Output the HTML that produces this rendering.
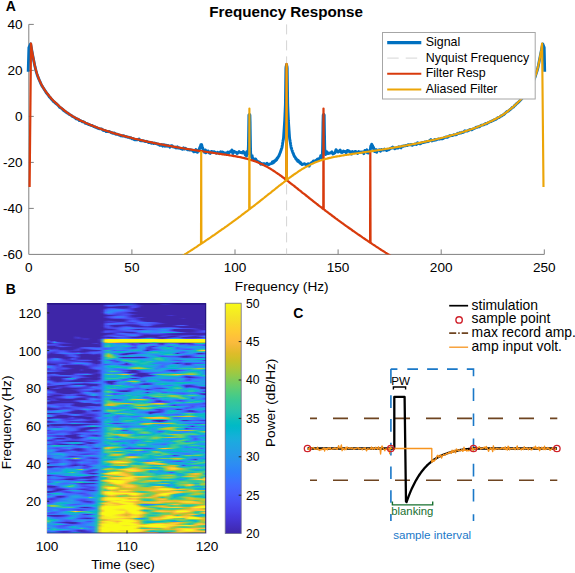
<!DOCTYPE html>
<html><head><meta charset="utf-8"><style>
html,body{margin:0;padding:0;background:#fff;}
body{width:575px;height:573px;position:relative;overflow:hidden;font-family:"Liberation Sans", sans-serif;}
</style></head><body>
<div style="position:absolute;left:47.1px;top:303.2px;width:159.2px;height:230px;overflow:hidden"><div style="height:1px;background:linear-gradient(90deg,#3e26a8 0.9%,#3e26a8 2.8%,#3e26a8 4.7%,#3e26a8 6.6%,#3e26a8 8.5%,#3e26a8 10.4%,#3e26a8 12.3%,#3e26a8 14.2%,#3e26a8 16.0%,#3e26a8 17.9%,#3e26a8 19.8%,#3e26a8 21.7%,#3e26a8 23.6%,#3e26a8 25.5%,#3e26a8 27.4%,#3e26a8 29.2%,#3e26a8 31.1%,#3e26a8 33.0%,#3e26a8 34.9%,#3e26a8 36.8%,#3e26a8 38.7%,#3e26a8 40.6%,#3e26a8 42.5%,#3f28ad 44.3%,#463ddd 46.2%,#465bf9 48.1%,#406dfe 50.0%,#3e6fff 51.9%,#4560fb 53.8%,#463edd 55.7%,#3e27aa 57.5%,#3e26a8 59.4%,#3e26a8 61.3%,#3e26a8 63.2%,#3e26a8 65.1%,#3e26a8 67.0%,#3e26a8 68.9%,#3e26a8 70.8%,#3e26a8 72.6%,#3e26a8 74.5%,#3e26a8 76.4%,#3e26a8 78.3%,#3e26a8 80.2%,#3e26a8 82.1%,#3e26a8 84.0%,#3e26a8 85.8%,#3e26a8 87.7%,#3e26a8 89.6%,#3e26a8 91.5%,#3e26a8 93.4%,#3e26a8 95.3%,#3e26a8 97.2%,#3e26a8 99.1%)"></div><div style="height:1px;background:linear-gradient(90deg,#3e26a8 0.9%,#3e26a8 2.8%,#3e26a8 4.7%,#3e26a8 6.6%,#3e26a8 8.5%,#3e26a8 10.4%,#3e26a8 12.3%,#3e26a8 14.2%,#3e26a8 16.0%,#3e26a8 17.9%,#3e26a8 19.8%,#3e26a8 21.7%,#3e26a8 23.6%,#3e26a8 25.5%,#3e26a8 27.4%,#3e26a8 29.2%,#3e26a8 31.1%,#3e26a8 33.0%,#3e26a8 34.9%,#4332c9 36.8%,#4639da 38.7%,#4538d7 40.6%,#4740e3 42.5%,#4659f8 44.3%,#3579fc 46.2%,#2c8ef1 48.1%,#2993ed 50.0%,#2c8ef1 51.9%,#347bfc 53.8%,#4755f5 55.7%,#4333cb 57.5%,#3e26a8 59.4%,#3e26a8 61.3%,#3e26a8 63.2%,#3e26a8 65.1%,#3e26a8 67.0%,#3e26a8 68.9%,#412cba 70.8%,#463bdd 72.6%,#4741e5 74.5%,#4538d8 76.4%,#422fc1 78.3%,#402ab4 80.2%,#3e27ac 82.1%,#3e26a8 84.0%,#3e26a8 85.8%,#3e26a8 87.7%,#3e26a8 89.6%,#3e26a8 91.5%,#3e26a8 93.4%,#3e26a8 95.3%,#3e26a8 97.2%,#3e26a8 99.1%)"></div><div style="height:1px;background:linear-gradient(90deg,#3e26a8 0.9%,#3e26a8 2.8%,#3e26a8 4.7%,#3e26a8 6.6%,#3e26a8 8.5%,#3e26a8 10.4%,#3e26a8 12.3%,#3e26a8 14.2%,#3e26a8 16.0%,#3e26a8 17.9%,#3e26a8 19.8%,#3e26a8 21.7%,#3e26a8 23.6%,#3e26a8 25.5%,#3e26a8 27.4%,#3e26a8 29.2%,#3e26a8 31.1%,#3e26a8 33.0%,#3e26a8 34.9%,#4748e8 36.8%,#4367fd 38.7%,#426afe 40.6%,#4563fc 42.5%,#465efb 44.3%,#475af9 46.2%,#4854f5 48.1%,#484ef1 50.0%,#484ef1 51.9%,#484df1 53.8%,#4744e8 55.7%,#4539d9 57.5%,#412ebd 59.4%,#3e26a8 61.3%,#3e26a8 63.2%,#3e26a8 65.1%,#3e26a8 67.0%,#3e26a8 68.9%,#3e26a8 70.8%,#3e26a8 72.6%,#3e26a8 74.5%,#3e26a8 76.4%,#3e26a8 78.3%,#3e26a8 80.2%,#3e26a8 82.1%,#3e26a8 84.0%,#3e26a8 85.8%,#3e26a8 87.7%,#3e26a8 89.6%,#3e26a8 91.5%,#3e26a8 93.4%,#3e26a8 95.3%,#3e26a8 97.2%,#3e26a8 99.1%)"></div><div style="height:1px;background:linear-gradient(90deg,#3e26a8 0.9%,#3e26a8 2.8%,#3e26a8 4.7%,#3e26a8 6.6%,#3e26a8 8.5%,#3e26a8 10.4%,#3e26a8 12.3%,#3e26a8 14.2%,#3e26a8 16.0%,#3e26a8 17.9%,#3e26a8 19.8%,#3e26a8 21.7%,#3e26a8 23.6%,#3e26a8 25.5%,#3e26a8 27.4%,#3e26a8 29.2%,#3e26a8 31.1%,#3e26a8 33.0%,#3e26a8 34.9%,#4332c6 36.8%,#4744e9 38.7%,#4742e6 40.6%,#4537d6 42.5%,#422ebf 44.3%,#3e27ab 46.2%,#3e26a8 48.1%,#3f29af 50.0%,#4538d5 51.9%,#484aee 53.8%,#484bef 55.7%,#463dde 57.5%,#3f2ab2 59.4%,#3e26a8 61.3%,#3e26a8 63.2%,#3e26a8 65.1%,#3e26a8 67.0%,#3e26a8 68.9%,#3e26a8 70.8%,#3e26a8 72.6%,#3e26a8 74.5%,#3e26a8 76.4%,#3e26a8 78.3%,#3e26a8 80.2%,#3e26a8 82.1%,#3e26a8 84.0%,#3e26a8 85.8%,#3e26a8 87.7%,#3e26a8 89.6%,#3e26a8 91.5%,#3e26a8 93.4%,#3e26a8 95.3%,#3e26a8 97.2%,#3e26a8 99.1%)"></div><div style="height:1px;background:linear-gradient(90deg,#3e26a8 0.9%,#3e26a8 2.8%,#3e26a8 4.7%,#3e26a8 6.6%,#3e26a8 8.5%,#3e26a8 10.4%,#3e26a8 12.3%,#3e26a8 14.2%,#3e26a8 16.0%,#3e26a8 17.9%,#3e26a8 19.8%,#3e26a8 21.7%,#3e26a8 23.6%,#3e26a8 25.5%,#3e26a8 27.4%,#3e26a8 29.2%,#3e26a8 31.1%,#3e26a8 33.0%,#3e26a8 34.9%,#3e26a8 36.8%,#3e27aa 38.7%,#3e26a8 40.6%,#3e26a8 42.5%,#3e26a8 44.3%,#3e26a8 46.2%,#3e26a8 48.1%,#3e26a8 50.0%,#4436d0 51.9%,#484ef1 53.8%,#484bef 55.7%,#4333ca 57.5%,#3e26a8 59.4%,#3e26a8 61.3%,#3e26a8 63.2%,#3e26a8 65.1%,#3e26a8 67.0%,#3e26a8 68.9%,#3e26a8 70.8%,#3e26a8 72.6%,#3e26a8 74.5%,#3e26a8 76.4%,#3e26a8 78.3%,#3e26a8 80.2%,#3e26a8 82.1%,#3e26a8 84.0%,#3e26a8 85.8%,#3e26a8 87.7%,#3e26a8 89.6%,#3e26a8 91.5%,#3e26a8 93.4%,#3e26a8 95.3%,#3e26a8 97.2%,#3e26a8 99.1%)"></div><div style="height:1px;background:linear-gradient(90deg,#3e26a8 0.9%,#3e26a8 2.8%,#3e26a8 4.7%,#3e26a8 6.6%,#3e26a8 8.5%,#3e26a8 10.4%,#3e26a8 12.3%,#3e26a8 14.2%,#3e26a8 16.0%,#3e26a8 17.9%,#3e26a8 19.8%,#3e26a8 21.7%,#3e26a8 23.6%,#3e26a8 25.5%,#3e26a8 27.4%,#3e26a8 29.2%,#3e26a8 31.1%,#3e26a8 33.0%,#3e26a8 34.9%,#422fc1 36.8%,#4749ec 38.7%,#4852f4 40.6%,#484bef 42.5%,#463ddf 44.3%,#4332ca 46.2%,#422fc1 48.1%,#4433cc 50.0%,#4639da 51.9%,#4537d6 53.8%,#3f29b1 55.7%,#3e26a8 57.5%,#3e26a8 59.4%,#3e26a8 61.3%,#3e26a8 63.2%,#3e26a8 65.1%,#3e26a8 67.0%,#3e26a8 68.9%,#3e26a8 70.8%,#3e26a8 72.6%,#3e26a8 74.5%,#3e26a8 76.4%,#3e26a8 78.3%,#3e26a8 80.2%,#3e26a8 82.1%,#3e26a8 84.0%,#3e26a8 85.8%,#3e26a8 87.7%,#3e26a8 89.6%,#3e26a8 91.5%,#3e26a8 93.4%,#3e26a8 95.3%,#3e26a8 97.2%,#3e26a8 99.1%)"></div><div style="height:1px;background:linear-gradient(90deg,#3e26a8 0.9%,#3e26a8 2.8%,#3e26a8 4.7%,#3e26a8 6.6%,#3e26a8 8.5%,#3e26a8 10.4%,#3e26a8 12.3%,#3e26a8 14.2%,#3e26a8 16.0%,#3e26a8 17.9%,#3e26a8 19.8%,#3e26a8 21.7%,#3e26a8 23.6%,#3e26a8 25.5%,#3e26a8 27.4%,#3e26a8 29.2%,#3e26a8 31.1%,#3e26a8 33.0%,#3f28ad 34.9%,#474bed 36.8%,#4466fd 38.7%,#3e6fff 40.6%,#3a74fe 42.5%,#3876fe 44.3%,#3c71fe 46.2%,#4465fd 48.1%,#4756f6 50.0%,#4746ea 51.9%,#4333cc 53.8%,#3e26a8 55.7%,#3e26a8 57.5%,#3e26a8 59.4%,#3e26a8 61.3%,#3e26a8 63.2%,#3e26a8 65.1%,#3e26a8 67.0%,#3e26a8 68.9%,#3e26a8 70.8%,#3e26a8 72.6%,#3e26a8 74.5%,#3e26a8 76.4%,#3e26a8 78.3%,#3e26a8 80.2%,#3e26a8 82.1%,#3e26a8 84.0%,#3e26a8 85.8%,#3e26a8 87.7%,#3e26a8 89.6%,#3e26a8 91.5%,#3e26a8 93.4%,#3e26a8 95.3%,#3e26a8 97.2%,#3e26a8 99.1%)"></div><div style="height:1px;background:linear-gradient(90deg,#3e26a8 0.9%,#3e26a8 2.8%,#3e26a8 4.7%,#3e26a8 6.6%,#3e26a8 8.5%,#3e26a8 10.4%,#3e26a8 12.3%,#3e26a8 14.2%,#3e26a8 16.0%,#3e26a8 17.9%,#3e26a8 19.8%,#3e26a8 21.7%,#3e26a8 23.6%,#3e26a8 25.5%,#3e26a8 27.4%,#3e26a8 29.2%,#3e26a8 31.1%,#3e26a8 33.0%,#402bb5 34.9%,#445ef9 36.8%,#347afd 38.7%,#2f81fa 40.6%,#2e86f8 42.5%,#2d89f6 44.3%,#2e86f7 46.2%,#3678fd 48.1%,#4463fc 50.0%,#484ff1 51.9%,#453ad8 53.8%,#3e28ad 55.7%,#3e26a8 57.5%,#3e26a8 59.4%,#3e26a8 61.3%,#3e26a8 63.2%,#3e26a8 65.1%,#3e26a8 67.0%,#3e26a8 68.9%,#3e26a8 70.8%,#3e26a8 72.6%,#3e26a8 74.5%,#3e26a8 76.4%,#3e26a8 78.3%,#3e26a8 80.2%,#3e26a8 82.1%,#3e26a8 84.0%,#3e26a8 85.8%,#3e26a8 87.7%,#3e26a8 89.6%,#3e26a8 91.5%,#3e26a8 93.4%,#3e26a8 95.3%,#3e26a8 97.2%,#3e26a8 99.1%)"></div><div style="height:1px;background:linear-gradient(90deg,#3e26a8 0.9%,#3e26a8 2.8%,#3e26a8 4.7%,#3e26a8 6.6%,#3e26a8 8.5%,#3e26a8 10.4%,#3e26a8 12.3%,#3e26a8 14.2%,#3e26a8 16.0%,#3e26a8 17.9%,#3e26a8 19.8%,#3e26a8 21.7%,#3e26a8 23.6%,#3e26a8 25.5%,#3e26a8 27.4%,#3e26a8 29.2%,#3e26a8 31.1%,#3e26a8 33.0%,#402bb5 34.9%,#4263fa 36.8%,#2e85f8 38.7%,#2d89f6 40.6%,#3080fa 42.5%,#3a74fe 44.3%,#4269fe 46.2%,#465ffb 48.1%,#4755f6 50.0%,#484ef1 51.9%,#4744e8 53.8%,#4333cb 55.7%,#3e27aa 57.5%,#3e26a8 59.4%,#3e26a8 61.3%,#3e26a8 63.2%,#3e26a8 65.1%,#3e26a8 67.0%,#3e26a8 68.9%,#3e26a8 70.8%,#3e26a8 72.6%,#3e26a8 74.5%,#3e26a8 76.4%,#3e26a8 78.3%,#3e26a8 80.2%,#3e26a8 82.1%,#3e26a8 84.0%,#3e26a8 85.8%,#3e26a8 87.7%,#3e26a8 89.6%,#3e26a8 91.5%,#3e26a8 93.4%,#3e26a8 95.3%,#3e26a8 97.2%,#3e26a8 99.1%)"></div><div style="height:1px;background:linear-gradient(90deg,#3e26a8 0.9%,#3e26a8 2.8%,#3e26a8 4.7%,#3e26a8 6.6%,#3e26a8 8.5%,#3e26a8 10.4%,#3e26a8 12.3%,#3e26a8 14.2%,#3e26a8 16.0%,#3e26a8 17.9%,#3e26a8 19.8%,#3e26a8 21.7%,#3e26a8 23.6%,#3e26a8 25.5%,#3e26a8 27.4%,#3e26a8 29.2%,#3e26a8 31.1%,#3e26a8 33.0%,#412fbd 34.9%,#3777fa 36.8%,#2c90f0 38.7%,#2f83f8 40.6%,#406bfe 42.5%,#475af9 44.3%,#4851f3 46.2%,#4849ed 48.1%,#463bdb 50.0%,#402cb8 51.9%,#3e26a8 53.8%,#3e26a8 55.7%,#3e26a8 57.5%,#3e26a8 59.4%,#3e26a8 61.3%,#3e26a8 63.2%,#3e26a8 65.1%,#3e26a8 67.0%,#3e26a8 68.9%,#3e26a8 70.8%,#3e26a8 72.6%,#3e26a8 74.5%,#3e26a8 76.4%,#3e26a8 78.3%,#3e26a8 80.2%,#3e26a8 82.1%,#3e26a8 84.0%,#3e26a8 85.8%,#3e26a8 87.7%,#3e26a8 89.6%,#3e26a8 91.5%,#3e26a8 93.4%,#3e26a8 95.3%,#3e26a8 97.2%,#3e26a8 99.1%)"></div><div style="height:1px;background:linear-gradient(90deg,#3e26a8 0.9%,#3e26a8 2.8%,#3e26a8 4.7%,#3e26a8 6.6%,#3e26a8 8.5%,#3e26a8 10.4%,#3e26a8 12.3%,#3e26a8 14.2%,#3e26a8 16.0%,#3e26a8 17.9%,#3e26a8 19.8%,#3e26a8 21.7%,#3e26a8 23.6%,#3e26a8 25.5%,#3e26a8 27.4%,#3e26a8 29.2%,#3e26a8 31.1%,#3e26a8 33.0%,#3f29b1 34.9%,#445bf7 36.8%,#337bfd 38.7%,#3d70fe 40.6%,#4758f7 42.5%,#4848ec 44.3%,#4746ea 46.2%,#4747eb 48.1%,#4742e6 50.0%,#4536d3 51.9%,#3f29b1 53.8%,#3e26a8 55.7%,#3e26a8 57.5%,#3e26a8 59.4%,#3e26a8 61.3%,#3e26a8 63.2%,#3e26a8 65.1%,#3e26a8 67.0%,#3e26a8 68.9%,#3e26a8 70.8%,#3e26a8 72.6%,#3e26a8 74.5%,#3e26a8 76.4%,#3e26a8 78.3%,#3e26a8 80.2%,#3e26a8 82.1%,#3e26a8 84.0%,#3e26a8 85.8%,#3e26a8 87.7%,#3e26a8 89.6%,#3e26a8 91.5%,#3e26a8 93.4%,#3e26a8 95.3%,#3e26a8 97.2%,#3e26a8 99.1%)"></div><div style="height:1px;background:linear-gradient(90deg,#3e26a8 0.9%,#3e26a8 2.8%,#3e26a8 4.7%,#3e26a8 6.6%,#3e26a8 8.5%,#3e26a8 10.4%,#3e26a8 12.3%,#3e26a8 14.2%,#3e26a8 16.0%,#3e26a8 17.9%,#3e26a8 19.8%,#3e26a8 21.7%,#3e26a8 23.6%,#3e26a8 25.5%,#3e26a8 27.4%,#3e26a8 29.2%,#3e26a8 31.1%,#3e26a8 33.0%,#3e26a8 34.9%,#4435cd 36.8%,#4851f3 38.7%,#4851f3 40.6%,#4745e9 42.5%,#473fe2 44.3%,#4744e8 46.2%,#484df0 48.1%,#4850f2 50.0%,#4849ed 51.9%,#463cde 53.8%,#422ebf 55.7%,#3e27ac 57.5%,#3e26a8 59.4%,#3e26a8 61.3%,#3e26a8 63.2%,#3e26a8 65.1%,#3e26a8 67.0%,#3e26a8 68.9%,#3e26a8 70.8%,#3e26a8 72.6%,#3e26a8 74.5%,#3e26a8 76.4%,#3e26a8 78.3%,#3e26a8 80.2%,#3e26a8 82.1%,#3e26a8 84.0%,#3e26a8 85.8%,#3e26a8 87.7%,#3e26a8 89.6%,#3e26a8 91.5%,#3e26a8 93.4%,#3e26a8 95.3%,#3e26a8 97.2%,#3e26a8 99.1%)"></div><div style="height:1px;background:linear-gradient(90deg,#3e26a8 0.9%,#3e26a8 2.8%,#3e26a8 4.7%,#3e26a8 6.6%,#3e26a8 8.5%,#3e26a8 10.4%,#3e26a8 12.3%,#3e26a8 14.2%,#3e26a8 16.0%,#3e26a8 17.9%,#3e26a8 19.8%,#3e26a8 21.7%,#3e26a8 23.6%,#3e26a8 25.5%,#3e26a8 27.4%,#3e26a8 29.2%,#3e26a8 31.1%,#3e26a8 33.0%,#3e26a8 34.9%,#3e26a8 36.8%,#3e27a9 38.7%,#402bb6 40.6%,#4434cf 42.5%,#4741e5 44.3%,#484cf0 46.2%,#484ff2 48.1%,#4747eb 50.0%,#4539d8 51.9%,#3f2ab2 53.8%,#3e26a8 55.7%,#3e26a8 57.5%,#3e26a8 59.4%,#3e26a8 61.3%,#3e26a8 63.2%,#3e26a8 65.1%,#3e26a8 67.0%,#3e26a8 68.9%,#3e26a8 70.8%,#3e26a8 72.6%,#3e27aa 74.5%,#422fc2 76.4%,#4433cd 78.3%,#402ab4 80.2%,#3e26a8 82.1%,#3e26a8 84.0%,#3e26a8 85.8%,#3e26a8 87.7%,#3e26a8 89.6%,#3e26a8 91.5%,#3e26a8 93.4%,#3e26a8 95.3%,#3e26a8 97.2%,#3e26a8 99.1%)"></div><div style="height:1px;background:linear-gradient(90deg,#3e26a8 0.9%,#3e26a8 2.8%,#3e26a8 4.7%,#3e26a8 6.6%,#3e26a8 8.5%,#3e26a8 10.4%,#3e26a8 12.3%,#3e26a8 14.2%,#3e26a8 16.0%,#3e26a8 17.9%,#3e26a8 19.8%,#3e26a8 21.7%,#3e26a8 23.6%,#3e26a8 25.5%,#3e26a8 27.4%,#3e26a8 29.2%,#3e26a8 31.1%,#3e26a8 33.0%,#3e26a8 34.9%,#4230c4 36.8%,#4740e3 38.7%,#484df0 40.6%,#465ffb 42.5%,#3e6ffe 44.3%,#3974fe 46.2%,#4269fe 48.1%,#4752f3 50.0%,#453ada 51.9%,#402bb8 53.8%,#3e26a8 55.7%,#3e26a8 57.5%,#3e26a8 59.4%,#3e26a8 61.3%,#3e26a8 63.2%,#3e26a8 65.1%,#3e26a8 67.0%,#3e26a8 68.9%,#3e26a8 70.8%,#3e26a8 72.6%,#3e26a8 74.5%,#3e26a8 76.4%,#3e26a8 78.3%,#3e26a8 80.2%,#3e26a8 82.1%,#3e26a8 84.0%,#3e26a8 85.8%,#3e26a8 87.7%,#3e26a8 89.6%,#3e26a8 91.5%,#3e26a8 93.4%,#3e26a8 95.3%,#3e26a8 97.2%,#3e26a8 99.1%)"></div><div style="height:1px;background:linear-gradient(90deg,#3e26a8 0.9%,#3e26a8 2.8%,#3e26a8 4.7%,#3e26a8 6.6%,#3e26a8 8.5%,#3e26a8 10.4%,#3e26a8 12.3%,#3e26a8 14.2%,#3e26a8 16.0%,#3e26a8 17.9%,#3e26a8 19.8%,#3e26a8 21.7%,#3e26a8 23.6%,#3e26a8 25.5%,#3e26a8 27.4%,#3e26a8 29.2%,#3e26a8 31.1%,#3e26a8 33.0%,#3e26a8 34.9%,#4333ca 36.8%,#4747ea 38.7%,#4758f7 40.6%,#4268fe 42.5%,#3a74fe 44.3%,#3875fe 46.2%,#416bfe 48.1%,#4757f7 50.0%,#4743e7 51.9%,#4537d6 53.8%,#4433cc 55.7%,#4537d6 57.5%,#4538d7 59.4%,#402bb5 61.3%,#3e26a8 63.2%,#3e26a8 65.1%,#3e26a8 67.0%,#3e26a8 68.9%,#3e26a8 70.8%,#3e26a8 72.6%,#3e26a8 74.5%,#3e26a8 76.4%,#3e26a8 78.3%,#3e26a8 80.2%,#3e26a8 82.1%,#3e26a8 84.0%,#3e26a8 85.8%,#3e26a8 87.7%,#3e26a8 89.6%,#3e26a8 91.5%,#3e26a8 93.4%,#3e26a8 95.3%,#3e26a8 97.2%,#3e26a8 99.1%)"></div><div style="height:1px;background:linear-gradient(90deg,#3e26a8 0.9%,#3e26a8 2.8%,#3e26a8 4.7%,#3e26a8 6.6%,#3e26a8 8.5%,#3e26a8 10.4%,#3e26a8 12.3%,#3e26a8 14.2%,#3e26a8 16.0%,#3e26a8 17.9%,#3e26a8 19.8%,#3e26a8 21.7%,#3e26a8 23.6%,#3e26a8 25.5%,#3e26a8 27.4%,#3e26a8 29.2%,#3e26a8 31.1%,#3e26a8 33.0%,#3e26a8 34.9%,#3e27ab 36.8%,#422fc1 38.7%,#463bdc 40.6%,#4747eb 42.5%,#484aee 44.3%,#484bef 46.2%,#484ef1 48.1%,#4851f4 50.0%,#4851f4 51.9%,#484bef 53.8%,#463ddf 55.7%,#4230c3 57.5%,#3e26a8 59.4%,#3e26a8 61.3%,#3e26a8 63.2%,#3e26a8 65.1%,#3e26a8 67.0%,#3e26a8 68.9%,#3e26a8 70.8%,#3e26a8 72.6%,#3e26a8 74.5%,#3e26a8 76.4%,#3e26a8 78.3%,#3e26a8 80.2%,#3e26a8 82.1%,#3f28ae 84.0%,#422ebf 85.8%,#3e27a9 87.7%,#3e26a8 89.6%,#3e26a8 91.5%,#3e26a8 93.4%,#3e26a8 95.3%,#3e26a8 97.2%,#3e26a8 99.1%)"></div><div style="height:1px;background:linear-gradient(90deg,#3e26a8 0.9%,#3e26a8 2.8%,#3e26a8 4.7%,#3e26a8 6.6%,#3e26a8 8.5%,#3e26a8 10.4%,#3e26a8 12.3%,#3e26a8 14.2%,#3e26a8 16.0%,#3e26a8 17.9%,#3e26a8 19.8%,#3e26a8 21.7%,#3e26a8 23.6%,#3e26a8 25.5%,#3e26a8 27.4%,#3e26a8 29.2%,#3e26a8 31.1%,#3e26a8 33.0%,#3e26a8 34.9%,#3e26a8 36.8%,#3e26a8 38.7%,#3e26a8 40.6%,#3e26a8 42.5%,#3e26a8 44.3%,#3e26a8 46.2%,#402bb7 48.1%,#4435d0 50.0%,#4741e5 51.9%,#4849ed 53.8%,#4741e5 55.7%,#4433cc 57.5%,#3e27ab 59.4%,#3e26a8 61.3%,#3e26a8 63.2%,#3e26a8 65.1%,#3e26a8 67.0%,#3e26a8 68.9%,#3e26a8 70.8%,#3e26a8 72.6%,#3e26a8 74.5%,#3e26a8 76.4%,#3e26a8 78.3%,#3e26a8 80.2%,#3e26a8 82.1%,#3e26a8 84.0%,#3e26a8 85.8%,#3e26a8 87.7%,#3e26a8 89.6%,#3e26a8 91.5%,#3e26a8 93.4%,#3e26a8 95.3%,#3e26a8 97.2%,#3e26a8 99.1%)"></div><div style="height:1px;background:linear-gradient(90deg,#3e26a8 0.9%,#3e26a8 2.8%,#3e26a8 4.7%,#3e26a8 6.6%,#3e26a8 8.5%,#3e26a8 10.4%,#3e26a8 12.3%,#3e26a8 14.2%,#3e26a8 16.0%,#3e26a8 17.9%,#3e26a8 19.8%,#3e26a8 21.7%,#3e26a8 23.6%,#3e26a8 25.5%,#3e26a8 27.4%,#3e26a8 29.2%,#3e26a8 31.1%,#3e26a8 33.0%,#3e26a8 34.9%,#3e28ac 36.8%,#412cb9 38.7%,#3f29b1 40.6%,#3e26a8 42.5%,#3e26a8 44.3%,#3e26a8 46.2%,#3e27aa 48.1%,#4434cd 50.0%,#474cef 51.9%,#475af9 53.8%,#4852f4 55.7%,#4741e4 57.5%,#412ebf 59.4%,#3e26a8 61.3%,#3e26a8 63.2%,#3e26a8 65.1%,#3e26a8 67.0%,#3e26a8 68.9%,#3e26a8 70.8%,#3e26a8 72.6%,#3e26a8 74.5%,#3e26a8 76.4%,#3e26a8 78.3%,#3e26a8 80.2%,#3e26a8 82.1%,#3e26a8 84.0%,#3e26a8 85.8%,#3e26a8 87.7%,#3e26a8 89.6%,#3e26a8 91.5%,#3e26a8 93.4%,#3e26a8 95.3%,#3e26a8 97.2%,#3e26a8 99.1%)"></div><div style="height:1px;background:linear-gradient(90deg,#3e26a8 0.9%,#3e26a8 2.8%,#3e26a8 4.7%,#3e26a8 6.6%,#3e26a8 8.5%,#3e26a8 10.4%,#3e26a8 12.3%,#3e26a8 14.2%,#3e26a8 16.0%,#3e26a8 17.9%,#3e26a8 19.8%,#3e26a8 21.7%,#3e26a8 23.6%,#3e26a8 25.5%,#3e26a8 27.4%,#3e26a8 29.2%,#3e26a8 31.1%,#3e26a8 33.0%,#3e26a8 34.9%,#4230c4 36.8%,#463ada 38.7%,#463adb 40.6%,#4434cf 42.5%,#412dbb 44.3%,#3f29b0 46.2%,#412ebe 48.1%,#463dde 50.0%,#4753f4 51.9%,#4661fc 53.8%,#465dfa 55.7%,#4754f5 57.5%,#4746ea 59.4%,#4332c9 61.3%,#3e27aa 63.2%,#3e26a8 65.1%,#3e26a8 67.0%,#3e26a8 68.9%,#3e26a8 70.8%,#3e26a8 72.6%,#3e26a8 74.5%,#3e26a8 76.4%,#3e26a8 78.3%,#3e26a8 80.2%,#3e26a8 82.1%,#3e26a8 84.0%,#3e26a8 85.8%,#3e26a8 87.7%,#3e26a8 89.6%,#3e26a8 91.5%,#3e26a8 93.4%,#3e26a8 95.3%,#3e26a8 97.2%,#3e26a8 99.1%)"></div><div style="height:1px;background:linear-gradient(90deg,#3e26a8 0.9%,#3e26a8 2.8%,#3e26a8 4.7%,#3e26a8 6.6%,#3e26a8 8.5%,#3e26a8 10.4%,#3e26a8 12.3%,#3e26a8 14.2%,#3e26a8 16.0%,#3e26a8 17.9%,#3e26a8 19.8%,#3e26a8 21.7%,#3e26a8 23.6%,#3e26a8 25.5%,#3e26a8 27.4%,#3e26a8 29.2%,#3e26a8 31.1%,#3e26a8 33.0%,#3e26a8 34.9%,#422fc3 36.8%,#4332ca 38.7%,#4435d0 40.6%,#463fe1 42.5%,#484df0 44.3%,#4756f6 46.2%,#4852f4 48.1%,#4744e8 50.0%,#4639da 51.9%,#463cde 53.8%,#474cef 55.7%,#4366fd 57.5%,#3876fe 59.4%,#3b72fe 61.3%,#4269fe 63.2%,#4561fc 65.1%,#4753f5 67.0%,#4740e2 68.9%,#412dbc 70.8%,#3e26a8 72.6%,#3e26a8 74.5%,#3e26a8 76.4%,#3e26a8 78.3%,#3e26a8 80.2%,#3e26a8 82.1%,#3e26a8 84.0%,#3e26a8 85.8%,#3e26a8 87.7%,#3e26a8 89.6%,#3e26a8 91.5%,#3e26a8 93.4%,#3e26a8 95.3%,#3e26a8 97.2%,#3e26a8 99.1%)"></div><div style="height:1px;background:linear-gradient(90deg,#3e26a8 0.9%,#3e26a8 2.8%,#3e26a8 4.7%,#3e26a8 6.6%,#3e26a8 8.5%,#3e26a8 10.4%,#3e26a8 12.3%,#3e26a8 14.2%,#3e26a8 16.0%,#3e26a8 17.9%,#3e26a8 19.8%,#3e26a8 21.7%,#3e26a8 23.6%,#3e26a8 25.5%,#3e26a8 27.4%,#3e26a8 29.2%,#3e26a8 31.1%,#3e26a8 33.0%,#3e27ab 34.9%,#4746e8 36.8%,#4562fc 38.7%,#406cfe 40.6%,#3d71ff 42.5%,#3c71ff 44.3%,#406cfe 46.2%,#4660fb 48.1%,#4851f3 50.0%,#4848ec 51.9%,#484aed 53.8%,#4851f3 55.7%,#465dfa 57.5%,#4368fd 59.4%,#4367fd 61.3%,#4561fc 63.2%,#4759f8 65.1%,#4851f3 67.0%,#4849ed 68.9%,#4741e4 70.8%,#4436d2 72.6%,#3f29b1 74.5%,#3e26a8 76.4%,#3e26a8 78.3%,#3e26a8 80.2%,#3e26a8 82.1%,#3e26a8 84.0%,#3e26a8 85.8%,#3e26a8 87.7%,#3e26a8 89.6%,#3e26a8 91.5%,#3e26a8 93.4%,#3e27aa 95.3%,#3e26a8 97.2%,#3e26a8 99.1%)"></div><div style="height:1px;background:linear-gradient(90deg,#3e26a8 0.9%,#3e26a8 2.8%,#3e26a8 4.7%,#3e26a8 6.6%,#3e26a8 8.5%,#3e26a8 10.4%,#3e26a8 12.3%,#3e26a8 14.2%,#3e26a8 16.0%,#3e26a8 17.9%,#3e26a8 19.8%,#3e26a8 21.7%,#3e26a8 23.6%,#3e26a8 25.5%,#3e26a8 27.4%,#3e26a8 29.2%,#3e26a8 31.1%,#3e26a8 33.0%,#3f28ae 34.9%,#474ff0 36.8%,#4368fe 38.7%,#4465fd 40.6%,#475af9 42.5%,#4851f3 44.3%,#4849ed 46.2%,#4740e3 48.1%,#4435d0 50.0%,#422fc2 51.9%,#4330c4 53.8%,#4536d4 55.7%,#4746ea 57.5%,#4757f7 59.4%,#4660fb 61.3%,#465efb 63.2%,#4853f4 65.1%,#4741e5 67.0%,#4434ce 68.9%,#412cba 70.8%,#3e27aa 72.6%,#3e26a8 74.5%,#3e26a8 76.4%,#3e26a8 78.3%,#3e26a8 80.2%,#3e26a8 82.1%,#3e26a8 84.0%,#3e26a8 85.8%,#3e26a8 87.7%,#3e26a8 89.6%,#3e26a8 91.5%,#3e26a8 93.4%,#3f29af 95.3%,#402ab5 97.2%,#3e26a9 99.1%)"></div><div style="height:1px;background:linear-gradient(90deg,#3e26a8 0.9%,#3e26a8 2.8%,#3e26a8 4.7%,#3e26a8 6.6%,#3e26a8 8.5%,#3e26a8 10.4%,#3e26a8 12.3%,#3e26a8 14.2%,#3e26a8 16.0%,#3e26a8 17.9%,#3e26a8 19.8%,#3e26a8 21.7%,#3e26a8 23.6%,#3e26a8 25.5%,#3e26a8 27.4%,#3e26a8 29.2%,#3e26a8 31.1%,#3e26a8 33.0%,#3f29af 34.9%,#4746e9 36.8%,#4743e6 38.7%,#402ab3 40.6%,#3e26a8 42.5%,#3e26a8 44.3%,#3e26a8 46.2%,#3e26a8 48.1%,#3e26a8 50.0%,#3e26a8 51.9%,#3e26a8 53.8%,#3e26a8 55.7%,#402bb7 57.5%,#4747ea 59.4%,#465efb 61.3%,#4563fc 63.2%,#4752f3 65.1%,#4230c3 67.0%,#3e26a8 68.9%,#3e26a8 70.8%,#3e26a8 72.6%,#3e26a8 74.5%,#3e26a8 76.4%,#3e26a8 78.3%,#422fc0 80.2%,#474def 82.1%,#4660fb 84.0%,#475af9 85.8%,#463ddb 87.7%,#3e27a9 89.6%,#3e26a8 91.5%,#3e26a8 93.4%,#3e26a8 95.3%,#3e26a8 97.2%,#3e26a8 99.1%)"></div><div style="height:1px;background:linear-gradient(90deg,#3e26a8 0.9%,#3e26a8 2.8%,#3e26a8 4.7%,#3e26a8 6.6%,#3e26a8 8.5%,#3e26a8 10.4%,#3e26a8 12.3%,#3e26a8 14.2%,#3e26a8 16.0%,#3e26a8 17.9%,#3e26a8 19.8%,#3e26a8 21.7%,#3e26a8 23.6%,#3e26a8 25.5%,#3e26a8 27.4%,#3e26a8 29.2%,#3e26a8 31.1%,#3e26a8 33.0%,#3f29b1 34.9%,#474df0 36.8%,#4850f2 38.7%,#4437d3 40.6%,#3e28ac 42.5%,#3e27ab 44.3%,#4332c8 46.2%,#4741e5 48.1%,#4848ec 50.0%,#463ddf 51.9%,#402bb6 53.8%,#3e26a8 55.7%,#3e26a8 57.5%,#3e27ab 59.4%,#4230c4 61.3%,#4433cb 63.2%,#402ab5 65.1%,#3e26a8 67.0%,#3e26a8 68.9%,#3e26a8 70.8%,#3e26a8 72.6%,#3e26a8 74.5%,#3e26a8 76.4%,#3e26a8 78.3%,#3e26a8 80.2%,#3e26a8 82.1%,#3e26a8 84.0%,#3e26a8 85.8%,#3e26a8 87.7%,#3e26a8 89.6%,#3e26a8 91.5%,#3e26a8 93.4%,#3e26a8 95.3%,#3e26a8 97.2%,#3e26a8 99.1%)"></div><div style="height:1px;background:linear-gradient(90deg,#3e26a8 0.9%,#3e26a8 2.8%,#3e26a8 4.7%,#3e26a8 6.6%,#3e26a8 8.5%,#3e26a8 10.4%,#3e26a8 12.3%,#3e26a8 14.2%,#3e26a8 16.0%,#3e26a8 17.9%,#3e26a8 19.8%,#3e26a8 21.7%,#3e26a8 23.6%,#3e26a8 25.5%,#3e26a8 27.4%,#3e26a8 29.2%,#3e26a8 31.1%,#3e26a8 33.0%,#3e26a8 34.9%,#4640e1 36.8%,#484ff2 38.7%,#4747eb 40.6%,#473fe3 42.5%,#4742e5 44.3%,#484ff2 46.2%,#4561fc 48.1%,#3f6efe 50.0%,#406dfe 51.9%,#465efa 53.8%,#484bef 55.7%,#4742e6 57.5%,#4742e6 59.4%,#4742e6 61.3%,#4741e4 63.2%,#463de0 65.1%,#4538d8 67.0%,#4537d5 68.9%,#463adb 70.8%,#4742e5 72.6%,#4849ed 74.5%,#484ff2 76.4%,#484ff2 78.3%,#4747eb 80.2%,#4538d6 82.1%,#402ab3 84.0%,#3e26a8 85.8%,#3e26a8 87.7%,#3e26a8 89.6%,#3e26a8 91.5%,#3e26a8 93.4%,#3e26a8 95.3%,#3e26a8 97.2%,#3e27a9 99.1%)"></div><div style="height:1px;background:linear-gradient(90deg,#3e26a8 0.9%,#3e26a8 2.8%,#3e26a8 4.7%,#3e26a8 6.6%,#3e26a8 8.5%,#3e26a8 10.4%,#3e26a8 12.3%,#3e26a8 14.2%,#3e26a8 16.0%,#3e26a8 17.9%,#3e26a8 19.8%,#3e26a8 21.7%,#3e26a8 23.6%,#3e26a8 25.5%,#3e26a8 27.4%,#3e26a8 29.2%,#3e26a8 31.1%,#3e26a8 33.0%,#3e26a8 34.9%,#422fc0 36.8%,#473fe2 38.7%,#4746eb 40.6%,#484df0 42.5%,#4755f6 44.3%,#4561fc 46.2%,#3f6efe 48.1%,#3678fd 50.0%,#337bfc 51.9%,#3678fe 53.8%,#3d70ff 55.7%,#4269fe 57.5%,#4562fc 59.4%,#475dfa 61.3%,#465dfa 63.2%,#4661fc 65.1%,#4464fd 67.0%,#4368fe 68.9%,#406dfe 70.8%,#3c72ff 72.6%,#3876fe 74.5%,#347afd 76.4%,#327dfc 78.3%,#3678fd 80.2%,#426afe 82.1%,#4759f8 84.0%,#484df0 85.8%,#4848ec 87.7%,#4745e9 89.6%,#463de0 91.5%,#4332c8 93.4%,#3f28af 95.3%,#3e26a8 97.2%,#3f29b0 99.1%)"></div><div style="height:1px;background:linear-gradient(90deg,#3e26a8 0.9%,#3e26a8 2.8%,#3e26a8 4.7%,#3e26a8 6.6%,#3e26a8 8.5%,#3e26a8 10.4%,#3e26a8 12.3%,#3e26a8 14.2%,#3e26a8 16.0%,#3e26a8 17.9%,#3e26a8 19.8%,#3e26a8 21.7%,#3e26a8 23.6%,#3e26a8 25.5%,#3e26a8 27.4%,#3e26a8 29.2%,#3e26a8 31.1%,#3e26a8 33.0%,#3e26a8 34.9%,#3e26a8 36.8%,#3e26a8 38.7%,#3e26a8 40.6%,#4230c5 42.5%,#4749ec 44.3%,#4561fb 46.2%,#426afe 48.1%,#4465fd 50.0%,#4757f7 51.9%,#4743e6 53.8%,#422fc2 55.7%,#3e27a9 57.5%,#402bb6 59.4%,#463dde 61.3%,#4852f4 63.2%,#475bfa 65.1%,#475cfa 67.0%,#4464fd 68.9%,#337cfb 70.8%,#2a92ee 72.6%,#2895ec 74.5%,#357bfb 76.4%,#4749ea 78.3%,#3f28ae 80.2%,#3e26a8 82.1%,#3e26a8 84.0%,#3e26a8 85.8%,#3e26a8 87.7%,#3e26a8 89.6%,#412cb9 91.5%,#4433cc 93.4%,#4331c5 95.3%,#3f29af 97.2%,#3e26a8 99.1%)"></div><div style="height:1px;background:linear-gradient(90deg,#3e26a8 0.9%,#3e26a8 2.8%,#3e26a8 4.7%,#3e26a8 6.6%,#3e26a8 8.5%,#3e26a8 10.4%,#3e26a8 12.3%,#3e26a8 14.2%,#3e26a8 16.0%,#3e26a8 17.9%,#3e26a8 19.8%,#3e26a8 21.7%,#3e26a8 23.6%,#3e26a8 25.5%,#3e26a8 27.4%,#3e26a8 29.2%,#3e26a8 31.1%,#3e26a8 33.0%,#3f28ae 34.9%,#463bdc 36.8%,#4741e4 38.7%,#473fe2 40.6%,#473fe3 42.5%,#4744e8 44.3%,#484df0 46.2%,#4757f7 48.1%,#4660fc 50.0%,#4466fd 51.9%,#4465fd 53.8%,#4561fc 55.7%,#4464fd 57.5%,#3b72fe 59.4%,#2f83f9 61.3%,#2d89f5 63.2%,#2e83f9 65.1%,#3578fd 67.0%,#3974fe 68.9%,#337bfc 70.8%,#2e83f9 72.6%,#307ffb 74.5%,#4365fc 76.4%,#453ddb 78.3%,#3e26a8 80.2%,#3e26a8 82.1%,#3e26a8 84.0%,#3e26a8 85.8%,#3e26a8 87.7%,#3e26a8 89.6%,#3e27ab 91.5%,#412ebe 93.4%,#4434cf 95.3%,#463ddf 97.2%,#4849ed 99.1%)"></div><div style="height:1px;background:linear-gradient(90deg,#3e26a8 0.9%,#3e26a8 2.8%,#3e26a8 4.7%,#3e26a8 6.6%,#3e26a8 8.5%,#3e26a8 10.4%,#3e26a8 12.3%,#3e26a8 14.2%,#3e26a8 16.0%,#3e26a8 17.9%,#3e26a8 19.8%,#3e26a8 21.7%,#3e26a8 23.6%,#3e26a8 25.5%,#3e26a8 27.4%,#3e26a8 29.2%,#3e26a8 31.1%,#3e26a8 33.0%,#412fbf 34.9%,#4850f2 36.8%,#4854f5 38.7%,#484ff2 40.6%,#4747eb 42.5%,#4740e3 44.3%,#463cdf 46.2%,#473fe2 48.1%,#4746ea 50.0%,#484ef1 51.9%,#4757f7 53.8%,#4366fd 55.7%,#327efb 57.5%,#2895ec 59.4%,#23a1e4 61.3%,#249ee6 63.2%,#2a92ee 65.1%,#2e85f8 67.0%,#2f81fa 68.9%,#2e86f7 70.8%,#2c8ef1 72.6%,#2c8ef2 74.5%,#3081fa 76.4%,#4169fd 78.3%,#474ef0 80.2%,#4434ce 82.1%,#3e27ab 84.0%,#3e26a8 85.8%,#3e26a8 87.7%,#3e26a8 89.6%,#3f29b0 91.5%,#422fc2 93.4%,#4539d9 95.3%,#474aed 97.2%,#465cfa 99.1%)"></div><div style="height:1px;background:linear-gradient(90deg,#3e26a8 0.9%,#3e26a8 2.8%,#3e26a8 4.7%,#3e26a8 6.6%,#3e26a8 8.5%,#3e26a8 10.4%,#3e26a8 12.3%,#3e26a8 14.2%,#3e26a8 16.0%,#3e26a8 17.9%,#3e26a8 19.8%,#3e26a8 21.7%,#3e26a8 23.6%,#3e26a8 25.5%,#3e26a8 27.4%,#3e26a8 29.2%,#3e26a8 31.1%,#3e26a8 33.0%,#4233c6 34.9%,#484ef1 36.8%,#4849ed 38.7%,#4741e5 40.6%,#473fe2 42.5%,#463ee1 44.3%,#4539d8 46.2%,#4230c3 48.1%,#3e27ab 50.0%,#3e26a8 51.9%,#3e27aa 53.8%,#4436d1 55.7%,#465bf8 57.5%,#3280fa 59.4%,#2b91ef 61.3%,#2b90f0 63.2%,#2e85f8 65.1%,#327cfc 67.0%,#2f82f9 68.9%,#2895ec 70.8%,#1ea7e0 72.6%,#14b0d8 74.5%,#11b1d6 76.4%,#16afd9 78.3%,#1ea7e1 80.2%,#2993ee 82.1%,#3d6efd 84.0%,#4748eb 85.8%,#4332c9 87.7%,#412cba 89.6%,#422fc2 91.5%,#4434cf 93.4%,#463bdc 95.3%,#4741e5 97.2%,#4745e9 99.1%)"></div><div style="height:1px;background:linear-gradient(90deg,#3e26a8 0.9%,#3e26a8 2.8%,#3e26a8 4.7%,#3e26a8 6.6%,#3e26a8 8.5%,#3e26a8 10.4%,#3e26a8 12.3%,#3e26a8 14.2%,#3e26a8 16.0%,#3e26a8 17.9%,#3e26a8 19.8%,#3e26a8 21.7%,#3e26a8 23.6%,#3e26a8 25.5%,#3e26a8 27.4%,#3e26a8 29.2%,#3e26a8 31.1%,#3e26a8 33.0%,#3e26a8 34.9%,#3e26a8 36.8%,#3e26a8 38.7%,#3e27ac 40.6%,#4537d3 42.5%,#4755f5 44.3%,#406cfe 46.2%,#406dfe 48.1%,#465dfa 50.0%,#484cf0 51.9%,#4744e8 53.8%,#4744e8 55.7%,#4748ec 57.5%,#484cf0 59.4%,#4851f3 61.3%,#4757f7 63.2%,#465efb 65.1%,#4562fc 67.0%,#4561fc 68.9%,#475bf9 70.8%,#4851f3 72.6%,#4743e7 74.5%,#4538d8 76.4%,#4332c9 78.3%,#412dbd 80.2%,#3f28af 82.1%,#3e26a8 84.0%,#3e26a8 85.8%,#3e26a8 87.7%,#3e26a8 89.6%,#3e26a8 91.5%,#3e26a8 93.4%,#3e26a8 95.3%,#3e26a8 97.2%,#3e26a8 99.1%)"></div><div style="height:1px;background:linear-gradient(90deg,#3e26a8 0.9%,#3e26a8 2.8%,#3e26a8 4.7%,#3e26a8 6.6%,#3e26a8 8.5%,#3e26a8 10.4%,#3e26a8 12.3%,#3e26a8 14.2%,#3e26a8 16.0%,#3e26a8 17.9%,#3e26a8 19.8%,#3e26a8 21.7%,#3e26a8 23.6%,#3e26a8 25.5%,#3e26a8 27.4%,#3e26a8 29.2%,#3e26a8 31.1%,#3e26a8 33.0%,#3e26a8 34.9%,#3e27ab 36.8%,#422fc1 38.7%,#4535d2 40.6%,#463ee0 42.5%,#484aee 44.3%,#4757f7 46.2%,#4561fc 48.1%,#4269fe 50.0%,#3c71ff 51.9%,#3974fe 53.8%,#406cfe 55.7%,#4758f8 57.5%,#4743e7 59.4%,#4536d4 61.3%,#4434d0 63.2%,#4538d7 65.1%,#463adc 67.0%,#4639d9 68.9%,#4536d3 70.8%,#4433cd 72.6%,#4330c5 74.5%,#412dbc 76.4%,#3f29b0 78.3%,#3e26a8 80.2%,#3e26a8 82.1%,#3e26a8 84.0%,#3e26a8 85.8%,#3e27a9 87.7%,#3e27a9 89.6%,#3e26a8 91.5%,#3e26a8 93.4%,#3e26a8 95.3%,#3e26a8 97.2%,#3e27ab 99.1%)"></div><div style="height:1px;background:linear-gradient(90deg,#3e26a8 0.9%,#3e26a8 2.8%,#3e26a8 4.7%,#3e26a8 6.6%,#3e26a8 8.5%,#3e26a8 10.4%,#3e26a8 12.3%,#3e26a8 14.2%,#3e26a8 16.0%,#3e26a8 17.9%,#3e26a8 19.8%,#3e26a8 21.7%,#3e26a8 23.6%,#3e26a8 25.5%,#3e26a8 27.4%,#3e26a8 29.2%,#3e26a8 31.1%,#3e26a8 33.0%,#3f29af 34.9%,#463cdc 36.8%,#484ef1 38.7%,#4853f5 40.6%,#484ff2 42.5%,#4744e9 44.3%,#4740e4 46.2%,#4748ec 48.1%,#465efa 50.0%,#3678fd 51.9%,#2e88f6 53.8%,#3180fa 55.7%,#4461fb 57.5%,#463cdb 59.4%,#3f28ad 61.3%,#3e26a8 63.2%,#3e26a8 65.1%,#3e26a8 67.0%,#3e26a8 68.9%,#402ab3 70.8%,#4434ce 72.6%,#463bdd 74.5%,#463bde 76.4%,#4537d5 78.3%,#4433cc 80.2%,#4433cd 82.1%,#4537d6 84.0%,#463ee0 85.8%,#4744e8 87.7%,#4848ec 89.6%,#4745e9 91.5%,#463cdd 93.4%,#4435d1 95.3%,#4537d6 97.2%,#4744e7 99.1%)"></div><div style="height:1px;background:linear-gradient(90deg,#3e26a8 0.9%,#3e26a8 2.8%,#3e26a8 4.7%,#3e26a8 6.6%,#3e26a8 8.5%,#3e26a8 10.4%,#3e26a8 12.3%,#3e26a8 14.2%,#3e26a8 16.0%,#402bb8 17.9%,#3f28ae 19.8%,#3e26a8 21.7%,#3e26a8 23.6%,#3e26a8 25.5%,#3e26a8 27.4%,#3e26a8 29.2%,#3e26a8 31.1%,#3e26a8 33.0%,#4230c2 34.9%,#473fe3 36.8%,#4742e6 38.7%,#484ef1 40.6%,#4465fd 42.5%,#3f6fff 44.3%,#4269fe 46.2%,#475af9 48.1%,#484ff1 50.0%,#484bef 51.9%,#484df0 53.8%,#4849ed 55.7%,#4434cd 57.5%,#3e26a8 59.4%,#3e26a8 61.3%,#3e26a8 63.2%,#3e26a8 65.1%,#3e26a8 67.0%,#3e27ab 68.9%,#4436d2 70.8%,#4744e8 72.6%,#473fe2 74.5%,#412ebe 76.4%,#3e26a8 78.3%,#3e27ab 80.2%,#4436d2 82.1%,#484df0 84.0%,#4756f6 85.8%,#484cf0 87.7%,#463bdc 89.6%,#4230c4 91.5%,#412dbc 93.4%,#4537d4 95.3%,#4659f7 97.2%,#2e88f5 99.1%)"></div><div style="height:1px;background:linear-gradient(90deg,#3e26a8 0.9%,#3e26a8 2.8%,#3e26a8 4.7%,#3e26a8 6.6%,#3e26a8 8.5%,#3e26a8 10.4%,#3e26a8 12.3%,#3e26a8 14.2%,#3e26a8 16.0%,#4233c6 17.9%,#4437d2 19.8%,#402ab4 21.7%,#3e27aa 23.6%,#3e26a8 25.5%,#3e26a8 27.4%,#3e26a8 29.2%,#3e26a8 31.1%,#3e26a8 33.0%,#3f2ab2 34.9%,#412ebe 36.8%,#3e27ab 38.7%,#3e27aa 40.6%,#4230c3 42.5%,#463ddf 44.3%,#4849ed 46.2%,#484cf0 48.1%,#4744e8 50.0%,#4436d2 51.9%,#3f29b1 53.8%,#3e26a8 55.7%,#3e26a8 57.5%,#3e26a8 59.4%,#3f28af 61.3%,#4433cd 63.2%,#4537d7 65.1%,#4230c3 67.0%,#3e26a9 68.9%,#3e26a8 70.8%,#3e26a8 72.6%,#3e26a8 74.5%,#402ab4 76.4%,#4435d0 78.3%,#4740e3 80.2%,#4745ea 82.1%,#463cdd 84.0%,#3f29b0 85.8%,#3e26a8 87.7%,#3e26a8 89.6%,#3e26a8 91.5%,#3e26a8 93.4%,#3e26a8 95.3%,#412dbc 97.2%,#4748eb 99.1%)"></div><div style="height:1px;background:linear-gradient(90deg,#3e26a8 0.9%,#3e26a8 2.8%,#3e26a8 4.7%,#3e26a8 6.6%,#3e26a8 8.5%,#3e26a8 10.4%,#3e26a8 12.3%,#3e26a8 14.2%,#3e26a8 16.0%,#412ebd 17.9%,#4333ca 19.8%,#412ebe 21.7%,#4332ca 23.6%,#4331c6 25.5%,#3e28ac 27.4%,#3e26a8 29.2%,#3e26a8 31.1%,#3e27aa 33.0%,#453ad6 34.9%,#4758f8 36.8%,#4759f8 38.7%,#4853f5 40.6%,#4852f4 42.5%,#475af9 44.3%,#3f6cfe 46.2%,#3579fd 48.1%,#3a74fe 50.0%,#4563fc 51.9%,#4758f8 53.8%,#4850f2 55.7%,#484ff2 57.5%,#3e6dfd 59.4%,#2a91ef 61.3%,#1fa6e2 63.2%,#20a5e2 65.1%,#2d89f4 67.0%,#4659f6 68.9%,#4435ce 70.8%,#4230c4 72.6%,#4742e5 74.5%,#4364fc 76.4%,#2e87f6 78.3%,#2798ea 80.2%,#2995ec 82.1%,#327ffa 84.0%,#4658f6 85.8%,#4745e9 87.7%,#4746ea 89.6%,#4746ea 91.5%,#484cef 93.4%,#4758f7 95.3%,#4269fe 97.2%,#3578fd 99.1%)"></div><div style="height:1px;background:linear-gradient(90deg,#3e26a8 0.9%,#3e26a8 2.8%,#3e26a8 4.7%,#3e26a8 6.6%,#3e26a8 8.5%,#3e26a8 10.4%,#3e26a8 12.3%,#3e26a8 14.2%,#3e26a8 16.0%,#3e26a8 17.9%,#3e26a8 19.8%,#3e27ab 21.7%,#4331c6 23.6%,#422fc2 25.5%,#3e26a8 27.4%,#3e26a8 29.2%,#3e26a8 31.1%,#4230c1 33.0%,#3698d2 34.9%,#eed429 36.8%,#f8f818 38.7%,#f8f818 40.6%,#f6f21e 42.5%,#f6ef20 44.3%,#f7f31d 46.2%,#f8f719 48.1%,#f7f61a 50.0%,#f7f31d 51.9%,#f8f719 53.8%,#f9fb15 55.7%,#f9fb15 57.5%,#f9fb15 59.4%,#f9fb15 61.3%,#f9fb15 63.2%,#f9fb15 65.1%,#f9fb15 67.0%,#f6f01f 68.9%,#f5e427 70.8%,#f5e426 72.6%,#f5ed22 74.5%,#f8f719 76.4%,#f9fb15 78.3%,#f9fb15 80.2%,#f9fb15 82.1%,#f9fb15 84.0%,#f9fb15 85.8%,#f9fa15 87.7%,#f8f817 89.6%,#f9f916 91.5%,#f9fb15 93.4%,#f9fb15 95.3%,#f9fb15 97.2%,#f9fb15 99.1%)"></div><div style="height:1px;background:linear-gradient(90deg,#4539d8 0.9%,#3e26a8 2.8%,#3e26a8 4.7%,#3e26a8 6.6%,#3e26a8 8.5%,#3e26a8 10.4%,#3e26a8 12.3%,#3e26a8 14.2%,#3e26a8 16.0%,#3e26a8 17.9%,#3e26a8 19.8%,#3e26a8 21.7%,#3e26a8 23.6%,#3e27aa 25.5%,#3e27aa 27.4%,#3e26a8 29.2%,#3e26a8 31.1%,#412ebb 33.0%,#52a3ad 34.9%,#f8f619 36.8%,#f9fb15 38.7%,#f9fb15 40.6%,#f9fb15 42.5%,#f9fb15 44.3%,#f9fb15 46.2%,#f9fb15 48.1%,#f9fb15 50.0%,#f9fb15 51.9%,#f9fb15 53.8%,#f9fb15 55.7%,#f9fb15 57.5%,#f9fb15 59.4%,#f9fb15 61.3%,#f9fb15 63.2%,#f9fb15 65.1%,#f9fb15 67.0%,#f9fb15 68.9%,#f9fb15 70.8%,#f9fb15 72.6%,#f9fb15 74.5%,#f9fb15 76.4%,#f9fb15 78.3%,#f9fb15 80.2%,#f9fb15 82.1%,#f9fb15 84.0%,#f9fb15 85.8%,#f9fb15 87.7%,#f9fb15 89.6%,#f9fb15 91.5%,#f9fb15 93.4%,#f9fb15 95.3%,#f9fb15 97.2%,#f9fb15 99.1%)"></div><div style="height:1px;background:linear-gradient(90deg,#4741e5 0.9%,#463adc 2.8%,#4659f6 4.7%,#402bb6 6.6%,#3e26a8 8.5%,#3e26a8 10.4%,#3e26a8 12.3%,#3e26a8 14.2%,#3e26a8 16.0%,#3e26a8 17.9%,#3e26a8 19.8%,#3e26a8 21.7%,#3e26a8 23.6%,#3e26a8 25.5%,#3e26a8 27.4%,#3e26a8 29.2%,#3e26a8 31.1%,#402cb7 33.0%,#54a1ac 34.9%,#f8f619 36.8%,#f9fb15 38.7%,#f9fb15 40.6%,#f9fb15 42.5%,#f9fb15 44.3%,#f9fb15 46.2%,#f9fb15 48.1%,#f9fb15 50.0%,#f9fb15 51.9%,#f9fb15 53.8%,#f9fb15 55.7%,#f9fb15 57.5%,#f9fb15 59.4%,#f9fb15 61.3%,#f9fb15 63.2%,#f9fb15 65.1%,#f9fb15 67.0%,#f9fb15 68.9%,#f9fb15 70.8%,#f9fb15 72.6%,#f9fb15 74.5%,#f9fb15 76.4%,#f9fb15 78.3%,#f9fb15 80.2%,#f9fb15 82.1%,#f9fb15 84.0%,#f9fb15 85.8%,#f9fb15 87.7%,#f9fb15 89.6%,#f9fb15 91.5%,#f9fb15 93.4%,#f9fb15 95.3%,#f9fb15 97.2%,#f9fb15 99.1%)"></div><div style="height:1px;background:linear-gradient(90deg,#402bb6 0.9%,#4745e7 2.8%,#229ce7 4.7%,#3f65f8 6.6%,#4743e6 8.5%,#4435d1 10.4%,#402ab3 12.3%,#3e26a8 14.2%,#3e26a8 16.0%,#3e26a8 17.9%,#3e26a8 19.8%,#3e27aa 21.7%,#3e27aa 23.6%,#3e26a8 25.5%,#3e26a8 27.4%,#3e26a8 29.2%,#3e26a8 31.1%,#3f29b0 33.0%,#2b8ae0 34.9%,#c3c140 36.8%,#fec835 38.7%,#fdcc32 40.6%,#fec636 42.5%,#f7bb3a 44.3%,#ddbd2a 46.2%,#c6c22a 48.1%,#b5c533 50.0%,#a4c83e 51.9%,#97ca48 53.8%,#8fcb4e 55.7%,#85cb56 57.5%,#7acc5d 59.4%,#7fcc5a 61.3%,#86cb54 63.2%,#74cc62 65.1%,#41ca8d 67.0%,#5ccc76 68.9%,#7fcc5a 70.8%,#85cb56 72.6%,#91ca4c 74.5%,#96ca48 76.4%,#a0c841 78.3%,#adc638 80.2%,#b5c533 82.1%,#abc739 84.0%,#a0c841 85.8%,#b2c635 87.7%,#b7c532 89.6%,#c5c22b 91.5%,#d8be28 93.4%,#dabd28 95.3%,#cdc028 97.2%,#b9c430 99.1%)"></div><div style="height:1px;background:linear-gradient(90deg,#3e26a8 0.9%,#412ebe 2.8%,#463fe2 4.7%,#4741e5 6.6%,#473fe2 8.5%,#463adc 10.4%,#4536d3 12.3%,#4331c6 14.2%,#3f28ad 16.0%,#3e26a8 17.9%,#3e26a8 19.8%,#3e26a8 21.7%,#3e26a8 23.6%,#3e26a8 25.5%,#3e26a8 27.4%,#4230c2 29.2%,#4537d3 31.1%,#3f29b0 33.0%,#3d68f2 34.9%,#12b7c8 36.8%,#14beb8 38.7%,#18aadc 40.6%,#2b8ef2 42.5%,#2f81fa 44.3%,#2f81fa 46.2%,#327cfc 48.1%,#4267fd 50.0%,#4746e9 51.9%,#463fe1 53.8%,#484cf0 55.7%,#4745e9 57.5%,#402bb6 59.4%,#402ab3 61.3%,#463cdc 63.2%,#484df0 65.1%,#4755f6 67.0%,#484ff1 68.9%,#412ebd 70.8%,#3f29b0 72.6%,#474bee 74.5%,#4563fc 76.4%,#4466fd 78.3%,#465dfa 80.2%,#474aed 82.1%,#402cb8 84.0%,#3e26a8 85.8%,#4230c4 87.7%,#412dbb 89.6%,#4446df 91.5%,#2893ee 93.4%,#09b5cd 95.3%,#12beb9 97.2%,#08bcbf 99.1%)"></div><div style="height:1px;background:linear-gradient(90deg,#484ef1 0.9%,#4850f3 2.8%,#484ef1 4.7%,#473fe2 6.6%,#412dbb 8.5%,#3e26a8 10.4%,#3e26a8 12.3%,#3e26a8 14.2%,#3e26a8 16.0%,#3e26a8 17.9%,#3e26a8 19.8%,#3e26a8 21.7%,#3e26a8 23.6%,#3e26a8 25.5%,#3e26a8 27.4%,#3e26a8 29.2%,#3e26a8 31.1%,#402bb5 33.0%,#3d68f5 34.9%,#10b1d1 36.8%,#15bfb8 38.7%,#09b5ce 40.6%,#20a4e3 42.5%,#2896eb 44.3%,#2b92ee 46.2%,#2b91ef 48.1%,#2f85f7 50.0%,#4460fa 51.9%,#463cdd 53.8%,#4744e7 55.7%,#475bf9 57.5%,#4563fd 59.4%,#3974fd 61.3%,#2e87f6 63.2%,#2c90f0 65.1%,#2c8ef1 67.0%,#357afb 68.9%,#4545e0 70.8%,#4439d2 72.6%,#3a73fc 74.5%,#2798ea 76.4%,#1ea8e1 78.3%,#1fa5e2 80.2%,#3282f5 82.1%,#474df0 84.0%,#4752f4 85.8%,#475af9 87.7%,#4742e4 89.6%,#4741e3 91.5%,#465dfa 93.4%,#3d70fe 95.3%,#3b72fe 97.2%,#465bf8 99.1%)"></div><div style="height:1px;background:linear-gradient(90deg,#4740e4 0.9%,#473fe3 2.8%,#4741e6 4.7%,#473fe3 6.6%,#4435cf 8.5%,#3e28ac 10.4%,#3e26a8 12.3%,#3e26a8 14.2%,#3e26a8 16.0%,#3e26a8 17.9%,#3e26a8 19.8%,#3e26a8 21.7%,#3e26a8 23.6%,#3e26a8 25.5%,#3e26a8 27.4%,#3e26a8 29.2%,#3e26a8 31.1%,#3f28ad 33.0%,#3d69f2 34.9%,#16b8c5 36.8%,#2dc4a5 38.7%,#0dbcbe 40.6%,#16aeda 42.5%,#22a2e4 44.3%,#21a3e4 46.2%,#1aacdd 48.1%,#1aabdd 50.0%,#2993ee 51.9%,#4459f5 53.8%,#474eef 55.7%,#3280fa 57.5%,#2897eb 59.4%,#23a1e5 61.3%,#249fe6 63.2%,#2b8ef1 65.1%,#3080fb 67.0%,#347afd 68.9%,#4267fd 70.8%,#4069fd 72.6%,#2c8cf3 74.5%,#2a93ee 76.4%,#20a3e3 78.3%,#06b5cf 80.2%,#1ca5e0 82.1%,#2f83f9 84.0%,#2c8ef2 85.8%,#317ffa 87.7%,#416afe 89.6%,#4564fd 91.5%,#4269fe 93.4%,#3f6efe 95.3%,#4464fc 97.2%,#4749eb 99.1%)"></div><div style="height:1px;background:linear-gradient(90deg,#3e26a8 0.9%,#3e26a8 2.8%,#3e26a8 4.7%,#453cdb 6.6%,#4756f7 8.5%,#4851f3 10.4%,#4742e6 12.3%,#4434cd 14.2%,#3f29b1 16.0%,#3e26a8 17.9%,#3e26a8 19.8%,#3e26a8 21.7%,#3e26a8 23.6%,#3e26a8 25.5%,#3e26a8 27.4%,#3e26a8 29.2%,#3e26a8 31.1%,#3e26a8 33.0%,#3a6aec 34.9%,#24c2ab 36.8%,#3bc894 38.7%,#0fb8c7 40.6%,#22a1e5 42.5%,#269ae9 44.3%,#1ca8df 46.2%,#07bac5 48.1%,#18bfb6 50.0%,#0ab6cb 51.9%,#3281f4 53.8%,#4061f6 55.7%,#249ee6 57.5%,#1ea7e1 59.4%,#259be8 61.3%,#3779fa 63.2%,#4643e4 65.1%,#4332c8 67.0%,#474ff0 68.9%,#3380f9 70.8%,#2699e9 72.6%,#2a92ef 74.5%,#4358f3 76.4%,#425bf4 78.3%,#2895ec 80.2%,#21a3e3 82.1%,#22a1e4 84.0%,#2a92ee 85.8%,#2d88f6 87.7%,#2c8ef1 89.6%,#259ce7 91.5%,#1caadf 93.4%,#16afd9 95.3%,#1da8e0 97.2%,#269ae8 99.1%)"></div><div style="height:1px;background:linear-gradient(90deg,#3e26a8 0.9%,#3e26a8 2.8%,#3e26a8 4.7%,#3e27a9 6.6%,#402bb6 8.5%,#402bb7 10.4%,#3e27ac 12.3%,#3e26a8 14.2%,#3e26a8 16.0%,#3e26a8 17.9%,#3f28ae 19.8%,#4640e1 21.7%,#4854f5 23.6%,#4759f8 25.5%,#465dfb 27.4%,#4755f6 29.2%,#484aed 31.1%,#484bee 33.0%,#4069fc 34.9%,#2b8ff0 36.8%,#2896eb 38.7%,#2e87f6 40.6%,#2e86f7 42.5%,#2994ed 44.3%,#2896ec 46.2%,#2c8ef1 48.1%,#317ffa 50.0%,#4267fd 51.9%,#4641e2 53.8%,#4542df 55.7%,#3085f6 57.5%,#22a1e4 59.4%,#2797eb 61.3%,#3f4ddd 63.2%,#443bd2 65.1%,#4168fd 67.0%,#2e86f6 68.9%,#21a2e4 70.8%,#09b5cf 72.6%,#10beba 74.5%,#09bcbf 76.4%,#0bb3d2 78.3%,#2e8af2 80.2%,#465cf9 82.1%,#3082f9 84.0%,#2b91ef 85.8%,#249de7 87.7%,#1da8e0 89.6%,#1babde 91.5%,#21a3e3 93.4%,#2a93ee 95.3%,#2d88f6 97.2%,#2c8ef2 99.1%)"></div><div style="height:1px;background:linear-gradient(90deg,#412ebe 0.9%,#3e27ab 2.8%,#402cb8 4.7%,#402cb8 6.6%,#3e26a8 8.5%,#3e26a8 10.4%,#3e26a8 12.3%,#3e26a8 14.2%,#3e26a8 16.0%,#3f28ad 17.9%,#4434cd 19.8%,#4740e3 21.7%,#484cef 23.6%,#4757f7 25.5%,#4367fd 27.4%,#3e70ff 29.2%,#3c72ff 31.1%,#3d71ff 33.0%,#4366fd 34.9%,#465dfa 36.8%,#3f6dfe 38.7%,#317ffb 40.6%,#2a92ee 42.5%,#22a1e4 44.3%,#249ee6 46.2%,#2b8ff1 48.1%,#347bfc 50.0%,#4366fd 51.9%,#4755f6 53.8%,#445ffa 55.7%,#2d8af4 57.5%,#2699e9 59.4%,#2e87f5 61.3%,#4346db 63.2%,#4336cd 65.1%,#4755f6 67.0%,#3e6dfe 68.9%,#2b8df2 70.8%,#17acdb 72.6%,#0ebdbc 74.5%,#22c1b0 76.4%,#0cb8c8 78.3%,#2d8cf2 80.2%,#465efa 82.1%,#416bfe 84.0%,#3f6efe 85.8%,#3d71ff 87.7%,#347afd 89.6%,#2d89f5 91.5%,#2797ea 93.4%,#23a0e5 95.3%,#20a4e3 97.2%,#1da8e0 99.1%)"></div><div style="height:1px;background:linear-gradient(90deg,#4749ec 0.9%,#463ada 2.8%,#4741e4 4.7%,#453dda 6.6%,#3e26a8 8.5%,#3e26a8 10.4%,#3e26a8 12.3%,#3e26a8 14.2%,#3e26a8 16.0%,#4333ca 17.9%,#473fe2 19.8%,#4230c4 21.7%,#3f29b2 23.6%,#4230c4 25.5%,#463fe2 27.4%,#4851f3 29.2%,#4660fb 31.1%,#426afe 33.0%,#4366fd 34.9%,#4562fc 36.8%,#347cfb 38.7%,#2d8cf3 40.6%,#2896ec 42.5%,#21a3e3 44.3%,#249ee6 46.2%,#2a92ee 48.1%,#2d8af4 50.0%,#2d89f5 51.9%,#2c8ef1 53.8%,#2799ea 55.7%,#23a0e5 57.5%,#2895ec 59.4%,#3d6dfb 61.3%,#463cdd 63.2%,#463adc 65.1%,#4740e4 67.0%,#4751f3 68.9%,#3c70fd 70.8%,#2896ec 72.6%,#16aeda 74.5%,#0cb3d3 76.4%,#1ca9df 78.3%,#2994ed 80.2%,#317ffa 82.1%,#3f6efe 84.0%,#465ffb 85.8%,#4855f6 87.7%,#4756f6 89.6%,#3d6efd 91.5%,#259ae9 93.4%,#14bcbc 95.3%,#3cc992 97.2%,#3cc992 99.1%)"></div><div style="height:1px;background:linear-gradient(90deg,#3d70fe 0.9%,#4562fc 2.8%,#4756f7 4.7%,#484ef1 6.6%,#4747eb 8.5%,#4742e6 10.4%,#4537d5 12.3%,#4230c4 14.2%,#4332ca 16.0%,#4639da 17.9%,#463adb 19.8%,#412dbb 21.7%,#3e26a8 23.6%,#3e26a8 25.5%,#3e26a8 27.4%,#3e26a8 29.2%,#3e26a8 31.1%,#412dbb 33.0%,#3b70f5 34.9%,#19bac1 36.8%,#29c3a7 38.7%,#2592e6 40.6%,#4759f8 42.5%,#3c71ff 44.3%,#4269fe 46.2%,#465ffb 48.1%,#3876fc 50.0%,#249ee7 51.9%,#08b7cb 53.8%,#18bfb5 55.7%,#0bbbc1 57.5%,#239de7 59.4%,#424fe3 61.3%,#3e26a8 63.2%,#474cec 65.1%,#3a73fe 67.0%,#3080fb 68.9%,#2e84f8 70.8%,#2a92ee 72.6%,#259de7 74.5%,#22a1e4 76.4%,#23a0e5 78.3%,#259ce7 80.2%,#269be8 82.1%,#259de7 84.0%,#20a4e3 85.8%,#1da8e0 87.7%,#1fa6e2 89.6%,#1ca9df 91.5%,#17bdb9 93.4%,#89c954 95.3%,#f5c035 97.2%,#fdcc32 99.1%)"></div><div style="height:1px;background:linear-gradient(90deg,#4562fc 0.9%,#484ff2 2.8%,#4745e9 4.7%,#484aee 6.6%,#4757f7 8.5%,#4756f7 10.4%,#4743e7 12.3%,#4332c8 14.2%,#402bb7 16.0%,#402ab5 17.9%,#3f29b0 19.8%,#3e26a8 21.7%,#3e26a8 23.6%,#412cb9 25.5%,#463ada 27.4%,#4740e4 29.2%,#4745e9 31.1%,#4755f6 33.0%,#3c70fd 34.9%,#2699e9 36.8%,#1da8e0 38.7%,#249de7 40.6%,#22a0e5 42.5%,#05b7cc 44.3%,#01b9c7 46.2%,#0cb3d3 48.1%,#19addc 50.0%,#20a5e2 51.9%,#2699e9 53.8%,#2c8ff0 55.7%,#2d8bf4 57.5%,#2d88f6 59.4%,#2f82f9 61.3%,#357df9 63.2%,#16acda 65.1%,#05bbc2 67.0%,#05bbc2 68.9%,#0bb4d2 70.8%,#19acdd 72.6%,#1da9e0 74.5%,#1babde 76.4%,#15afd9 78.3%,#16aeda 80.2%,#239fe5 82.1%,#357cfa 84.0%,#4367fd 85.8%,#3084f7 87.7%,#259ce8 89.6%,#17addb 91.5%,#0cbcc0 93.4%,#32c69f 95.3%,#40ca8d 97.2%,#33c69d 99.1%)"></div><div style="height:1px;background:linear-gradient(90deg,#474def 0.9%,#4539d9 2.8%,#4539d9 4.7%,#474bee 6.6%,#4562fc 8.5%,#4367fd 10.4%,#475af8 12.3%,#4747eb 14.2%,#463cde 16.0%,#463bdd 17.9%,#4744e8 19.8%,#4333cb 21.7%,#4433cc 23.6%,#4744e7 25.5%,#475af9 27.4%,#4563fc 29.2%,#4464fd 31.1%,#4466fd 33.0%,#3b72fd 34.9%,#269ae9 36.8%,#19addc 38.7%,#1fa5e2 40.6%,#1ca7df 42.5%,#04b9c5 44.3%,#03bac4 46.2%,#13afd8 48.1%,#2895ec 50.0%,#3b71fd 51.9%,#4753f5 53.8%,#484ff2 55.7%,#465bf9 57.5%,#3a73fd 59.4%,#2992ee 61.3%,#13afd8 63.2%,#15beb8 65.1%,#2dc4a6 67.0%,#26c2ac 68.9%,#09bcc0 70.8%,#08b5d0 72.6%,#0fb2d4 74.5%,#0cb3d3 76.4%,#10b1d5 78.3%,#239ee6 80.2%,#406cfe 82.1%,#455ffb 84.0%,#4755f6 85.8%,#357afb 87.7%,#2799e9 89.6%,#20a5e2 91.5%,#239fe6 93.4%,#2c8cf3 95.3%,#2e83f9 97.2%,#3080fb 99.1%)"></div><div style="height:1px;background:linear-gradient(90deg,#4538d5 0.9%,#402ab5 2.8%,#4435cf 4.7%,#474df0 6.6%,#4463fc 8.5%,#3b73fe 10.4%,#3579fd 12.3%,#3975fe 14.2%,#406dfe 16.0%,#3a73fd 17.9%,#2c8df2 19.8%,#4657f5 21.7%,#4743e7 23.6%,#4748ec 25.5%,#4754f5 27.4%,#4562fc 29.2%,#465cf9 31.1%,#484bef 33.0%,#3877f7 34.9%,#28c0ad 36.8%,#5ccc76 38.7%,#21acce 40.6%,#3974fe 42.5%,#327cfc 44.3%,#4366fc 46.2%,#4744e6 48.1%,#402bb5 50.0%,#3e26a8 51.9%,#3e26a8 53.8%,#4334ca 55.7%,#4756f6 57.5%,#3f6dfe 59.4%,#3081f9 61.3%,#2896ec 63.2%,#1ea6e1 65.1%,#19addc 67.0%,#1aacdd 68.9%,#1aabdd 70.8%,#12b1d7 72.6%,#02b8c9 74.5%,#02b9c7 76.4%,#18aadc 78.3%,#3971f4 80.2%,#402ab4 82.1%,#455cf8 84.0%,#3280fa 85.8%,#2897eb 87.7%,#22a1e4 89.6%,#2993ee 91.5%,#425df6 93.4%,#402ab3 95.3%,#3f28ad 97.2%,#4643e4 99.1%)"></div><div style="height:1px;background:linear-gradient(90deg,#402bb6 0.9%,#3e26a8 2.8%,#3e26a8 4.7%,#3e26a8 6.6%,#3e28ad 8.5%,#4332c9 10.4%,#4742e6 12.3%,#4755f6 14.2%,#4755f6 16.0%,#4741e4 17.9%,#4331c7 19.8%,#3e26a8 21.7%,#3e26a8 23.6%,#3e26a8 25.5%,#402bb7 27.4%,#4434ce 29.2%,#412cba 31.1%,#422fc0 33.0%,#3776f3 34.9%,#3cc592 36.8%,#a7c73c 38.7%,#59c97c 40.6%,#13aed5 42.5%,#367af9 44.3%,#453edb 46.2%,#3e26a8 48.1%,#402cb8 50.0%,#474ff1 51.9%,#3d6ffe 53.8%,#2d8af4 55.7%,#23a0e5 57.5%,#19addc 59.4%,#18addb 61.3%,#1fa6e2 63.2%,#2699e9 65.1%,#2d8af4 67.0%,#2d88f6 68.9%,#21a2e3 70.8%,#07b8c9 72.6%,#23c1ae 74.5%,#2fc5a2 76.4%,#2dc4a5 78.3%,#15beb8 80.2%,#15afd9 82.1%,#1ca9df 84.0%,#2993ed 85.8%,#317ffb 87.7%,#3678fe 89.6%,#3975fe 91.5%,#416bfe 93.4%,#465dfa 95.3%,#4660fb 97.2%,#3f6dfe 99.1%)"></div><div style="height:1px;background:linear-gradient(90deg,#3e26a8 0.9%,#3e26a8 2.8%,#3e26a8 4.7%,#3e26a8 6.6%,#3e26a8 8.5%,#3e27a9 10.4%,#4436d1 12.3%,#484ff1 14.2%,#4758f8 16.0%,#484ff2 17.9%,#4231c4 19.8%,#3e26a8 21.7%,#3e26a8 23.6%,#3e26a8 25.5%,#3e26a8 27.4%,#3e26a8 29.2%,#3e26a8 31.1%,#3f28ad 33.0%,#3576ef 34.9%,#59c77c 36.8%,#c7c12a 38.7%,#8aca52 40.6%,#1ec0af 42.5%,#239ee6 44.3%,#337cfb 46.2%,#3e6fff 48.1%,#2c8bf3 50.0%,#1da8e0 51.9%,#19acdc 53.8%,#21a3e3 55.7%,#249ee6 57.5%,#20a4e3 59.4%,#1babde 61.3%,#19addc 63.2%,#1ea7e1 65.1%,#2797eb 67.0%,#2f83f8 68.9%,#3578fd 70.8%,#347afd 72.6%,#2c8df2 74.5%,#269ae9 76.4%,#259de7 78.3%,#259be8 80.2%,#2b90f0 82.1%,#3778fc 84.0%,#4759f8 85.8%,#4746ea 87.7%,#4748ec 89.6%,#465efa 91.5%,#337efa 93.4%,#2897eb 95.3%,#23a1e5 97.2%,#259ce7 99.1%)"></div><div style="height:1px;background:linear-gradient(90deg,#3e26a8 0.9%,#3e26a8 2.8%,#3e26a8 4.7%,#3e26a8 6.6%,#3e26a8 8.5%,#3e26a8 10.4%,#422fc2 12.3%,#4745e8 14.2%,#4756f6 16.0%,#4562fc 17.9%,#4643e2 19.8%,#3e27a9 21.7%,#3e26a8 23.6%,#3e26a8 25.5%,#3e26a8 27.4%,#3e26a8 29.2%,#3e26a8 31.1%,#3e27ab 33.0%,#3675ef 34.9%,#49c788 36.8%,#b6c532 38.7%,#90ca4d 40.6%,#3bc795 42.5%,#0bb6cb 44.3%,#22a1e4 46.2%,#2699e9 48.1%,#18abdc 50.0%,#0ab4d2 51.9%,#1ea6e0 53.8%,#2e88f5 55.7%,#3f6efe 57.5%,#406cfe 59.4%,#3083f8 61.3%,#239fe6 63.2%,#15afd9 65.1%,#16afd9 67.0%,#269ae9 68.9%,#3d6dfc 70.8%,#484df0 72.6%,#4850f3 74.5%,#4757f7 76.4%,#4756f7 78.3%,#4851f4 80.2%,#4744e8 82.1%,#4332c8 84.0%,#3e27aa 85.8%,#3e26a8 87.7%,#422fc0 89.6%,#474cee 91.5%,#367afa 93.4%,#239ee6 95.3%,#1aabde 97.2%,#20a4e2 99.1%)"></div><div style="height:1px;background:linear-gradient(90deg,#3e26a8 0.9%,#402bb6 2.8%,#412cba 4.7%,#3e27a9 6.6%,#3e26a8 8.5%,#3e26a8 10.4%,#3e26a8 12.3%,#3e26a8 14.2%,#422fc1 16.0%,#473fe2 17.9%,#4434cd 19.8%,#3e26a8 21.7%,#3e26a8 23.6%,#3e26a8 25.5%,#3e26a8 27.4%,#3e26a8 29.2%,#3e26a8 31.1%,#412fbf 33.0%,#3a72f7 34.9%,#16b5c8 36.8%,#56cb7b 38.7%,#82cc58 40.6%,#54cb7e 42.5%,#1cabd4 44.3%,#4240d1 46.2%,#3e26a8 48.1%,#3e26a8 50.0%,#3e26a8 51.9%,#3e26a8 53.8%,#3e26a8 55.7%,#3e26a8 57.5%,#3e26a8 59.4%,#412dbc 61.3%,#445cf7 63.2%,#2992ef 65.1%,#0eb2d3 67.0%,#14beb8 68.9%,#1bc0b4 70.8%,#08b7ca 72.6%,#22a0e5 74.5%,#2d88f6 76.4%,#317efb 78.3%,#3875fe 80.2%,#4463fc 82.1%,#4747ea 84.0%,#4332c9 85.8%,#4330c5 87.7%,#4538d7 89.6%,#463ee1 91.5%,#463ee0 93.4%,#463ada 95.3%,#4740e3 97.2%,#4853f4 99.1%)"></div><div style="height:1px;background:linear-gradient(90deg,#4436d0 0.9%,#4751f3 2.8%,#3d6ffe 4.7%,#3874fd 6.6%,#4747e9 8.5%,#402bb5 10.4%,#3e26a8 12.3%,#422fc0 14.2%,#4752f3 16.0%,#4745e8 17.9%,#412dba 19.8%,#3e26a8 21.7%,#3e26a8 23.6%,#3e26a8 25.5%,#3e26a8 27.4%,#3e26a8 29.2%,#3e26a8 31.1%,#3f29b0 33.0%,#3774f2 34.9%,#1ebeb6 36.8%,#40ca8d 38.7%,#21c2ad 40.6%,#0fb2d4 42.5%,#1da8e0 44.3%,#2c8bf2 46.2%,#4462fc 48.1%,#4563fc 50.0%,#4269fe 51.9%,#4368fe 53.8%,#4269fe 55.7%,#426afe 57.5%,#406cfe 59.4%,#357afd 61.3%,#2d8af5 63.2%,#22a0e5 65.1%,#1cc0b2 67.0%,#40ca8d 68.9%,#3bc993 70.8%,#1cc0b2 72.6%,#10b1d5 74.5%,#249de7 76.4%,#2c90f0 78.3%,#2d8cf3 80.2%,#2b91ef 82.1%,#2995ec 84.0%,#2b91ef 85.8%,#2d8df2 87.7%,#2d8df2 89.6%,#2a93ee 91.5%,#259ce8 93.4%,#20a5e2 95.3%,#17aeda 97.2%,#08b4d0 99.1%)"></div><div style="height:1px;background:linear-gradient(90deg,#474bee 0.9%,#4365fc 2.8%,#2f85f7 4.7%,#2b8ef1 6.6%,#4362fb 8.5%,#463edf 10.4%,#4230c4 12.3%,#4434cf 14.2%,#4753f4 16.0%,#4743e6 17.9%,#4434cf 19.8%,#4330c5 21.7%,#4230c3 23.6%,#4230c3 25.5%,#3f29b0 27.4%,#3e26a8 29.2%,#3e26a8 31.1%,#412ebb 33.0%,#3678f6 34.9%,#0bb6cb 36.8%,#0bb5cd 38.7%,#2993ee 40.6%,#317dfc 42.5%,#259be8 44.3%,#09b7c9 46.2%,#1ac0b4 48.1%,#0dbdbc 50.0%,#09b4d0 51.9%,#1aabdd 53.8%,#1ca9df 55.7%,#1babde 57.5%,#1baade 59.4%,#1da8e0 61.3%,#21a2e4 63.2%,#1da8df 65.1%,#0dbcbe 67.0%,#2fc5a2 68.9%,#39c895 70.8%,#26c2ab 72.6%,#08b7cb 74.5%,#20a4e2 76.4%,#2c8df2 78.3%,#3080fa 80.2%,#2e87f6 82.1%,#2798ea 84.0%,#20a4e2 85.8%,#1caadf 87.7%,#1aabdd 89.6%,#18addb 91.5%,#0eb2d4 93.4%,#02b9c8 95.3%,#02bac4 97.2%,#11b0d7 99.1%)"></div><div style="height:1px;background:linear-gradient(90deg,#4755f6 0.9%,#465ffb 2.8%,#4466fd 4.7%,#4465fd 6.6%,#4759f8 8.5%,#4748ec 10.4%,#4538d7 12.3%,#422ec0 14.2%,#412dbd 16.0%,#4538d6 17.9%,#484bee 19.8%,#4756f7 21.7%,#4756f7 23.6%,#4854f5 25.5%,#4745e8 27.4%,#402bb6 29.2%,#3e26a8 31.1%,#444be5 33.0%,#307ffb 34.9%,#2a92ee 36.8%,#3a73fb 38.7%,#4748ec 40.6%,#474df0 42.5%,#3381f6 44.3%,#11b4cd 46.2%,#34c79c 48.1%,#3cc991 50.0%,#2bc4a7 51.9%,#12beb9 53.8%,#15bfb7 55.7%,#14beb8 57.5%,#05b8c9 59.4%,#19acdd 61.3%,#1fa6e2 63.2%,#1ca9df 65.1%,#21a2e4 67.0%,#15acd9 68.9%,#1bc0b3 70.8%,#21c1b0 72.6%,#08b7ca 74.5%,#22a0e5 76.4%,#337efa 78.3%,#465efa 80.2%,#4851f3 82.1%,#4756f7 84.0%,#3975fd 85.8%,#2a91ef 87.7%,#259ce7 89.6%,#2798ea 91.5%,#2c90f0 93.4%,#2d89f5 95.3%,#3a73fd 97.2%,#4541de 99.1%)"></div><div style="height:1px;background:linear-gradient(90deg,#4742e6 0.9%,#4849ed 2.8%,#484df0 4.7%,#484ff2 6.6%,#484ef1 8.5%,#484aee 10.4%,#4744e8 12.3%,#4740e4 14.2%,#463ddf 16.0%,#4538d8 17.9%,#4434d0 19.8%,#4332ca 21.7%,#422fc2 23.6%,#402ab5 25.5%,#3e26a8 27.4%,#3e26a8 29.2%,#3e26a8 31.1%,#402db9 33.0%,#3776f6 34.9%,#0db2d4 36.8%,#18abdc 38.7%,#3380f8 40.6%,#4751f2 42.5%,#463fe2 44.3%,#3d6cfa 46.2%,#1ca5e0 48.1%,#19bfb4 50.0%,#3ac994 51.9%,#42ca8c 53.8%,#37c898 55.7%,#19c0b4 57.5%,#01b8c9 59.4%,#03bac4 61.3%,#1ec0b1 63.2%,#2ec5a4 65.1%,#16bfb7 67.0%,#17acdb 68.9%,#269ae8 70.8%,#259de7 72.6%,#249fe5 74.5%,#249ee6 76.4%,#249fe5 78.3%,#20a5e2 80.2%,#1fa5e2 82.1%,#3978fa 84.0%,#2699ea 85.8%,#1caadf 87.7%,#1ea7e1 89.6%,#1ea6e1 91.5%,#1aabdd 93.4%,#1babdd 95.3%,#2895ec 97.2%,#2b8ff1 99.1%)"></div><div style="height:1px;background:linear-gradient(90deg,#4537d5 0.9%,#473fe2 2.8%,#4740e4 4.7%,#473fe2 6.6%,#463cde 8.5%,#4539d9 10.4%,#463adc 12.3%,#4746ea 14.2%,#4759f8 16.0%,#4367fd 17.9%,#4368fe 19.8%,#4561fc 21.7%,#4755f6 23.6%,#4746ea 25.5%,#4435d1 27.4%,#3e27ab 29.2%,#3e26a8 31.1%,#402ab3 33.0%,#3873f4 34.9%,#12afd7 36.8%,#1aaadd 38.7%,#2c8cf2 40.6%,#3f6cfe 42.5%,#475bf9 44.3%,#3b71fd 46.2%,#2c8ef1 48.1%,#3976fc 50.0%,#12add6 51.9%,#1ac0b4 53.8%,#23c1af 55.7%,#16bfb7 57.5%,#0ebebb 59.4%,#1ec0b2 61.3%,#27c2ac 63.2%,#11bdbb 65.1%,#1aa9de 67.0%,#2c8bf4 68.9%,#3579fd 70.8%,#307ffb 72.6%,#2d88f6 74.5%,#2d8af5 76.4%,#2f83f9 78.3%,#3c70fe 80.2%,#4759f8 82.1%,#4756f6 84.0%,#3677fd 85.8%,#3b71fe 87.7%,#3d70fe 89.6%,#337bfc 91.5%,#337bfc 93.4%,#3777fe 95.3%,#406cfe 97.2%,#347cfb 99.1%)"></div><div style="height:1px;background:linear-gradient(90deg,#3f2ab2 0.9%,#4332ca 2.8%,#4435d1 4.7%,#4537d6 6.6%,#463adc 8.5%,#4435d0 10.4%,#4434cf 12.3%,#4746e9 14.2%,#4267fc 16.0%,#2f85f7 17.9%,#2c8ff1 19.8%,#2d8bf4 21.7%,#2f83f9 23.6%,#3974fd 25.5%,#4759f7 27.4%,#4435ce 29.2%,#3e26a8 31.1%,#412fc0 33.0%,#3a70f9 34.9%,#2994ed 36.8%,#2c8ef2 38.7%,#2e85f8 40.6%,#2e85f8 42.5%,#2e87f7 44.3%,#2e84f9 46.2%,#3975fd 48.1%,#4131bf 50.0%,#396ff6 51.9%,#21a1e4 53.8%,#0ab4d1 55.7%,#0bbdbd 57.5%,#21c1b0 59.4%,#26c2ac 61.3%,#14beb8 63.2%,#12afd7 65.1%,#2c8bf3 67.0%,#3876fe 68.9%,#3b72ff 70.8%,#3a73fe 72.6%,#3678fd 74.5%,#3777fe 76.4%,#4366fd 78.3%,#4642e0 80.2%,#3e27ab 82.1%,#463fe0 84.0%,#4849ed 85.8%,#422fc0 87.7%,#4334cc 89.6%,#484cef 91.5%,#4850f2 93.4%,#484ff2 95.3%,#4757f7 97.2%,#406cfe 99.1%)"></div><div style="height:1px;background:linear-gradient(90deg,#3e26a8 0.9%,#3e26a8 2.8%,#3e27ab 4.7%,#4539d6 6.6%,#4167fc 8.5%,#4560fa 10.4%,#4848ec 12.3%,#4745e9 14.2%,#4747eb 16.0%,#4745e9 17.9%,#4741e5 19.8%,#4746ea 21.7%,#4461fb 23.6%,#3c71fe 25.5%,#4753f4 27.4%,#4740e3 29.2%,#463cde 31.1%,#4751f2 33.0%,#416bfe 34.9%,#4754f5 36.8%,#465df9 38.7%,#3776fd 40.6%,#2f81fa 42.5%,#3876fd 44.3%,#4759f7 46.2%,#463dde 48.1%,#422fc3 50.0%,#474aec 51.9%,#357df9 53.8%,#1da6e0 55.7%,#04b8c8 57.5%,#0ebdbb 59.4%,#13beb9 61.3%,#13beb9 63.2%,#0dbdbc 65.1%,#03b9c7 67.0%,#17addb 68.9%,#2897eb 70.8%,#327efb 72.6%,#3a73fe 74.5%,#3081fa 76.4%,#2799ea 78.3%,#1ea7e1 80.2%,#239fe6 82.1%,#337ff9 84.0%,#474ff1 85.8%,#4331c7 87.7%,#4436d0 89.6%,#3f67f9 91.5%,#269ae9 93.4%,#15afd9 95.3%,#07b5d0 97.2%,#02b9c7 99.1%)"></div><div style="height:1px;background:linear-gradient(90deg,#4759f8 0.9%,#4850f2 2.8%,#4742e6 4.7%,#463de0 6.6%,#4759f7 8.5%,#412ebd 10.4%,#3e26a8 12.3%,#3e26a8 14.2%,#3e26a8 16.0%,#3e26a8 17.9%,#3e26a8 19.8%,#402bb5 21.7%,#463bdb 23.6%,#484aee 25.5%,#4746ea 27.4%,#4740e4 29.2%,#4743e7 31.1%,#4756f6 33.0%,#3a73fd 34.9%,#2c8bf3 36.8%,#1fa5e2 38.7%,#17aeda 40.6%,#1aacdd 42.5%,#23a0e5 44.3%,#2d8af4 46.2%,#3c71fe 48.1%,#4562fc 50.0%,#3f6cfe 51.9%,#2c8cf3 53.8%,#1da8df 55.7%,#09b4d1 57.5%,#09b4d1 59.4%,#17aeda 61.3%,#1ea7e1 63.2%,#20a5e3 65.1%,#21a4e3 67.0%,#259ce7 68.9%,#2e87f6 70.8%,#4268fd 72.6%,#3281f8 74.5%,#21a2e3 76.4%,#0bb4d2 78.3%,#06b6ce 80.2%,#1da6e0 82.1%,#2e86f6 84.0%,#3d70fe 85.8%,#4269fe 87.7%,#3f6efe 89.6%,#3081f9 91.5%,#2993ed 93.4%,#2699e9 95.3%,#2797ea 97.2%,#2895ec 99.1%)"></div><div style="height:1px;background:linear-gradient(90deg,#2c8ef1 0.9%,#3679fc 2.8%,#465af8 4.7%,#4745e9 6.6%,#484bee 8.5%,#3f29b0 10.4%,#3e26a8 12.3%,#3e26a8 14.2%,#3e26a8 16.0%,#3e26a8 17.9%,#3e26a8 19.8%,#3e26a8 21.7%,#3e27aa 23.6%,#4331c8 25.5%,#4740e3 27.4%,#4848ec 29.2%,#4850f2 31.1%,#465dfa 33.0%,#3877fc 34.9%,#20a2e3 36.8%,#07bac3 38.7%,#16bfb7 40.6%,#0ebdbb 42.5%,#03bac5 44.3%,#0db2d3 46.2%,#1ea6e1 48.1%,#259ce7 50.0%,#22a1e5 51.9%,#0fb1d4 53.8%,#0fbdbb 55.7%,#22c1b0 57.5%,#0ebdbb 59.4%,#12b0d7 61.3%,#21a3e3 63.2%,#23a0e5 65.1%,#259be8 67.0%,#2b91ef 68.9%,#337cfb 70.8%,#4562fc 72.6%,#3086f5 74.5%,#17acdb 76.4%,#02b8ca 78.3%,#0ab4d1 80.2%,#21a1e4 82.1%,#2d8cf3 84.0%,#2d8cf3 85.8%,#2797eb 87.7%,#259be8 89.6%,#2a92ef 91.5%,#2e85f8 93.4%,#2d8af5 95.3%,#2e86f7 97.2%,#2e83f9 99.1%)"></div><div style="height:1px;background:linear-gradient(90deg,#2d88f6 0.9%,#3974fe 2.8%,#465ffb 4.7%,#484ef1 6.6%,#4744e8 8.5%,#463cde 10.4%,#4433cc 12.3%,#3f29b0 14.2%,#3e26a8 16.0%,#3e26a8 17.9%,#3e26a8 19.8%,#3e26a8 21.7%,#3e26a8 23.6%,#402bb6 25.5%,#4740e3 27.4%,#4757f7 29.2%,#4466fd 31.1%,#416bfe 33.0%,#3777fd 34.9%,#2895ed 36.8%,#13afd8 38.7%,#02b9c7 40.6%,#0ebdbb 42.5%,#1ec0b2 44.3%,#1fc1b1 46.2%,#11beb9 48.1%,#0bbdbd 50.0%,#2ac4a6 51.9%,#58cc79 53.8%,#87cb54 55.7%,#92ca4b 57.5%,#6dcc68 59.4%,#27c3a7 61.3%,#04bbc2 63.2%,#03b9c7 65.1%,#1aaadd 67.0%,#2a93ee 68.9%,#3080fa 70.8%,#3875fe 72.6%,#2e87f6 74.5%,#20a4e3 76.4%,#16afd9 78.3%,#1baade 80.2%,#239fe5 82.1%,#269ae8 84.0%,#22a2e4 85.8%,#17aeda 87.7%,#0eb2d4 89.6%,#239fe5 91.5%,#2e86f7 93.4%,#259ce8 95.3%,#239fe5 97.2%,#23a1e4 99.1%)"></div><div style="height:1px;background:linear-gradient(90deg,#4744e8 0.9%,#425ff7 2.8%,#4064fa 4.7%,#4743e6 6.6%,#4748ec 8.5%,#4853f5 10.4%,#484cef 12.3%,#463bdb 14.2%,#402cb8 16.0%,#3e26a8 17.9%,#3e26a8 19.8%,#3e26a8 21.7%,#3e26a8 23.6%,#402bb5 25.5%,#463ada 27.4%,#4756f6 29.2%,#3d70fe 31.1%,#3678fd 33.0%,#3777fe 34.9%,#2c8af4 36.8%,#259ce7 38.7%,#2995ec 40.6%,#2e84f8 42.5%,#3080fa 44.3%,#2d8cf3 46.2%,#2699e9 48.1%,#12afd6 50.0%,#38c798 51.9%,#8cca50 53.8%,#bbc430 55.7%,#c7c12a 57.5%,#bbc430 59.4%,#8dca4f 61.3%,#52cc7e 63.2%,#24c2ab 65.1%,#16aadb 67.0%,#3180fa 68.9%,#2a90f0 70.8%,#20a5e2 72.6%,#11b1d6 74.5%,#02b8ca 76.4%,#01b8ca 78.3%,#02b8c9 80.2%,#0dbdbc 82.1%,#27c2ab 84.0%,#30c5a1 85.8%,#32c69f 87.7%,#34c79b 89.6%,#41ca8c 91.5%,#6ecc68 93.4%,#b3c535 95.3%,#b3c534 97.2%,#6ccc69 99.1%)"></div><div style="height:1px;background:linear-gradient(90deg,#4537d5 0.9%,#474ff0 2.8%,#4756f5 4.7%,#4743e7 6.6%,#4740e4 8.5%,#463cde 10.4%,#4434cf 12.3%,#402bb5 14.2%,#3e26a8 16.0%,#3e26a8 17.9%,#3e26a8 19.8%,#422fc0 21.7%,#3e27ac 23.6%,#3e26a8 25.5%,#3e26a8 27.4%,#4331c7 29.2%,#4746ea 31.1%,#4759f8 33.0%,#3876fc 34.9%,#2c90f0 36.8%,#2897eb 38.7%,#2a91ef 40.6%,#347bfc 42.5%,#4269fe 44.3%,#4464fd 46.2%,#4465fd 48.1%,#3a74fd 50.0%,#2d8bf3 51.9%,#2897eb 53.8%,#1ba9de 55.7%,#04b6cc 57.5%,#03bbc3 59.4%,#05bbc1 61.3%,#01b9c7 63.2%,#0eb2d4 65.1%,#20a4e3 67.0%,#2a93ed 68.9%,#21a2e4 70.8%,#1da9e0 72.6%,#259ce8 74.5%,#2e86f7 76.4%,#3a73fe 78.3%,#3a74fe 80.2%,#2e85f7 82.1%,#2995ec 84.0%,#249ee6 85.8%,#18acdc 87.7%,#05b9c6 89.6%,#22c1af 91.5%,#35c79a 93.4%,#3bc993 95.3%,#2fc5a3 97.2%,#0bbbc2 99.1%)"></div><div style="height:1px;background:linear-gradient(90deg,#4747eb 0.9%,#484df0 2.8%,#484aee 4.7%,#4746ea 6.6%,#4538d5 8.5%,#3f29af 10.4%,#3e26a8 12.3%,#3e26a8 14.2%,#3e26a8 16.0%,#3e26a8 17.9%,#3e26a8 19.8%,#4230c3 21.7%,#3e27aa 23.6%,#3e26a8 25.5%,#3e26a8 27.4%,#3e26a8 29.2%,#3e27a9 31.1%,#4539d5 33.0%,#3975fa 34.9%,#2895ec 36.8%,#20a3e3 38.7%,#1aacdd 40.6%,#239fe5 42.5%,#2e88f5 44.3%,#4266fc 46.2%,#484aed 48.1%,#473fe2 50.0%,#422fc2 51.9%,#3e26a8 53.8%,#402ab3 55.7%,#4749ec 57.5%,#4562fc 59.4%,#3876fe 61.3%,#2e86f7 63.2%,#2a92ee 65.1%,#259ce7 67.0%,#1ea7e1 68.9%,#1baade 70.8%,#269be8 72.6%,#3974fc 74.5%,#4748ea 76.4%,#422ec0 78.3%,#402bb7 80.2%,#463dde 82.1%,#484ef1 84.0%,#465dfa 85.8%,#347efa 87.7%,#249ee7 89.6%,#1aacdd 91.5%,#1baade 93.4%,#249de7 95.3%,#2d8bf4 97.2%,#337cfc 99.1%)"></div><div style="height:1px;background:linear-gradient(90deg,#3e6fff 0.9%,#4268fe 2.8%,#4756f7 4.7%,#4744e8 6.6%,#4538d8 8.5%,#4230c4 10.4%,#3e27ab 12.3%,#3e26a8 14.2%,#3e26a8 16.0%,#3e26a8 17.9%,#3e26a8 19.8%,#3e26a8 21.7%,#3e26a8 23.6%,#3e26a8 25.5%,#3e26a8 27.4%,#3e26a8 29.2%,#3e26a8 31.1%,#453cd8 33.0%,#3b71fc 34.9%,#2c8af3 36.8%,#1cbeb7 38.7%,#48cb86 40.6%,#47cb88 42.5%,#20c2ad 44.3%,#219de6 46.2%,#4463fc 48.1%,#475af9 50.0%,#453ad5 51.9%,#3e26a8 53.8%,#3e26a8 55.7%,#4232c6 57.5%,#465af8 59.4%,#3974fe 61.3%,#2e86f7 63.2%,#2994ed 65.1%,#249ee6 67.0%,#23a0e5 68.9%,#2798ea 70.8%,#2e87f6 72.6%,#3777fe 74.5%,#406cfe 76.4%,#4759f7 78.3%,#484df0 80.2%,#357cfa 82.1%,#2799ea 84.0%,#21a3e3 85.8%,#1baade 87.7%,#0db3d3 89.6%,#02b9c6 91.5%,#05bbc1 93.4%,#03b7cb 95.3%,#19abdc 97.2%,#2995ed 99.1%)"></div><div style="height:1px;background:linear-gradient(90deg,#3e26a9 0.9%,#3f29b1 2.8%,#3e28ac 4.7%,#3e26a8 6.6%,#3e26a8 8.5%,#3e26a8 10.4%,#3e26a8 12.3%,#3e26a8 14.2%,#3e26a8 16.0%,#3e26a8 17.9%,#3e26a8 19.8%,#3e26a8 21.7%,#3e26a8 23.6%,#3e26a8 25.5%,#3e26a8 27.4%,#3f28af 29.2%,#422fc2 31.1%,#4743e5 33.0%,#3974fc 34.9%,#327efb 36.8%,#2d8af3 38.7%,#259ce7 40.6%,#2993ed 42.5%,#2e87f7 44.3%,#3c70fd 46.2%,#4754f5 48.1%,#4438d1 50.0%,#3e26a8 51.9%,#3e26a8 53.8%,#3f29b1 55.7%,#4331c7 57.5%,#4744e7 59.4%,#4755f6 61.3%,#4758f8 63.2%,#475bfa 65.1%,#4660fc 67.0%,#4464fd 68.9%,#3f6dfe 70.8%,#337bfc 72.6%,#2e86f7 74.5%,#2d8df2 76.4%,#2d8af4 78.3%,#317dfc 80.2%,#3080fa 82.1%,#2797eb 84.0%,#0db3d2 85.8%,#18bfb6 87.7%,#2fc5a3 89.6%,#34c79c 91.5%,#2cc4a6 93.4%,#0bbbc0 95.3%,#1aa9de 97.2%,#2b8ef2 99.1%)"></div><div style="height:1px;background:linear-gradient(90deg,#3e26a8 0.9%,#3f28ad 2.8%,#412cb8 4.7%,#3e26a8 6.6%,#3e26a8 8.5%,#3e26a8 10.4%,#3e26a8 12.3%,#3e26a8 14.2%,#3e28ac 16.0%,#4434cf 17.9%,#463ee1 19.8%,#463ee1 21.7%,#4740e3 23.6%,#4740e3 25.5%,#4435d1 27.4%,#4230c4 29.2%,#422ebe 31.1%,#453cda 33.0%,#3778f8 34.9%,#259ce8 36.8%,#2799e9 38.7%,#259ce7 40.6%,#2b90f0 42.5%,#2b91ef 44.3%,#249ee6 46.2%,#21a3e3 48.1%,#2e8af3 50.0%,#484ef1 51.9%,#475cfa 53.8%,#4749ec 55.7%,#3f28ae 57.5%,#3e26a8 59.4%,#3e26a8 61.3%,#4333cb 63.2%,#4752f3 65.1%,#3d6ffe 67.0%,#2f84f8 68.9%,#2897eb 70.8%,#1ea7e1 72.6%,#10b1d6 74.5%,#02b8c8 76.4%,#09bcbe 78.3%,#0abdbe 80.2%,#01b9c7 82.1%,#14beb8 84.0%,#33c69d 85.8%,#5bcc76 87.7%,#85cb56 89.6%,#7dcc5b 91.5%,#4ecb82 93.4%,#1dc0b1 95.3%,#15add9 97.2%,#2b8ef1 99.1%)"></div><div style="height:1px;background:linear-gradient(90deg,#4748eb 0.9%,#465ffb 2.8%,#4268fe 4.7%,#474aec 6.6%,#402ab4 8.5%,#3e26a8 10.4%,#3e26a8 12.3%,#3e26a8 14.2%,#4230c3 16.0%,#4753f3 17.9%,#3f6dfe 19.8%,#3677fd 21.7%,#2c8cf3 23.6%,#2b8ff1 25.5%,#435ef8 27.4%,#4230c2 29.2%,#3e26a8 31.1%,#402cb7 33.0%,#347bf2 34.9%,#26c3a7 36.8%,#5dcc75 38.7%,#47cb88 40.6%,#38c896 42.5%,#59cc78 44.3%,#b2c537 46.2%,#eeba34 48.1%,#e7bc31 50.0%,#79c960 51.9%,#1ea8d7 53.8%,#4348dd 55.7%,#3e26a8 57.5%,#3e26a8 59.4%,#3e26a8 61.3%,#402cb7 63.2%,#3b70f7 65.1%,#14b1d1 67.0%,#3dc893 68.9%,#6acd6a 70.8%,#73cd62 72.6%,#6dcd68 74.5%,#7acc5d 76.4%,#a5c73e 78.3%,#d7be2a 80.2%,#f5ba3a 82.1%,#e8bb31 84.0%,#9ec843 85.8%,#99c947 87.7%,#c2c22b 89.6%,#b1c636 91.5%,#6ecc67 93.4%,#30c5a0 95.3%,#0ab7ca 97.2%,#239ee6 99.1%)"></div><div style="height:1px;background:linear-gradient(90deg,#4852f4 0.9%,#484df0 2.8%,#4757f7 4.7%,#4563fc 6.6%,#3f6dfe 8.5%,#3b72ff 10.4%,#406cfe 12.3%,#4660fb 14.2%,#4756f7 16.0%,#4850f2 17.9%,#4746ea 19.8%,#4538d6 21.7%,#412ebe 23.6%,#3e26a8 25.5%,#3e26a8 27.4%,#3e26a8 29.2%,#3e26a8 31.1%,#402cb7 33.0%,#3677f4 34.9%,#0fb1d5 36.8%,#0fb2d5 38.7%,#1da8e0 40.6%,#1caadf 42.5%,#09b5d0 44.3%,#0ebdbc 46.2%,#1ac0b4 48.1%,#0ab7ca 50.0%,#2d8df1 51.9%,#4339cd 53.8%,#3e26a8 55.7%,#3e26a8 57.5%,#3e26a8 59.4%,#3e26a8 61.3%,#3e26a8 63.2%,#3e26a8 65.1%,#4543e0 67.0%,#2f89f3 68.9%,#0eb2d2 70.8%,#1cc0b3 72.6%,#2fc5a3 74.5%,#38c896 76.4%,#4acb85 78.3%,#5bcc77 80.2%,#52cc7e 82.1%,#22c2ab 84.0%,#2497ea 85.8%,#426afe 87.7%,#2d8af4 89.6%,#259ce7 91.5%,#1ea7e0 93.4%,#0db3d3 95.3%,#0dbdbc 97.2%,#2ec5a3 99.1%)"></div><div style="height:1px;background:linear-gradient(90deg,#4741e4 0.9%,#4433cb 2.8%,#422fc3 4.7%,#4433cd 6.6%,#4639da 8.5%,#463de0 10.4%,#463ee1 12.3%,#4743e6 14.2%,#4850f2 16.0%,#475af9 17.9%,#4754f5 19.8%,#4742e5 21.7%,#4230c5 23.6%,#3e26a8 25.5%,#3e26a8 27.4%,#3e26a8 29.2%,#3e26a8 31.1%,#4232c4 33.0%,#3679f6 34.9%,#0db1d4 36.8%,#0fb1d5 38.7%,#249de7 40.6%,#22a1e4 42.5%,#0cb3d3 44.3%,#09bcbf 46.2%,#11beb9 48.1%,#05b8c8 50.0%,#21a2e4 51.9%,#3d6cfa 53.8%,#4745e8 55.7%,#4436d1 57.5%,#3e27ab 59.4%,#4435cf 61.3%,#4747eb 63.2%,#4851f3 65.1%,#3d6efd 67.0%,#2895ed 68.9%,#1baade 70.8%,#0fb2d5 72.6%,#0fb2d5 74.5%,#0fb2d5 76.4%,#08b4d0 78.3%,#07b5cf 80.2%,#14afd9 82.1%,#2895ed 84.0%,#425ef6 85.8%,#4332c9 87.7%,#4536d3 89.6%,#474aed 91.5%,#4464fc 93.4%,#327ffa 95.3%,#2699e9 97.2%,#10b0d6 99.1%)"></div><div style="height:1px;background:linear-gradient(90deg,#4333cb 0.9%,#3e27aa 2.8%,#3e26a8 4.7%,#3e26a8 6.6%,#3e26a8 8.5%,#3e26a8 10.4%,#3e26a8 12.3%,#4333c8 14.2%,#465cf8 16.0%,#416cfe 17.9%,#4562fc 19.8%,#4850f2 21.7%,#4740e4 23.6%,#4435d0 25.5%,#402bb8 27.4%,#3e27aa 29.2%,#3f28ae 31.1%,#453ad6 33.0%,#357cf5 34.9%,#11b8c5 36.8%,#14beb8 38.7%,#13afd8 40.6%,#0fb1d5 42.5%,#11beba 44.3%,#2ac3a9 46.2%,#2ac3a9 48.1%,#17bfb6 50.0%,#08b6cd 51.9%,#20a4e3 53.8%,#2b8ef1 55.7%,#3e6dfd 57.5%,#484ff2 59.4%,#3b71fc 61.3%,#2895ec 63.2%,#20a5e2 65.1%,#18addc 67.0%,#15afd8 68.9%,#18aedb 70.8%,#1da8e0 72.6%,#239fe5 74.5%,#2698ea 76.4%,#2896ec 78.3%,#2a92ee 80.2%,#2d8bf3 82.1%,#3777fd 84.0%,#465af8 85.8%,#453bd9 87.7%,#3f29b0 89.6%,#4330c5 91.5%,#4741e5 93.4%,#4753f4 95.3%,#4366fd 97.2%,#3180fa 99.1%)"></div><div style="height:1px;background:linear-gradient(90deg,#463cdc 0.9%,#3e27ab 2.8%,#3e26a8 4.7%,#3e26a8 6.6%,#3f29b1 8.5%,#4748ea 10.4%,#3975fc 12.3%,#22a0e5 14.2%,#06b8c8 16.0%,#347df6 17.9%,#463fde 19.8%,#3e27ac 21.7%,#3e26a8 23.6%,#3e26a8 25.5%,#3e26a8 27.4%,#3e26a8 29.2%,#3e26a8 31.1%,#402cb7 33.0%,#357af3 34.9%,#15bac1 36.8%,#31c6a0 38.7%,#34c79c 40.6%,#36c899 42.5%,#31c6a0 44.3%,#11bdbb 46.2%,#1aa9dd 48.1%,#2e87f5 50.0%,#4657f5 51.9%,#412ebd 53.8%,#412dbd 55.7%,#4644e4 57.5%,#367afb 59.4%,#2a92ee 61.3%,#2a93ed 63.2%,#2c90f0 65.1%,#2b91ef 67.0%,#2797eb 68.9%,#23a0e5 70.8%,#1ca9df 72.6%,#15afd9 74.5%,#18addb 76.4%,#20a5e2 78.3%,#269be8 80.2%,#2798ea 82.1%,#2699e9 84.0%,#2a93ee 85.8%,#3b72fc 87.7%,#475cfa 89.6%,#4562fc 91.5%,#4562fc 93.4%,#4367fd 95.3%,#357afc 97.2%,#2a92ee 99.1%)"></div><div style="height:1px;background:linear-gradient(90deg,#4435d0 0.9%,#3f28ae 2.8%,#3e26a8 4.7%,#3e26a8 6.6%,#3e27ac 8.5%,#463cdc 10.4%,#465cf9 12.3%,#3e6ffe 14.2%,#3d70fe 16.0%,#4643e4 17.9%,#3f29b0 19.8%,#3e26a8 21.7%,#3e27a9 23.6%,#402ab5 25.5%,#402ab5 27.4%,#3e27aa 29.2%,#3e27a9 31.1%,#4438d2 33.0%,#357bf6 34.9%,#0db4ce 36.8%,#14bfb8 38.7%,#06bbc1 40.6%,#0bb3d2 42.5%,#1fa5e2 44.3%,#2b8df2 46.2%,#425ef6 48.1%,#4656f4 50.0%,#337bfc 51.9%,#327cfc 53.8%,#3677fe 55.7%,#3a73fe 57.5%,#2f81fa 59.4%,#2d89f5 61.3%,#2b91ef 63.2%,#1ea7e0 65.1%,#17aeda 67.0%,#239fe6 68.9%,#2f85f7 70.8%,#3d71fe 72.6%,#3e6fff 74.5%,#3975fe 76.4%,#3e6ffe 78.3%,#3679fc 80.2%,#2896ec 82.1%,#249fe5 84.0%,#2a92ef 85.8%,#425ff8 87.7%,#474def 89.6%,#347bfb 91.5%,#2b90f0 93.4%,#2a93ee 95.3%,#2e87f6 97.2%,#2c8cf3 99.1%)"></div><div style="height:1px;background:linear-gradient(90deg,#474df0 0.9%,#4537d5 2.8%,#3f2ab2 4.7%,#3e26a8 6.6%,#3e27aa 8.5%,#4332c9 10.4%,#463ddf 12.3%,#463bdc 14.2%,#4230c4 16.0%,#3e27aa 17.9%,#3e26a8 19.8%,#3e26a8 21.7%,#3f28af 23.6%,#4230c4 25.5%,#4434cf 27.4%,#4435d2 29.2%,#463bdc 31.1%,#4751f2 33.0%,#3679fb 34.9%,#2c8ff1 36.8%,#2f83f9 38.7%,#3f6dfe 40.6%,#406dfe 42.5%,#3b73fe 44.3%,#3b73fe 46.2%,#4463fb 48.1%,#337ef4 50.0%,#0eb7c9 51.9%,#27c2ab 53.8%,#15beb7 55.7%,#13aed8 57.5%,#337ff4 59.4%,#3876f8 61.3%,#249de7 63.2%,#09b7cb 65.1%,#0bbdbd 67.0%,#12afd7 68.9%,#2b8ff1 70.8%,#3e6efe 72.6%,#4660fc 74.5%,#465efb 76.4%,#475bf9 78.3%,#406afd 80.2%,#2d88f5 82.1%,#2c8ff0 84.0%,#2f83f8 85.8%,#445ffa 87.7%,#4659f7 89.6%,#2f84f7 91.5%,#2896ec 93.4%,#2699e9 95.3%,#2a92ef 97.2%,#2895ec 99.1%)"></div><div style="height:1px;background:linear-gradient(90deg,#3182f7 0.9%,#4657f6 2.8%,#4436d1 4.7%,#3f29b1 6.6%,#412dbb 8.5%,#4434ce 10.4%,#4230c4 12.3%,#3f29b2 14.2%,#3e27a9 16.0%,#3e26a8 17.9%,#3e26a8 19.8%,#3e27aa 21.7%,#3f28af 23.6%,#412dbb 25.5%,#4330c5 27.4%,#4536d4 29.2%,#4748ec 31.1%,#4168fd 33.0%,#3b72fe 34.9%,#4644e1 36.8%,#3e26a8 38.7%,#3e26a8 40.6%,#3f29b1 42.5%,#4557f4 44.3%,#2c8bf3 46.2%,#12afd6 48.1%,#2fc5a0 50.0%,#81cb59 51.9%,#c1c32c 53.8%,#aac73b 55.7%,#4bc987 57.5%,#267bd6 59.4%,#3765de 61.3%,#16adda 63.2%,#04bac4 65.1%,#11beb9 67.0%,#07bbc1 68.9%,#0db2d4 70.8%,#20a4e2 72.6%,#2993ee 74.5%,#3081fa 76.4%,#3579fd 78.3%,#337bfc 80.2%,#347afd 82.1%,#3876fe 84.0%,#3777fe 85.8%,#3080fa 87.7%,#2d89f5 89.6%,#2e87f7 91.5%,#317efb 93.4%,#2f83f9 95.3%,#2799e9 97.2%,#1babde 99.1%)"></div><div style="height:1px;background:linear-gradient(90deg,#4563fc 0.9%,#4269fe 2.8%,#4751f3 4.7%,#4848ec 6.6%,#4852f4 8.5%,#465efb 10.4%,#4368fe 12.3%,#3b72fe 14.2%,#3579fd 16.0%,#337bfd 17.9%,#3080fa 19.8%,#3579fc 21.7%,#465ffb 23.6%,#4465fd 25.5%,#3678fd 27.4%,#2e84f8 29.2%,#2d89f5 31.1%,#2d89f5 33.0%,#3876fc 34.9%,#4749eb 36.8%,#3f28ad 38.7%,#3e26a8 40.6%,#4553f1 42.5%,#2b8df1 44.3%,#1da9df 46.2%,#1aacdd 48.1%,#2893ee 50.0%,#2e87f4 51.9%,#18bfb6 53.8%,#31c5a1 55.7%,#12bdbb 57.5%,#2499e9 59.4%,#347afc 61.3%,#317dfc 63.2%,#2e85f8 65.1%,#2a92ef 67.0%,#2798ea 68.9%,#249ee6 70.8%,#1fa6e2 72.6%,#1baade 74.5%,#1aabdd 76.4%,#1da8e0 78.3%,#0eb2d4 80.2%,#0fbebb 82.1%,#15bfb8 84.0%,#0ebebb 85.8%,#0dbdbc 87.7%,#03bac4 89.6%,#0fb2d5 91.5%,#1ea6e1 93.4%,#249fe5 95.3%,#249ee6 97.2%,#2992ee 99.1%)"></div><div style="height:1px;background:linear-gradient(90deg,#4742e5 0.9%,#465dfa 2.8%,#4563fc 4.7%,#416afe 6.6%,#3d70ff 8.5%,#406cfe 10.4%,#4367fd 12.3%,#4561fc 14.2%,#4757f7 16.0%,#4748ec 17.9%,#4742e6 19.8%,#463ddf 21.7%,#4433cb 23.6%,#463ada 25.5%,#4748ec 27.4%,#4853f4 29.2%,#475af9 31.1%,#4268fd 33.0%,#3678fd 34.9%,#406afd 36.8%,#4337cc 38.7%,#3e27ab 40.6%,#464ded 42.5%,#347efa 44.3%,#2895ec 46.2%,#2993ee 48.1%,#3777fc 50.0%,#3e6bfb 51.9%,#259ce8 53.8%,#20a4e3 55.7%,#2992ef 57.5%,#4263fa 59.4%,#463ee0 61.3%,#4539d9 63.2%,#474def 65.1%,#367afa 67.0%,#22a0e5 68.9%,#0ab4d0 70.8%,#05bbc1 72.6%,#03bbc3 74.5%,#04b7cc 76.4%,#13b0d8 78.3%,#0cb3d3 80.2%,#04bbc3 82.1%,#05bbc1 84.0%,#03b7ca 85.8%,#12b1d7 87.7%,#1da8e0 89.6%,#21a3e3 91.5%,#22a2e4 93.4%,#239fe5 95.3%,#259be8 97.2%,#2b8ff1 99.1%)"></div><div style="height:1px;background:linear-gradient(90deg,#4537d3 0.9%,#484df0 2.8%,#4562fc 4.7%,#3f6efe 6.6%,#416bfe 8.5%,#475bf9 10.4%,#484bee 12.3%,#463de0 14.2%,#422fc2 16.0%,#3e27a9 17.9%,#3e26a8 19.8%,#3e26a8 21.7%,#3e26a8 23.6%,#3e26a8 25.5%,#3e26a8 27.4%,#3e26a8 29.2%,#3e27ac 31.1%,#4642e1 33.0%,#3679fa 34.9%,#2c8ff1 36.8%,#3e6afb 38.7%,#4741e5 40.6%,#465bf8 42.5%,#327ffa 44.3%,#2c8ff1 46.2%,#2d8af4 48.1%,#3080fa 50.0%,#327cfc 51.9%,#317dfc 53.8%,#3677fd 55.7%,#4462fb 57.5%,#463ddc 59.4%,#402ab4 61.3%,#4230c4 63.2%,#4745e7 65.1%,#3779f9 67.0%,#19a9dd 68.9%,#0ebdbc 70.8%,#1cc0b3 72.6%,#06bac5 74.5%,#19acdc 76.4%,#21a3e3 78.3%,#1ea7e1 80.2%,#1ea7e1 82.1%,#249ee6 84.0%,#2d8af4 85.8%,#3a73fe 87.7%,#4269fe 89.6%,#3a73fe 91.5%,#2d88f5 93.4%,#2798ea 95.3%,#259ce7 97.2%,#259de7 99.1%)"></div><div style="height:1px;background:linear-gradient(90deg,#4758f8 0.9%,#4853f4 2.8%,#4741e4 4.7%,#4230c4 6.6%,#3e27aa 8.5%,#3e27ab 10.4%,#4332ca 12.3%,#4747ea 14.2%,#4461fb 16.0%,#2f85f7 17.9%,#2699e9 19.8%,#2b8ef1 21.7%,#4262f9 23.6%,#422fc0 25.5%,#3e26a8 27.4%,#3e26a8 29.2%,#3f2ab2 31.1%,#474fef 33.0%,#357cfb 34.9%,#249de7 36.8%,#0ab4d0 38.7%,#0dbdbc 40.6%,#28c3a9 42.5%,#39c895 44.3%,#30c6a0 46.2%,#0bb9c5 48.1%,#20a3e3 50.0%,#2d8af4 51.9%,#3974fe 53.8%,#4368fd 55.7%,#3d70fe 57.5%,#2a90f0 59.4%,#1ca9df 61.3%,#1aabdd 63.2%,#269ae9 65.1%,#2e86f7 67.0%,#2f83f9 68.9%,#2d8bf3 70.8%,#2c8ef1 72.6%,#2f84f8 74.5%,#3e6ffe 76.4%,#357cf9 78.3%,#1aaadd 80.2%,#17addb 82.1%,#3086f5 84.0%,#474ced 85.8%,#4230c4 87.7%,#422ebf 89.6%,#4640e2 91.5%,#3f69fc 93.4%,#2797eb 95.3%,#10b1d5 97.2%,#02b7cb 99.1%)"></div><div style="height:1px;background:linear-gradient(90deg,#3f28ad 0.9%,#3e26a8 2.8%,#3e26a8 4.7%,#412cb8 6.6%,#4331c7 8.5%,#4333cb 10.4%,#4741e4 12.3%,#4755f6 14.2%,#4366fd 16.0%,#3c71ff 17.9%,#3c71ff 19.8%,#4464fc 21.7%,#474df0 23.6%,#4539d8 25.5%,#453ad9 27.4%,#4758f7 29.2%,#4851f3 31.1%,#4755f6 33.0%,#347ff8 34.9%,#11b0d5 36.8%,#08bcbe 38.7%,#0bb4d1 40.6%,#1baade 42.5%,#09b4d0 44.3%,#0bbdbd 46.2%,#17bfb6 48.1%,#0dbdbc 50.0%,#07b6cd 51.9%,#20a4e2 53.8%,#367bf9 55.7%,#347ef8 57.5%,#1da7e0 59.4%,#14b0d8 61.3%,#20a4e2 63.2%,#2b8ef1 65.1%,#327cfc 67.0%,#337bfc 68.9%,#2f81fa 70.8%,#2b90f0 72.6%,#20a4e3 74.5%,#1ca9df 76.4%,#15aed9 78.3%,#04bac4 80.2%,#06bbc1 82.1%,#17aadc 84.0%,#3c6df6 85.8%,#402bb6 87.7%,#422fc3 89.6%,#4332ca 91.5%,#463ada 93.4%,#484df0 95.3%,#4562fc 97.2%,#3c71fe 99.1%)"></div><div style="height:1px;background:linear-gradient(90deg,#3e26a8 0.9%,#3e26a8 2.8%,#3e27ac 4.7%,#4436d2 6.6%,#4539d8 8.5%,#4230c3 10.4%,#4330c5 12.3%,#4538d8 14.2%,#4742e6 16.0%,#4746ea 17.9%,#4742e6 19.8%,#463de0 21.7%,#463bdc 23.6%,#473fe2 25.5%,#4754f4 27.4%,#337bfc 29.2%,#3f6dfe 31.1%,#4564fd 33.0%,#3281f8 34.9%,#10b1d2 36.8%,#19bfb5 38.7%,#09b6cc 40.6%,#1ca9df 42.5%,#17aedb 44.3%,#09b4d1 46.2%,#04b6cd 48.1%,#0ab4d2 50.0%,#19acdc 51.9%,#259ce7 53.8%,#3876fa 55.7%,#3b71fc 57.5%,#2799ea 59.4%,#23a1e5 61.3%,#2994ed 63.2%,#317ffb 65.1%,#416bfe 67.0%,#4563fd 68.9%,#4562fc 70.8%,#3b72fd 72.6%,#2895ec 74.5%,#15aeda 76.4%,#06bbc3 78.3%,#26c2ac 80.2%,#32c69e 82.1%,#1ec1b0 84.0%,#2892ea 85.8%,#4748ec 87.7%,#465dfa 89.6%,#4757f7 91.5%,#4746ea 93.4%,#4538d6 95.3%,#3f28af 97.2%,#3f29af 99.1%)"></div><div style="height:1px;background:linear-gradient(90deg,#3e26a8 0.9%,#422fc1 2.8%,#4743e6 4.7%,#4747eb 6.6%,#4333c9 8.5%,#3e26a8 10.4%,#3e26a8 12.3%,#3e26a8 14.2%,#3e26a8 16.0%,#3e26a8 17.9%,#412cba 19.8%,#4433cd 21.7%,#463ada 23.6%,#4743e6 25.5%,#484ff2 27.4%,#465cfa 29.2%,#4268fe 31.1%,#3875fe 33.0%,#3080fa 34.9%,#1aa5df 36.8%,#1ac0b4 38.7%,#2bc3a8 40.6%,#26c2ad 42.5%,#10beba 44.3%,#0fb1d5 46.2%,#2897eb 48.1%,#3876fd 50.0%,#465efb 51.9%,#4759f8 53.8%,#4758f8 55.7%,#4851f3 57.5%,#4069fd 59.4%,#2f81fa 61.3%,#307ffb 63.2%,#3a73fe 65.1%,#465af8 67.0%,#4743e7 68.9%,#463ada 70.8%,#463bdd 72.6%,#4753f4 74.5%,#3282f7 76.4%,#12afd6 78.3%,#2cc4a3 80.2%,#4dcb82 82.1%,#3cc893 84.0%,#1baad5 85.8%,#2b8df2 87.7%,#1aabdd 89.6%,#1ea7e0 91.5%,#2b8ef1 93.4%,#435ff8 95.3%,#3f29b1 97.2%,#3e26a8 99.1%)"></div><div style="height:1px;background:linear-gradient(90deg,#3e27a9 0.9%,#3f28af 2.8%,#3f28ad 4.7%,#3e26a8 6.6%,#3e26a8 8.5%,#3e26a8 10.4%,#3e26a8 12.3%,#3e27ab 14.2%,#412dbc 16.0%,#4331c8 17.9%,#4539d8 19.8%,#474aed 21.7%,#4560fb 23.6%,#3c71fe 25.5%,#3b72fe 27.4%,#465efa 29.2%,#4748ec 31.1%,#474def 33.0%,#347ef8 34.9%,#1ea7e1 36.8%,#249ee7 38.7%,#3679fc 40.6%,#416bfe 42.5%,#3876fe 44.3%,#307ffb 46.2%,#2f80fa 48.1%,#3974fe 50.0%,#4752f3 51.9%,#4657f6 53.8%,#3b73fe 55.7%,#3777fe 57.5%,#3b72fe 59.4%,#4657f5 61.3%,#402bb7 63.2%,#4747e9 65.1%,#4561fc 67.0%,#3e6ffe 68.9%,#317ffa 70.8%,#2a92ef 72.6%,#1ca8de 74.5%,#05bac4 76.4%,#0abdbd 78.3%,#0ab4d1 80.2%,#20a4e3 82.1%,#269ae8 84.0%,#2699e9 85.8%,#21a2e4 87.7%,#0eb2d4 89.6%,#0eb2d4 91.5%,#1da8e0 93.4%,#2896eb 95.3%,#3679fa 97.2%,#3974fc 99.1%)"></div><div style="height:1px;background:linear-gradient(90deg,#4742e5 0.9%,#4537d5 2.8%,#402bb7 4.7%,#3e26a8 6.6%,#3e26a8 8.5%,#3e26a8 10.4%,#3e26a8 12.3%,#3e26a8 14.2%,#3e26a8 16.0%,#412ebd 17.9%,#463bdc 19.8%,#4849ed 21.7%,#4852f4 23.6%,#4853f5 25.5%,#484cef 27.4%,#463bdb 29.2%,#412dbc 31.1%,#4437d2 33.0%,#3380f3 34.9%,#13bcbe 36.8%,#10bbc1 38.7%,#2795ed 40.6%,#4267fc 42.5%,#474aed 44.3%,#463bdc 46.2%,#4536d4 48.1%,#4434ce 50.0%,#463ada 51.9%,#4360f9 53.8%,#2d8af4 55.7%,#2699e9 57.5%,#2699e9 59.4%,#2f86f6 61.3%,#4464fc 63.2%,#3678fd 65.1%,#2e84f9 67.0%,#3579fd 68.9%,#357bfc 70.8%,#2799ea 72.6%,#1aabdd 74.5%,#08b5d0 76.4%,#08b4d0 78.3%,#18addc 80.2%,#22a2e4 82.1%,#23a0e5 84.0%,#1aabdd 85.8%,#06b9c6 87.7%,#22c1af 89.6%,#26c2ac 91.5%,#0abbc1 93.4%,#1ca8df 95.3%,#3085f6 97.2%,#465cf9 99.1%)"></div><div style="height:1px;background:linear-gradient(90deg,#4465fd 0.9%,#4753f4 2.8%,#463bdb 4.7%,#3f28ae 6.6%,#3e26a8 8.5%,#3e26a8 10.4%,#3e26a8 12.3%,#3e26a8 14.2%,#3e26a8 16.0%,#3e26a8 17.9%,#4333cb 19.8%,#4743e7 21.7%,#4746ea 23.6%,#473fe2 25.5%,#4332ca 27.4%,#3f29b1 29.2%,#3e27aa 31.1%,#4436cf 33.0%,#3183f2 34.9%,#37c696 36.8%,#67cc6d 38.7%,#1ec0b1 40.6%,#2794ed 42.5%,#4656f4 44.3%,#4230c2 46.2%,#3e26a8 48.1%,#3e26a8 50.0%,#4642e0 51.9%,#367bfa 53.8%,#249ee6 55.7%,#18addb 57.5%,#12b1d6 59.4%,#1baade 61.3%,#259be8 63.2%,#21a4e3 65.1%,#23a0e5 67.0%,#3084f7 68.9%,#3b72fe 70.8%,#2f82fa 72.6%,#2d8bf4 74.5%,#2797eb 76.4%,#259ce7 78.3%,#22a2e4 80.2%,#1ea7e1 82.1%,#1babde 84.0%,#0db2d4 85.8%,#0bbcbe 87.7%,#28c3aa 89.6%,#27c2ab 91.5%,#0bb8c7 93.4%,#249ee6 95.3%,#3974fb 97.2%,#4641e1 99.1%)"></div><div style="height:1px;background:linear-gradient(90deg,#3f6efe 0.9%,#4269fe 2.8%,#474def 4.7%,#412cb9 6.6%,#3e26a8 8.5%,#3e26a8 10.4%,#3e26a8 12.3%,#3e26a8 14.2%,#3e26a8 16.0%,#3e26a8 17.9%,#3f28ad 19.8%,#4747e9 21.7%,#3876fc 23.6%,#2d8df3 25.5%,#3974fd 27.4%,#4753f5 29.2%,#4849ed 31.1%,#4755f6 33.0%,#3184f5 34.9%,#1cbdb8 36.8%,#46cb88 38.7%,#34c79b 40.6%,#0bbbc1 42.5%,#19acdc 44.3%,#249ee6 46.2%,#2797ea 48.1%,#2896eb 50.0%,#22a1e4 51.9%,#16aeda 53.8%,#0fb2d5 55.7%,#18addc 57.5%,#239fe6 59.4%,#3778f8 61.3%,#4335cc 63.2%,#3679f8 65.1%,#21a1e4 67.0%,#18addb 68.9%,#1fa5e2 70.8%,#3e68f7 72.6%,#455af7 74.5%,#307ffb 76.4%,#3080fb 78.3%,#347afd 80.2%,#3876fe 82.1%,#3677fe 84.0%,#2f81fa 85.8%,#2d8af4 87.7%,#2d8cf3 89.6%,#3081fa 91.5%,#4366fd 93.4%,#4069fc 95.3%,#239de7 97.2%,#10bcbe 99.1%)"></div><div style="height:1px;background:linear-gradient(90deg,#4850f2 0.9%,#484ff2 2.8%,#4849ed 4.7%,#4740e4 6.6%,#4435cf 8.5%,#3f29b1 10.4%,#3e26a8 12.3%,#3e26a8 14.2%,#412dbb 16.0%,#4433cd 17.9%,#4434cf 19.8%,#4745e9 21.7%,#4266fc 23.6%,#2f82f9 25.5%,#2e86f7 27.4%,#2e86f7 29.2%,#3877fc 31.1%,#4562fc 33.0%,#3381f8 34.9%,#1fa6e1 36.8%,#259be8 38.7%,#3c6ffc 40.6%,#4854f5 42.5%,#465dfa 44.3%,#3e6ffe 46.2%,#2f84f8 48.1%,#269ae9 50.0%,#1baade 51.9%,#15afd9 53.8%,#19acdc 55.7%,#20a4e3 57.5%,#249ee6 59.4%,#2897eb 61.3%,#2d88f6 63.2%,#1fa4e2 65.1%,#08b5cf 67.0%,#15bfb7 68.9%,#29c3a9 70.8%,#0cbac4 72.6%,#13b0d7 74.5%,#1baade 76.4%,#2799ea 78.3%,#2e86f7 80.2%,#3c71fe 82.1%,#465dfa 84.0%,#4759f9 85.8%,#416afe 87.7%,#2f82f9 89.6%,#2d8cf3 91.5%,#347cfb 93.4%,#4659f8 95.3%,#463cdb 97.2%,#4434cd 99.1%)"></div><div style="height:1px;background:linear-gradient(90deg,#4747eb 0.9%,#463cde 2.8%,#4435d1 4.7%,#4433cd 6.6%,#4537d6 8.5%,#4744e8 10.4%,#484cef 12.3%,#484ef1 14.2%,#4758f8 16.0%,#4750f2 17.9%,#4538d7 19.8%,#4435d0 21.7%,#4745e9 23.6%,#4463fc 25.5%,#2f85f7 27.4%,#20a5e2 29.2%,#2c8cf2 31.1%,#4368fd 33.0%,#3282f7 34.9%,#1baade 36.8%,#21a1e4 38.7%,#3b72fc 40.6%,#4852f4 42.5%,#465efa 44.3%,#3777fd 46.2%,#2a92ee 48.1%,#1aaadd 50.0%,#06b5cf 51.9%,#16addb 53.8%,#21a3e3 55.7%,#1da8e0 57.5%,#1ea7e1 59.4%,#12b0d7 61.3%,#04bac4 63.2%,#16bfb7 65.1%,#24c2ae 67.0%,#31c69f 68.9%,#41ca8d 70.8%,#46cb88 72.6%,#36c79a 74.5%,#2ac3a9 76.4%,#14bfb8 78.3%,#0ab4d0 80.2%,#22a1e4 82.1%,#2d8af4 84.0%,#317dfc 85.8%,#2b8df2 87.7%,#1ba9de 89.6%,#08b5d0 91.5%,#18acdb 93.4%,#3184f6 95.3%,#453fd9 97.2%,#3e26a8 99.1%)"></div><div style="height:1px;background:linear-gradient(90deg,#4851f3 0.9%,#4436d0 2.8%,#3e26a8 4.7%,#3e26a8 6.6%,#3e26a8 8.5%,#4336cd 10.4%,#484ff1 12.3%,#484ff2 14.2%,#4851f3 16.0%,#4741e3 17.9%,#402bb7 19.8%,#3e26a8 21.7%,#3f29b0 23.6%,#463ede 25.5%,#3c6ffa 27.4%,#1ca8df 29.2%,#3282f7 31.1%,#4465fd 33.0%,#3086f4 34.9%,#21c0b0 36.8%,#57cc7a 38.7%,#35c79a 40.6%,#08b9c6 42.5%,#11b1d6 44.3%,#09b4d1 46.2%,#04bac3 48.1%,#1cc0b3 50.0%,#23c1af 51.9%,#14add6 53.8%,#21a0e4 55.7%,#02b7cb 57.5%,#09b4d1 59.4%,#03b8ca 61.3%,#1ec1b0 63.2%,#39c895 65.1%,#40ca8d 67.0%,#3ac994 68.9%,#32c69e 70.8%,#2fc5a3 72.6%,#30c5a2 74.5%,#64cb6f 76.4%,#a6c83d 78.3%,#93ca4a 80.2%,#5ecc74 82.1%,#39c896 84.0%,#1dc0b2 85.8%,#24c2ab 87.7%,#53cc7e 89.6%,#5acc78 91.5%,#3cc993 93.4%,#14beb9 95.3%,#1da5e0 97.2%,#3877fb 99.1%)"></div><div style="height:1px;background:linear-gradient(90deg,#3f28ae 0.9%,#3f28af 2.8%,#422fc1 4.7%,#4435d1 6.6%,#463ee0 8.5%,#4753f4 10.4%,#4269fe 12.3%,#3974fe 14.2%,#347afd 16.0%,#3a73fe 17.9%,#4561fb 19.8%,#474aee 21.7%,#4538d7 23.6%,#422fc1 25.5%,#412cbb 27.4%,#4332c9 29.2%,#4330c5 31.1%,#4748ea 33.0%,#357cfa 34.9%,#2d8df2 36.8%,#2797ea 38.7%,#249ee6 40.6%,#22a1e4 42.5%,#22a1e4 44.3%,#249fe5 46.2%,#23a0e5 48.1%,#1ca9df 50.0%,#05b7ca 51.9%,#0ebebb 53.8%,#20c1b0 55.7%,#21c1af 57.5%,#12aed7 59.4%,#3978f9 61.3%,#357cf7 63.2%,#15b9c4 65.1%,#4bcb84 67.0%,#77cc60 68.9%,#6ecd67 70.8%,#4ecc81 72.6%,#40ca8d 74.5%,#5ccc76 76.4%,#8fca4e 78.3%,#a4c83e 80.2%,#89cb52 82.1%,#48ca88 84.0%,#10bac1 85.8%,#1da8e0 87.7%,#1ea8e1 89.6%,#1da9e0 91.5%,#21a3e3 93.4%,#249fe5 95.3%,#22a1e4 97.2%,#239fe5 99.1%)"></div><div style="height:1px;background:linear-gradient(90deg,#412dbb 0.9%,#412cba 2.8%,#4331c6 4.7%,#463adb 6.6%,#4746ea 8.5%,#4759f8 10.4%,#3d70fe 12.3%,#327cfc 14.2%,#3579fd 16.0%,#465efa 17.9%,#4748ec 19.8%,#463bdd 21.7%,#4536d4 23.6%,#4537d5 25.5%,#463cde 27.4%,#463adb 29.2%,#4331c7 31.1%,#4641e1 33.0%,#347ff7 34.9%,#20a5e2 36.8%,#1ea7e1 38.7%,#23a0e5 40.6%,#1ea7e1 42.5%,#1ca9df 44.3%,#22a1e4 46.2%,#2797eb 48.1%,#22a0e5 50.0%,#0ab4d0 51.9%,#12beb9 53.8%,#12beb9 55.7%,#0eb2d3 57.5%,#2a90f0 59.4%,#4558f6 61.3%,#4654f4 63.2%,#3180fa 65.1%,#2b90f0 67.0%,#0fb1d1 68.9%,#1abfb5 70.8%,#0fbebb 72.6%,#02bac3 74.5%,#11beba 76.4%,#2dc4a5 78.3%,#33c69e 80.2%,#56cc7b 82.1%,#77cc60 84.0%,#47ca89 85.8%,#10bcbe 87.7%,#1ca8df 89.6%,#3f67f8 91.5%,#2d8af3 93.4%,#2798ea 95.3%,#2a93ee 97.2%,#2f82f9 99.1%)"></div><div style="height:1px;background:linear-gradient(90deg,#4538d7 0.9%,#4435d1 2.8%,#4330c5 4.7%,#422fc0 6.6%,#4331c6 8.5%,#463ada 10.4%,#484ef1 12.3%,#4756f6 14.2%,#484df0 16.0%,#4332c7 17.9%,#3e27ab 19.8%,#3e26a8 21.7%,#402cb8 23.6%,#4745e7 25.5%,#4267fd 27.4%,#3b72fe 29.2%,#4756f6 31.1%,#484bee 33.0%,#3185f3 34.9%,#1bbfb4 36.8%,#18beb7 38.7%,#22a1e4 40.6%,#249de7 42.5%,#22a2e4 44.3%,#259de7 46.2%,#2798ea 48.1%,#1ca7df 50.0%,#0bbbc0 51.9%,#28c2ab 53.8%,#1cc0b3 55.7%,#0cb3d1 57.5%,#269ae9 59.4%,#3081fa 61.3%,#3f6dfe 63.2%,#475af8 65.1%,#463adb 67.0%,#3f64f7 68.9%,#2994ed 70.8%,#22a2e4 72.6%,#21a4e3 74.5%,#1ea7e1 76.4%,#1baade 78.3%,#20a4e3 80.2%,#16bac1 82.1%,#57cc7a 84.0%,#6bcd69 85.8%,#3fc991 87.7%,#12b5ca 89.6%,#3e53e5 91.5%,#3187f3 93.4%,#2798ea 95.3%,#3182f8 97.2%,#4658f6 99.1%)"></div><div style="height:1px;background:linear-gradient(90deg,#402bb6 0.9%,#4539d9 2.8%,#4639d9 4.7%,#3f28ae 6.6%,#3e26a8 8.5%,#3e26a8 10.4%,#3e26a8 12.3%,#3e26a8 14.2%,#3e26a8 16.0%,#3e26a8 17.9%,#3e27aa 19.8%,#3e26a8 21.7%,#3e26a9 23.6%,#4640df 25.5%,#3d6efd 27.4%,#2d8af4 29.2%,#2f83f8 31.1%,#416bfe 33.0%,#3087f4 34.9%,#10bac3 36.8%,#13b1cf 38.7%,#4058ed 40.6%,#453bd9 42.5%,#484ef1 44.3%,#4265fc 46.2%,#2795ed 48.1%,#10b9c5 50.0%,#48ca88 51.9%,#9fc842 53.8%,#debd2c 55.7%,#f3ba39 57.5%,#e3bc2e 59.4%,#9fc843 61.3%,#37c698 63.2%,#16aadb 65.1%,#367bfb 67.0%,#4464fd 68.9%,#337ff9 70.8%,#1ca7df 72.6%,#02b7cb 74.5%,#0bb3d2 76.4%,#22a0e5 78.3%,#2d88f5 80.2%,#2f81fa 82.1%,#2b90f0 84.0%,#1ea7e0 85.8%,#0cb3d3 87.7%,#10b1d6 89.6%,#22a0e5 91.5%,#2994ed 93.4%,#2e86f7 95.3%,#3579fd 97.2%,#4464fc 99.1%)"></div><div style="height:1px;background:linear-gradient(90deg,#3e60eb 0.9%,#4538d7 2.8%,#4639da 4.7%,#4332c8 6.6%,#3e27aa 8.5%,#3e26a8 10.4%,#3e26a8 12.3%,#3e26a8 14.2%,#3f28ae 16.0%,#4538d4 17.9%,#484df0 19.8%,#465cfa 21.7%,#4660fb 23.6%,#465efb 25.5%,#4465fd 27.4%,#4562fc 29.2%,#4851f3 31.1%,#484aee 33.0%,#3086f2 34.9%,#27c4a5 36.8%,#34c69b 38.7%,#17a8dc 40.6%,#2f85f7 42.5%,#416bfe 44.3%,#3975fd 46.2%,#249de7 48.1%,#0ab8c7 50.0%,#28c3aa 51.9%,#30c5a1 53.8%,#2bc4a7 55.7%,#28c3ab 57.5%,#2ec5a4 59.4%,#34c79c 61.3%,#23c2ad 63.2%,#14add8 65.1%,#3282f7 67.0%,#4645e4 68.9%,#453ad7 70.8%,#4364fc 72.6%,#3080fa 74.5%,#2d8bf3 76.4%,#2e88f6 78.3%,#3875fd 80.2%,#4754f4 82.1%,#4744e8 84.0%,#465cf9 85.8%,#337dfb 87.7%,#269ae9 89.6%,#15aed9 91.5%,#02b8c9 93.4%,#03bbc2 95.3%,#07b6cd 97.2%,#259be8 99.1%)"></div><div style="height:1px;background:linear-gradient(90deg,#3c50d9 0.9%,#3e26a8 2.8%,#3e26a8 4.7%,#3e26a8 6.6%,#3f28af 8.5%,#402bb6 10.4%,#402bb7 12.3%,#402ab4 14.2%,#412dbb 16.0%,#4537d5 17.9%,#4750f2 19.8%,#3679fc 21.7%,#2f84f8 23.6%,#3d70fe 25.5%,#4465fd 27.4%,#465dfa 29.2%,#484ef1 31.1%,#484cef 33.0%,#3086f2 34.9%,#2bc4a2 36.8%,#63cd70 38.7%,#3fc990 40.6%,#10bbc0 42.5%,#21a2e3 44.3%,#239fe6 46.2%,#19acdc 48.1%,#0fb2d5 50.0%,#1baade 51.9%,#1ea7e1 53.8%,#1caadf 55.7%,#19addc 57.5%,#0cb3d2 59.4%,#01b8ca 61.3%,#11b0d6 63.2%,#2993ee 65.1%,#3e6bfc 67.0%,#4437cf 68.9%,#402ab3 70.8%,#473fe2 72.6%,#484ff2 74.5%,#4463fc 76.4%,#327ffb 78.3%,#2d8af5 80.2%,#357afc 82.1%,#4563fc 84.0%,#4169fd 85.8%,#2b8df1 87.7%,#17acdb 89.6%,#0cbcbe 91.5%,#29c3aa 93.4%,#2bc3a8 95.3%,#0ebcbe 97.2%,#229fe5 99.1%)"></div><div style="height:1px;background:linear-gradient(90deg,#3e26a8 0.9%,#3e26a8 2.8%,#3e26a8 4.7%,#3e26a8 6.6%,#3e26a8 8.5%,#3e26a8 10.4%,#3e26a8 12.3%,#3e26a8 14.2%,#3e26a8 16.0%,#3e26a8 17.9%,#3f29af 19.8%,#4744e5 21.7%,#4269fd 23.6%,#4465fd 25.5%,#4367fd 27.4%,#3678fd 29.2%,#317dfc 31.1%,#3c71ff 33.0%,#2e88f5 34.9%,#1dbcba 36.8%,#6bcc6a 38.7%,#7acc5e 40.6%,#57cc7a 42.5%,#3bc993 44.3%,#2dc4a5 46.2%,#14beb8 48.1%,#12aed8 50.0%,#3084f6 51.9%,#2e89f3 53.8%,#0eb2d3 55.7%,#1cc0b3 57.5%,#27c2ab 59.4%,#0cb9c6 61.3%,#2699ea 63.2%,#3d6ffd 65.1%,#4757f7 67.0%,#4852f4 68.9%,#4759f8 70.8%,#475cfa 72.6%,#4854f5 74.5%,#465df9 76.4%,#2c8cf2 78.3%,#0db3d1 80.2%,#23c1ae 82.1%,#19bfb5 84.0%,#05b6cc 85.8%,#24c2ab 87.7%,#3ac994 89.6%,#33c69d 91.5%,#14beb8 93.4%,#12afd7 95.3%,#2895ec 97.2%,#3c6ffd 99.1%)"></div><div style="height:1px;background:linear-gradient(90deg,#3e27a9 0.9%,#3f29b0 2.8%,#4331c6 4.7%,#463bdd 6.6%,#4742e6 8.5%,#4743e7 10.4%,#4743e7 12.3%,#4747ec 14.2%,#463edf 16.0%,#3f29af 17.9%,#3e26a8 19.8%,#3e26a8 21.7%,#3e26a8 23.6%,#3e26a8 25.5%,#402ab3 27.4%,#4648e8 29.2%,#4367fd 31.1%,#4755f6 33.0%,#3087f3 34.9%,#2ec4a0 36.8%,#9ac945 38.7%,#b3c534 40.6%,#aac73a 42.5%,#a9c73b 44.3%,#bac430 46.2%,#d3bf28 48.1%,#d7be28 50.0%,#acc63a 51.9%,#6ccc69 53.8%,#3ec991 55.7%,#2ac3a9 57.5%,#25c2ad 59.4%,#2ec5a4 61.3%,#42ca8c 63.2%,#79cc5e 65.1%,#c8c12e 67.0%,#fabe39 68.9%,#fec636 70.8%,#e7bd32 72.6%,#79ca5f 74.5%,#21c2ad 76.4%,#05b7cc 78.3%,#12b1d6 80.2%,#1babde 82.1%,#23a0e5 84.0%,#2a92ee 85.8%,#2c8ef1 87.7%,#2d88f6 89.6%,#307ffb 91.5%,#3a74fe 93.4%,#4269fe 95.3%,#465dfa 97.2%,#4746e9 99.1%)"></div><div style="height:1px;background:linear-gradient(90deg,#4852f4 0.9%,#4850f3 2.8%,#4851f3 4.7%,#484ff2 6.6%,#484cef 8.5%,#484bef 10.4%,#4852f4 12.3%,#4755f6 14.2%,#453ad7 16.0%,#3e26a8 17.9%,#3e26a8 19.8%,#3e26a8 21.7%,#3e26a8 23.6%,#3e26a8 25.5%,#3e26a8 27.4%,#3e26a9 29.2%,#402bb6 31.1%,#4230c1 33.0%,#2e87ed 34.9%,#73c768 36.8%,#e7bb30 38.7%,#e5bb2e 40.6%,#c6c22b 42.5%,#92ca4c 44.3%,#57cc7a 46.2%,#35c79b 48.1%,#27c2ab 50.0%,#3ac895 51.9%,#5fcc73 53.8%,#77cc60 55.7%,#81cc58 57.5%,#82cc58 59.4%,#89cb53 61.3%,#8ccb50 63.2%,#87cb54 65.1%,#7bcc5d 67.0%,#76cc61 68.9%,#9fc942 70.8%,#91ca4c 72.6%,#46c98b 74.5%,#11b5cc 76.4%,#337ef5 78.3%,#465cf9 80.2%,#426afe 82.1%,#406dfe 84.0%,#406dfe 85.8%,#4368fe 87.7%,#4562fc 89.6%,#465dfa 91.5%,#475af9 93.4%,#465dfa 95.3%,#4561fc 97.2%,#4758f7 99.1%)"></div><div style="height:1px;background:linear-gradient(90deg,#3c72ff 0.9%,#416bfe 2.8%,#4561fc 4.7%,#4853f5 6.6%,#4747eb 8.5%,#4848ec 10.4%,#4757f7 12.3%,#4755f6 14.2%,#4231c3 16.0%,#3e26a8 17.9%,#3e26a8 19.8%,#3e26a8 21.7%,#3e26a8 23.6%,#3e26a8 25.5%,#3e26a8 27.4%,#3e26a8 29.2%,#3e26a8 31.1%,#402bb4 33.0%,#2b87ea 34.9%,#86c759 36.8%,#d2bf28 38.7%,#d2bf28 40.6%,#a0c842 42.5%,#45c98b 44.3%,#10b4cd 46.2%,#2992ee 48.1%,#3479fd 50.0%,#259ae9 51.9%,#1dc0b1 53.8%,#76cb62 55.7%,#b8c431 57.5%,#c0c32d 59.4%,#aac73a 61.3%,#68cc6c 63.2%,#20c2ad 65.1%,#17aadc 67.0%,#2a92ee 68.9%,#1fa5e2 70.8%,#0fb2d5 72.6%,#17aeda 74.5%,#2796ec 76.4%,#4156ec 78.3%,#4436d0 80.2%,#4753f5 82.1%,#465efb 84.0%,#4466fd 85.8%,#426afe 87.7%,#4562fc 89.6%,#4759f8 91.5%,#4561fc 93.4%,#406cfe 95.3%,#3d70ff 97.2%,#406cfe 99.1%)"></div><div style="height:1px;background:linear-gradient(90deg,#4758f7 0.9%,#3b72fe 2.8%,#327cfc 4.7%,#3c71fe 6.6%,#4758f7 8.5%,#484ef1 10.4%,#4560fb 12.3%,#4562fc 14.2%,#4851f3 16.0%,#463ddf 17.9%,#422fc0 19.8%,#3f29b2 21.7%,#4230c3 23.6%,#4743e5 25.5%,#4759f8 27.4%,#475bf9 29.2%,#484ef1 31.1%,#484df0 33.0%,#3087f2 34.9%,#16beb9 36.8%,#1ba1e0 38.7%,#1abeb9 40.6%,#27c2ac 42.5%,#09bcc0 44.3%,#07b5cf 46.2%,#07b5cf 48.1%,#02b8c9 50.0%,#0ebdbb 51.9%,#28c3aa 53.8%,#2ec5a4 55.7%,#24c2ae 57.5%,#11beba 59.4%,#06bcc0 61.3%,#06b6cd 63.2%,#14b0d8 65.1%,#0ab4d1 67.0%,#16bfb7 68.9%,#38c897 70.8%,#43ca8b 72.6%,#35c79a 74.5%,#2dc4a5 76.4%,#33c69d 78.3%,#2bc3a7 80.2%,#0bb8c7 82.1%,#1fa5e2 84.0%,#259de7 85.8%,#2798ea 87.7%,#3875fa 89.6%,#484df0 91.5%,#406afd 93.4%,#3678fd 95.3%,#455af6 97.2%,#474dee 99.1%)"></div><div style="height:1px;background:linear-gradient(90deg,#4437d2 0.9%,#484cef 2.8%,#4758f8 4.7%,#4759f8 6.6%,#4746ea 8.5%,#4539d8 10.4%,#463ddf 12.3%,#4745e9 14.2%,#484ef1 16.0%,#4852f4 17.9%,#484ef1 19.8%,#4748ec 21.7%,#4744e8 23.6%,#4746ea 25.5%,#484ff2 27.4%,#4759f8 29.2%,#4466fd 31.1%,#3f6efe 33.0%,#2f86f6 34.9%,#1ba9de 36.8%,#249de7 38.7%,#2995ec 40.6%,#2b90f0 42.5%,#2a92ef 44.3%,#2d88f6 46.2%,#2d88f6 48.1%,#2897eb 50.0%,#14aed9 51.9%,#1bc0b2 53.8%,#5bcc77 55.7%,#9bc944 57.5%,#a3c83f 59.4%,#87cb54 61.3%,#6fcd66 63.2%,#61cd72 65.1%,#4acb85 67.0%,#2dc5a4 68.9%,#0abcbf 70.8%,#0ab4d1 72.6%,#1fa5e2 74.5%,#2797ea 76.4%,#259ce7 78.3%,#1baade 80.2%,#16afd9 82.1%,#20a4e2 84.0%,#2e88f5 85.8%,#465af8 87.7%,#4757f7 89.6%,#475bf9 91.5%,#3875fd 93.4%,#2e88f6 95.3%,#2d8af4 97.2%,#2a91ef 99.1%)"></div><div style="height:1px;background:linear-gradient(90deg,#3e26a8 0.9%,#3f29b1 2.8%,#4331c8 4.7%,#463bdc 6.6%,#463bdd 8.5%,#463ada 10.4%,#463bdc 12.3%,#4741e4 14.2%,#484cef 16.0%,#4755f6 17.9%,#475bf9 19.8%,#4562fc 21.7%,#416cfe 23.6%,#4563fc 25.5%,#4759f8 27.4%,#465efb 29.2%,#3f6dfe 31.1%,#3975fe 33.0%,#2e86f6 34.9%,#1ea6e0 36.8%,#14b0d8 38.7%,#2796ec 40.6%,#2e85f8 42.5%,#2c8df2 44.3%,#2b91ef 46.2%,#2994ed 48.1%,#269be8 50.0%,#22a2e4 51.9%,#1ea7e1 53.8%,#15bbbf 55.7%,#69cb6b 57.5%,#afc637 59.4%,#afc637 61.3%,#91ca4c 63.2%,#5dcc75 65.1%,#1fc1ae 67.0%,#1ba6df 68.9%,#2d8af4 70.8%,#2f82fa 72.6%,#3579fd 74.5%,#3f6efe 76.4%,#3f6efe 78.3%,#3678fe 80.2%,#3e6dfe 82.1%,#3a73fd 84.0%,#3c71fd 85.8%,#4752f3 87.7%,#4365fc 89.6%,#3080fa 91.5%,#2a92ee 93.4%,#23a0e5 95.3%,#1baade 97.2%,#10b2d5 99.1%)"></div><div style="height:1px;background:linear-gradient(90deg,#3e26a8 0.9%,#3e26a8 2.8%,#3e26a8 4.7%,#412cba 6.6%,#4743e6 8.5%,#4758f7 10.4%,#465ffb 12.3%,#4759f8 14.2%,#484df0 16.0%,#4848ec 17.9%,#4850f2 19.8%,#3f6bfd 21.7%,#2895ec 23.6%,#2994ed 25.5%,#357afc 27.4%,#4269fe 29.2%,#4562fc 31.1%,#465ffb 33.0%,#2f87f4 34.9%,#10b7c8 36.8%,#29c3aa 38.7%,#15beb8 40.6%,#0ab4d1 42.5%,#08b6cd 44.3%,#22c1ae 46.2%,#31c6a0 48.1%,#19bfb4 50.0%,#1aa7de 51.9%,#3e6afa 53.8%,#445cf8 55.7%,#249ae9 57.5%,#16beb8 59.4%,#37c898 61.3%,#22c2ac 63.2%,#18a9dc 65.1%,#3a73fb 67.0%,#4640e1 68.9%,#4536d2 70.8%,#474ef0 72.6%,#406afe 74.5%,#337bfc 76.4%,#347afd 78.3%,#445ff9 80.2%,#402cb7 82.1%,#4234c6 84.0%,#4365fc 85.8%,#3081f9 87.7%,#2993ed 89.6%,#21a3e3 91.5%,#14afd8 93.4%,#06b5cf 95.3%,#0ab4d2 97.2%,#18addb 99.1%)"></div><div style="height:1px;background:linear-gradient(90deg,#4854f5 0.9%,#4852f4 2.8%,#4462fc 4.7%,#3083f8 6.6%,#2c90f0 8.5%,#2b91ef 10.4%,#2c8ff0 12.3%,#3975fc 14.2%,#4749eb 16.0%,#422fc0 17.9%,#3e27ab 19.8%,#412cba 21.7%,#463edf 23.6%,#3e66f8 25.5%,#3f57eb 27.4%,#3f28ad 29.2%,#3e26a8 31.1%,#453ad5 33.0%,#3086f2 34.9%,#28c3a5 36.8%,#7bcc5d 38.7%,#87cb54 40.6%,#6dcd68 42.5%,#51cc7f 44.3%,#37c897 46.2%,#18bfb5 48.1%,#01b8c9 50.0%,#03bac3 51.9%,#05b7cb 53.8%,#19acdd 55.7%,#20a4e3 57.5%,#22a1e4 59.4%,#1ea7e1 61.3%,#18addb 63.2%,#1ea7e1 65.1%,#2c8bf3 67.0%,#445ff9 68.9%,#473fe2 70.8%,#4743e6 72.6%,#3976f9 74.5%,#18aadc 76.4%,#09bcbf 78.3%,#06bac4 80.2%,#21a1e4 82.1%,#2e87f6 84.0%,#3b71fd 85.8%,#4751f2 87.7%,#4332c8 89.6%,#453ad6 91.5%,#4166fc 93.4%,#2d89f4 95.3%,#2a92ee 97.2%,#415ef6 99.1%)"></div><div style="height:1px;background:linear-gradient(90deg,#2d89f6 0.9%,#2e87f7 2.8%,#2d8cf3 4.7%,#2799ea 6.6%,#2895ec 8.5%,#317ffa 10.4%,#406bfe 12.3%,#474bed 14.2%,#402bb5 16.0%,#3e26a8 17.9%,#3e26a8 19.8%,#3e26a8 21.7%,#402bb7 23.6%,#464eed 25.5%,#4652f1 27.4%,#4538d7 29.2%,#4539d9 31.1%,#474def 33.0%,#3087f3 34.9%,#1dbeb5 36.8%,#5ccc75 38.7%,#67cd6c 40.6%,#4ecb81 42.5%,#2fc5a2 44.3%,#09b9c6 46.2%,#1baade 48.1%,#20a5e2 50.0%,#13b0d8 51.9%,#09b4d1 53.8%,#1aabdd 55.7%,#2798ea 57.5%,#2d88f6 59.4%,#2f82f9 61.3%,#3777fd 63.2%,#474bed 65.1%,#4849ed 67.0%,#463fe2 68.9%,#4435d0 70.8%,#4746e8 72.6%,#3282f6 74.5%,#0db3d1 76.4%,#19bfb5 78.3%,#0abcbf 80.2%,#18abdc 82.1%,#2b8ef1 84.0%,#406afd 85.8%,#474aed 87.7%,#4230c4 89.6%,#412dbb 91.5%,#4640e2 93.4%,#4560fb 95.3%,#3876fe 97.2%,#4462fb 99.1%)"></div><div style="height:1px;background:linear-gradient(90deg,#2e85f8 0.9%,#2e85f8 2.8%,#2f82fa 4.7%,#2f81fa 6.6%,#3876fd 8.5%,#4758f7 10.4%,#463ee0 12.3%,#402ab4 14.2%,#3e26a8 16.0%,#3e26a8 17.9%,#3e26a8 19.8%,#3e26a8 21.7%,#422fc2 23.6%,#4744e7 25.5%,#4755f6 27.4%,#4661fc 29.2%,#4466fd 31.1%,#406cfe 33.0%,#2e87f6 34.9%,#1fa6e2 36.8%,#0eb8c7 38.7%,#22c1b0 40.6%,#1fc0b2 42.5%,#08bbc1 44.3%,#13afd8 46.2%,#20a4e3 48.1%,#21a3e3 50.0%,#1fa6e2 51.9%,#20a5e2 53.8%,#259ce7 55.7%,#2c8ef1 57.5%,#2f81fa 59.4%,#3a73fe 61.3%,#464eee 63.2%,#3e26a8 65.1%,#3e27ac 67.0%,#4332c9 68.9%,#463cdd 70.8%,#455af7 72.6%,#2a91ef 74.5%,#0fb1d5 76.4%,#06b5ce 78.3%,#1ca8df 80.2%,#2a93ee 82.1%,#2e85f8 84.0%,#327cfc 85.8%,#3677fe 87.7%,#3b73fe 89.6%,#4464fc 91.5%,#4757f7 93.4%,#4563fc 95.3%,#3777fd 97.2%,#2a90f0 99.1%)"></div><div style="height:1px;background:linear-gradient(90deg,#3e26a8 0.9%,#3e26a8 2.8%,#412cba 4.7%,#4537d5 6.6%,#4742e6 8.5%,#4851f3 10.4%,#4850f3 12.3%,#463fe1 14.2%,#4230c4 16.0%,#3f29b1 17.9%,#402ab3 19.8%,#4330c5 21.7%,#4539d9 23.6%,#4743e7 25.5%,#484bef 27.4%,#4850f3 29.2%,#4756f7 31.1%,#4267fd 33.0%,#3081fa 34.9%,#3d5be9 36.8%,#3c5fe8 38.7%,#14acd9 40.6%,#29c4a6 42.5%,#5bcc77 44.3%,#6dcd67 46.2%,#57cc7a 48.1%,#39c896 50.0%,#23c1ae 51.9%,#05bac3 53.8%,#12b0d7 55.7%,#21a2e4 57.5%,#2798ea 59.4%,#2c8df2 61.3%,#3c6efb 63.2%,#402bb6 65.1%,#425af1 67.0%,#2e87f6 68.9%,#2d8bf4 70.8%,#2e87f6 72.6%,#21a2e4 74.5%,#13b0d7 76.4%,#19acdd 78.3%,#259be8 80.2%,#2a93ed 82.1%,#18aadc 84.0%,#18bfb5 85.8%,#41ca8e 87.7%,#59cc79 89.6%,#43ca8b 91.5%,#19bfb4 93.4%,#0fb2d4 95.3%,#19acdc 97.2%,#09b7c9 99.1%)"></div><div style="height:1px;background:linear-gradient(90deg,#4564fd 0.9%,#4851f3 2.8%,#4745e9 4.7%,#4741e5 6.6%,#4741e4 8.5%,#4748ec 10.4%,#4754f5 12.3%,#4465fd 14.2%,#337cfc 16.0%,#2f82fa 17.9%,#406bfd 19.8%,#474df0 21.7%,#463adb 23.6%,#4433cb 25.5%,#4332ca 27.4%,#4539d9 29.2%,#474bee 31.1%,#4366fc 33.0%,#2f85f7 34.9%,#2c8df2 36.8%,#1ea1e3 38.7%,#06bbc2 40.6%,#08b7ca 42.5%,#1fa6e1 44.3%,#07b6cd 46.2%,#08bcbf 48.1%,#24c2ae 50.0%,#33c69d 51.9%,#2fc5a3 53.8%,#0fbdbc 55.7%,#11b0d6 57.5%,#1fa6e2 59.4%,#1fa5e2 61.3%,#23a0e5 63.2%,#3083f8 65.1%,#259de7 67.0%,#21a3e3 68.9%,#2994ed 70.8%,#317efb 72.6%,#327cfc 74.5%,#337bfd 76.4%,#3c71fe 78.3%,#4465fd 80.2%,#465dfb 82.1%,#3c70fd 84.0%,#22a0e5 85.8%,#0fbcbd 87.7%,#2cc4a7 89.6%,#14beb8 91.5%,#06b5ce 93.4%,#02bac5 95.3%,#06bcc0 97.2%,#02b9c6 99.1%)"></div><div style="height:1px;background:linear-gradient(90deg,#269ae9 0.9%,#347ef9 2.8%,#4750f2 4.7%,#4231c5 6.6%,#3e26a8 8.5%,#3e26a8 10.4%,#3f28ad 12.3%,#463ddc 14.2%,#455ffa 16.0%,#3e6fff 17.9%,#465efa 19.8%,#4745e9 21.7%,#4537d4 23.6%,#4331c7 25.5%,#422fc1 27.4%,#4433cd 29.2%,#4743e7 31.1%,#465efa 33.0%,#2e87f5 34.9%,#10b0d5 36.8%,#11beba 38.7%,#07b9c5 40.6%,#239de7 42.5%,#3d70fe 44.3%,#2e85f7 46.2%,#2699e9 48.1%,#16adda 50.0%,#02b8c9 51.9%,#04b7cc 53.8%,#18acdc 55.7%,#239fe5 57.5%,#259ce7 59.4%,#1ca9df 61.3%,#10b2d5 63.2%,#0eb2d4 65.1%,#09b4d1 67.0%,#06b5cf 68.9%,#17addb 70.8%,#259be8 72.6%,#337ffa 74.5%,#3777fd 76.4%,#2e87f6 78.3%,#2c8ef1 80.2%,#2c90f0 82.1%,#269ae9 84.0%,#0fb8c7 85.8%,#39c897 87.7%,#4dcc82 89.6%,#31c69f 91.5%,#09bcbf 93.4%,#0ebdbb 95.3%,#10beba 97.2%,#05b9c7 99.1%)"></div><div style="height:1px;background:linear-gradient(90deg,#2895ec 0.9%,#347ef7 2.8%,#443bd3 4.7%,#3e26a8 6.6%,#3e26a8 8.5%,#3e26a8 10.4%,#3e26a8 12.3%,#3e26a8 14.2%,#3e26a8 16.0%,#3e26a8 17.9%,#3e26a8 19.8%,#3e26a8 21.7%,#412dbd 23.6%,#4538d8 25.5%,#463adc 27.4%,#463bdd 29.2%,#4743e7 31.1%,#4756f6 33.0%,#2f89f3 34.9%,#0cb8c8 36.8%,#09bbc2 38.7%,#20a2e3 40.6%,#357bfb 42.5%,#4465fd 44.3%,#416bfe 46.2%,#337cfc 48.1%,#2d89f5 50.0%,#2e84f8 51.9%,#3b72fe 53.8%,#4368fe 55.7%,#3f6efe 57.5%,#2f85f7 59.4%,#1fa4e2 61.3%,#0ab4d1 63.2%,#08b4d1 65.1%,#06b9c6 67.0%,#2bc4a6 68.9%,#44ca8a 70.8%,#3ac894 72.6%,#17b0d0 74.5%,#15add5 76.4%,#35c79a 78.3%,#58cc79 80.2%,#7fcc5a 82.1%,#abc73a 84.0%,#d3bf29 85.8%,#edba33 87.7%,#ecba33 89.6%,#c0c230 91.5%,#5dcb76 93.4%,#15beb7 95.3%,#03b7cc 97.2%,#02bac5 99.1%)"></div><div style="height:1px;background:linear-gradient(90deg,#3e26a8 0.9%,#3e26a8 2.8%,#3e26a8 4.7%,#3e26a8 6.6%,#3e26a8 8.5%,#3e26a8 10.4%,#3e26a8 12.3%,#4334cb 14.2%,#4743e7 16.0%,#412cb9 17.9%,#3e26a8 19.8%,#3e26a8 21.7%,#3e26a8 23.6%,#3e26a8 25.5%,#3e26a8 27.4%,#4437d1 29.2%,#4263fa 31.1%,#2d8af4 33.0%,#2f85f7 34.9%,#317efb 36.8%,#2b90f0 38.7%,#2895ec 40.6%,#3877fb 42.5%,#3d6ffa 44.3%,#22a1e5 46.2%,#1babde 48.1%,#1babde 50.0%,#22a1e5 51.9%,#2e87f6 53.8%,#2d88f5 55.7%,#11afd6 57.5%,#2bc4a4 59.4%,#79cb5f 61.3%,#cbc02c 63.2%,#f3bb38 65.1%,#fec03b 67.0%,#fec537 68.9%,#fec636 70.8%,#fdc13a 72.6%,#d5bf30 74.5%,#74cb63 76.4%,#1dbbbc 78.3%,#3b73f7 80.2%,#416afd 82.1%,#2f82f9 84.0%,#2995ec 85.8%,#23a1e5 87.7%,#22a2e4 89.6%,#269ae9 91.5%,#2a92ee 93.4%,#2994ed 95.3%,#1fa5e2 97.2%,#09b9c7 99.1%)"></div><div style="height:1px;background:linear-gradient(90deg,#402bb8 0.9%,#4434ce 2.8%,#4742e6 4.7%,#4849ec 6.6%,#463ee0 8.5%,#4434d0 10.4%,#4434ce 12.3%,#463ee0 14.2%,#4745e9 16.0%,#4537d4 17.9%,#4433cc 19.8%,#4435d0 21.7%,#3f2ab2 23.6%,#3e26a8 25.5%,#3e27ac 27.4%,#453ad7 29.2%,#455df9 31.1%,#3180fa 33.0%,#2f83f9 34.9%,#3182f9 36.8%,#249ee6 38.7%,#239fe6 40.6%,#347df9 42.5%,#387afa 44.3%,#1ea6e1 46.2%,#12b1d6 48.1%,#0fb2d5 50.0%,#16aeda 51.9%,#23a0e5 53.8%,#259ce7 55.7%,#16adda 57.5%,#0abbc2 59.4%,#38c798 61.3%,#87ca54 63.2%,#d3bf2b 65.1%,#f2ba37 67.0%,#f5ba3a 68.9%,#f2ba38 70.8%,#f3ba38 72.6%,#e8bb30 74.5%,#a9c63d 76.4%,#2ac2a7 78.3%,#2e88f4 80.2%,#327dfb 82.1%,#2a91ef 84.0%,#22a1e4 85.8%,#1da8e0 87.7%,#22a1e5 89.6%,#2c8df2 91.5%,#327cfc 93.4%,#3080fa 95.3%,#2993ed 97.2%,#1da8e0 99.1%)"></div><div style="height:1px;background:linear-gradient(90deg,#3579fd 0.9%,#2c8cf3 2.8%,#249ee6 4.7%,#269ae9 6.6%,#3b72fc 8.5%,#474cef 10.4%,#463bdd 12.3%,#4538d7 14.2%,#463adb 16.0%,#4743e7 17.9%,#4852f4 19.8%,#4562fc 21.7%,#4750f1 23.6%,#4537d5 25.5%,#4433cc 27.4%,#4639d9 29.2%,#4747eb 31.1%,#4462fb 33.0%,#2f83f8 34.9%,#239ee6 36.8%,#04b6cc 38.7%,#1ba8de 40.6%,#3083f8 42.5%,#3180fa 44.3%,#239fe6 46.2%,#0eb2d4 48.1%,#02b8c8 50.0%,#01bac5 51.9%,#04b7cc 53.8%,#17addb 55.7%,#23a0e5 57.5%,#249de6 59.4%,#1aaade 61.3%,#0abbc2 63.2%,#2ac3a9 65.1%,#23c1ae 67.0%,#1ec0b2 68.9%,#09bac3 70.8%,#11bcbd 72.6%,#36c799 74.5%,#43ca8a 76.4%,#2cc4a4 78.3%,#0ab6cd 80.2%,#15afd9 82.1%,#14b0d8 84.0%,#14b0d8 85.8%,#0fb2d4 87.7%,#19acdc 89.6%,#2895ec 91.5%,#327dfc 93.4%,#3b72fe 95.3%,#3777fe 97.2%,#317dfc 99.1%)"></div><div style="height:1px;background:linear-gradient(90deg,#465cf9 0.9%,#3b72fe 2.8%,#2e86f7 4.7%,#2e87f6 6.6%,#3f6bfd 8.5%,#4851f3 10.4%,#4848ec 12.3%,#4850f3 14.2%,#4561fb 16.0%,#406dfe 17.9%,#416afe 19.8%,#4660fb 21.7%,#4754f5 23.6%,#4745e9 25.5%,#4434ce 27.4%,#412cb9 29.2%,#4333cb 31.1%,#4658f5 33.0%,#2d88f5 34.9%,#15adda 36.8%,#09b4d1 38.7%,#249de7 40.6%,#337cfb 42.5%,#3679fc 44.3%,#1da4e1 46.2%,#1cc0b1 48.1%,#3bc993 50.0%,#3bc993 51.9%,#2dc4a5 53.8%,#0ebdbb 55.7%,#07b5cf 57.5%,#15afd9 59.4%,#16afd9 61.3%,#18addc 63.2%,#2a90ef 65.1%,#4338cc 67.0%,#3e26a8 68.9%,#3e26a8 70.8%,#3e26a8 72.6%,#4335ca 74.5%,#3b70fb 76.4%,#259ce8 78.3%,#1ea7e1 80.2%,#2895ec 82.1%,#4064f9 84.0%,#412ebe 85.8%,#422fc2 87.7%,#4748eb 89.6%,#4759f8 91.5%,#475cfa 93.4%,#484ff2 95.3%,#463ddf 97.2%,#4537d6 99.1%)"></div><div style="height:1px;background:linear-gradient(90deg,#3e27ab 0.9%,#4332c9 2.8%,#474cef 4.7%,#4466fd 6.6%,#406cfe 8.5%,#4660fb 10.4%,#474aed 12.3%,#4538d7 14.2%,#4332cb 16.0%,#4433cd 17.9%,#4433cd 19.8%,#4332ca 21.7%,#422ec0 23.6%,#3e28ac 25.5%,#3e26a8 27.4%,#3e26a8 29.2%,#3e26a8 31.1%,#4540dc 33.0%,#2f89f2 34.9%,#17bdba 36.8%,#28c3aa 38.7%,#0bb5cd 40.6%,#21a3e3 42.5%,#21a2e4 44.3%,#0ab5ce 46.2%,#20c1b0 48.1%,#2bc3a8 50.0%,#1dc0b3 51.9%,#05bbc3 53.8%,#12b0d7 55.7%,#2699ea 57.5%,#2f82f9 59.4%,#2c8df2 61.3%,#2699e9 63.2%,#2b8ef2 65.1%,#4360fa 67.0%,#463ddd 68.9%,#3e26a8 70.8%,#4337cd 72.6%,#4363fb 74.5%,#2b8ff1 76.4%,#1da8e0 78.3%,#17aedb 80.2%,#1da8e0 82.1%,#269ae9 84.0%,#2f84f8 85.8%,#307ffb 87.7%,#2e86f7 89.6%,#2b91ef 91.5%,#2798ea 93.4%,#2a93ee 95.3%,#2f83f9 97.2%,#3d70fe 99.1%)"></div><div style="height:1px;background:linear-gradient(90deg,#4331c8 0.9%,#463adb 2.8%,#474cef 4.7%,#4463fc 6.6%,#3e6fff 8.5%,#4367fd 10.4%,#4753f4 12.3%,#4744e8 14.2%,#484cef 16.0%,#484aed 17.9%,#4743e7 19.8%,#4742e6 21.7%,#4539d9 23.6%,#422fc2 25.5%,#3f29b1 27.4%,#3f28ae 29.2%,#402cb8 31.1%,#4641e1 33.0%,#3088f2 34.9%,#0ebbc1 36.8%,#0cbbc1 38.7%,#1fa4e2 40.6%,#2c8ef1 42.5%,#2d8cf3 44.3%,#269ae9 46.2%,#1da8e0 48.1%,#18addb 50.0%,#1babde 51.9%,#1ea6e1 53.8%,#22a2e4 55.7%,#2699e9 57.5%,#2896eb 59.4%,#14add9 61.3%,#0abcbe 63.2%,#15bfb8 65.1%,#04bac4 67.0%,#1aa9dd 68.9%,#2994ed 70.8%,#0db2d3 72.6%,#06bbc2 74.5%,#24c2ad 76.4%,#2cc4a7 78.3%,#18bfb5 80.2%,#09b5cf 82.1%,#1ca9df 84.0%,#22a1e4 85.8%,#2798ea 87.7%,#2a93ee 89.6%,#2995ec 91.5%,#2a92ee 93.4%,#2c8ef2 95.3%,#2e85f8 97.2%,#327dfc 99.1%)"></div><div style="height:1px;background:linear-gradient(90deg,#347df9 0.9%,#2f83f9 2.8%,#3578fd 4.7%,#3b72fe 6.6%,#4268fe 8.5%,#465efb 10.4%,#465cfa 12.3%,#3c70fd 14.2%,#20a2e4 16.0%,#1fa4e2 17.9%,#2b91ef 19.8%,#2d89f5 21.7%,#3a73fe 23.6%,#4562fc 25.5%,#465dfb 27.4%,#4660fb 29.2%,#475cfa 31.1%,#465cf9 33.0%,#2f88f4 34.9%,#1fa6e2 36.8%,#2a91ef 38.7%,#4460fa 40.6%,#463ee0 42.5%,#4639d9 44.3%,#4749ec 46.2%,#4462fc 48.1%,#347afc 50.0%,#2e87f7 51.9%,#2c8ef1 53.8%,#249ee7 55.7%,#0fb6ca 57.5%,#4bc986 59.4%,#b5c436 61.3%,#efba35 63.2%,#f7ba3c 65.1%,#e4bc2d 67.0%,#c8c12a 68.9%,#c0c32d 70.8%,#cac129 72.6%,#d3bf27 74.5%,#d1bf28 76.4%,#b6c533 78.3%,#65cb6e 80.2%,#16b9c3 82.1%,#2799e9 84.0%,#2f83f8 85.8%,#3b72fe 87.7%,#406dfe 89.6%,#4268fe 91.5%,#4752f4 93.4%,#484aed 95.3%,#484ef1 97.2%,#455ffa 99.1%)"></div><div style="height:1px;background:linear-gradient(90deg,#4742e6 0.9%,#402bb7 2.8%,#3e26a8 4.7%,#3e26a8 6.6%,#3e26a8 8.5%,#3e26a8 10.4%,#3e27a9 12.3%,#3e27aa 14.2%,#3e27aa 16.0%,#3e26a8 17.9%,#3e26a8 19.8%,#3e26a8 21.7%,#3e26a8 23.6%,#3f29b1 25.5%,#4331c7 27.4%,#4535d2 29.2%,#463adb 31.1%,#474ff1 33.0%,#2f89f3 34.9%,#10b7c8 36.8%,#24c1ae 38.7%,#0cb6cb 40.6%,#2897eb 42.5%,#2b8ff0 44.3%,#259de7 46.2%,#249ee6 48.1%,#249de6 50.0%,#23a0e5 51.9%,#1ea6e1 53.8%,#19addc 55.7%,#10bbc1 57.5%,#62cb72 59.4%,#b2c535 61.3%,#a3c83f 63.2%,#4fca82 65.1%,#10b9c4 67.0%,#239fe5 68.9%,#2b90f0 70.8%,#2995ec 72.6%,#20a4e2 74.5%,#09b5cf 76.4%,#1ec1b1 78.3%,#33c69d 80.2%,#33c79d 82.1%,#33c69d 84.0%,#34c79b 85.8%,#24c2ad 87.7%,#05b7ca 89.6%,#0cb3d3 91.5%,#04b6cd 93.4%,#0ebdbc 95.3%,#2ec4a4 97.2%,#3cc991 99.1%)"></div><div style="height:1px;background:linear-gradient(90deg,#4744e7 0.9%,#412cba 2.8%,#3e26a8 4.7%,#3e26a8 6.6%,#3e27a9 8.5%,#412dbb 10.4%,#4433cb 12.3%,#412dbd 14.2%,#3e26a9 16.0%,#3e26a8 17.9%,#3f28ae 19.8%,#4332ca 21.7%,#4747ea 23.6%,#4365fc 25.5%,#2e86f6 27.4%,#269ae9 29.2%,#2e88f6 31.1%,#2f81fa 33.0%,#2d8af5 34.9%,#22a0e5 36.8%,#09b4d1 38.7%,#06b5ce 40.6%,#1ea6e1 42.5%,#2897eb 44.3%,#2c90f0 46.2%,#2d88f6 48.1%,#2e84f8 50.0%,#2d8cf3 51.9%,#2798ea 53.8%,#249ee6 55.7%,#20a4e3 57.5%,#11b1d6 59.4%,#03b9c6 61.3%,#13beb9 63.2%,#0cbdbd 65.1%,#0cb3d3 67.0%,#239fe6 68.9%,#2d8bf3 70.8%,#2e83f9 72.6%,#2d8bf4 74.5%,#22a0e5 76.4%,#0ab4d0 78.3%,#10beba 80.2%,#1ec0b2 82.1%,#18bfb5 84.0%,#08bcc0 85.8%,#10b1d6 87.7%,#2993ee 89.6%,#3e6efe 91.5%,#2797eb 93.4%,#19acdc 95.3%,#10b2d5 97.2%,#0fb2d5 99.1%)"></div><div style="height:1px;background:linear-gradient(90deg,#4757f7 0.9%,#484aee 2.8%,#4743e7 4.7%,#484aee 6.6%,#4854f5 8.5%,#475bfa 10.4%,#465dfa 12.3%,#4850f3 14.2%,#4747eb 16.0%,#4748ec 17.9%,#4852f4 19.8%,#4465fd 21.7%,#327ffa 23.6%,#2799ea 25.5%,#0fb2d2 27.4%,#1cc0b2 29.2%,#15adda 31.1%,#269ae9 33.0%,#2d8af4 34.9%,#2c8cf3 36.8%,#239fe6 38.7%,#19acdd 40.6%,#19acdc 42.5%,#2799ea 44.3%,#327efb 46.2%,#4365fc 48.1%,#4561fb 50.0%,#3876fd 51.9%,#2e88f6 53.8%,#2b90f0 55.7%,#2d8bf4 57.5%,#337bfc 59.4%,#327dfb 61.3%,#249de7 63.2%,#08b5ce 65.1%,#04bbc2 67.0%,#05b6cc 68.9%,#18addc 70.8%,#20a5e2 72.6%,#1ca9df 74.5%,#06b6cc 76.4%,#12beb9 78.3%,#1bc0b4 80.2%,#09bcbf 82.1%,#0eb2d4 84.0%,#22a0e5 85.8%,#2d89f5 87.7%,#4261f9 89.6%,#4230c3 91.5%,#4164fa 93.4%,#317dfb 95.3%,#3479fd 97.2%,#3e6ffe 99.1%)"></div><div style="height:1px;background:linear-gradient(90deg,#4759f8 0.9%,#4756f7 2.8%,#484cef 4.7%,#4744e8 6.6%,#484bef 8.5%,#4463fc 10.4%,#3c72ff 12.3%,#4465fd 14.2%,#475bf9 16.0%,#4756f6 17.9%,#4851f3 19.8%,#484cef 21.7%,#473fe2 23.6%,#4330c5 25.5%,#3e28ac 27.4%,#3e27aa 29.2%,#412cb9 31.1%,#4746e7 33.0%,#2e8bf1 34.9%,#16bdba 36.8%,#35c79b 38.7%,#34c79b 40.6%,#31c6a0 42.5%,#27c3aa 44.3%,#0cb7ca 46.2%,#3283f4 48.1%,#3973fb 50.0%,#2896ec 51.9%,#23a0e5 53.8%,#1fa5e2 55.7%,#1fa6e2 57.5%,#20a4e3 59.4%,#1ca9df 61.3%,#0ab4d1 63.2%,#02b8ca 65.1%,#10b1d6 67.0%,#1ea7e1 68.9%,#19abdd 70.8%,#14bdba 72.6%,#57cb7a 74.5%,#a2c840 76.4%,#b5c533 78.3%,#98c947 80.2%,#64cc6f 82.1%,#3ac894 84.0%,#20c1b0 85.8%,#04b9c7 87.7%,#13b0d8 89.6%,#1da8e0 91.5%,#19acdc 93.4%,#12b1d6 95.3%,#0cb3d3 97.2%,#14b0d8 99.1%)"></div><div style="height:1px;background:linear-gradient(90deg,#317ffb 0.9%,#2c8ef1 2.8%,#259be8 4.7%,#259ce7 6.6%,#2b91ef 8.5%,#2e85f8 10.4%,#347afd 12.3%,#3f6efe 14.2%,#4368fe 16.0%,#465efa 17.9%,#4746e9 19.8%,#4331c7 21.7%,#3e27ab 23.6%,#3e26a8 25.5%,#3e26a8 27.4%,#412dbb 29.2%,#463bdc 31.1%,#4657f6 33.0%,#2d8cf2 34.9%,#10b8c7 36.8%,#33c69d 38.7%,#55cc7b 40.6%,#8bcb50 42.5%,#b3c534 44.3%,#9ec843 46.2%,#40c890 48.1%,#0ebdbb 50.0%,#19bfb5 51.9%,#2dc4a5 53.8%,#3ac994 55.7%,#39c895 57.5%,#28c3a9 59.4%,#0dbdbc 61.3%,#02bac4 63.2%,#0ab4d1 65.1%,#249ee6 67.0%,#18b6c6 68.9%,#53cb7e 70.8%,#a2c840 72.6%,#d1bf28 74.5%,#ddbd29 76.4%,#c8c12b 78.3%,#72cb64 80.2%,#13b8c6 82.1%,#1aacdd 84.0%,#2991ef 85.8%,#433bce 87.7%,#4755f5 89.6%,#4464fd 91.5%,#406dfe 93.4%,#327efb 95.3%,#2b90f0 97.2%,#2994ed 99.1%)"></div><div style="height:1px;background:linear-gradient(90deg,#3b71fe 0.9%,#2a90f0 2.8%,#1fa6e1 4.7%,#1ca9df 6.6%,#269be8 8.5%,#2f84f8 10.4%,#3975fe 12.3%,#3d71ff 14.2%,#3e6fff 16.0%,#4560fb 17.9%,#463fdf 19.8%,#3f29af 21.7%,#3e26a8 23.6%,#422fc0 25.5%,#474def 27.4%,#4563fc 29.2%,#4561fc 31.1%,#406cfe 33.0%,#2b8ef1 34.9%,#0eb3d0 36.8%,#2ec5a2 38.7%,#58cc79 40.6%,#89cb52 42.5%,#9ac945 44.3%,#6bcc6a 46.2%,#1cbdb8 48.1%,#0ab6cc 50.0%,#21c1ae 51.9%,#45ca89 53.8%,#6dcd68 55.7%,#6bcd69 57.5%,#43ca8c 59.4%,#1fc1b0 61.3%,#04b8c8 63.2%,#16adda 65.1%,#2798ea 67.0%,#18b5c8 68.9%,#48ca87 70.8%,#76cc60 72.6%,#92ca4c 74.5%,#a8c73b 76.4%,#adc638 78.3%,#78cb5f 80.2%,#16bfb6 82.1%,#04bac4 84.0%,#12aed7 85.8%,#3f63f6 87.7%,#3280f9 89.6%,#2d89f6 91.5%,#2e85f8 93.4%,#2e87f7 95.3%,#2c8ff1 97.2%,#2995ec 99.1%)"></div><div style="height:1px;background:linear-gradient(90deg,#453bd9 0.9%,#465cf9 2.8%,#3e6ffe 4.7%,#3e70ff 6.6%,#4366fd 8.5%,#465ffb 10.4%,#4563fc 12.3%,#416bfe 14.2%,#406cfe 16.0%,#475af8 17.9%,#453bd9 19.8%,#3f2ab2 21.7%,#4230c4 23.6%,#4655f3 25.5%,#2795ed 27.4%,#1ea5e1 29.2%,#3181f9 31.1%,#3777fe 33.0%,#2b8ff0 34.9%,#0eb4ce 36.8%,#2ec5a2 38.7%,#3dc990 40.6%,#33c69d 42.5%,#0fbac3 44.3%,#2795ec 46.2%,#4344d9 48.1%,#3d54e1 50.0%,#1fa2e3 51.9%,#15beb8 53.8%,#37c898 55.7%,#3cc992 57.5%,#2fc5a2 59.4%,#0ebdbc 61.3%,#0fb2d4 63.2%,#1ea7e1 65.1%,#22a1e4 67.0%,#239fe5 68.9%,#259be8 70.8%,#239ee6 72.6%,#11b0d6 74.5%,#22c2ab 76.4%,#68cc6c 78.3%,#a3c83f 80.2%,#b6c532 82.1%,#c3c22c 84.0%,#d7be28 85.8%,#d8be28 87.7%,#b5c533 89.6%,#8acb51 91.5%,#4aca86 93.4%,#1bc0b3 95.3%,#01b9c6 97.2%,#03bac4 99.1%)"></div><div style="height:1px;background:linear-gradient(90deg,#4757f7 0.9%,#465efb 2.8%,#4759f8 4.7%,#484ff2 6.6%,#484df0 8.5%,#484ff2 10.4%,#4850f2 12.3%,#484bef 14.2%,#4741e5 16.0%,#4435d0 17.9%,#412cbb 19.8%,#402bb6 21.7%,#4230c3 23.6%,#4539d9 25.5%,#4749ec 27.4%,#484df0 29.2%,#484aed 31.1%,#4560fa 33.0%,#2b8df1 34.9%,#0fb1d4 36.8%,#11beba 38.7%,#26c2ac 40.6%,#2dc4a6 42.5%,#27c2ab 44.3%,#0cbdbd 46.2%,#18aadc 48.1%,#2896eb 50.0%,#2994ed 51.9%,#18acdc 53.8%,#06bac4 55.7%,#25c2ac 57.5%,#39c896 59.4%,#3eca8f 61.3%,#2ec5a3 63.2%,#09bac4 65.1%,#1da7e0 67.0%,#2a91ef 68.9%,#3f5cf0 70.8%,#386dee 72.6%,#11afd7 74.5%,#03bbc3 76.4%,#02bac5 78.3%,#09b4d1 80.2%,#1baade 82.1%,#2699e9 84.0%,#2f83f9 85.8%,#337bfc 87.7%,#2a92ef 89.6%,#18acdc 91.5%,#0abbc0 93.4%,#32c69e 95.3%,#6bcc6a 97.2%,#b0c637 99.1%)"></div><div style="height:1px;background:linear-gradient(90deg,#484ef1 0.9%,#484bef 2.8%,#484cef 4.7%,#4850f3 6.6%,#4757f7 8.5%,#475bfa 10.4%,#4754f5 12.3%,#4744e8 14.2%,#4538d7 16.0%,#463adb 17.9%,#4747eb 19.8%,#4852f4 21.7%,#4853f5 23.6%,#484ff2 25.5%,#484ef1 27.4%,#4757f7 29.2%,#4367fd 31.1%,#3f6efe 33.0%,#2a90ef 34.9%,#12b9c4 36.8%,#36c799 38.7%,#39c895 40.6%,#1dc0b2 42.5%,#0fbebb 44.3%,#14beb8 46.2%,#07b7cb 48.1%,#249ee7 50.0%,#2e84f8 51.9%,#2798ea 53.8%,#0db3d1 55.7%,#29c4a6 57.5%,#5ecc74 59.4%,#7ecc5a 61.3%,#5fcc73 63.2%,#27c3a8 65.1%,#11b0d6 67.0%,#2699e9 68.9%,#2f87f5 70.8%,#1ba0e2 72.6%,#1ac0b4 74.5%,#0cbbc1 76.4%,#20a3e3 78.3%,#2c8ff1 80.2%,#2d8af4 82.1%,#2d8df2 84.0%,#2c8ff0 85.8%,#2994ed 87.7%,#1fa5e1 89.6%,#06b6cd 91.5%,#02bac3 93.4%,#13beb8 95.3%,#33c69d 97.2%,#51cc7f 99.1%)"></div><div style="height:1px;background:linear-gradient(90deg,#484aed 0.9%,#4747eb 2.8%,#4851f3 4.7%,#4562fc 6.6%,#3f6efe 8.5%,#3e6fff 10.4%,#4560fb 12.3%,#4748eb 14.2%,#4539d9 16.0%,#4743e6 17.9%,#465efa 19.8%,#3a73fe 21.7%,#3875fe 23.6%,#416bfe 25.5%,#4466fd 27.4%,#3a73fe 29.2%,#2e88f6 31.1%,#307ffb 33.0%,#2894ee 34.9%,#1ebfb3 36.8%,#67cc6c 38.7%,#6bcc6a 40.6%,#2dc4a3 42.5%,#1ec0b2 44.3%,#2cc4a7 46.2%,#12beba 48.1%,#13aed8 50.0%,#2798ea 51.9%,#239fe6 53.8%,#0bb4d0 55.7%,#1fc1b0 57.5%,#40ca8e 59.4%,#5bcc77 61.3%,#4bcb84 63.2%,#2ac4a7 65.1%,#08b7c9 67.0%,#17aedb 68.9%,#0bbac3 70.8%,#33c69d 72.6%,#42ca8c 74.5%,#26c3a8 76.4%,#12afd7 78.3%,#23a1e4 80.2%,#1fa6e1 82.1%,#09b5ce 84.0%,#22c2ae 85.8%,#34c79b 87.7%,#3ac994 89.6%,#3eca90 91.5%,#22c2ad 93.4%,#04b7cb 95.3%,#11b1d6 97.2%,#15afd8 99.1%)"></div><div style="height:1px;background:linear-gradient(90deg,#3578fd 0.9%,#3578fd 2.8%,#3579fd 4.7%,#327bfc 6.6%,#337bfc 8.5%,#3974fe 10.4%,#4464fc 12.3%,#474cef 14.2%,#4435cf 16.0%,#402bb7 17.9%,#4332ca 19.8%,#474bee 21.7%,#4561fc 23.6%,#4563fc 25.5%,#4758f8 27.4%,#4850f2 29.2%,#4758f8 31.1%,#3b72fd 33.0%,#2992ee 34.9%,#14b8c5 36.8%,#49ca86 38.7%,#7dcc5b 40.6%,#a6c73d 42.5%,#ccc029 44.3%,#debc2a 46.2%,#d8be28 48.1%,#b8c432 50.0%,#79cc5f 51.9%,#3bc895 53.8%,#0ebac2 55.7%,#229fe5 57.5%,#2d8af4 59.4%,#2b91ef 61.3%,#249ee6 63.2%,#13afd8 65.1%,#0abcbf 67.0%,#22c1b0 68.9%,#25c2ae 70.8%,#24c2ae 72.6%,#36c799 74.5%,#72cc65 76.4%,#afc637 78.3%,#bec32e 80.2%,#a7c73c 82.1%,#7fcc5a 84.0%,#5acc78 85.8%,#44cb89 87.7%,#46cb88 89.6%,#54cc7c 91.5%,#4acb85 93.4%,#28c3a8 95.3%,#0ab5ce 97.2%,#1ca9df 99.1%)"></div><div style="height:1px;background:linear-gradient(90deg,#4851f4 0.9%,#484ef1 2.8%,#4745e9 4.7%,#463cdf 6.6%,#463ee1 8.5%,#4744e7 10.4%,#3f2ab3 12.3%,#3e26a8 14.2%,#3e26a8 16.0%,#3e28ad 17.9%,#4647e6 19.8%,#2f82f9 21.7%,#3d6ffd 23.6%,#4755f6 25.5%,#4740e2 27.4%,#4331c6 29.2%,#412dbc 31.1%,#4646e6 33.0%,#2893ec 34.9%,#2dc5a1 36.8%,#58cc79 38.7%,#4dcb82 40.6%,#3fca8f 42.5%,#53cb7e 44.3%,#b6c434 46.2%,#dcbd29 48.1%,#c1c32f 50.0%,#67cb6d 51.9%,#22c2ad 53.8%,#03bbc3 55.7%,#01bac5 57.5%,#03bbc3 59.4%,#07bcc0 61.3%,#05bbc1 63.2%,#0ebdbb 65.1%,#25c2ad 67.0%,#2dc4a6 68.9%,#1fc1b1 70.8%,#05b8c9 72.6%,#17addb 74.5%,#1caadf 76.4%,#12bcbe 78.3%,#49ca86 80.2%,#75cc62 82.1%,#7acc5d 84.0%,#5ccc75 85.8%,#2bc4a4 87.7%,#15abd9 89.6%,#2994ed 91.5%,#269ae8 93.4%,#2896ec 95.3%,#2d89f5 97.2%,#2f81fa 99.1%)"></div><div style="height:1px;background:linear-gradient(90deg,#4756f7 0.9%,#4755f6 2.8%,#4747eb 4.7%,#4537d6 6.6%,#4536d3 8.5%,#453ad8 10.4%,#3e27a9 12.3%,#3e26a8 14.2%,#3e26a8 16.0%,#3e26a8 17.9%,#443ad3 19.8%,#3974fe 21.7%,#4366fd 23.6%,#475bfa 25.5%,#465dfa 27.4%,#4754f5 29.2%,#4744e8 31.1%,#4751f2 33.0%,#2794ec 34.9%,#25c3a8 36.8%,#3dc991 38.7%,#28c3a9 40.6%,#0bb5cd 42.5%,#16abda 44.3%,#44c98d 46.2%,#89cb52 48.1%,#8bcb51 50.0%,#59cc78 51.9%,#31c6a0 53.8%,#25c2ad 55.7%,#33c69d 57.5%,#48cb86 59.4%,#3fca8f 61.3%,#32c69f 63.2%,#33c69d 65.1%,#41ca8d 67.0%,#48cb86 68.9%,#35c79a 70.8%,#1bc0b3 72.6%,#03b9c7 74.5%,#0ab4d2 76.4%,#16bfb6 78.3%,#41ca8d 80.2%,#61cc71 82.1%,#7dcc5c 84.0%,#5ccc76 85.8%,#1bbfb3 87.7%,#2992ee 89.6%,#4562fc 91.5%,#406cfe 93.4%,#3081fa 95.3%,#2d8cf3 97.2%,#2c8ef1 99.1%)"></div><div style="height:1px;background:linear-gradient(90deg,#2d8cf3 0.9%,#2c8ef2 2.8%,#337dfb 4.7%,#4465fd 6.6%,#475af9 8.5%,#4851f3 10.4%,#463fe1 12.3%,#402bb6 14.2%,#3e26a8 16.0%,#3e26a8 17.9%,#3e26a8 19.8%,#402bb7 21.7%,#474bed 23.6%,#3876fb 25.5%,#1da5e1 27.4%,#15afd9 29.2%,#23a0e5 31.1%,#2b90f0 33.0%,#2896ec 34.9%,#0eb2d2 36.8%,#13beb8 38.7%,#07bbc2 40.6%,#20a0e4 42.5%,#3c74fa 44.3%,#12aed7 46.2%,#1bc0b3 48.1%,#3bc894 50.0%,#63cc70 51.9%,#7ccc5c 53.8%,#52cb7e 55.7%,#41ca8d 57.5%,#4ccb83 59.4%,#36c79a 61.3%,#2ec5a4 63.2%,#44ca8b 65.1%,#7ecc5b 67.0%,#96ca48 68.9%,#77cc60 70.8%,#6fcd66 72.6%,#94ca4a 74.5%,#bec32e 76.4%,#cec028 78.3%,#a1c841 80.2%,#6ccd68 82.1%,#7fcc5a 84.0%,#54cb7d 85.8%,#17beb7 87.7%,#229fe5 89.6%,#3976fd 91.5%,#3b72fd 93.4%,#239ee6 95.3%,#07b9c7 97.2%,#0ebdbb 99.1%)"></div><div style="height:1px;background:linear-gradient(90deg,#259be8 0.9%,#3877fb 2.8%,#4644e5 4.7%,#3f29af 6.6%,#3e26a8 8.5%,#3f29b0 10.4%,#474aeb 12.3%,#4755f4 14.2%,#4332c9 16.0%,#402bb6 17.9%,#4331c8 19.8%,#4748eb 21.7%,#406afd 23.6%,#2e87f6 25.5%,#2797eb 27.4%,#249ee6 29.2%,#1ea6e1 31.1%,#2c8cf3 33.0%,#2699ea 34.9%,#1bbfb5 36.8%,#5fcc73 38.7%,#70cc66 40.6%,#38c799 42.5%,#2dc4a5 44.3%,#32c69f 46.2%,#1ec0b2 48.1%,#0ebebb 50.0%,#18bfb5 51.9%,#26c2ac 53.8%,#27c2ac 55.7%,#28c3aa 57.5%,#2dc4a6 59.4%,#2ac3a9 61.3%,#2fc5a3 63.2%,#4ccb83 65.1%,#7ecc5b 67.0%,#7ecc5b 68.9%,#45ca8b 70.8%,#11bdbb 72.6%,#16addb 74.5%,#249de7 76.4%,#2995ec 78.3%,#2c8ff0 80.2%,#2d8bf3 82.1%,#21a1e4 84.0%,#05b8c9 85.8%,#06bbc1 87.7%,#0eb1d4 89.6%,#2e8af2 91.5%,#4754f5 93.4%,#357cf9 95.3%,#21a1e4 97.2%,#08b5ce 99.1%)"></div><div style="height:1px;background:linear-gradient(90deg,#4563fc 0.9%,#474bee 2.8%,#463ee1 4.7%,#4742e6 6.6%,#4741e5 8.5%,#473fe3 10.4%,#4754f5 12.3%,#475af8 14.2%,#4746ea 16.0%,#4744e8 17.9%,#484bef 19.8%,#465dfa 21.7%,#3b72fe 23.6%,#3c72fe 25.5%,#426afe 27.4%,#3f6dfe 29.2%,#3082f9 31.1%,#2f81fa 33.0%,#2797eb 34.9%,#0cb3d2 36.8%,#1bc0b3 38.7%,#34c79b 40.6%,#2dc4a5 42.5%,#28c3ab 44.3%,#0cbcbe 46.2%,#0fb2d5 48.1%,#1da8e0 50.0%,#22a2e4 51.9%,#249ee6 53.8%,#2797eb 55.7%,#21a2e4 57.5%,#06b6cc 59.4%,#0fbdbb 61.3%,#20c1b1 63.2%,#2cc4a6 65.1%,#32c69f 67.0%,#2ec5a4 68.9%,#16bfb7 70.8%,#10b0d5 72.6%,#2995ec 74.5%,#2b90f0 76.4%,#2994ed 78.3%,#269ae9 80.2%,#20a4e2 82.1%,#0cb8c8 84.0%,#2ec5a3 85.8%,#2ec5a3 87.7%,#0fb6ca 89.6%,#347ff6 91.5%,#4756f6 93.4%,#3777fc 95.3%,#2a91ef 97.2%,#22a2e4 99.1%)"></div><div style="height:1px;background:linear-gradient(90deg,#4433cc 0.9%,#4433cb 2.8%,#474aed 4.7%,#3c70fd 6.6%,#3975fe 8.5%,#465ffb 10.4%,#484ff1 12.3%,#4745e9 14.2%,#4745e9 16.0%,#484aed 17.9%,#484ff2 19.8%,#475bf9 21.7%,#4563fd 23.6%,#4756f6 25.5%,#484aee 27.4%,#484ef1 29.2%,#4759f8 31.1%,#3b72fd 33.0%,#2896ec 34.9%,#1fa6e2 36.8%,#1ea7e1 38.7%,#19addc 40.6%,#19acdc 42.5%,#21a3e3 44.3%,#269ae9 46.2%,#2995ec 48.1%,#2c8ef1 50.0%,#2e84f8 51.9%,#3875fe 53.8%,#4466fd 55.7%,#367bf9 57.5%,#1ba8df 59.4%,#08bbc1 61.3%,#1dc0b3 63.2%,#14beb8 65.1%,#03b8c8 67.0%,#0cb3d3 68.9%,#09b4d1 70.8%,#15aed9 72.6%,#259be8 74.5%,#1ba9de 76.4%,#04b8c8 78.3%,#1ec0b1 80.2%,#3cc992 82.1%,#62cd70 84.0%,#62cc70 85.8%,#21c2ab 87.7%,#13aed8 89.6%,#367df9 91.5%,#3778fc 93.4%,#2b91ef 95.3%,#2699e9 97.2%,#249fe6 99.1%)"></div><div style="height:1px;background:linear-gradient(90deg,#475af9 0.9%,#484ff2 2.8%,#484ff2 4.7%,#484ef1 6.6%,#4743e6 8.5%,#4435d1 10.4%,#412dbb 12.3%,#3e27aa 14.2%,#3e26a8 16.0%,#3e27ab 17.9%,#402bb8 19.8%,#4331c6 21.7%,#463bdc 23.6%,#484ef0 25.5%,#4168fd 27.4%,#337bfc 29.2%,#4267fd 31.1%,#4267fd 33.0%,#219de6 34.9%,#15beb7 36.8%,#0cbac3 38.7%,#259be8 40.6%,#3a74fd 42.5%,#4367fd 44.3%,#3c71fe 46.2%,#3081fa 48.1%,#2d8af4 50.0%,#2e87f6 51.9%,#307ffb 53.8%,#2c8cf3 55.7%,#259ce7 57.5%,#11afd7 59.4%,#26c3a8 61.3%,#4dcb82 63.2%,#45ca89 65.1%,#18bfb6 67.0%,#0db3d3 68.9%,#04b6cc 70.8%,#06b6ce 72.6%,#13b0d7 74.5%,#0bb4d1 76.4%,#19c0b4 78.3%,#44ca8b 80.2%,#5fcd73 82.1%,#45ca8a 84.0%,#16bac1 85.8%,#3c70f5 87.7%,#3380f7 89.6%,#1aaadd 91.5%,#04b8c9 93.4%,#0fbebb 95.3%,#1cc0b3 97.2%,#2ec5a3 99.1%)"></div><div style="height:1px;background:linear-gradient(90deg,#2f85f7 0.9%,#4461fb 2.8%,#484df0 4.7%,#484cef 6.6%,#4756f6 8.5%,#4268fd 10.4%,#327efb 12.3%,#2a91ef 14.2%,#20a4e2 16.0%,#11b1d6 17.9%,#18acdc 19.8%,#3282f7 21.7%,#474bed 23.6%,#412ebe 25.5%,#402ab3 27.4%,#4436d2 29.2%,#474cef 31.1%,#3b71fd 33.0%,#249ce7 34.9%,#0ebbc0 36.8%,#1fc0b2 38.7%,#06b8c9 40.6%,#1aabdd 42.5%,#1baade 44.3%,#0eb2d4 46.2%,#04b6cd 48.1%,#13afd8 50.0%,#2b8ff0 51.9%,#4269fe 53.8%,#2c8bf3 55.7%,#23a0e5 57.5%,#249fe6 59.4%,#20a3e3 61.3%,#06bac4 63.2%,#07bcc0 65.1%,#0db3d3 67.0%,#1baade 68.9%,#1babde 70.8%,#1ea7e1 72.6%,#259ce7 74.5%,#2896eb 76.4%,#22a1e5 78.3%,#0db8c7 80.2%,#35c79a 82.1%,#4ccb83 84.0%,#3fc98f 85.8%,#11beba 87.7%,#22c2ae 89.6%,#38c896 91.5%,#2ec5a2 93.4%,#0ab7c9 95.3%,#12b1d6 97.2%,#12b1d6 99.1%)"></div><div style="height:1px;background:linear-gradient(90deg,#3678fd 0.9%,#4759f8 2.8%,#4744e8 4.7%,#473fe2 6.6%,#4747eb 8.5%,#465bf9 10.4%,#3777fd 12.3%,#2896ec 14.2%,#17addb 16.0%,#06b5cf 17.9%,#1aa9dd 19.8%,#367af9 21.7%,#474bed 23.6%,#4435d0 25.5%,#3f28ad 27.4%,#4333cb 29.2%,#4659f6 31.1%,#3084f8 33.0%,#269ae9 34.9%,#0cb3d1 36.8%,#1ec0b2 38.7%,#2ac3a9 40.6%,#29c3aa 42.5%,#25c2ad 44.3%,#0cbdbd 46.2%,#03b7cb 48.1%,#0db2d3 50.0%,#2698eb 51.9%,#327dfc 53.8%,#249ee7 55.7%,#0cb3d3 57.5%,#11b0d7 59.4%,#1da8e0 61.3%,#11b1d6 63.2%,#1baadf 65.1%,#259de7 67.0%,#2798ea 68.9%,#2798ea 70.8%,#2d8af4 72.6%,#2f83f8 74.5%,#2896ec 76.4%,#21a3e3 78.3%,#0ab6cb 80.2%,#2cc4a5 82.1%,#45cb89 84.0%,#55cc7c 85.8%,#59cc78 87.7%,#53cc7d 89.6%,#3cc992 91.5%,#15beb8 93.4%,#1ca7df 95.3%,#2798ea 97.2%,#2895ec 99.1%)"></div><div style="height:1px;background:linear-gradient(90deg,#4740e4 0.9%,#4746ea 2.8%,#4746ea 4.7%,#4537d5 6.6%,#3f29b0 8.5%,#3e26a8 10.4%,#3f28af 12.3%,#4537d3 14.2%,#4740e4 16.0%,#4536d3 17.9%,#3f28ae 19.8%,#3e26a8 21.7%,#453cd7 23.6%,#4368fd 25.5%,#4562fc 27.4%,#3875fd 29.2%,#2b8ff1 31.1%,#2797eb 33.0%,#2797eb 34.9%,#1fa5e2 36.8%,#08b9c6 38.7%,#28c3a9 40.6%,#35c79a 42.5%,#23c2ac 44.3%,#1ca2e1 46.2%,#3180fa 48.1%,#2895ec 50.0%,#23a0e5 51.9%,#19abdd 53.8%,#09bac4 55.7%,#32c69e 57.5%,#4bcb83 59.4%,#3ec990 61.3%,#12bcbd 63.2%,#21a2e3 65.1%,#2d88f6 67.0%,#2f82fa 68.9%,#2e86f7 70.8%,#3e6cfc 72.6%,#3c71f7 74.5%,#0eb4cf 76.4%,#28c3aa 78.3%,#37c898 80.2%,#37c897 82.1%,#31c6a0 84.0%,#2bc3a7 85.8%,#27c2ab 87.7%,#17bfb6 89.6%,#0ab4d0 91.5%,#21a3e3 93.4%,#2798ea 95.3%,#2d8bf4 97.2%,#2c8ef2 99.1%)"></div><div style="height:1px;background:linear-gradient(90deg,#337dfb 0.9%,#20a2e3 2.8%,#25c3a8 4.7%,#11bdbb 6.6%,#14afd8 8.5%,#1da9e0 10.4%,#1fa6e2 12.3%,#249fe6 14.2%,#2c8bf3 16.0%,#3d6ffe 17.9%,#475af9 19.8%,#475bf9 21.7%,#3c71fe 23.6%,#4268fd 25.5%,#4758f8 27.4%,#367bf8 29.2%,#259ce7 31.1%,#2895ec 33.0%,#2b91ef 34.9%,#2e83f9 36.8%,#2a90f0 38.7%,#1ba9de 40.6%,#04b7cc 42.5%,#03b7ca 44.3%,#229fe6 46.2%,#4366fd 48.1%,#2f87f4 50.0%,#1fa6e1 51.9%,#19addc 53.8%,#10b1d5 55.7%,#28c3a7 57.5%,#3fca8e 59.4%,#33c69d 61.3%,#11beba 63.2%,#0db2d3 65.1%,#1da8e0 67.0%,#20a5e2 68.9%,#1fa5e2 70.8%,#23a1e5 72.6%,#22a0e5 74.5%,#0bb6cd 76.4%,#2bc4a6 78.3%,#37c898 80.2%,#23c2ad 82.1%,#08b6cd 84.0%,#19acdc 85.8%,#0bb4d1 87.7%,#21c1ae 89.6%,#3bc993 91.5%,#38c896 93.4%,#28c3aa 95.3%,#0bbdbd 97.2%,#02b8ca 99.1%)"></div><div style="height:1px;background:linear-gradient(90deg,#2d8af4 0.9%,#269ae9 2.8%,#0cb2d3 4.7%,#19abdd 6.6%,#239fe5 8.5%,#259be8 10.4%,#2698ea 12.3%,#2b90f0 14.2%,#2e84f8 16.0%,#317dfc 17.9%,#3080fa 19.8%,#2c8cf3 21.7%,#269ae8 23.6%,#2e87f5 25.5%,#4269fe 27.4%,#3a74fc 29.2%,#2896ec 31.1%,#2d8af5 33.0%,#22a1e4 34.9%,#08b9c7 36.8%,#2ac4a7 38.7%,#3cc991 40.6%,#43ca8a 42.5%,#3bc993 44.3%,#1abfb4 46.2%,#21a3e3 48.1%,#259be8 50.0%,#2d8af4 51.9%,#249ee6 53.8%,#1da8e0 55.7%,#07b5cf 57.5%,#02b7ca 59.4%,#07b5cf 61.3%,#0ab4d2 63.2%,#10b2d5 65.1%,#17aedb 67.0%,#1ea7e1 68.9%,#22a2e4 70.8%,#21a3e3 72.6%,#19acdd 74.5%,#0bbac3 76.4%,#33c69d 78.3%,#42ca8b 80.2%,#33c69d 82.1%,#0db9c4 84.0%,#249ce8 85.8%,#2c8cf3 87.7%,#20a4e2 89.6%,#14b0d8 91.5%,#13b0d7 93.4%,#06b6cd 95.3%,#0dbdbc 97.2%,#1bc0b4 99.1%)"></div><div style="height:1px;background:linear-gradient(90deg,#3080fa 0.9%,#3d70fe 2.8%,#4563fc 4.7%,#475cfa 6.6%,#465dfa 8.5%,#4562fc 10.4%,#4367fd 12.3%,#3d70fe 14.2%,#4464fd 16.0%,#4269fe 17.9%,#337cfc 19.8%,#2b90f0 21.7%,#259ce7 23.6%,#2798ea 25.5%,#3679fc 27.4%,#4561fc 29.2%,#3776fd 31.1%,#3b73fe 33.0%,#21aece 34.9%,#a4c644 36.8%,#efba35 38.7%,#dfbd2b 40.6%,#b4c534 42.5%,#82cb57 44.3%,#4ccb84 46.2%,#17beb7 48.1%,#239be8 50.0%,#465efb 51.9%,#347efa 53.8%,#2c8ef1 55.7%,#2d8cf3 57.5%,#2e86f7 59.4%,#2e86f7 61.3%,#2c8ff0 63.2%,#2798ea 65.1%,#249ee6 67.0%,#20a4e3 68.9%,#19acdd 70.8%,#07b6ce 72.6%,#18bfb5 74.5%,#34c79b 76.4%,#45cb89 78.3%,#4acb85 80.2%,#3bc993 82.1%,#17bfb6 84.0%,#229de7 85.8%,#347afd 87.7%,#2e88f6 89.6%,#2d89f5 91.5%,#2e84f9 93.4%,#2a93ee 95.3%,#21a2e3 97.2%,#0abbc2 99.1%)"></div><div style="height:1px;background:linear-gradient(90deg,#416bfe 0.9%,#4563fc 2.8%,#4754f5 4.7%,#4848ec 6.6%,#4755f5 8.5%,#406dfe 10.4%,#3281f8 12.3%,#21a2e4 14.2%,#4163fa 16.0%,#463dde 17.9%,#4332ca 19.8%,#4539d8 21.7%,#474ff1 23.6%,#3f6bfe 25.5%,#3f6cfd 27.4%,#4743e5 29.2%,#4330c5 31.1%,#454eeb 33.0%,#23b2c1 34.9%,#cac136 36.8%,#eabb32 38.7%,#a0c842 40.6%,#46ca8a 42.5%,#13beb9 44.3%,#18abdc 46.2%,#337ff7 48.1%,#4747e9 50.0%,#4744e8 51.9%,#4744e9 53.8%,#4742e6 55.7%,#4743e8 57.5%,#4743e7 59.4%,#473ee1 61.3%,#463bdd 63.2%,#4746ea 65.1%,#3e6afb 67.0%,#1dadd3 68.9%,#87c857 70.8%,#f5bd37 72.6%,#fec13a 74.5%,#ddbd2e 76.4%,#84cb57 78.3%,#37c799 80.2%,#0cbcbe 82.1%,#0bb4d2 84.0%,#13b0d7 85.8%,#08b5cf 87.7%,#0bbdbd 89.6%,#18bfb6 91.5%,#06bac4 93.4%,#239be8 95.3%,#4557f5 97.2%,#249be8 99.1%)"></div><div style="height:1px;background:linear-gradient(90deg,#2e83f9 0.9%,#2d88f6 2.8%,#3180fa 4.7%,#4560fb 6.6%,#484df0 8.5%,#484bee 10.4%,#484ef1 12.3%,#4758f7 14.2%,#4538d5 16.0%,#3f28ad 17.9%,#3e26a8 19.8%,#422ebf 21.7%,#4741e3 23.6%,#455ffa 25.5%,#3876fe 27.4%,#3c71fe 29.2%,#4464fd 31.1%,#3c70fc 33.0%,#1badd3 34.9%,#56cb7b 36.8%,#5ecc73 38.7%,#28c3a8 40.6%,#05b7ca 42.5%,#16aeda 44.3%,#1baade 46.2%,#20a5e2 48.1%,#239fe5 50.0%,#17addb 51.9%,#08bac3 53.8%,#30c5a1 55.7%,#46cb88 57.5%,#34c79b 59.4%,#0eb6cc 61.3%,#2798ea 63.2%,#2f83f9 65.1%,#2e85f7 67.0%,#22a0e5 68.9%,#0bbac4 70.8%,#29c3a9 72.6%,#25c2ad 74.5%,#07bac5 76.4%,#15afd9 78.3%,#0ab4d1 80.2%,#02bac5 82.1%,#0db3d3 84.0%,#21a2e4 85.8%,#249ee6 87.7%,#1da8e0 89.6%,#07b7c9 91.5%,#22c1af 93.4%,#17beb7 95.3%,#21a3e3 97.2%,#23a0e5 99.1%)"></div><div style="height:1px;background:linear-gradient(90deg,#2994ed 0.9%,#249de6 2.8%,#2e88f4 4.7%,#4659f7 6.6%,#463de0 8.5%,#4536d4 10.4%,#463adb 12.3%,#473fe3 14.2%,#4743e7 16.0%,#4436d2 17.9%,#412cba 19.8%,#4332c9 21.7%,#4741e4 23.6%,#475af8 25.5%,#3974fe 27.4%,#3080fb 29.2%,#3678fe 31.1%,#337efb 33.0%,#15abd8 34.9%,#34c79b 36.8%,#3ac994 38.7%,#25c2ac 40.6%,#16bfb7 42.5%,#18bfb6 44.3%,#1abfb5 46.2%,#18bfb6 48.1%,#1cc0b4 50.0%,#2bc3a7 51.9%,#4acb85 53.8%,#8bcb50 55.7%,#9fc942 57.5%,#5dcb75 59.4%,#17bfb5 61.3%,#0cb3d2 63.2%,#11b1d6 65.1%,#05b6ce 67.0%,#01b8c9 68.9%,#0fb1d5 70.8%,#21a3e3 72.6%,#23a0e5 74.5%,#259ce7 76.4%,#259be8 78.3%,#17acdb 80.2%,#02b9c7 82.1%,#07b6cd 84.0%,#1da8e0 85.8%,#249ee6 87.7%,#259de7 89.6%,#1ea6e1 91.5%,#0bb3d2 93.4%,#06bbc1 95.3%,#04b9c6 97.2%,#19abdd 99.1%)"></div><div style="height:1px;background:linear-gradient(90deg,#2699e9 0.9%,#23a0e5 2.8%,#3d6df8 4.7%,#453ad9 6.6%,#4331c6 8.5%,#4538d7 10.4%,#484cef 12.3%,#4365fc 14.2%,#3083f9 16.0%,#3b70fc 17.9%,#484bee 19.8%,#4743e7 21.7%,#484bef 23.6%,#4759f8 25.5%,#4466fd 27.4%,#4465fd 29.2%,#475bfa 31.1%,#3c70fb 33.0%,#1aafd0 34.9%,#51cb7f 36.8%,#73cd63 38.7%,#7acc5e 40.6%,#96ca49 42.5%,#a7c73c 44.3%,#84cb56 46.2%,#42c98e 48.1%,#18bfb5 50.0%,#03b7cb 51.9%,#08b4d0 53.8%,#0eb2d4 55.7%,#21a2e4 57.5%,#3281f9 59.4%,#3b72fe 61.3%,#2697eb 63.2%,#1ec0b1 65.1%,#7ecb5b 67.0%,#9fc842 68.9%,#46c88b 70.8%,#10b1d5 72.6%,#0eb2d4 74.5%,#02b7cb 76.4%,#01b8c9 78.3%,#03b7cc 80.2%,#06b6ce 82.1%,#02b7ca 84.0%,#02bac5 85.8%,#04b7cb 87.7%,#1baade 89.6%,#2994ed 91.5%,#3080fa 93.4%,#2c8bf3 95.3%,#1ea7e0 97.2%,#0cb3d3 99.1%)"></div><div style="height:1px;background:linear-gradient(90deg,#327dfc 0.9%,#327cfc 2.8%,#3678fe 4.7%,#3876fe 6.6%,#3a74fe 8.5%,#3f6dfe 10.4%,#4465fd 12.3%,#4562fc 14.2%,#4367fd 16.0%,#416bfe 17.9%,#3d70fe 19.8%,#3578fd 21.7%,#3777fe 23.6%,#3f6dfe 25.5%,#4465fd 27.4%,#4562fc 29.2%,#416bfe 31.1%,#3280fa 33.0%,#17afd2 34.9%,#43ca8c 36.8%,#52cc7e 38.7%,#35c79b 40.6%,#16bfb7 42.5%,#01b9c8 44.3%,#02b9c6 46.2%,#16bfb7 48.1%,#2cc4a6 50.0%,#2ec4a4 51.9%,#19bfb5 53.8%,#07b6cd 55.7%,#1baadf 57.5%,#23a0e5 59.4%,#249de6 61.3%,#22a2e4 63.2%,#15b9c3 65.1%,#58cb79 67.0%,#8ecb4e 68.9%,#78cc5f 70.8%,#40c98f 72.6%,#1ac0b3 74.5%,#13aed8 76.4%,#2994ed 78.3%,#2e84f8 80.2%,#2e83f9 82.1%,#2d8df2 84.0%,#2798ea 85.8%,#249ee6 87.7%,#23a0e5 89.6%,#249de6 91.5%,#2699e9 93.4%,#2699e9 95.3%,#269ae9 97.2%,#3085f6 99.1%)"></div><div style="height:1px;background:linear-gradient(90deg,#2f81fa 0.9%,#2e87f7 2.8%,#2995ec 4.7%,#21a3e3 6.6%,#1fa5e2 8.5%,#2896ec 10.4%,#3180fa 12.3%,#3f6efe 14.2%,#4465fd 16.0%,#4465fd 17.9%,#4465fd 19.8%,#465efb 21.7%,#4853f5 23.6%,#484cf0 25.5%,#484ef1 27.4%,#4854f5 29.2%,#4463fc 31.1%,#3281f9 33.0%,#1ca8df 34.9%,#0fb2d4 36.8%,#29c4a6 38.7%,#4fcc80 40.6%,#57cc7a 42.5%,#4dcc82 44.3%,#48cb86 46.2%,#3eca8f 48.1%,#21c2ad 50.0%,#16addb 51.9%,#20a4e3 53.8%,#23a0e5 55.7%,#22a2e4 57.5%,#17addb 59.4%,#03b8c8 61.3%,#09bcbe 63.2%,#25c2ab 65.1%,#3bc992 67.0%,#37c898 68.9%,#26c3aa 70.8%,#57cc7a 72.6%,#54cc7c 74.5%,#29c3a7 76.4%,#0ab4cf 78.3%,#1fa5e2 80.2%,#269ae9 82.1%,#2c8df2 84.0%,#3080fa 85.8%,#3777fe 87.7%,#3082f9 89.6%,#239fe5 91.5%,#13b0d7 93.4%,#07b5d0 95.3%,#0ab4d1 97.2%,#1da7e0 99.1%)"></div><div style="height:1px;background:linear-gradient(90deg,#2f83f8 0.9%,#2a93ee 2.8%,#22a2e4 4.7%,#16aeda 6.6%,#10b1d5 8.5%,#1ca9df 10.4%,#2b8ef1 12.3%,#3876fe 14.2%,#426afe 16.0%,#4563fc 17.9%,#4756f6 19.8%,#4745e9 21.7%,#463cdf 23.6%,#4741e5 25.5%,#4850f3 27.4%,#475af9 29.2%,#4563fc 31.1%,#3182f8 33.0%,#239fe6 34.9%,#2a92ef 36.8%,#21beb5 38.7%,#93c94c 40.6%,#debd2b 42.5%,#edba33 44.3%,#d3bf2b 46.2%,#74cb63 48.1%,#19b7c4 50.0%,#357dfa 51.9%,#3875fd 53.8%,#2e86f7 55.7%,#269ae9 57.5%,#0cb3d0 59.4%,#25c2ab 61.3%,#3ac993 63.2%,#36c799 65.1%,#2fc5a3 67.0%,#14beb9 68.9%,#14b3d0 70.8%,#49ca88 72.6%,#66cd6d 74.5%,#45ca89 76.4%,#1dc1b1 78.3%,#0fb1d5 80.2%,#1ea6e1 82.1%,#239fe5 84.0%,#2b90f0 85.8%,#2f81fa 87.7%,#2b8cf3 89.6%,#11afd6 91.5%,#21c1af 93.4%,#35c79b 95.3%,#33c69e 97.2%,#1cc0b2 99.1%)"></div><div style="height:1px;background:linear-gradient(90deg,#465dfa 0.9%,#3975fe 2.8%,#307efb 4.7%,#317efb 6.6%,#2e86f7 8.5%,#20a5e2 10.4%,#3084f6 12.3%,#4563fc 14.2%,#4563fc 16.0%,#4269fe 17.9%,#3e6ffe 19.8%,#337bfc 21.7%,#2c8cf3 23.6%,#249de7 25.5%,#20a4e3 27.4%,#259be8 29.2%,#2c8ff0 31.1%,#2a93ee 33.0%,#22a2e4 34.9%,#10b2d2 36.8%,#42c88e 38.7%,#9fc842 40.6%,#cdc028 42.5%,#c7c12a 44.3%,#86ca55 46.2%,#22c1ac 48.1%,#229fe5 50.0%,#2e87f6 51.9%,#2e83f9 53.8%,#2b8ff1 55.7%,#1fa5e2 57.5%,#07b8c9 59.4%,#20c1b0 61.3%,#22c1af 63.2%,#05b8c9 65.1%,#21c2ac 67.0%,#54cc7c 68.9%,#56cc7a 70.8%,#34c69b 72.6%,#0eb4ce 74.5%,#2797eb 76.4%,#3a72fc 78.3%,#4438cf 80.2%,#424fe7 82.1%,#19a5df 84.0%,#33c69d 85.8%,#77cc60 87.7%,#81cc59 89.6%,#5fcc73 91.5%,#73cc63 93.4%,#7bcc5d 95.3%,#3fc891 97.2%,#16aad8 99.1%)"></div><div style="height:1px;background:linear-gradient(90deg,#4169fe 0.9%,#3081f9 2.8%,#2c8ff0 4.7%,#2c90f0 6.6%,#2d8bf3 8.5%,#2e88f6 10.4%,#4360f9 12.3%,#463dde 14.2%,#4435d1 16.0%,#463ddf 17.9%,#484cef 19.8%,#4560fb 21.7%,#3084f7 23.6%,#3579fd 25.5%,#3d71ff 27.4%,#3678fd 29.2%,#2f83f9 31.1%,#2a91ef 33.0%,#1da7e0 34.9%,#09bac4 36.8%,#29c3a9 38.7%,#30c5a1 40.6%,#34c79c 42.5%,#39c994 44.3%,#38c896 46.2%,#31c6a0 48.1%,#6ecb68 50.0%,#bdc32f 51.9%,#cac129 53.8%,#a4c83e 55.7%,#61cc71 57.5%,#36c799 59.4%,#2dc4a5 61.3%,#20c1b0 63.2%,#07b6cc 65.1%,#0fb2d4 67.0%,#12b1d7 68.9%,#1aabdd 70.8%,#21a3e3 72.6%,#269ae9 74.5%,#2698ea 76.4%,#2896eb 78.3%,#3082f9 80.2%,#2e87f6 82.1%,#1fa5e2 84.0%,#07b7ca 85.8%,#1dc0b2 87.7%,#1dc0b3 89.6%,#04b8c8 91.5%,#08b5d0 93.4%,#02b7cb 95.3%,#04b6cd 97.2%,#12b1d7 99.1%)"></div><div style="height:1px;background:linear-gradient(90deg,#484ff1 0.9%,#3d6efd 2.8%,#2a91ef 4.7%,#2798ea 6.6%,#2c8df2 8.5%,#327dfb 10.4%,#416bfe 12.3%,#4660fc 14.2%,#416bfe 16.0%,#2d89f4 17.9%,#2e87f6 19.8%,#3f6efe 21.7%,#3975fe 23.6%,#4756f6 25.5%,#4745e9 27.4%,#484cef 29.2%,#4560fb 31.1%,#3085f6 33.0%,#12afd6 34.9%,#18bfb6 36.8%,#1dc0b3 38.7%,#0cbdbc 40.6%,#0dbdbb 42.5%,#25c2ad 44.3%,#36c799 46.2%,#53cb7e 48.1%,#cfc035 50.0%,#fdc934 51.9%,#fdcd32 53.8%,#edbc33 55.7%,#99c847 57.5%,#46ca89 59.4%,#2ec4a4 61.3%,#1dc0b2 63.2%,#04bac5 65.1%,#11b1d6 67.0%,#1babde 68.9%,#19acdc 70.8%,#11b1d6 72.6%,#09b4d1 74.5%,#03b9c7 76.4%,#1cc0b3 78.3%,#2ac3a9 80.2%,#29c3aa 82.1%,#1ec0b2 84.0%,#08bcbf 85.8%,#06b6cd 87.7%,#1aabdd 89.6%,#269ae8 91.5%,#2b91ef 93.4%,#2994ed 95.3%,#2699ea 97.2%,#23a1e5 99.1%)"></div><div style="height:1px;background:linear-gradient(90deg,#3e26a8 0.9%,#453edb 2.8%,#357cf8 4.7%,#2d8cf3 6.6%,#2f82f9 8.5%,#2d88f6 10.4%,#2799ea 12.3%,#0fb2d3 14.2%,#3bc795 16.0%,#bec23a 17.9%,#6ec371 19.8%,#239ae9 21.7%,#4168fd 23.6%,#484ef0 25.5%,#463cde 27.4%,#4433cb 29.2%,#463bdb 31.1%,#3a73f8 33.0%,#12b4cb 34.9%,#27c2ab 36.8%,#22c1b0 38.7%,#28c3ab 40.6%,#34c79b 42.5%,#4ccb83 44.3%,#6fcc66 46.2%,#8bcb51 48.1%,#93ca4b 50.0%,#84cb56 51.9%,#62cc71 53.8%,#3ec990 55.7%,#2fc5a3 57.5%,#27c2ac 59.4%,#1bc0b4 61.3%,#0ebdbb 63.2%,#06bcc0 65.1%,#0cbdbc 67.0%,#2bc4a7 68.9%,#54cc7d 70.8%,#86cb54 72.6%,#80cc59 74.5%,#6acd6a 76.4%,#97c948 78.3%,#c9c12a 80.2%,#dfbc2a 82.1%,#c6c12d 84.0%,#6ccb69 85.8%,#17beb7 87.7%,#1fa4e2 89.6%,#2c8ef2 91.5%,#2e86f7 93.4%,#2d8bf3 95.3%,#2e85f8 97.2%,#337bfd 99.1%)"></div><div style="height:1px;background:linear-gradient(90deg,#463adb 0.9%,#473fe3 2.8%,#484bee 4.7%,#4852f4 6.6%,#4561fb 8.5%,#3c71fe 10.4%,#4758f7 12.3%,#4746ea 14.2%,#484aee 16.0%,#4560fb 17.9%,#465ffa 19.8%,#4853f5 21.7%,#465dfa 23.6%,#3f6efe 25.5%,#3f6efe 27.4%,#4563fd 29.2%,#416afe 31.1%,#2c8cf3 33.0%,#1fa6e2 34.9%,#1caadf 36.8%,#15afd9 38.7%,#05b9c7 40.6%,#23c2ae 42.5%,#3fc98f 44.3%,#6dcc68 46.2%,#96ca48 48.1%,#9cc944 50.0%,#6ccc69 51.9%,#28c4a6 53.8%,#0bb4d1 55.7%,#1babde 57.5%,#1aabdd 59.4%,#18addb 61.3%,#1ca9df 63.2%,#269ae9 65.1%,#2c90f0 67.0%,#2797ea 68.9%,#2995ec 70.8%,#2b90ef 72.6%,#269ae8 74.5%,#11b0d6 76.4%,#26c3a8 78.3%,#5ccc75 80.2%,#75cc61 82.1%,#50cb80 84.0%,#17bfb6 85.8%,#1ea4e2 87.7%,#3281f9 89.6%,#4658f5 91.5%,#4134c3 93.4%,#2f8af2 95.3%,#10b1d5 97.2%,#01b8c8 99.1%)"></div><div style="height:1px;background:linear-gradient(90deg,#3f6cfe 0.9%,#4756f7 2.8%,#4849ec 4.7%,#484aed 6.6%,#465cf9 8.5%,#406dfe 10.4%,#475af8 12.3%,#463fe2 14.2%,#4332c9 16.0%,#4434cd 17.9%,#463ddf 19.8%,#484cef 21.7%,#465ffb 23.6%,#406dfe 25.5%,#416bfe 27.4%,#4562fc 29.2%,#4367fd 31.1%,#2d8af4 33.0%,#10b0d5 34.9%,#1bc0b3 36.8%,#38c897 38.7%,#5dcc75 40.6%,#8acb51 42.5%,#a6c83d 44.3%,#aec637 46.2%,#adc638 48.1%,#a5c83d 50.0%,#82cb57 51.9%,#42c98e 53.8%,#0fbdbd 55.7%,#13b0d7 57.5%,#1fa6e2 59.4%,#2799ea 61.3%,#327dfb 63.2%,#2c8df2 65.1%,#1ba9de 67.0%,#03b7cc 68.9%,#07b5cf 70.8%,#1ca9df 72.6%,#2699e9 74.5%,#2895ec 76.4%,#259ce7 78.3%,#249de6 80.2%,#2798ea 82.1%,#2b91ef 84.0%,#2699e9 85.8%,#22a1e4 87.7%,#1fa6e1 89.6%,#21a2e4 91.5%,#2b8df2 93.4%,#1babde 95.3%,#0fb3d0 97.2%,#2ac3a8 99.1%)"></div><div style="height:1px;background:linear-gradient(90deg,#2f85f7 0.9%,#4463fc 2.8%,#4850f3 4.7%,#4850f3 6.6%,#465ffb 8.5%,#3d70fe 10.4%,#3d70fe 12.3%,#465dfa 14.2%,#4747eb 16.0%,#4743e7 17.9%,#4754f5 19.8%,#4367fd 21.7%,#4369fe 23.6%,#4367fd 25.5%,#465efb 27.4%,#4854f6 29.2%,#4757f7 31.1%,#3381f6 33.0%,#1bbabe 34.9%,#6ccb69 36.8%,#bfc32f 38.7%,#edbb34 40.6%,#fec339 42.5%,#fec735 44.3%,#fbbd3c 46.2%,#e8bb30 48.1%,#d2bf28 50.0%,#b1c536 51.9%,#71cc65 53.8%,#38c797 55.7%,#12beb9 57.5%,#07b5cf 59.4%,#1ca9df 61.3%,#2c8df2 63.2%,#1ab0cd 65.1%,#4dcb83 67.0%,#75cc61 68.9%,#67cd6c 70.8%,#34c69c 72.6%,#13aed7 74.5%,#2b8ef1 76.4%,#3678fd 78.3%,#4561fb 80.2%,#4852f4 82.1%,#4753f5 84.0%,#347ef9 85.8%,#1ca7df 87.7%,#0ebcbe 89.6%,#35c79a 91.5%,#48cb87 93.4%,#20c2ad 95.3%,#0cb7cb 97.2%,#36c79a 99.1%)"></div><div style="height:1px;background:linear-gradient(90deg,#484ef1 0.9%,#4744e8 2.8%,#4741e5 4.7%,#4849ed 6.6%,#465dfa 8.5%,#3d70fe 10.4%,#3b72ff 12.3%,#4563fc 14.2%,#4851f3 16.0%,#484ef1 17.9%,#3a73fb 19.8%,#2992ef 21.7%,#337bfc 23.6%,#3677fe 25.5%,#3e6ffe 27.4%,#465dfa 29.2%,#4758f7 31.1%,#3282f6 33.0%,#12b7c8 34.9%,#3ac896 36.8%,#90c94e 38.7%,#e9bd32 40.6%,#fad52e 42.5%,#f6ef20 44.3%,#f9f916 46.2%,#f8f719 48.1%,#f7df29 50.0%,#ddc033 51.9%,#55ca7e 53.8%,#25c2ad 55.7%,#29c3a9 57.5%,#4ecb82 59.4%,#acc63b 61.3%,#f3bc36 63.2%,#fdca33 65.1%,#f7bf37 67.0%,#abc63d 68.9%,#44c98c 70.8%,#0ebbc2 72.6%,#21a1e4 74.5%,#2797eb 76.4%,#249ee6 78.3%,#1fa5e2 80.2%,#15afd8 82.1%,#12b1d6 84.0%,#19acdc 85.8%,#22a2e4 87.7%,#2994ed 89.6%,#2699ea 91.5%,#13bac2 93.4%,#3fc990 95.3%,#52cc7e 97.2%,#59cc78 99.1%)"></div><div style="height:1px;background:linear-gradient(90deg,#484ef1 0.9%,#4758f8 2.8%,#4660fc 4.7%,#3c71fe 6.6%,#2796ec 8.5%,#20a3e3 10.4%,#2e88f5 12.3%,#3f6bfd 14.2%,#4850f2 16.0%,#4745e9 17.9%,#4659f7 19.8%,#3c72ff 21.7%,#4368fe 23.6%,#4464fd 25.5%,#4561fc 27.4%,#475bf9 29.2%,#4561fb 31.1%,#2d8af3 33.0%,#0db5cd 34.9%,#26c2ab 36.8%,#1bc0b3 38.7%,#64ca71 40.6%,#c4c22c 42.5%,#d3bf27 44.3%,#cbc129 46.2%,#bac430 48.1%,#9bc945 50.0%,#5ccc76 51.9%,#20c1ae 53.8%,#05b6cd 55.7%,#08b5d0 57.5%,#19c0b4 59.4%,#5dcb76 61.3%,#bfc331 63.2%,#f6bc39 65.1%,#fec636 67.0%,#fec934 68.9%,#fec239 70.8%,#dbbe2f 72.6%,#66ca6f 74.5%,#11bbc0 76.4%,#1ea6e1 78.3%,#23a0e5 80.2%,#21a3e4 82.1%,#1ea8e0 84.0%,#0fb2d4 85.8%,#04bac3 87.7%,#1ac0b5 89.6%,#2ec5a3 91.5%,#47cb87 93.4%,#4bcb83 95.3%,#33c69d 97.2%,#18bfb6 99.1%)"></div><div style="height:1px;background:linear-gradient(90deg,#3b72fe 0.9%,#337afd 2.8%,#317efb 4.7%,#2e85f8 6.6%,#22a0e5 8.5%,#1ea6e1 10.4%,#3281f9 12.3%,#455efa 14.2%,#4741e3 16.0%,#4332ca 17.9%,#4640e1 19.8%,#4852f4 21.7%,#484bee 23.6%,#4853f5 25.5%,#4561fc 27.4%,#3f6dfe 29.2%,#337dfc 31.1%,#2896ec 33.0%,#16adda 34.9%,#09bcc0 36.8%,#05b9c7 38.7%,#3bc795 40.6%,#86cb54 42.5%,#91ca4c 44.3%,#8fcb4e 46.2%,#85cb55 48.1%,#62cc71 50.0%,#2ec5a3 51.9%,#2fc5a2 53.8%,#1cc0b3 55.7%,#07bcc0 57.5%,#19c0b5 59.4%,#3bc894 61.3%,#67cc6c 63.2%,#81cc59 65.1%,#8fca4e 67.0%,#d2bf2b 68.9%,#f0ba36 70.8%,#e3bc2d 72.6%,#a1c841 74.5%,#48ca87 76.4%,#24c2ad 78.3%,#12beb9 80.2%,#06b7cb 82.1%,#1fa4e2 84.0%,#2b8df2 85.8%,#0db3d2 87.7%,#12beb9 89.6%,#23c1af 91.5%,#1cc0b4 93.4%,#0bbdbd 95.3%,#08b5cf 97.2%,#1da8e0 99.1%)"></div><div style="height:1px;background:linear-gradient(90deg,#249ee6 0.9%,#2a92ee 2.8%,#2e85f7 4.7%,#3579fd 6.6%,#3579fd 8.5%,#3876fd 10.4%,#465bf9 12.3%,#4741e4 14.2%,#412dbd 16.0%,#3e26a8 17.9%,#4437d2 19.8%,#4643e3 21.7%,#422fc1 23.6%,#4746e9 25.5%,#3d6efd 27.4%,#2b8ff1 29.2%,#239fe5 31.1%,#21a3e3 33.0%,#249ee6 34.9%,#12afd7 36.8%,#23c2ac 38.7%,#55cc7c 40.6%,#8fca4e 42.5%,#b8c431 44.3%,#dfbc2b 46.2%,#efba35 48.1%,#c0c235 50.0%,#3bc895 51.9%,#88cb53 53.8%,#95ca49 55.7%,#71cc65 57.5%,#5bcc76 59.4%,#57cc7a 61.3%,#45ca89 63.2%,#17bcbc 65.1%,#22a1e4 67.0%,#0db3d3 68.9%,#06bbc0 70.8%,#1fc1b1 72.6%,#3bc894 74.5%,#82cb58 76.4%,#cdc02a 78.3%,#d9be29 80.2%,#84c957 82.1%,#20aad0 84.0%,#4541db 85.8%,#3083f8 87.7%,#2d8bf3 89.6%,#2f83f9 91.5%,#317dfc 93.4%,#2d8af4 95.3%,#2994ec 97.2%,#2896eb 99.1%)"></div><div style="height:1px;background:linear-gradient(90deg,#3e27aa 0.9%,#3e27a9 2.8%,#402bb7 4.7%,#4434ce 6.6%,#4742e5 8.5%,#484df0 10.4%,#484df0 12.3%,#4848ec 14.2%,#484df0 16.0%,#3e6bfc 17.9%,#2d88f6 19.8%,#3a72fc 21.7%,#474def 23.6%,#463cde 25.5%,#4745e8 27.4%,#3b72fa 29.2%,#2797eb 31.1%,#23a0e5 33.0%,#2a92ef 34.9%,#2e86f7 36.8%,#2896eb 38.7%,#1ca9df 40.6%,#06b6cd 42.5%,#06bcc0 44.3%,#0abdbe 46.2%,#09bdbe 48.1%,#18bfb6 50.0%,#29c3a8 51.9%,#5ecc74 53.8%,#84cc56 55.7%,#85cb56 57.5%,#87cb54 59.4%,#8bcb51 61.3%,#7acc5e 63.2%,#56cc7a 65.1%,#3eca8f 67.0%,#53cc7d 68.9%,#74cc63 70.8%,#96ca48 72.6%,#b5c533 74.5%,#cbc129 76.4%,#cec028 78.3%,#a7c73d 80.2%,#33c49b 82.1%,#22a1e4 84.0%,#269ae9 85.8%,#16aeda 87.7%,#06b9c6 89.6%,#2bc4a6 91.5%,#43ca8b 93.4%,#2dc5a3 95.3%,#08bbc1 97.2%,#25c2ad 99.1%)"></div><div style="height:1px;background:linear-gradient(90deg,#3f29b0 0.9%,#4331c8 2.8%,#474aed 4.7%,#4757f7 6.6%,#4850f3 8.5%,#4758f7 10.4%,#3875fd 12.3%,#4269fe 14.2%,#4367fd 16.0%,#357afc 17.9%,#327dfb 19.8%,#465efa 21.7%,#4746ea 23.6%,#4745e9 25.5%,#4165fb 27.4%,#2895ec 29.2%,#249de6 31.1%,#23a0e5 33.0%,#20a5e3 34.9%,#16addb 36.8%,#0cbcbf 38.7%,#22c1b0 40.6%,#14beb8 42.5%,#03b8c9 44.3%,#08b4d1 46.2%,#05bac5 48.1%,#30c59f 50.0%,#76cc61 51.9%,#b3c534 53.8%,#bbc430 55.7%,#98c947 57.5%,#6dcd68 59.4%,#4fcc81 61.3%,#37c897 63.2%,#24c2ae 65.1%,#07bcc0 67.0%,#02bac5 68.9%,#1cc0b2 70.8%,#58cb7a 72.6%,#b8c434 74.5%,#f0bb35 76.4%,#fec03a 78.3%,#f6bc39 80.2%,#a5c642 82.1%,#39c896 84.0%,#30c5a1 85.8%,#2cc4a7 87.7%,#35c79b 89.6%,#58cc79 91.5%,#7dcc5c 93.4%,#5acc77 95.3%,#32c69e 97.2%,#35c79a 99.1%)"></div><div style="height:1px;background:linear-gradient(90deg,#4758f8 0.9%,#4366fd 2.8%,#2f86f6 4.7%,#2c8cf3 6.6%,#3875fe 8.5%,#337cfb 10.4%,#20a3e3 12.3%,#2a93ee 14.2%,#2d89f5 16.0%,#2d88f6 17.9%,#2f81fa 19.8%,#3a72fd 21.7%,#4754f6 23.6%,#465cf9 25.5%,#3084f6 27.4%,#21a2e4 29.2%,#2a93ee 31.1%,#249de7 33.0%,#14bbbf 34.9%,#5ccb77 36.8%,#abc739 38.7%,#a4c83e 40.6%,#62cc71 42.5%,#37c898 44.3%,#36c799 46.2%,#65cc6f 48.1%,#bcc332 50.0%,#f6bc38 51.9%,#fec338 53.8%,#f4bb37 55.7%,#bbc432 57.5%,#6ccc69 59.4%,#3bc993 61.3%,#27c3ab 63.2%,#08bbc1 65.1%,#14aed9 67.0%,#22a1e4 68.9%,#1ea6e1 70.8%,#1bbfb4 72.6%,#90c94f 74.5%,#f3bf34 76.4%,#f7dc2a 78.3%,#f5e228 80.2%,#fcca34 82.1%,#dcbd2e 84.0%,#93ca4b 85.8%,#59cc78 87.7%,#40ca8e 89.6%,#37c897 91.5%,#34c79b 93.4%,#33c69e 95.3%,#2ec4a4 97.2%,#23c1af 99.1%)"></div><div style="height:1px;background:linear-gradient(90deg,#327cfc 0.9%,#3a73fe 2.8%,#3b73fe 4.7%,#3678fe 6.6%,#2f85f7 8.5%,#1ea4e1 10.4%,#06b6ce 12.3%,#12b1d6 14.2%,#07b5cf 16.0%,#17bfb6 17.9%,#63ca71 19.8%,#adc245 21.7%,#17b3cd 23.6%,#3282f7 25.5%,#4756f6 27.4%,#4740e4 29.2%,#4747ea 31.1%,#2e8af0 33.0%,#49c788 34.9%,#c7c12d 36.8%,#d2bf28 38.7%,#9bc945 40.6%,#7dcc5b 42.5%,#c8c12e 44.3%,#fac039 46.2%,#f9d82c 48.1%,#f5ea24 50.0%,#f5ed21 51.9%,#f6e128 53.8%,#fdca34 55.7%,#f4bb39 57.5%,#e0bc2a 59.4%,#d3bf27 61.3%,#d4bf28 63.2%,#d9be28 65.1%,#c7c12b 67.0%,#86cb54 68.9%,#3ec991 70.8%,#38c897 72.6%,#7fcb5a 74.5%,#ddbd2f 76.4%,#fec139 78.3%,#fdc03a 80.2%,#e7bb30 82.1%,#c1c32d 84.0%,#98c947 85.8%,#5dcc75 87.7%,#21c2ad 89.6%,#16acda 91.5%,#2798ea 93.4%,#259ce7 95.3%,#1aabdd 97.2%,#0ab4d1 99.1%)"></div><div style="height:1px;background:linear-gradient(90deg,#2b90f0 0.9%,#307ffb 2.8%,#3b73fe 4.7%,#3c71ff 6.6%,#3083f8 8.5%,#18a9dc 10.4%,#05b6cd 12.3%,#17aeda 14.2%,#18aedb 16.0%,#11b1d6 17.9%,#08b4d0 19.8%,#11add6 21.7%,#377afa 23.6%,#4751f3 25.5%,#463ada 27.4%,#4539d8 29.2%,#4559f6 31.1%,#2796ec 33.0%,#1aabdd 34.9%,#23c2aa 36.8%,#41ca8d 38.7%,#36c899 40.6%,#35c79a 42.5%,#61cc71 44.3%,#9dc943 46.2%,#d3bf2d 48.1%,#fcc835 50.0%,#f5e427 51.9%,#f5ec22 53.8%,#f5e327 55.7%,#fccd32 57.5%,#eebb34 59.4%,#b7c433 61.3%,#63cb70 63.2%,#1cb0d1 65.1%,#23c2ab 67.0%,#28c3a9 68.9%,#19a3de 70.8%,#20a7d6 72.6%,#4fcb82 74.5%,#8ecb4f 76.4%,#9ec942 78.3%,#8ecb4f 80.2%,#75cc61 82.1%,#66cd6d 84.0%,#5dcc74 85.8%,#50cc7f 87.7%,#3bc994 89.6%,#1fc1b0 91.5%,#02b9c6 93.4%,#02b8c9 95.3%,#0dbdbc 97.2%,#26c2ac 99.1%)"></div><div style="height:1px;background:linear-gradient(90deg,#2c8df2 0.9%,#2e86f7 2.8%,#2e83f9 4.7%,#2e85f8 6.6%,#2a91ef 8.5%,#15acda 10.4%,#02b8ca 12.3%,#02b8ca 14.2%,#07bcc0 16.0%,#10b1d5 17.9%,#2799ea 19.8%,#3a73fc 21.7%,#474ff1 23.6%,#463cde 25.5%,#463bdc 27.4%,#474ef0 29.2%,#367afa 31.1%,#23a0e5 33.0%,#2b8ef1 34.9%,#14afd4 36.8%,#34c69c 38.7%,#66cc6d 40.6%,#93ca4b 42.5%,#afc636 44.3%,#b1c636 46.2%,#b2c635 48.1%,#debd2c 50.0%,#fbbd3c 51.9%,#fec438 53.8%,#fdbe3c 55.7%,#e9bb31 57.5%,#bec32f 59.4%,#7bcc5d 61.3%,#2cc4a2 63.2%,#2890f0 65.1%,#1ea6e1 67.0%,#18addb 68.9%,#2a91ed 70.8%,#209ae6 72.6%,#10bebb 74.5%,#0dbdbc 76.4%,#0bb4d2 78.3%,#12bcbf 80.2%,#36c799 82.1%,#42ca8b 84.0%,#36c799 85.8%,#28c3aa 87.7%,#2ac3a9 89.6%,#2cc4a7 91.5%,#2cc4a7 93.4%,#30c5a1 95.3%,#3ac994 97.2%,#44cb89 99.1%)"></div><div style="height:1px;background:linear-gradient(90deg,#327dfb 0.9%,#2c8ef1 2.8%,#249de7 4.7%,#1ea8e1 6.6%,#1caadf 8.5%,#14afd8 10.4%,#05b9c7 12.3%,#2cc4a3 14.2%,#67cc6d 16.0%,#1cc0b2 17.9%,#20a2e3 19.8%,#367bfb 21.7%,#4756f6 23.6%,#4848ec 25.5%,#4851f3 27.4%,#3f6bfd 29.2%,#2a90f0 31.1%,#20a5e2 33.0%,#249ee6 34.9%,#1dbdb9 36.8%,#a8c544 38.7%,#fad42f 40.6%,#f9f916 42.5%,#f9fa15 44.3%,#f8df28 46.2%,#f0bd34 48.1%,#c1c32e 50.0%,#9dc943 51.9%,#76cc61 53.8%,#4ecb81 55.7%,#40ca8d 57.5%,#44cb8a 59.4%,#43ca8b 61.3%,#32c69e 63.2%,#0dbcbf 65.1%,#1ba9de 67.0%,#22a2e4 68.9%,#14afd8 70.8%,#12b1d6 72.6%,#23a0e5 74.5%,#337ff9 76.4%,#4752f4 78.3%,#2e8aed 80.2%,#23c2aa 82.1%,#46cb88 84.0%,#21c2ac 85.8%,#12b0d7 87.7%,#11b1d6 89.6%,#07bbc2 91.5%,#2cc4a5 93.4%,#4bcb84 95.3%,#61cd72 97.2%,#4acb85 99.1%)"></div><div style="height:1px;background:linear-gradient(90deg,#19abdd 0.9%,#05b6cd 2.8%,#02b7cb 4.7%,#11b1d6 6.6%,#1fa6e2 8.5%,#249de6 10.4%,#269be8 12.3%,#23a0e5 14.2%,#1aacdd 16.0%,#1fa6e1 17.9%,#269ae9 19.8%,#2e87f6 21.7%,#4169fd 23.6%,#4747ea 25.5%,#402bb6 27.4%,#3e26a8 29.2%,#4337cc 31.1%,#2890eb 33.0%,#6bc76e 34.9%,#f5c631 36.8%,#f7f11d 38.7%,#f9fb15 40.6%,#f9fb15 42.5%,#f7f41c 44.3%,#f9d92c 46.2%,#fcc03a 48.1%,#e5bb2e 50.0%,#c2c22d 51.9%,#88cb53 53.8%,#4acb85 55.7%,#35c79a 57.5%,#3bc993 59.4%,#49cb85 61.3%,#50cc7f 63.2%,#48cb86 65.1%,#2cc4a4 67.0%,#0db4d0 68.9%,#1da9df 70.8%,#19addc 72.6%,#1babde 74.5%,#1ea8e1 76.4%,#22a2e4 78.3%,#1baade 80.2%,#0bb3d2 82.1%,#04bac4 84.0%,#22c1af 85.8%,#42ca8d 87.7%,#8bca51 89.6%,#d3bf2b 91.5%,#f4ba3a 93.4%,#e9bb31 95.3%,#91c84e 97.2%,#1fb2ca 99.1%)"></div><div style="height:1px;background:linear-gradient(90deg,#4365fd 0.9%,#337cfc 2.8%,#2d88f6 4.7%,#2d8bf4 6.6%,#2c8ff1 8.5%,#249de7 10.4%,#13b0d8 12.3%,#15afd9 14.2%,#17aeda 16.0%,#15afd9 17.9%,#12b1d6 19.8%,#11b1d6 21.7%,#1da8e0 23.6%,#2b8ef1 25.5%,#4169fd 27.4%,#4757f7 29.2%,#3a72fc 31.1%,#1fa3e2 33.0%,#33c59b 34.9%,#b0c53a 36.8%,#f4bc37 38.7%,#fec934 40.6%,#fbd12f 42.5%,#fad52e 44.3%,#fbd32e 46.2%,#fdcc32 48.1%,#fbbe3b 50.0%,#d8be2c 51.9%,#8bca51 53.8%,#3ac896 55.7%,#1bc0b4 57.5%,#20c1b1 59.4%,#32c69f 61.3%,#42ca8c 63.2%,#4acb84 65.1%,#36c79a 67.0%,#0fbdbb 68.9%,#10beba 70.8%,#2ac3a8 72.6%,#35c79a 74.5%,#46cb88 76.4%,#4acb85 78.3%,#2dc5a3 80.2%,#10b2d2 82.1%,#22a2e4 84.0%,#10b9c4 85.8%,#49ca88 87.7%,#a1c841 89.6%,#debd2b 91.5%,#f0ba36 93.4%,#ddbd2b 95.3%,#92c94c 97.2%,#1fc1ae 99.1%)"></div><div style="height:1px;background:linear-gradient(90deg,#3e27ac 0.9%,#4538d6 2.8%,#484aee 4.7%,#4755f6 6.6%,#4267fd 8.5%,#2c8cf2 10.4%,#0cb2d3 12.3%,#0cb3d3 14.2%,#16afd9 16.0%,#11b1d6 17.9%,#03b8ca 19.8%,#06bcc0 21.7%,#04bac3 23.6%,#16adda 25.5%,#2798ea 27.4%,#2a92ee 29.2%,#1da7e0 31.1%,#13b0d7 33.0%,#0bb8c7 34.9%,#35c79b 36.8%,#63cc70 38.7%,#8dcb4f 40.6%,#b5c534 42.5%,#debd2b 44.3%,#fabd3b 46.2%,#fec636 48.1%,#fec537 50.0%,#f1bb36 51.9%,#b8c434 53.8%,#5ecc74 55.7%,#33c69d 57.5%,#33c69e 59.4%,#41ca8c 61.3%,#53cc7d 63.2%,#50cc7f 65.1%,#36c799 67.0%,#2ec4a4 68.9%,#4ecb82 70.8%,#76cc61 72.6%,#9bc945 74.5%,#bcc42f 76.4%,#bcc42f 78.3%,#7acb5f 80.2%,#1dbabd 82.1%,#249ee6 84.0%,#14bbc0 85.8%,#4ecb82 87.7%,#96c949 89.6%,#bbc42f 91.5%,#bbc430 93.4%,#9fc942 95.3%,#75cc62 97.2%,#52cc7e 99.1%)"></div><div style="height:1px;background:linear-gradient(90deg,#4752f4 0.9%,#3b72fe 2.8%,#3d6efe 4.7%,#4751f3 6.6%,#463ddf 8.5%,#4639d9 10.4%,#4745e9 12.3%,#4851f3 14.2%,#475bf9 16.0%,#3f6dfe 17.9%,#307ffb 19.8%,#3975fe 21.7%,#465ffb 23.6%,#4745e8 25.5%,#422ebf 27.4%,#3e27aa 29.2%,#453eda 31.1%,#2099e3 33.0%,#8ec654 34.9%,#f5ba3a 36.8%,#e5bc2f 38.7%,#a4c73f 40.6%,#62cc71 42.5%,#4ecc81 44.3%,#6ecc67 46.2%,#b7c434 48.1%,#f5bd37 50.0%,#fbd12f 51.9%,#f8da2b 53.8%,#fbd32e 55.7%,#fdcc32 57.5%,#fdcb32 59.4%,#fec636 61.3%,#f2bb36 63.2%,#bdc331 65.1%,#78cc60 67.0%,#50cc7f 68.9%,#4ccb83 70.8%,#50cc7f 72.6%,#58cc79 74.5%,#62cd71 76.4%,#6acd6a 78.3%,#62cd71 80.2%,#3bc894 82.1%,#2cc4a6 84.0%,#8aca52 85.8%,#dabd2a 87.7%,#f1ba37 89.6%,#f1ba36 91.5%,#d8be2a 93.4%,#97c948 95.3%,#47ca88 97.2%,#19bfb5 99.1%)"></div><div style="height:1px;background:linear-gradient(90deg,#455ffa 0.9%,#327efb 2.8%,#2e85f8 4.7%,#337bfc 6.6%,#416bfe 8.5%,#475bf9 10.4%,#484ff2 12.3%,#4748ec 14.2%,#4743e8 16.0%,#4741e5 17.9%,#463de0 19.8%,#4332c9 21.7%,#3f28af 23.6%,#3e26a8 25.5%,#3f29b2 27.4%,#4435d1 29.2%,#4655f3 31.1%,#1d9fe4 33.0%,#21c1b0 34.9%,#2cc4a3 36.8%,#b5c438 38.7%,#f7bc39 40.6%,#fec636 42.5%,#fdcb33 44.3%,#fccf31 46.2%,#f8d92b 48.1%,#f5e825 50.0%,#f5ed22 51.9%,#f8db2b 53.8%,#eabd32 55.7%,#ccc028 57.5%,#ccc028 59.4%,#bac430 61.3%,#8eca4f 63.2%,#56cc7b 65.1%,#39c994 67.0%,#3ac994 68.9%,#54cc7c 70.8%,#7bcc5d 72.6%,#9ac945 74.5%,#a6c83c 76.4%,#95ca49 78.3%,#62cc70 80.2%,#2fc5a1 82.1%,#0ebdbb 84.0%,#21c1b0 85.8%,#32c69e 87.7%,#4acb85 89.6%,#72cc64 91.5%,#8ecb4f 93.4%,#68cb6c 95.3%,#1dc1ad 97.2%,#8acb52 99.1%)"></div><div style="height:1px;background:linear-gradient(90deg,#465bf8 0.9%,#3b72fe 2.8%,#317dfc 4.7%,#337bfc 6.6%,#3e6efe 8.5%,#475bf9 10.4%,#4743e7 12.3%,#4435d2 14.2%,#4332ca 16.0%,#4433cd 17.9%,#4537d5 19.8%,#4539d9 21.7%,#4435d0 23.6%,#4230c3 25.5%,#4536d3 27.4%,#474bee 29.2%,#3c6ffb 31.1%,#1da5e1 33.0%,#04b6cc 34.9%,#1ab7c6 36.8%,#94c84d 38.7%,#f5be36 40.6%,#fad32e 42.5%,#f6e028 44.3%,#f5e625 46.2%,#f5ec22 48.1%,#f6f01f 50.0%,#f5ed22 51.9%,#fad52e 53.8%,#d5bf31 55.7%,#9ac946 57.5%,#7fcc5a 59.4%,#61cd71 61.3%,#40ca8f 63.2%,#28c3aa 65.1%,#12beb9 67.0%,#1abfb5 68.9%,#33c69d 70.8%,#51cc7f 72.6%,#69cd6b 74.5%,#69cd6b 76.4%,#4ccb83 78.3%,#2bc4a6 80.2%,#07bac5 82.1%,#1ba9de 84.0%,#1da8e0 85.8%,#06b7ca 87.7%,#23c2ad 89.6%,#4ecb82 91.5%,#93ca4b 93.4%,#a4c83f 95.3%,#69ca6d 97.2%,#f3bf35 99.1%)"></div><div style="height:1px;background:linear-gradient(90deg,#484ff2 0.9%,#475cfa 2.8%,#465efb 4.7%,#4754f5 6.6%,#4747eb 8.5%,#4539d8 10.4%,#3f2ab2 12.3%,#3e26a8 14.2%,#3f28af 16.0%,#463cdc 17.9%,#4460fa 19.8%,#3081fa 21.7%,#3081fa 23.6%,#4365fc 25.5%,#484df0 27.4%,#484ef1 29.2%,#3b72fb 31.1%,#18a7dd 33.0%,#26c3a8 34.9%,#70cc66 36.8%,#b2c535 38.7%,#c3c22b 40.6%,#c2c22c 42.5%,#d0bf28 44.3%,#eeba34 46.2%,#fec339 48.1%,#fccf30 50.0%,#fad52e 51.9%,#fcce31 53.8%,#f5bd37 55.7%,#bcc332 57.5%,#77cc60 59.4%,#55cc7b 61.3%,#3ec990 63.2%,#29c3a8 65.1%,#09bcbf 67.0%,#01b8c9 68.9%,#02bac4 70.8%,#08bcbe 72.6%,#06bbc1 74.5%,#05b6cd 76.4%,#17aeda 78.3%,#1da8e0 80.2%,#21a4e3 82.1%,#2b8ef1 84.0%,#229de6 85.8%,#1ec1af 87.7%,#51cb7f 89.6%,#8fca4e 91.5%,#d7be2d 93.4%,#fdc338 95.3%,#fdcd32 97.2%,#fad42e 99.1%)"></div><div style="height:1px;background:linear-gradient(90deg,#3d70fe 0.9%,#2f84f8 2.8%,#2f84f8 4.7%,#3974fe 6.6%,#337bfc 8.5%,#2c8ef2 10.4%,#2e87f6 12.3%,#416afe 14.2%,#475bf9 16.0%,#4756f7 17.9%,#4756f6 19.8%,#4852f4 21.7%,#4744e7 23.6%,#4331c5 25.5%,#3e27a9 27.4%,#3e26a8 29.2%,#4339cf 31.1%,#29a0d9 33.0%,#c2c241 34.9%,#fbd22f 36.8%,#f7f01e 38.7%,#f9fb15 40.6%,#f8f818 42.5%,#f6f01f 44.3%,#f5ec22 46.2%,#f5e725 48.1%,#f6df29 50.0%,#fad42e 51.9%,#fcc139 53.8%,#d0c02d 55.7%,#7ecb5a 57.5%,#59cc78 59.4%,#79cc5e 61.3%,#b9c432 63.2%,#e2bc2c 65.1%,#ecba32 67.0%,#dabd2a 68.9%,#aec638 70.8%,#9cc944 72.6%,#9ac945 74.5%,#79cc5e 76.4%,#4dcb82 78.3%,#34c79c 80.2%,#29c3aa 82.1%,#18bfb6 84.0%,#1fc1b1 85.8%,#31c69f 87.7%,#35c79a 89.6%,#33c79d 91.5%,#33c79d 93.4%,#39c895 95.3%,#61cc72 97.2%,#cbc133 99.1%)"></div><div style="height:1px;background:linear-gradient(90deg,#465efb 0.9%,#3778fc 2.8%,#2798eb 4.7%,#11b0d7 6.6%,#249ee6 8.5%,#269ae9 10.4%,#2a92ee 12.3%,#2d8af4 14.2%,#2994ed 16.0%,#20a4e2 17.9%,#14b0d8 19.8%,#1aabdd 21.7%,#2993ee 23.6%,#3876fd 25.5%,#4563fc 27.4%,#465ffb 29.2%,#3d6ffd 31.1%,#1ca9d8 33.0%,#78c961 34.9%,#e5bc31 36.8%,#f9d72d 38.7%,#f8f719 40.6%,#f9fb15 42.5%,#f9fb15 44.3%,#f9fb15 46.2%,#f7f21d 48.1%,#f9d62d 50.0%,#f4bd36 51.9%,#bec330 53.8%,#7fcc5a 55.7%,#69cd6b 57.5%,#82cc58 59.4%,#a6c73c 61.3%,#bac430 63.2%,#bdc32e 65.1%,#b8c431 67.0%,#a6c83d 68.9%,#70cc66 70.8%,#27c3a8 72.6%,#31c6a0 74.5%,#32c69f 76.4%,#2bc3a8 78.3%,#2dc4a5 80.2%,#38c896 82.1%,#4dcb82 84.0%,#5dcc74 85.8%,#55cc7b 87.7%,#3ac894 89.6%,#2fc5a2 91.5%,#2ec5a4 93.4%,#30c5a2 95.3%,#3fc98f 97.2%,#79cc5e 99.1%)"></div><div style="height:1px;background:linear-gradient(90deg,#4754f5 0.9%,#3975fc 2.8%,#1ca3e1 4.7%,#21c2ad 6.6%,#1fa3e2 8.5%,#2e86f7 10.4%,#327cfc 12.3%,#2d89f5 14.2%,#1fa4e2 16.0%,#10bcbe 17.9%,#35c79b 19.8%,#2ec5a2 21.7%,#0ab7c9 23.6%,#20a4e3 25.5%,#2798ea 27.4%,#2699e9 29.2%,#249fe6 31.1%,#12afd7 33.0%,#1bc0b2 34.9%,#5ecb75 36.8%,#cac131 38.7%,#fbcc33 40.6%,#f7f31c 42.5%,#f9fb15 44.3%,#f9fb15 46.2%,#f6ec21 48.1%,#fac535 50.0%,#bcc333 51.9%,#65cc6f 53.8%,#40ca8d 55.7%,#59cc78 57.5%,#91ca4c 59.4%,#a1c840 61.3%,#76cc61 63.2%,#42ca8c 65.1%,#31c6a0 67.0%,#32c69f 68.9%,#2bc4a7 70.8%,#17a9db 72.6%,#0db2d4 74.5%,#07b5cf 76.4%,#14afd8 78.3%,#0fbdbd 80.2%,#3bc895 82.1%,#68cc6c 84.0%,#86cb55 85.8%,#7acc5e 87.7%,#4ccb83 89.6%,#38c897 91.5%,#30c5a1 93.4%,#3dc992 95.3%,#5ecc74 97.2%,#60cd72 99.1%)"></div><div style="height:1px;background:linear-gradient(90deg,#2c8cf3 0.9%,#13aed8 2.8%,#14aed8 4.7%,#2a92ef 6.6%,#3a74fe 8.5%,#4466fd 10.4%,#4269fe 12.3%,#3f6dfe 14.2%,#4269fe 16.0%,#475af8 17.9%,#4743e6 19.8%,#4331c8 21.7%,#402bb7 23.6%,#402ab5 25.5%,#3f28af 27.4%,#402ab4 29.2%,#4550ed 31.1%,#1da9d6 33.0%,#48ca87 34.9%,#70cc65 36.8%,#b0c538 38.7%,#f3be35 40.6%,#f8dd2a 42.5%,#f7f51b 44.3%,#f7f31c 46.2%,#f9d92c 48.1%,#ebbd32 50.0%,#a0c842 51.9%,#61cc71 53.8%,#41ca8d 55.7%,#33c79c 57.5%,#31c6a0 59.4%,#31c6a0 61.3%,#2bc4a7 63.2%,#23c1af 65.1%,#29c3a9 67.0%,#41ca8d 68.9%,#7acc5e 70.8%,#a2c83f 72.6%,#a9c73a 74.5%,#62ca73 76.4%,#06b6cd 78.3%,#2bc5a2 80.2%,#51cc7f 82.1%,#55cc7b 84.0%,#59cc79 85.8%,#61cd72 87.7%,#59cc78 89.6%,#35c79a 91.5%,#16abd8 93.4%,#21b6be 95.3%,#85cb56 97.2%,#b3c534 99.1%)"></div><div style="height:1px;background:linear-gradient(90deg,#3678fd 0.9%,#2896ec 2.8%,#1ea7e1 4.7%,#2a91ef 6.6%,#327dfc 8.5%,#3579fd 10.4%,#2f84f8 12.3%,#2897eb 14.2%,#0cb2d3 16.0%,#2598ea 17.9%,#4461fa 19.8%,#4747eb 21.7%,#4746ea 23.6%,#4754f5 25.5%,#4661fc 27.4%,#4269fe 29.2%,#3280f9 31.1%,#15afd3 33.0%,#3ec892 34.9%,#68cd6c 36.8%,#6fcd66 38.7%,#79cc5f 40.6%,#cac12f 42.5%,#fbc039 44.3%,#fccf31 46.2%,#fdcd32 48.1%,#fdc13a 50.0%,#edba34 51.9%,#cec02a 53.8%,#9ac946 55.7%,#64cd6f 57.5%,#4fcc80 59.4%,#47cb87 61.3%,#34c79c 63.2%,#10bdbb 65.1%,#11b1d6 67.0%,#1caadf 68.9%,#19addc 70.8%,#15afd9 72.6%,#1fa5e2 74.5%,#259ce7 76.4%,#239ee6 78.3%,#10b9c5 80.2%,#3dc893 82.1%,#7ecc5a 84.0%,#9ec942 85.8%,#d5bf33 87.7%,#fec239 89.6%,#e2bd32 91.5%,#51c782 93.4%,#4ac887 95.3%,#a9c73b 97.2%,#9ec843 99.1%)"></div><div style="height:1px;background:linear-gradient(90deg,#4742e6 0.9%,#474ff1 2.8%,#3c70fe 4.7%,#337bfd 6.6%,#2e85f8 8.5%,#2895ec 10.4%,#1aaadd 12.3%,#14beb9 14.2%,#3ec990 16.0%,#19b0cf 17.9%,#357bfa 19.8%,#475bf9 21.7%,#4757f7 23.6%,#4465fd 25.5%,#3777fd 27.4%,#2f81fa 29.2%,#2b8ff1 31.1%,#15b2cf 33.0%,#4dca84 34.9%,#8acb52 36.8%,#80cc59 38.7%,#61cd71 40.6%,#8ccb50 42.5%,#c1c22d 44.3%,#eabb32 46.2%,#fec338 48.1%,#fccf30 50.0%,#fdce31 51.9%,#fcc03a 53.8%,#d8be2c 55.7%,#98c947 57.5%,#69cd6b 59.4%,#49cb85 61.3%,#31c5a0 63.2%,#27c2ac 65.1%,#20c1b1 67.0%,#17bfb7 68.9%,#0bbdbd 70.8%,#0bb3d1 72.6%,#2796ec 74.5%,#2f81fa 76.4%,#2798eb 78.3%,#0db4ce 80.2%,#35c69b 82.1%,#64cd6f 84.0%,#7ecc5b 85.8%,#ddbf34 87.7%,#fec438 89.6%,#d7bf33 91.5%,#3fc690 93.4%,#22c2ab 95.3%,#56cc7b 97.2%,#5dcc75 99.1%)"></div><div style="height:1px;background:linear-gradient(90deg,#3e26a8 0.9%,#3e26a8 2.8%,#3e27ac 4.7%,#464aea 6.6%,#3282f7 8.5%,#15acd9 10.4%,#23c2aa 12.3%,#6fcc67 14.2%,#45c78c 16.0%,#19a7de 17.9%,#357bfa 19.8%,#4759f8 21.7%,#4849ed 23.6%,#484aee 25.5%,#4851f3 27.4%,#4758f8 29.2%,#3b73fc 31.1%,#1db2ca 33.0%,#84ca57 34.9%,#d4bf29 36.8%,#e5bb2c 38.7%,#d9be29 40.6%,#bdc32f 42.5%,#a6c83c 44.3%,#bdc330 46.2%,#f7bf36 48.1%,#f9d62d 50.0%,#f8d92c 51.9%,#fdca34 53.8%,#ecbb33 55.7%,#b0c638 57.5%,#66cc6d 59.4%,#34c79c 61.3%,#22c1af 63.2%,#5eca76 65.1%,#dbbe32 67.0%,#fccd32 68.9%,#fccf31 70.8%,#dfbe32 72.6%,#57c97d 74.5%,#11b3d1 76.4%,#18addc 78.3%,#0abbc1 80.2%,#29c3a8 82.1%,#1ec1b0 84.0%,#18bfb3 85.8%,#70cc65 87.7%,#5fcc73 89.6%,#1ec1af 91.5%,#249be9 93.4%,#2a8ff0 95.3%,#13aed8 97.2%,#26c3a7 99.1%)"></div><div style="height:1px;background:linear-gradient(90deg,#4434cf 0.9%,#422ebf 2.8%,#4434ce 4.7%,#4749ec 6.6%,#4267fd 8.5%,#2e87f6 10.4%,#239fe6 12.3%,#18addb 14.2%,#1ca8df 16.0%,#2897eb 17.9%,#2d88f6 19.8%,#3579fd 21.7%,#4366fd 23.6%,#4852f4 25.5%,#4745e9 27.4%,#4747eb 29.2%,#3d6dfa 31.1%,#1cb3c9 33.0%,#8dc851 34.9%,#f6c732 36.8%,#f8f619 38.7%,#f9fb15 40.6%,#f9fb15 42.5%,#f6d22e 44.3%,#d1bf28 46.2%,#eeba34 48.1%,#fbbc3d 50.0%,#fdbd3d 51.9%,#f5ba3a 53.8%,#ddbd2a 55.7%,#bcc42f 57.5%,#acc739 59.4%,#a9c73a 61.3%,#a2c840 63.2%,#acc739 65.1%,#c8c12a 67.0%,#dfbc2a 68.9%,#e1bc2b 70.8%,#c8c12b 72.6%,#9ec842 74.5%,#6acc6a 76.4%,#38c798 78.3%,#14aed2 80.2%,#3e6bfa 82.1%,#1ea5e1 84.0%,#0ab7ca 85.8%,#24c2ad 87.7%,#2bc3a8 89.6%,#2ac3a9 91.5%,#28c2ab 93.4%,#2dc4a5 95.3%,#1bbeb7 97.2%,#58c57c 99.1%)"></div><div style="height:1px;background:linear-gradient(90deg,#484ff2 0.9%,#484bef 2.8%,#473fe3 4.7%,#4536d4 6.6%,#4538d7 8.5%,#4746ea 10.4%,#465efa 12.3%,#3b72fe 14.2%,#3678fd 16.0%,#3f6dfe 17.9%,#465efb 19.8%,#4851f3 21.7%,#4747ec 23.6%,#4748ec 25.5%,#484df0 27.4%,#4853f4 29.2%,#3976fa 31.1%,#1ab5c6 33.0%,#71cc65 34.9%,#c5c43c 36.8%,#f7ee1f 38.7%,#f9fb15 40.6%,#f7f51a 42.5%,#f6ca31 44.3%,#c1c32d 46.2%,#c1c32c 48.1%,#d0bf28 50.0%,#d8be28 51.9%,#d6be28 53.8%,#c7c12a 55.7%,#b6c532 57.5%,#b9c431 59.4%,#c6c22a 61.3%,#cec028 63.2%,#d0c028 65.1%,#d3bf28 67.0%,#f2bd35 68.9%,#f9d82c 70.8%,#f5eb23 72.6%,#f5eb23 74.5%,#f7dc2a 76.4%,#f6c036 78.3%,#9bc748 80.2%,#24c2ab 82.1%,#64cc6f 84.0%,#78cc5f 85.8%,#5dcc74 87.7%,#46cb88 89.6%,#38c896 91.5%,#13bdba 93.4%,#04b9c6 95.3%,#10b0d4 97.2%,#10afd4 99.1%)"></div><div style="height:1px;background:linear-gradient(90deg,#4563fd 0.9%,#465cf9 2.8%,#463fe0 4.7%,#3f29af 6.6%,#3e26a8 8.5%,#3f29b0 10.4%,#463edf 12.3%,#465cf9 14.2%,#416bfe 16.0%,#4560fb 17.9%,#474aed 19.8%,#4536d2 21.7%,#4330c5 23.6%,#463bdc 25.5%,#484ef1 27.4%,#4757f7 29.2%,#3878fa 31.1%,#1bb7c3 33.0%,#58cc79 34.9%,#5cc978 36.8%,#f0be35 38.7%,#fec835 40.6%,#f6bc39 42.5%,#dcbd29 44.3%,#d1bf28 46.2%,#c9c129 48.1%,#d3bf28 50.0%,#d3bf27 51.9%,#c6c12a 53.8%,#b4c534 55.7%,#acc739 57.5%,#b5c533 59.4%,#c5c22b 61.3%,#d4be28 63.2%,#e4bb2c 65.1%,#ebba32 67.0%,#faca34 68.9%,#f8f718 70.8%,#f9fb15 72.6%,#f9fb15 74.5%,#f9fb15 76.4%,#f7f51a 78.3%,#f8db2b 80.2%,#fec835 82.1%,#fdbe3c 84.0%,#e9bb31 85.8%,#bcc330 87.7%,#a1c840 89.6%,#7acc5e 91.5%,#20beb5 93.4%,#10b1d5 95.3%,#14afd8 97.2%,#2798ea 99.1%)"></div><div style="height:1px;background:linear-gradient(90deg,#347cfb 0.9%,#4656f5 2.8%,#4332c7 4.7%,#3e26a8 6.6%,#422fc2 8.5%,#474ff0 10.4%,#3975fd 12.3%,#2896ec 14.2%,#17addb 16.0%,#1aabde 17.9%,#2798ea 19.8%,#347bfb 21.7%,#4758f7 23.6%,#463dde 25.5%,#422ebf 27.4%,#422fc1 29.2%,#405ff4 31.1%,#1eb7bf 33.0%,#6ccd68 34.9%,#42c98d 36.8%,#6bca6a 38.7%,#c5c22b 40.6%,#b3c535 42.5%,#c2c33c 44.3%,#f8dd2a 46.2%,#f6f21d 48.1%,#f5ea23 50.0%,#fcce32 51.9%,#e6bc30 53.8%,#b5c533 55.7%,#a9c73a 57.5%,#bfc32e 59.4%,#d7be28 61.3%,#e8bb2f 63.2%,#fabc3c 65.1%,#fec03b 67.0%,#fcbc3d 68.9%,#fbbc3d 70.8%,#fec438 72.6%,#fdce31 74.5%,#fdc537 76.4%,#dcbd2d 78.3%,#96c949 80.2%,#4ecb81 82.1%,#31c69f 84.0%,#31c6a0 85.8%,#68cb6d 87.7%,#d4bf2f 89.6%,#fcbd3c 91.5%,#f6bb3a 93.4%,#d8be29 95.3%,#b7c532 97.2%,#b2c635 99.1%)"></div><div style="height:1px;background:linear-gradient(90deg,#3e27a9 0.9%,#3e26a8 2.8%,#402ab4 4.7%,#463edf 6.6%,#4851f3 8.5%,#4849ed 10.4%,#4745e9 12.3%,#4754f5 14.2%,#3c71fd 16.0%,#2f83f9 17.9%,#2f83f9 19.8%,#3876fe 21.7%,#4368fd 23.6%,#4564fd 25.5%,#4564fd 27.4%,#4367fd 29.2%,#3084f7 31.1%,#20bbba 33.0%,#b4c43d 34.9%,#fcbf3a 36.8%,#fbd22f 38.7%,#fad52e 40.6%,#fbc039 42.5%,#efba35 44.3%,#fec13a 46.2%,#fec13a 48.1%,#f7bb3b 50.0%,#dabd2a 51.9%,#a7c73c 53.8%,#6acc6b 55.7%,#3bc894 57.5%,#29c3aa 59.4%,#38c897 61.3%,#6bcc69 63.2%,#aac73b 65.1%,#d3bf28 67.0%,#ddbd29 68.9%,#d6be28 70.8%,#cdc028 72.6%,#c8c129 74.5%,#d4bf28 76.4%,#f0ba36 78.3%,#febf3b 80.2%,#fdbf3b 82.1%,#edbb34 84.0%,#c3c22d 85.8%,#a5c83e 87.7%,#b0c636 89.6%,#c1c32c 91.5%,#b9c431 93.4%,#8eca4e 95.3%,#57cc79 97.2%,#3cc991 99.1%)"></div><div style="height:1px;background:linear-gradient(90deg,#402bb7 0.9%,#463edf 2.8%,#4460fa 4.7%,#3180fa 6.6%,#317ffb 8.5%,#465bf8 10.4%,#4742e6 12.3%,#4741e5 14.2%,#4851f3 16.0%,#4660fb 17.9%,#4562fc 19.8%,#465dfb 21.7%,#4561fc 23.6%,#3974fe 25.5%,#2e87f6 27.4%,#2c8ef1 29.2%,#269ae9 31.1%,#21beb5 33.0%,#ccc33b 34.9%,#f7ee1f 36.8%,#f9fb15 38.7%,#f8f917 40.6%,#f5e625 42.5%,#fad52d 44.3%,#fdcb33 46.2%,#fec735 48.1%,#fec338 50.0%,#fdbe3c 51.9%,#f0ba36 53.8%,#c8c12d 55.7%,#77cb60 57.5%,#39c895 59.4%,#38c897 61.3%,#4ecb81 63.2%,#6fcc66 65.1%,#99c946 67.0%,#bec32e 68.9%,#d6be28 70.8%,#e2bc2b 72.6%,#ebba31 74.5%,#fbbe3b 76.4%,#fcd030 78.3%,#f9d62d 80.2%,#fdcc32 82.1%,#f3bc37 84.0%,#bdc331 85.8%,#7fcc5a 87.7%,#6acd6a 89.6%,#7ccc5c 91.5%,#8ecb4f 93.4%,#7fcc5a 95.3%,#51cb7f 97.2%,#29c3a8 99.1%)"></div><div style="height:1px;background:linear-gradient(90deg,#2a91ef 0.9%,#17acdb 2.8%,#0bbcbf 4.7%,#0fbdbd 6.6%,#1ca7df 8.5%,#2d89f5 10.4%,#3a73fe 12.3%,#4368fe 14.2%,#4563fd 16.0%,#475cfa 17.9%,#484ef1 19.8%,#4744e8 21.7%,#484df0 23.6%,#4267fd 25.5%,#2f85f7 27.4%,#2993ed 29.2%,#239ee6 31.1%,#21beb2 33.0%,#c6c23d 34.9%,#f8e028 36.8%,#f9fa15 38.7%,#f9fb15 40.6%,#f9fa16 42.5%,#f8f817 44.3%,#f9fa15 46.2%,#f9fb15 48.1%,#f9fb15 50.0%,#f9fb15 51.9%,#f9fb15 53.8%,#f9fb15 55.7%,#f7e227 57.5%,#fcc139 59.4%,#d8be2c 61.3%,#9cc944 63.2%,#71cd64 65.1%,#79cc5e 67.0%,#b3c536 68.9%,#f4bf35 70.8%,#f7e127 72.6%,#f9fa16 74.5%,#f9fb15 76.4%,#f7e823 78.3%,#e8c031 80.2%,#79cb5f 82.1%,#30c5a1 84.0%,#17bfb6 85.8%,#1cc0b3 87.7%,#35c79b 89.6%,#69cc6b 91.5%,#adc639 93.4%,#ccc028 95.3%,#b6c533 97.2%,#64cb70 99.1%)"></div><div style="height:1px;background:linear-gradient(90deg,#4751f3 0.9%,#3975fc 2.8%,#269ae9 4.7%,#18addc 6.6%,#1ea7e0 8.5%,#2a92ee 10.4%,#327cfc 12.3%,#3b72ff 14.2%,#3975fe 16.0%,#3579fd 17.9%,#3a73fe 19.8%,#4464fd 21.7%,#4758f8 23.6%,#475bf9 25.5%,#3b72fd 27.4%,#2992ee 29.2%,#18acdc 31.1%,#14bdba 33.0%,#83c959 34.9%,#f5c432 36.8%,#f6ec22 38.7%,#f7f51b 40.6%,#f5e625 42.5%,#fcd030 44.3%,#fcbe3b 46.2%,#ebbb32 48.1%,#dabd29 50.0%,#f9de29 51.9%,#f9fb15 53.8%,#f9fb15 55.7%,#f8de29 57.5%,#eabd32 59.4%,#a9c73c 61.3%,#6fcc67 63.2%,#61cd72 65.1%,#97c948 67.0%,#eec032 68.9%,#f7ee1f 70.8%,#f9fb15 72.6%,#f9fb15 74.5%,#f9d92c 76.4%,#8ac755 78.3%,#16bfb7 80.2%,#11b1d6 82.1%,#1babde 84.0%,#0cb3d2 85.8%,#22c2ac 87.7%,#64cc70 89.6%,#a7c73c 91.5%,#bcc42f 93.4%,#a6c73d 95.3%,#6dcc68 97.2%,#3bc894 99.1%)"></div><div style="height:1px;background:linear-gradient(90deg,#416afe 0.9%,#2d89f5 2.8%,#3280f9 4.7%,#4269fe 6.6%,#465ffb 8.5%,#465dfa 10.4%,#4366fd 12.3%,#337dfb 14.2%,#2c8ff0 16.0%,#2896ec 17.9%,#2993ed 19.8%,#337dfb 21.7%,#4561fc 23.6%,#4757f7 25.5%,#4561fc 27.4%,#3182f8 29.2%,#1ba8de 31.1%,#03b7cb 33.0%,#21c2ab 34.9%,#93c94c 36.8%,#eebc34 38.7%,#fec239 40.6%,#f4bb38 42.5%,#bec331 44.3%,#87cb54 46.2%,#82cc57 48.1%,#80cc59 50.0%,#d2bf2e 51.9%,#fdc238 53.8%,#fec934 55.7%,#f0bc35 57.5%,#b5c534 59.4%,#7bcc5d 61.3%,#53cc7d 63.2%,#7ccb5d 65.1%,#d1bf2c 67.0%,#fbc039 68.9%,#fccf30 70.8%,#f7dd2a 72.6%,#f8d92c 74.5%,#dfbf33 76.4%,#46c78b 78.3%,#16acdb 80.2%,#16aeda 82.1%,#04b7cc 84.0%,#14beb8 85.8%,#33c69d 87.7%,#48cb86 89.6%,#4ecc81 91.5%,#44cb89 93.4%,#38c896 95.3%,#2fc5a3 97.2%,#2fc5a3 99.1%)"></div><div style="height:1px;background:linear-gradient(90deg,#2b91ef 0.9%,#259de7 2.8%,#3d69f5 4.7%,#4230c1 6.6%,#3e26a8 8.5%,#422fc2 10.4%,#4655f4 12.3%,#2f86f6 14.2%,#23a0e5 16.0%,#20a5e2 17.9%,#21a2e4 19.8%,#2b8df2 21.7%,#3975fe 23.6%,#3f6efe 25.5%,#3083f8 27.4%,#2d89f5 29.2%,#1da5e0 31.1%,#09b4d0 33.0%,#14bac1 34.9%,#5fcb74 36.8%,#b9c432 38.7%,#dbbd28 40.6%,#cdc029 42.5%,#8eca4f 44.3%,#5fcd73 46.2%,#7ecc5a 48.1%,#9ac945 50.0%,#a9c73a 51.9%,#c7c12b 53.8%,#dabd28 55.7%,#c8c12b 57.5%,#9cc944 59.4%,#7fcc5a 61.3%,#72cd64 63.2%,#b4c438 65.1%,#f2ba37 67.0%,#f3ba38 68.9%,#b5c437 70.8%,#90ca4d 72.6%,#b5c533 74.5%,#97c948 76.4%,#3fc892 78.3%,#12b0d6 80.2%,#11bcbd 82.1%,#36c799 84.0%,#4fcc81 85.8%,#5bcc77 87.7%,#47cb88 89.6%,#28c3a9 91.5%,#09bcbe 93.4%,#05bbc1 95.3%,#0abdbe 97.2%,#23c2ae 99.1%)"></div><div style="height:1px;background:linear-gradient(90deg,#3180fa 0.9%,#4169fd 2.8%,#474ff1 4.7%,#4538d6 6.6%,#4332cb 8.5%,#4744e7 10.4%,#406afd 12.3%,#2d8bf3 14.2%,#269ae8 16.0%,#259de7 17.9%,#2699e9 19.8%,#2896ec 21.7%,#269be8 23.6%,#12b0d5 25.5%,#84c759 27.4%,#1bc0b0 29.2%,#0cb3d3 31.1%,#1dc1af 33.0%,#a0c646 34.9%,#fbc635 36.8%,#f6de29 38.7%,#f6df29 40.6%,#f8d92b 42.5%,#fbd22f 44.3%,#fdcc32 46.2%,#fdcb33 48.1%,#fcd030 50.0%,#f7dd2a 51.9%,#f5ea23 53.8%,#f5ec22 55.7%,#f9d72d 57.5%,#ecbc33 59.4%,#e2bc2d 61.3%,#fabc3d 63.2%,#f7bb3b 65.1%,#e1bc2c 67.0%,#bfc32e 68.9%,#60c976 70.8%,#22c1ae 72.6%,#68cc6c 74.5%,#75cc61 76.4%,#40c990 78.3%,#10beba 80.2%,#2cc4a5 82.1%,#52cc7e 84.0%,#91ca4c 85.8%,#cbc02a 87.7%,#d9be28 89.6%,#a0c842 91.5%,#56cc7a 93.4%,#3fca8f 95.3%,#26c2ab 97.2%,#05bbc2 99.1%)"></div><div style="height:1px;background:linear-gradient(90deg,#4749ed 0.9%,#463cdf 2.8%,#4742e5 4.7%,#4850f2 6.6%,#4562fc 8.5%,#3777fd 10.4%,#2d8af5 12.3%,#2b92ef 14.2%,#2c8ef1 16.0%,#2e85f8 17.9%,#337bfc 19.8%,#3b72ff 21.7%,#3b72ff 23.6%,#2f84f7 25.5%,#16abda 27.4%,#20a4e3 29.2%,#1ea7e0 31.1%,#30c49f 33.0%,#d8c135 34.9%,#f7e327 36.8%,#f9f916 38.7%,#f9fb15 40.6%,#f9fb15 42.5%,#f9fa16 44.3%,#f6f21d 46.2%,#f5e626 48.1%,#fbce32 50.0%,#e3bc2c 51.9%,#fbc039 53.8%,#fdc03a 55.7%,#dabe2d 57.5%,#92ca4c 59.4%,#72cd63 61.3%,#80cc59 63.2%,#8ccb50 65.1%,#a5c83e 67.0%,#cbc02a 68.9%,#d4bf29 70.8%,#c7c12a 72.6%,#cdc029 74.5%,#69ca6d 76.4%,#26c2ac 78.3%,#2ac3a9 80.2%,#29c3a9 82.1%,#33c69d 84.0%,#59cc78 85.8%,#a3c840 87.7%,#d7be29 89.6%,#ddbd2a 91.5%,#c7c12a 93.4%,#a8c73b 95.3%,#83cb56 97.2%,#7dcc5b 99.1%)"></div><div style="height:1px;background:linear-gradient(90deg,#463dde 0.9%,#4537d4 2.8%,#4745e8 4.7%,#455ffb 6.6%,#357afc 8.5%,#2d8af5 10.4%,#2a92ee 12.3%,#2798ea 14.2%,#2b90f0 16.0%,#3876fd 17.9%,#465ffb 19.8%,#4852f4 21.7%,#4852f4 23.6%,#4562fc 25.5%,#357afd 27.4%,#2d89f5 29.2%,#22a0e5 31.1%,#33c49b 33.0%,#ddc234 34.9%,#f7e426 36.8%,#f8f917 38.7%,#f9fb15 40.6%,#f9fb15 42.5%,#f8f818 44.3%,#f7f61a 46.2%,#f8f818 48.1%,#f6e824 50.0%,#fec239 51.9%,#fcce31 53.8%,#fdc537 55.7%,#cfc02f 57.5%,#6dcc68 59.4%,#34c69c 61.3%,#2dc4a6 63.2%,#37c798 65.1%,#6acc6a 67.0%,#c2c230 68.9%,#f5bb39 70.8%,#febe3c 72.6%,#edbb34 74.5%,#8ac953 76.4%,#46ca89 78.3%,#63cd6f 80.2%,#53cc7d 82.1%,#4ccb83 84.0%,#61cc71 85.8%,#91ca4c 87.7%,#bfc32e 89.6%,#d0bf27 91.5%,#bec32e 93.4%,#b4c533 95.3%,#c0c32d 97.2%,#cec028 99.1%)"></div><div style="height:1px;background:linear-gradient(90deg,#4758f8 0.9%,#4851f3 2.8%,#4756f7 4.7%,#4465fd 6.6%,#3a74fe 8.5%,#317efb 10.4%,#2d88f6 12.3%,#259ce8 14.2%,#249ee6 16.0%,#3778fb 17.9%,#4754f5 19.8%,#4741e5 21.7%,#4747eb 23.6%,#455ffa 25.5%,#3777fd 27.4%,#2e87f6 29.2%,#1fa3e2 31.1%,#28c3a4 33.0%,#b8c33c 34.9%,#fdc835 36.8%,#f6df29 38.7%,#f5e924 40.6%,#f5ea23 42.5%,#f9d82c 44.3%,#f7e327 46.2%,#f9fb15 48.1%,#f9fb15 50.0%,#f9fb15 51.9%,#f9fb15 53.8%,#f8f719 55.7%,#f9cc33 57.5%,#a3c643 59.4%,#36c79a 61.3%,#23c1af 63.2%,#2cc4a6 65.1%,#51cb7f 67.0%,#a5c73f 68.9%,#d9be29 70.8%,#dfbc2a 72.6%,#dabd28 74.5%,#d8be28 76.4%,#d9be28 78.3%,#debc2a 80.2%,#dcbd29 82.1%,#cec028 84.0%,#c0c32d 85.8%,#bac430 87.7%,#b1c635 89.6%,#91ca4c 91.5%,#55cc7b 93.4%,#6dcc68 95.3%,#b5c533 97.2%,#bbc430 99.1%)"></div><div style="height:1px;background:linear-gradient(90deg,#4754f6 0.9%,#4853f5 2.8%,#4561fc 4.7%,#3579fc 6.6%,#2d8cf3 8.5%,#2a93ee 10.4%,#2b92ee 12.3%,#2a93ee 14.2%,#2b91ef 16.0%,#2d89f5 17.9%,#3082f9 19.8%,#4656f5 21.7%,#4536d3 23.6%,#422fc3 25.5%,#4538d5 27.4%,#445cf7 29.2%,#219ee6 31.1%,#0ebdbb 33.0%,#28c3a9 34.9%,#77cb60 36.8%,#e7be32 38.7%,#f8dd29 40.6%,#f9f916 42.5%,#f9fb15 44.3%,#f9fb15 46.2%,#f6ea23 48.1%,#fad62d 50.0%,#fdcb33 51.9%,#fec239 53.8%,#f9bb3c 55.7%,#e6bb2e 57.5%,#d4bf28 59.4%,#c9c129 61.3%,#c0c32d 63.2%,#b4c534 65.1%,#bec32e 67.0%,#e2bc2e 68.9%,#fcbe3c 70.8%,#fcbe3c 72.6%,#fabc3d 74.5%,#fec03a 76.4%,#f7bb3b 78.3%,#ebba31 80.2%,#f2ba37 82.1%,#fec438 84.0%,#f9d72c 85.8%,#f5e228 87.7%,#f7dd2a 89.6%,#fdca34 91.5%,#e8bc31 93.4%,#bcc42f 95.3%,#9fc942 97.2%,#90ca4d 99.1%)"></div><div style="height:1px;background:linear-gradient(90deg,#4849ed 0.9%,#4758f7 2.8%,#337ff9 4.7%,#1da8e0 6.6%,#15afd9 8.5%,#18aedb 10.4%,#1babde 12.3%,#20a5e2 14.2%,#259ce7 16.0%,#2a92ee 17.9%,#2d8af5 19.8%,#3f6bfd 21.7%,#4850f2 23.6%,#473fe3 25.5%,#463cde 27.4%,#4657f5 29.2%,#1d9fe3 31.1%,#27c3a6 33.0%,#7bcb5d 34.9%,#d7be2e 36.8%,#fdc239 38.7%,#fcd030 40.6%,#f8d92c 42.5%,#f5e725 44.3%,#f8f719 46.2%,#f8f818 48.1%,#f6f01f 50.0%,#f5e526 51.9%,#fbd130 53.8%,#f0bc35 55.7%,#e2bc2b 57.5%,#edba33 59.4%,#f5ba3a 61.3%,#f9bb3d 63.2%,#fcbc3d 65.1%,#fec03b 67.0%,#fec338 68.9%,#fdbf3b 70.8%,#e9bb31 72.6%,#cdc028 74.5%,#c6c22a 76.4%,#b3c534 78.3%,#a7c73c 80.2%,#bfc32e 82.1%,#ecbb33 84.0%,#fdcb33 85.8%,#f7db2a 87.7%,#f7db2b 89.6%,#fcd130 91.5%,#fec438 93.4%,#f1bb36 95.3%,#c9c12b 97.2%,#95ca49 99.1%)"></div><div style="height:1px;background:linear-gradient(90deg,#4756f6 0.9%,#3d6efd 2.8%,#249be8 4.7%,#12beba 6.6%,#0ebdbb 8.5%,#02b8ca 10.4%,#0db3d4 12.3%,#1ca9df 14.2%,#269ae9 16.0%,#2d88f6 17.9%,#337bfc 19.8%,#3876fe 21.7%,#3975fe 23.6%,#416afe 25.5%,#465ffb 27.4%,#3d6dfd 29.2%,#18a7dc 31.1%,#45c78c 33.0%,#e5c133 34.9%,#f7de29 36.8%,#f5e327 38.7%,#fcce32 40.6%,#f6bb3a 42.5%,#f8bd3a 44.3%,#f8da2b 46.2%,#f8f817 48.1%,#f9fb15 50.0%,#f9fb15 51.9%,#f7f41b 53.8%,#f6c533 55.7%,#d4bf28 57.5%,#b1c636 59.4%,#98c947 61.3%,#a4c83e 63.2%,#c0c32d 65.1%,#d9be28 67.0%,#dcbd29 68.9%,#c3c22c 70.8%,#8fca4e 72.6%,#65cd6e 74.5%,#62cd71 76.4%,#6ecd67 78.3%,#7fcc5a 80.2%,#97ca48 82.1%,#afc637 84.0%,#cdc029 85.8%,#e5bb2d 87.7%,#e9bb30 89.6%,#e8bb2e 91.5%,#eeba34 93.4%,#f1ba37 95.3%,#ddbd2b 97.2%,#9fc843 99.1%)"></div><div style="height:1px;background:linear-gradient(90deg,#22a2e4 0.9%,#22a2e4 2.8%,#1ca9df 4.7%,#13b0d7 6.6%,#18addb 8.5%,#239fe6 10.4%,#2e87f6 12.3%,#3f6cfe 14.2%,#475bf9 16.0%,#4755f6 17.9%,#4757f7 19.8%,#4268fd 21.7%,#3082f9 23.6%,#2e87f7 25.5%,#2d88f6 27.4%,#2799e9 29.2%,#0cb3d1 31.1%,#26c3a9 33.0%,#84c958 34.9%,#f3c034 36.8%,#f7de29 38.7%,#f5e626 40.6%,#f9d72c 42.5%,#fdc239 44.3%,#f3ba39 46.2%,#fcc537 48.1%,#f6e923 50.0%,#f8f817 51.9%,#f6eb22 53.8%,#f3c432 55.7%,#6dc86b 57.5%,#1ba1e1 59.4%,#3a73fe 61.3%,#3e6fff 63.2%,#3a74fe 65.1%,#2e86f6 67.0%,#21a2e4 68.9%,#07b6cd 70.8%,#08bcbf 72.6%,#2cc4a4 74.5%,#83ca58 76.4%,#debd2e 78.3%,#fdbf3b 80.2%,#f5bc38 82.1%,#a1c743 84.0%,#59cc78 85.8%,#5dcc75 87.7%,#53cc7d 89.6%,#4acb85 91.5%,#53cc7d 93.4%,#6ecd67 95.3%,#86cb54 97.2%,#7fcc5a 99.1%)"></div><div style="height:1px;background:linear-gradient(90deg,#3ec892 0.9%,#aac73a 2.8%,#99c946 4.7%,#5acc77 6.6%,#1ac0b3 8.5%,#1ba8de 10.4%,#2d89f4 12.3%,#3974fe 14.2%,#3d70ff 16.0%,#317ffa 17.9%,#2a92ee 19.8%,#259be8 21.7%,#22a1e4 23.6%,#23a0e5 25.5%,#21a3e3 27.4%,#05b6cd 29.2%,#03b7ca 31.1%,#46c88b 33.0%,#d8bf34 34.9%,#f9d62d 36.8%,#f5e626 38.7%,#f5e327 40.6%,#f8da2b 42.5%,#f8da2b 44.3%,#f6ee20 46.2%,#f9fb15 48.1%,#f9fb15 50.0%,#f9fb15 51.9%,#f9fb15 53.8%,#f8e326 55.7%,#d2c137 57.5%,#30c0a8 59.4%,#1aabde 61.3%,#05b8ca 63.2%,#20c1b0 65.1%,#3dc992 67.0%,#74cc63 68.9%,#abc739 70.8%,#b2c535 72.6%,#8eca4e 74.5%,#5acc77 76.4%,#3bc992 78.3%,#59cc78 80.2%,#6bcd69 82.1%,#43ca8c 84.0%,#26c2ac 85.8%,#1ac0b5 87.7%,#1dc0b3 89.6%,#2fc5a3 91.5%,#56cc7b 93.4%,#a3c740 95.3%,#dfbd2c 97.2%,#f3ba38 99.1%)"></div><div style="height:1px;background:linear-gradient(90deg,#1bbfb4 0.9%,#83cb57 2.8%,#7ecc5b 4.7%,#54cc7c 6.6%,#35c79a 8.5%,#0dbbc0 10.4%,#19acdc 12.3%,#1da8e0 14.2%,#1fa6e2 16.0%,#249ee6 17.9%,#2897eb 19.8%,#2d88f5 21.7%,#317efb 23.6%,#327dfc 25.5%,#2c8cf3 27.4%,#1baade 29.2%,#0fb2d4 31.1%,#6fc66c 33.0%,#f8d72d 34.9%,#f9fb15 36.8%,#f9fb15 38.7%,#f9fb15 40.6%,#f9fb15 42.5%,#f9fb15 44.3%,#f9fb15 46.2%,#f9fb15 48.1%,#f9fb15 50.0%,#f9fb15 51.9%,#f9fb15 53.8%,#f8f817 55.7%,#fad42f 57.5%,#b2c441 59.4%,#54cc7c 61.3%,#68cd6c 63.2%,#7fcc5a 65.1%,#9cc944 67.0%,#c6c22c 68.9%,#ecbb33 70.8%,#f8ba3c 72.6%,#e0bc2d 74.5%,#9dc844 76.4%,#5ccc75 78.3%,#71cc65 80.2%,#88cb53 82.1%,#6fcc66 84.0%,#45ca8a 85.8%,#32c69e 87.7%,#39c895 89.6%,#75cb62 91.5%,#dabe31 93.4%,#fad52e 95.3%,#f7f51a 97.2%,#f9fb15 99.1%)"></div><div style="height:1px;background:linear-gradient(90deg,#406cfe 0.9%,#3080fa 2.8%,#2b90f0 4.7%,#1da6e0 6.6%,#20c1ae 8.5%,#37c898 10.4%,#34c79b 12.3%,#4acb85 14.2%,#36c799 16.0%,#1ba3e0 17.9%,#4064f9 19.8%,#4334cb 21.7%,#3e26a8 23.6%,#3f2ab2 25.5%,#4641e2 27.4%,#4069fc 29.2%,#1da0e3 31.1%,#8bc462 33.0%,#f9f01c 34.9%,#f9fb15 36.8%,#f9fb15 38.7%,#f9fb15 40.6%,#f9fb15 42.5%,#f9fb15 44.3%,#f9fb15 46.2%,#f9fb15 48.1%,#f9fb15 50.0%,#f9fb15 51.9%,#f9fb15 53.8%,#f9fb15 55.7%,#f8f719 57.5%,#fad42e 59.4%,#e3bd31 61.3%,#91ca4c 63.2%,#4ccb83 65.1%,#39c895 67.0%,#46cb88 68.9%,#79cc5e 70.8%,#bdc330 72.6%,#ecbb33 74.5%,#fec338 76.4%,#fbd12f 78.3%,#f9d72c 80.2%,#fcd130 82.1%,#fbbf3a 84.0%,#ddbd2b 85.8%,#c1c32c 87.7%,#d1bf2a 89.6%,#f9cb33 91.5%,#f8f818 93.4%,#f9fb15 95.3%,#f9fb15 97.2%,#f9fb15 99.1%)"></div><div style="height:1px;background:linear-gradient(90deg,#2d8bf4 0.9%,#2e86f7 2.8%,#3080fb 4.7%,#317dfc 6.6%,#2e84f9 8.5%,#2e85f8 10.4%,#2f83f9 12.3%,#2f82fa 14.2%,#317dfb 16.0%,#3875fe 17.9%,#3b72ff 19.8%,#3f6dfe 21.7%,#4464fd 23.6%,#475cfa 25.5%,#4756f7 27.4%,#475bf9 29.2%,#2693eb 31.1%,#a0c459 33.0%,#f8f31b 34.9%,#f9fb15 36.8%,#f9fb15 38.7%,#f9fb15 40.6%,#f9fa15 42.5%,#f7f51b 44.3%,#f6f11f 46.2%,#f7f41c 48.1%,#f9fb15 50.0%,#f9fb15 51.9%,#f9fb15 53.8%,#f9fb15 55.7%,#f9fb15 57.5%,#f7f11d 59.4%,#fccd32 61.3%,#ecbb33 63.2%,#c7c12b 65.1%,#97c948 67.0%,#3dc793 68.9%,#0dbdbc 70.8%,#2ac3a8 72.6%,#3bc993 74.5%,#40ca8d 76.4%,#3cc991 78.3%,#38c896 80.2%,#39c895 82.1%,#4acb85 84.0%,#79cc5f 85.8%,#a7c73c 87.7%,#cec02b 89.6%,#f8bc3a 91.5%,#fec239 93.4%,#fabc3c 95.3%,#e1bc2d 97.2%,#a5c73e 99.1%)"></div><div style="height:1px;background:linear-gradient(90deg,#317efb 0.9%,#2e84f9 2.8%,#2897eb 4.7%,#2f86f6 6.6%,#4465fd 8.5%,#475cfa 10.4%,#465ffb 12.3%,#4660fb 14.2%,#4757f7 16.0%,#484aee 17.9%,#4743e7 19.8%,#4848ec 21.7%,#4755f6 23.6%,#4465fd 25.5%,#3b72fe 27.4%,#327efb 29.2%,#19a5de 31.1%,#8bc55c 33.0%,#f9df28 34.9%,#f9fb15 36.8%,#f9fb15 38.7%,#f9fb15 40.6%,#f6f21d 42.5%,#f5e725 44.3%,#f6dd29 46.2%,#f6de29 48.1%,#f7f31c 50.0%,#f9fb15 51.9%,#f9fb15 53.8%,#f9fb15 55.7%,#f7ee1f 57.5%,#e0c233 59.4%,#73cc63 61.3%,#77cc60 63.2%,#8ecb4f 65.1%,#97ca48 67.0%,#6fcc67 68.9%,#4ecc82 70.8%,#5dcc75 72.6%,#5fcd73 74.5%,#51cc7f 76.4%,#49cb85 78.3%,#58cc79 80.2%,#79cc5e 82.1%,#a3c83f 84.0%,#ccc02a 85.8%,#e1bc2b 87.7%,#ebba31 89.6%,#f8bb3c 91.5%,#fabb3d 93.4%,#f6ba3b 95.3%,#ecba32 97.2%,#d5be29 99.1%)"></div><div style="height:1px;background:linear-gradient(90deg,#3579fd 0.9%,#317ffb 2.8%,#21a2e4 4.7%,#2991ef 6.6%,#4267fd 8.5%,#4562fc 10.4%,#3b72fe 12.3%,#2f83f9 14.2%,#2e83f9 16.0%,#3974fd 17.9%,#4752f4 19.8%,#484aee 21.7%,#465cf9 23.6%,#347bfb 25.5%,#2895ec 27.4%,#1fa6e1 29.2%,#0db7ca 31.1%,#6bc96d 33.0%,#f3cc2e 34.9%,#f8f917 36.8%,#f9fb15 38.7%,#f9fb15 40.6%,#f9fa15 42.5%,#f6ee20 44.3%,#f6e028 46.2%,#f8da2b 48.1%,#f6e327 50.0%,#f9fb15 51.9%,#f9fb15 53.8%,#f8f917 55.7%,#f7ce30 57.5%,#76c765 59.4%,#0bb6cd 61.3%,#10bdbc 63.2%,#40c990 65.1%,#85cb56 67.0%,#c7c12c 68.9%,#e8bb2f 70.8%,#e9bb30 72.6%,#d5be28 74.5%,#c3c22b 76.4%,#c0c32d 78.3%,#e3bc30 80.2%,#fccd32 82.1%,#f6e028 84.0%,#f5e128 85.8%,#fad62d 87.7%,#fec438 89.6%,#f5ba3a 91.5%,#edba33 93.4%,#f8bb3b 95.3%,#fec636 97.2%,#fbd12f 99.1%)"></div><div style="height:1px;background:linear-gradient(90deg,#22abd3 0.9%,#327efb 2.8%,#3e70ff 4.7%,#3e6fff 6.6%,#347bfc 8.5%,#2a92ee 10.4%,#12aed8 12.3%,#2ac4a4 14.2%,#a1c647 16.0%,#fdc935 17.9%,#c6c131 19.8%,#75cc62 21.7%,#3ec991 23.6%,#1ec1b1 25.5%,#03b9c6 27.4%,#07b5cf 29.2%,#0abac2 31.1%,#70c869 33.0%,#f5cf2e 34.9%,#f9fa15 36.8%,#f9fb15 38.7%,#f9fb15 40.6%,#f9fb15 42.5%,#f9fb15 44.3%,#f9fb15 46.2%,#f9fb15 48.1%,#fad72d 50.0%,#f8f619 51.9%,#f9fb15 53.8%,#f9fb15 55.7%,#f7f01e 57.5%,#edc232 59.4%,#69ca6d 61.3%,#32c69f 63.2%,#5ccc75 65.1%,#b1c538 67.0%,#f4bd36 68.9%,#fdcc32 70.8%,#fec834 72.6%,#fdbd3c 74.5%,#fcbd3d 76.4%,#f3bb37 78.3%,#f7cb32 80.2%,#f9fa16 82.1%,#f9fb15 84.0%,#f9fb15 85.8%,#f8f817 87.7%,#fad52e 89.6%,#cfc033 91.5%,#5bcb77 93.4%,#37c897 95.3%,#50cc7f 97.2%,#81cc58 99.1%)"></div><div style="height:1px;background:linear-gradient(90deg,#3c6ffc 0.9%,#4853f5 2.8%,#4754f5 4.7%,#4169fd 6.6%,#2d89f5 8.5%,#20a4e2 10.4%,#0fb2d4 12.3%,#04b6cd 14.2%,#07bbc1 16.0%,#25c2ad 17.9%,#08bcbf 19.8%,#04bbc2 21.7%,#1ac0b4 23.6%,#32c69f 25.5%,#33c79c 27.4%,#10bdbd 29.2%,#0bb9c5 31.1%,#a2c455 33.0%,#f8f21b 34.9%,#f9fb15 36.8%,#f9fb15 38.7%,#f9fb15 40.6%,#f9fb15 42.5%,#f9fb15 44.3%,#f9fb15 46.2%,#f8f818 48.1%,#fbc836 50.0%,#f8e822 51.9%,#f9fb15 53.8%,#f9fb15 55.7%,#f9fb15 57.5%,#f7e823 59.4%,#e9bf31 61.3%,#8cca50 63.2%,#48cb87 65.1%,#34c79c 67.0%,#40ca8d 68.9%,#6ecc67 70.8%,#9dc943 72.6%,#abc739 74.5%,#9fc841 76.4%,#d0bf2b 78.3%,#fac336 80.2%,#f7dc2a 82.1%,#f9d72c 84.0%,#fec637 85.8%,#f2bb37 87.7%,#cec02b 89.6%,#84cb57 91.5%,#23c2aa 93.4%,#31c59c 95.3%,#b4c438 97.2%,#f7bd38 99.1%)"></div><div style="height:1px;background:linear-gradient(90deg,#4757f7 0.9%,#4757f7 2.8%,#4560fb 4.7%,#3875fd 6.6%,#2c8df2 8.5%,#259ce7 10.4%,#20a4e3 12.3%,#1fa6e2 14.2%,#1fa5e2 16.0%,#249ee6 17.9%,#2994ed 19.8%,#2d8cf3 21.7%,#2b90f0 23.6%,#22a1e4 25.5%,#17aedb 27.4%,#1ca9df 29.2%,#17b3ce 31.1%,#b4c848 33.0%,#f8f817 34.9%,#f9fb15 36.8%,#f9fb15 38.7%,#f9fb15 40.6%,#f9fb15 42.5%,#f9fb15 44.3%,#f8f719 46.2%,#f7de29 48.1%,#f2be34 50.0%,#fbca34 51.9%,#f7f41b 53.8%,#f9fb15 55.7%,#f9fb15 57.5%,#f7e525 59.4%,#efbf33 61.3%,#99c847 63.2%,#42c98e 65.1%,#1ec0b2 67.0%,#19bfb5 68.9%,#30c5a1 70.8%,#51cc7f 72.6%,#6bcd69 74.5%,#63cd70 76.4%,#b1c539 78.3%,#edba34 80.2%,#eeba34 82.1%,#d1bf29 84.0%,#b7c532 85.8%,#b5c533 87.7%,#bcc42f 89.6%,#abc73a 91.5%,#58ca7b 93.4%,#50ca82 95.3%,#93c94c 97.2%,#e0bc2b 99.1%)"></div><div style="height:1px;background:linear-gradient(90deg,#3a74fe 0.9%,#307ffb 2.8%,#2f82f9 4.7%,#2e84f9 6.6%,#3080fa 8.5%,#3777fe 10.4%,#3081f9 12.3%,#21a1e4 14.2%,#04b8c9 16.0%,#07b6cd 17.9%,#249ce8 19.8%,#3f69fb 21.7%,#463cdc 23.6%,#4331c7 25.5%,#4742e4 27.4%,#3e6bfb 29.2%,#1eaad5 31.1%,#b0c54c 33.0%,#f8f21b 34.9%,#f9fb15 36.8%,#f9fb15 38.7%,#f9fb15 40.6%,#f7f51a 42.5%,#f7dd2a 44.3%,#fec438 46.2%,#f1ba36 48.1%,#ddbd2a 50.0%,#e7bb30 51.9%,#fccc33 53.8%,#f5e227 55.7%,#f8db2b 57.5%,#f0bf34 59.4%,#8fc94e 61.3%,#4acb84 63.2%,#3eca8f 65.1%,#40ca8d 67.0%,#4acb84 68.9%,#59cc78 70.8%,#6ccd68 72.6%,#7ccc5c 74.5%,#8acb51 76.4%,#b7c432 78.3%,#c6c22a 80.2%,#acc638 82.1%,#9fc942 84.0%,#afc637 85.8%,#d8be2a 87.7%,#f9bd3b 89.6%,#fec338 91.5%,#ebbc33 93.4%,#77c963 95.3%,#0ab9c7 97.2%,#1cc0b2 99.1%)"></div><div style="height:1px;background:linear-gradient(90deg,#422fc2 0.9%,#3e27a9 2.8%,#3e26a8 4.7%,#3e27aa 6.6%,#402bb7 8.5%,#4332c9 10.4%,#4744e7 12.3%,#4168fc 14.2%,#2d89f5 16.0%,#2b91ef 17.9%,#2f83f9 19.8%,#406dfe 21.7%,#4466fd 23.6%,#3778fd 25.5%,#2797eb 27.4%,#0db2d3 29.2%,#16bfb6 31.1%,#72c966 33.0%,#f4cc2e 34.9%,#f8f817 36.8%,#f9fb15 38.7%,#f9f916 40.6%,#f5ed21 42.5%,#f7dc2a 44.3%,#fdc934 46.2%,#f6bb39 48.1%,#dabd29 50.0%,#f6be37 51.9%,#fbd12f 53.8%,#fad42e 55.7%,#fdc438 57.5%,#debd2e 59.4%,#90ca4d 61.3%,#3cc894 63.2%,#16bfb6 65.1%,#19bfb5 67.0%,#31c6a0 68.9%,#5ecc74 70.8%,#b0c538 72.6%,#efbc35 74.5%,#fec636 76.4%,#fac038 78.3%,#99c74a 80.2%,#3ac896 82.1%,#85cb56 84.0%,#c9c12b 85.8%,#e6bb2d 87.7%,#cec02c 89.6%,#64ca71 91.5%,#17afd2 93.4%,#2797eb 95.3%,#1da5e0 97.2%,#18bfb6 99.1%)"></div><div style="height:1px;background:linear-gradient(90deg,#4361fa 0.9%,#463edf 2.8%,#4331c7 4.7%,#4330c5 6.6%,#4536d2 8.5%,#4741e5 10.4%,#4758f7 12.3%,#3679fc 14.2%,#2993ee 16.0%,#2797eb 17.9%,#3082f9 19.8%,#4269fe 21.7%,#4465fd 23.6%,#3876fd 25.5%,#2b8ef1 27.4%,#1fa5e2 29.2%,#13bbbe 31.1%,#8ec753 33.0%,#f9cf32 34.9%,#f6f01f 36.8%,#f7f51b 38.7%,#f8f719 40.6%,#f7f41c 42.5%,#f5ed22 44.3%,#f5e427 46.2%,#f9d82c 48.1%,#fec437 50.0%,#fccb33 51.9%,#f5eb23 53.8%,#f5ee21 55.7%,#f9d62d 57.5%,#eabd32 59.4%,#88ca54 61.3%,#46cb88 63.2%,#49cb85 65.1%,#59cc78 67.0%,#74cc62 68.9%,#a4c83f 70.8%,#e1bd2f 72.6%,#fccd32 74.5%,#f6ee21 76.4%,#f8f719 78.3%,#f8df29 80.2%,#fec438 82.1%,#fbd22f 84.0%,#fdc934 85.8%,#fec239 87.7%,#fec736 89.6%,#e4bd32 91.5%,#6bca6a 93.4%,#2bc3a8 95.3%,#2cc4a6 97.2%,#46ca89 99.1%)"></div><div style="height:1px;background:linear-gradient(90deg,#18a8dd 0.9%,#3181f9 2.8%,#4368fd 4.7%,#465efb 6.6%,#4661fc 8.5%,#3e6efe 10.4%,#2f84f8 12.3%,#239ee6 14.2%,#1aacdd 16.0%,#239fe6 17.9%,#357cfa 19.8%,#475af9 21.7%,#484ef1 23.6%,#4850f2 25.5%,#475bf9 27.4%,#3876fc 29.2%,#1fb0cd 31.1%,#b9c345 33.0%,#f7e128 34.9%,#f5ee21 36.8%,#f5ee21 38.7%,#f8f61a 40.6%,#f8f818 42.5%,#f7f51b 44.3%,#f6f21d 46.2%,#f5ec22 48.1%,#f8da2b 50.0%,#fcce31 51.9%,#f5e725 53.8%,#f7df29 55.7%,#f5bf35 57.5%,#a3c741 59.4%,#44ca8b 61.3%,#4fcb81 63.2%,#afc638 65.1%,#dbbd29 67.0%,#e4bb2c 68.9%,#eabb31 70.8%,#fdc338 72.6%,#f7de29 74.5%,#f8f719 76.4%,#f9fb15 78.3%,#f9fb15 80.2%,#f9fb15 82.1%,#f8f818 84.0%,#fad42f 85.8%,#fad32f 87.7%,#f8f818 89.6%,#f9fb15 91.5%,#f8f619 93.4%,#facb33 95.3%,#cfc02c 97.2%,#a5c83d 99.1%)"></div><div style="height:1px;background:linear-gradient(90deg,#14add8 0.9%,#2b90f0 2.8%,#3678fd 4.7%,#416bfe 6.6%,#3d70fe 8.5%,#2f82f9 10.4%,#2994ed 12.3%,#12afd7 14.2%,#12aed6 16.0%,#367cf9 17.9%,#474ff1 19.8%,#463adb 21.7%,#4230c3 23.6%,#3f28ad 25.5%,#4230c3 27.4%,#435af5 29.2%,#22adcf 31.1%,#b6c343 33.0%,#f9d52e 34.9%,#f5eb23 36.8%,#f6f01f 38.7%,#f5ec22 40.6%,#f6e228 42.5%,#f8d92c 44.3%,#fcd030 46.2%,#fcc03a 48.1%,#eeba34 50.0%,#e1bc2b 51.9%,#b2c537 53.8%,#32c49d 55.7%,#22a0e5 57.5%,#2f83f9 59.4%,#249ae9 61.3%,#26c2a7 63.2%,#a7c640 65.1%,#f8bf38 67.0%,#fec736 68.9%,#fdc339 70.8%,#f6e526 72.6%,#f6f21d 74.5%,#f6e426 76.4%,#f2c233 78.3%,#96c949 80.2%,#77cc60 82.1%,#56cc7b 84.0%,#5cc978 85.8%,#f0cb2e 87.7%,#f9f916 89.6%,#f9fb15 91.5%,#f9fb15 93.4%,#f8f619 95.3%,#fbcd33 97.2%,#dfbd2c 99.1%)"></div><div style="height:1px;background:linear-gradient(90deg,#12beb9 0.9%,#02b9c6 2.8%,#0db2d3 4.7%,#259ce8 6.6%,#3180fa 8.5%,#3b72ff 10.4%,#3a74fe 12.3%,#2f82f9 14.2%,#2e86f7 16.0%,#3777fe 17.9%,#3b72ff 19.8%,#3579fd 21.7%,#317dfc 23.6%,#3677fe 25.5%,#3875fe 27.4%,#2b8df2 29.2%,#18b9c2 31.1%,#75cb62 33.0%,#c5c22c 34.9%,#ebbb32 36.8%,#fec438 38.7%,#f8d82c 40.6%,#f5e327 42.5%,#f5e725 44.3%,#f6f020 46.2%,#f7f41c 48.1%,#f6f11e 50.0%,#f6e327 51.9%,#fac436 53.8%,#b5c439 55.7%,#4ecb82 57.5%,#25c2ac 59.4%,#25c2ac 61.3%,#42ca8d 63.2%,#9ec844 65.1%,#f1bc36 67.0%,#fec03b 68.9%,#efba35 70.8%,#d7be29 72.6%,#a5c73e 74.5%,#75cc61 76.4%,#61cd72 78.3%,#63cd70 80.2%,#88cb53 82.1%,#91ca4c 84.0%,#7ecc5b 85.8%,#8ecb4f 87.7%,#7acc5d 89.6%,#70cd65 91.5%,#89cb52 93.4%,#b9c431 95.3%,#d8be28 97.2%,#dbbd29 99.1%)"></div><div style="height:1px;background:linear-gradient(90deg,#3ec992 0.9%,#1fc1b1 2.8%,#06b9c6 4.7%,#20a3e3 6.6%,#3083f8 8.5%,#4367fd 10.4%,#4758f8 12.3%,#465dfa 14.2%,#416bfe 16.0%,#327efb 17.9%,#2b8ff0 19.8%,#259ce7 21.7%,#269ae9 23.6%,#2d8cf3 25.5%,#2e84f8 27.4%,#2797eb 29.2%,#1abcbc 31.1%,#74cb63 33.0%,#c5c22d 34.9%,#efba35 36.8%,#fec438 38.7%,#fbd32e 40.6%,#f8d92c 42.5%,#f8d92b 44.3%,#f6ec21 46.2%,#f9fb15 48.1%,#f9fb15 50.0%,#f9fb15 51.9%,#f7f31c 53.8%,#fbd031 55.7%,#dfbd30 57.5%,#8eca4e 59.4%,#4acb85 61.3%,#31c6a0 63.2%,#45ca8a 65.1%,#7ecc5b 67.0%,#94ca4a 68.9%,#7acc5d 70.8%,#4acb85 72.6%,#2cc4a6 74.5%,#17bfb6 76.4%,#0bbdbd 78.3%,#09bcbf 80.2%,#44ca8c 82.1%,#70cd65 84.0%,#6bcd6a 85.8%,#3ec991 87.7%,#14beb8 89.6%,#06b6ce 91.5%,#0bb4d2 93.4%,#39c796 95.3%,#a0c842 97.2%,#c6c22a 99.1%)"></div><div style="height:1px;background:linear-gradient(90deg,#67c871 0.9%,#10b4cf 2.8%,#2896ec 4.7%,#3080fa 6.6%,#3876fe 8.5%,#455ffa 10.4%,#4747eb 12.3%,#484cf0 14.2%,#4364fc 16.0%,#3082f9 17.9%,#2995ec 19.8%,#2699e9 21.7%,#337ff9 23.6%,#4758f7 25.5%,#4754f5 27.4%,#367bf9 29.2%,#1cb8c0 31.1%,#b1c441 33.0%,#fad32f 34.9%,#f6f01f 36.8%,#f6f11f 38.7%,#f6df29 40.6%,#fdc835 42.5%,#f3ba39 44.3%,#faca34 46.2%,#f8f718 48.1%,#f9fb15 50.0%,#f9fb15 51.9%,#f9fb15 53.8%,#f7e923 55.7%,#edc032 57.5%,#7fca5b 59.4%,#20c1ae 61.3%,#0db3d3 63.2%,#17aeda 65.1%,#11b1d6 67.0%,#0bb3d2 68.9%,#04b7cc 70.8%,#0abcbe 72.6%,#26c2ac 74.5%,#2ac3a9 76.4%,#11b4cc 78.3%,#2d89f5 80.2%,#12aed7 82.1%,#16bfb7 84.0%,#31c5a1 85.8%,#3eca90 87.7%,#45cb89 89.6%,#32c69e 91.5%,#08b5cf 93.4%,#3ac694 95.3%,#9cc944 97.2%,#a3c83f 99.1%)"></div><div style="height:1px;background:linear-gradient(90deg,#1fc0b0 0.9%,#22a0e5 2.8%,#3c70fc 4.7%,#474aee 6.6%,#4539d9 8.5%,#412cba 10.4%,#3e26a8 12.3%,#3e26a8 14.2%,#3e26a8 16.0%,#402bb5 17.9%,#4747ea 19.8%,#4465fd 21.7%,#3e70ff 23.6%,#3e6fff 25.5%,#347bfc 27.4%,#259ae9 29.2%,#1bbeb6 31.1%,#8dc951 33.0%,#f4c134 34.9%,#f6e028 36.8%,#f7f41b 38.7%,#f9fb15 40.6%,#f6eb21 42.5%,#fbd230 44.3%,#f9fa15 46.2%,#f9fb15 48.1%,#f9fb15 50.0%,#f8f719 51.9%,#f8db2b 53.8%,#fcbe3b 55.7%,#e6bb30 57.5%,#8dc951 59.4%,#1dc1af 61.3%,#01b9c8 63.2%,#03bac3 65.1%,#14bfb8 67.0%,#2cc4a6 68.9%,#3dc990 70.8%,#4fcc81 72.6%,#57cc7a 74.5%,#8bca51 76.4%,#d0bf29 78.3%,#e2bc2c 80.2%,#f7ba3c 82.1%,#edba33 84.0%,#d0c029 85.8%,#a8c73c 87.7%,#72cc64 89.6%,#3dc992 91.5%,#41c98e 93.4%,#8aca52 95.3%,#a7c73c 97.2%,#77cc60 99.1%)"></div><div style="height:1px;background:linear-gradient(90deg,#1ca9df 0.9%,#249ee6 2.8%,#2798ea 4.7%,#2797eb 6.6%,#2d89f5 8.5%,#4266fc 10.4%,#4746e9 12.3%,#4230c4 14.2%,#3f28af 16.0%,#422fc2 17.9%,#4744e7 19.8%,#4560fb 21.7%,#3777fd 23.6%,#2e85f7 25.5%,#2b91ef 27.4%,#249ce7 29.2%,#1fbeb5 31.1%,#bac33e 33.0%,#fad32f 34.9%,#f5ec22 36.8%,#f7f31c 38.7%,#f8f719 40.6%,#f7f31c 42.5%,#f6ec21 44.3%,#f9fb15 46.2%,#f9fb15 48.1%,#f9fb15 50.0%,#f9fb15 51.9%,#f7f41c 53.8%,#f9d92c 55.7%,#f6bf36 57.5%,#9fc744 59.4%,#47cb88 61.3%,#57cc7a 63.2%,#9ac946 65.1%,#d8be2b 67.0%,#f8bb3b 68.9%,#febe3c 70.8%,#f8bb3b 72.6%,#eabb30 74.5%,#f4bb38 76.4%,#fdc934 78.3%,#fccf30 80.2%,#fcc139 82.1%,#d7be2c 84.0%,#96c949 85.8%,#5acc78 87.7%,#28c3a7 89.6%,#3ac796 91.5%,#afc53b 93.4%,#f3bb37 95.3%,#f7bb3b 97.2%,#d2bf2b 99.1%)"></div><div style="height:1px;background:linear-gradient(90deg,#2c8df2 0.9%,#249de7 2.8%,#0eb2d3 4.7%,#18bfb5 6.6%,#0fbac4 8.5%,#259be8 10.4%,#337cfb 12.3%,#4367fd 14.2%,#475cfa 16.0%,#475cfa 17.9%,#4562fc 19.8%,#3d70fe 21.7%,#2f82f9 23.6%,#2a91ef 25.5%,#269be8 27.4%,#259be8 29.2%,#23bdb5 31.1%,#d6c536 33.0%,#f7f11d 34.9%,#f9fb15 36.8%,#f9fb15 38.7%,#f8f818 40.6%,#f9fa16 42.5%,#f9fb15 44.3%,#f9fa16 46.2%,#f9fb15 48.1%,#f9fb15 50.0%,#f9fb15 51.9%,#f9fb15 53.8%,#f8f718 55.7%,#f9d62e 57.5%,#e9bc31 59.4%,#e1bc2c 61.3%,#fbca34 63.2%,#f7f31b 65.1%,#f9fb15 67.0%,#f9fb15 68.9%,#f9fb15 70.8%,#f8f719 72.6%,#f5e825 74.5%,#f6de29 76.4%,#fad52d 78.3%,#fdc438 80.2%,#dfbd2d 82.1%,#a4c83f 84.0%,#6ecc67 85.8%,#4ccb83 87.7%,#25c3aa 89.6%,#6ac76f 91.5%,#eebd34 93.4%,#fdca33 95.3%,#fec736 97.2%,#f5bb38 99.1%)"></div><div style="height:1px;background:linear-gradient(90deg,#2d8af5 0.9%,#2d89f5 2.8%,#2f82f9 4.7%,#3a73fe 6.6%,#465efa 8.5%,#484df0 10.4%,#484bee 12.3%,#4756f6 14.2%,#406cfe 16.0%,#2f85f8 17.9%,#2e88f6 19.8%,#307ffb 21.7%,#2f82fa 23.6%,#2c8df2 25.5%,#269ae8 27.4%,#18abdc 29.2%,#22c2ab 31.1%,#afc447 33.0%,#f9e921 34.9%,#f9fb15 36.8%,#f9fb15 38.7%,#f9fb15 40.6%,#f9fb15 42.5%,#f9fb15 44.3%,#f8f818 46.2%,#f5ea23 48.1%,#f5e526 50.0%,#f5ec22 51.9%,#f7f51b 53.8%,#f5ec22 55.7%,#f7f41b 57.5%,#f9fb15 59.4%,#f9fb15 61.3%,#f9fb15 63.2%,#f9fb15 65.1%,#f9fb15 67.0%,#f9fb15 68.9%,#f9f916 70.8%,#f5e825 72.6%,#f5e526 74.5%,#f5e825 76.4%,#f5e526 78.3%,#f8d82c 80.2%,#fccf30 82.1%,#fad42e 84.0%,#f5e426 85.8%,#f6ef20 87.7%,#f5e725 89.6%,#fbd130 91.5%,#eebc34 93.4%,#aac63b 95.3%,#67cc6d 97.2%,#44ca8a 99.1%)"></div><div style="height:1px;background:linear-gradient(90deg,#249ee6 0.9%,#2a91ef 2.8%,#3778fd 4.7%,#4561fb 6.6%,#4854f5 8.5%,#4757f7 10.4%,#406bfd 12.3%,#2b8df2 14.2%,#0ab3d0 16.0%,#1da6e0 17.9%,#2c8bf4 19.8%,#347afd 21.7%,#3975fe 23.6%,#3e70ff 25.5%,#406dfe 27.4%,#2f85f6 29.2%,#2abdb1 31.1%,#d7c336 33.0%,#f6e824 34.9%,#f9fa15 36.8%,#f9fb15 38.7%,#f9fb15 40.6%,#f9fb15 42.5%,#f9fb15 44.3%,#f9fb15 46.2%,#f8f917 48.1%,#f7f61a 50.0%,#f9fa15 51.9%,#f9fb15 53.8%,#f9f916 55.7%,#f6e526 57.5%,#fcce31 59.4%,#f6e526 61.3%,#f8f917 63.2%,#f9fb15 65.1%,#f9fb15 67.0%,#f9fb15 68.9%,#f9fb15 70.8%,#f9fb15 72.6%,#f6f11e 74.5%,#fad62d 76.4%,#f6bd38 78.3%,#cbc02b 80.2%,#94ca4a 82.1%,#66cd6d 84.0%,#57cc7a 85.8%,#6dcc68 87.7%,#97c948 89.6%,#abc739 91.5%,#98c947 93.4%,#67cc6d 95.3%,#3ec990 97.2%,#32c69f 99.1%)"></div><div style="height:1px;background:linear-gradient(90deg,#2994ed 0.9%,#249de7 2.8%,#2a90f0 4.7%,#3f6cfe 6.6%,#465efb 8.5%,#4563fc 10.4%,#3579fc 12.3%,#269ae9 14.2%,#0cb9c5 16.0%,#16acdb 17.9%,#259ce7 19.8%,#21a3e3 21.7%,#2c8df2 23.6%,#3777fd 25.5%,#4464fd 27.4%,#3a75fb 29.2%,#30bbb0 31.1%,#eac930 33.0%,#f7f51b 34.9%,#f9fa16 36.8%,#f8f61a 38.7%,#f9f916 40.6%,#f9fb15 42.5%,#f9fb15 44.3%,#f9fb15 46.2%,#f9fb15 48.1%,#f9fb15 50.0%,#f9fb15 51.9%,#f9fb15 53.8%,#f7f51a 55.7%,#f2c631 57.5%,#9ac946 59.4%,#a3c83f 61.3%,#c9c12b 63.2%,#edbb34 65.1%,#fdc03a 67.0%,#fec934 68.9%,#fad52d 70.8%,#f5e526 72.6%,#f6df29 74.5%,#fac336 76.4%,#bfc332 78.3%,#8dcb4f 80.2%,#7bcc5d 82.1%,#5ccc76 84.0%,#44ca8a 85.8%,#44cb8a 87.7%,#60cc72 89.6%,#8ccb50 91.5%,#a4c83e 93.4%,#9ac945 95.3%,#83cc57 97.2%,#7ccc5c 99.1%)"></div><div style="height:1px;background:linear-gradient(90deg,#3e6dfd 0.9%,#20a5da 2.8%,#17b6c8 4.7%,#2b8ef1 6.6%,#3678fd 8.5%,#3e70ff 10.4%,#3a73fe 12.3%,#317efb 14.2%,#2d8af4 16.0%,#2897eb 17.9%,#15afd4 19.8%,#3ec891 21.7%,#10b2d1 23.6%,#259be8 25.5%,#2f84f8 27.4%,#2e87f6 29.2%,#34beaa 31.1%,#eccf2b 33.0%,#f9fb15 34.9%,#f9fb15 36.8%,#f9fb15 38.7%,#f9fb15 40.6%,#f9fb15 42.5%,#f9fb15 44.3%,#f9fb15 46.2%,#f9fb15 48.1%,#f9fb15 50.0%,#f9fb15 51.9%,#f9fb15 53.8%,#f9e126 55.7%,#c5c238 57.5%,#4dcb83 59.4%,#32c69f 61.3%,#44ca8b 63.2%,#6ccd69 65.1%,#7ccc5c 67.0%,#6acd6a 68.9%,#74cc62 70.8%,#c0c330 72.6%,#efba35 74.5%,#e9bb31 76.4%,#a3c740 78.3%,#acc63b 80.2%,#f3bc36 82.1%,#fcce31 84.0%,#fad62d 85.8%,#fdcc32 87.7%,#fcbd3c 89.6%,#fbbc3d 91.5%,#fec03b 93.4%,#febe3c 95.3%,#fbbc3d 97.2%,#fcbc3d 99.1%)"></div><div style="height:1px;background:linear-gradient(90deg,#1fa5e2 0.9%,#0eb8c7 2.8%,#23c1af 4.7%,#0ebdbc 6.6%,#03b8ca 8.5%,#12b1d7 10.4%,#20a5e2 12.3%,#2993ee 14.2%,#327efb 16.0%,#4269fe 17.9%,#465dfa 19.8%,#4562fc 21.7%,#4561fc 23.6%,#337ffa 25.5%,#3975fc 27.4%,#377af9 29.2%,#33bdab 31.1%,#e0c434 33.0%,#f8f51a 34.9%,#f9fb15 36.8%,#f9fb15 38.7%,#f9fb15 40.6%,#f9fb15 42.5%,#f9fb15 44.3%,#f9fb15 46.2%,#f9fb15 48.1%,#f9fb15 50.0%,#f9fb15 51.9%,#f9fb15 53.8%,#f9fb15 55.7%,#f9fa16 57.5%,#f8dd2a 59.4%,#fdc139 61.3%,#fabb3d 63.2%,#f9bb3d 65.1%,#efba35 67.0%,#cbc12b 68.9%,#a4c83e 70.8%,#b4c534 72.6%,#d2bf28 74.5%,#d9be28 76.4%,#d0bf28 78.3%,#ddbd2a 80.2%,#f9bd3a 82.1%,#fccf31 84.0%,#f6ea23 85.8%,#f9fb15 87.7%,#f9fb15 89.6%,#f7ef1e 91.5%,#f7c434 93.4%,#a4c741 95.3%,#42c98d 97.2%,#2bc3a8 99.1%)"></div><div style="height:1px;background:linear-gradient(90deg,#2f84f8 0.9%,#259be8 2.8%,#249de7 4.7%,#2c8ff1 6.6%,#2f83f9 8.5%,#3579fd 10.4%,#3f6efe 12.3%,#4564fd 14.2%,#4562fc 16.0%,#474cee 17.9%,#422fc2 19.8%,#402ab5 21.7%,#4435cf 23.6%,#4752f3 25.5%,#4758f8 27.4%,#3b72f9 29.2%,#36bda9 31.1%,#e7c831 33.0%,#f8f917 34.9%,#f9fb15 36.8%,#f9fb15 38.7%,#f9fb15 40.6%,#f9fb15 42.5%,#f7f61a 44.3%,#f5e427 46.2%,#f6df29 48.1%,#f6f01e 50.0%,#f9fb15 51.9%,#f9fb15 53.8%,#f9fb15 55.7%,#f9fb15 57.5%,#f7e723 59.4%,#f5bf35 61.3%,#b6c435 63.2%,#53cb7e 65.1%,#39c897 67.0%,#55cc7b 68.9%,#52cc7e 70.8%,#53cc7d 72.6%,#59cc79 74.5%,#5bcc76 76.4%,#4bcb84 78.3%,#6ecb68 80.2%,#e0bd30 82.1%,#fdca34 84.0%,#f6e526 85.8%,#f9fa16 87.7%,#f9fb15 89.6%,#f7f11d 91.5%,#fccd32 93.4%,#debd2e 95.3%,#a0c842 97.2%,#87cb54 99.1%)"></div><div style="height:1px;background:linear-gradient(90deg,#475af8 0.9%,#3876fd 2.8%,#4069fc 4.7%,#4746ea 6.6%,#4434ce 8.5%,#412ebe 10.4%,#422fc2 12.3%,#463ada 14.2%,#4759f7 16.0%,#465bf9 17.9%,#4538d4 19.8%,#402bb6 21.7%,#422fc1 23.6%,#4538d6 25.5%,#4747ea 27.4%,#3a74f8 29.2%,#38bea7 31.1%,#eacb2f 33.0%,#f9fa16 34.9%,#f9fb15 36.8%,#f8f619 38.7%,#fbd32e 40.6%,#f6ef1f 42.5%,#f9fa15 44.3%,#f6f11e 46.2%,#f5eb23 48.1%,#f7f61a 50.0%,#f9fb15 51.9%,#f9fb15 53.8%,#f9fb15 55.7%,#f7ef1f 57.5%,#fac635 59.4%,#bfc332 61.3%,#5acb78 63.2%,#15b7c8 65.1%,#12b0d6 67.0%,#24c2ae 68.9%,#24c2ae 70.8%,#27c2ab 72.6%,#2ac3a9 74.5%,#2dc4a5 76.4%,#23c2ad 78.3%,#52c882 80.2%,#e8be33 82.1%,#fbd130 84.0%,#f8d92c 85.8%,#f8da2b 87.7%,#f9d82c 89.6%,#fcd030 91.5%,#fec736 93.4%,#fec239 95.3%,#fec03a 97.2%,#fec537 99.1%)"></div><div style="height:1px;background:linear-gradient(90deg,#2c90f0 0.9%,#2896ec 2.8%,#2b91ef 4.7%,#3778fc 6.6%,#4757f7 8.5%,#4745e9 10.4%,#4849ed 12.3%,#4461fb 14.2%,#2d8af4 16.0%,#0fb5cc 17.9%,#1c9fe2 19.8%,#4267fc 21.7%,#4850f2 23.6%,#484df0 25.5%,#465cf9 27.4%,#2e89f3 29.2%,#2ec1a6 31.1%,#c6c138 33.0%,#f9de29 34.9%,#f9fb15 36.8%,#f9fb15 38.7%,#f9fb15 40.6%,#f9fb15 42.5%,#f9fb15 44.3%,#f9fb15 46.2%,#f9fb15 48.1%,#f9fb15 50.0%,#f9fb15 51.9%,#f7e327 53.8%,#fec636 55.7%,#f8bb3b 57.5%,#e4bb2d 59.4%,#e7bb2e 61.3%,#fbbe3b 63.2%,#fdca33 65.1%,#fec934 67.0%,#dfbe34 68.9%,#48c989 70.8%,#4dca84 72.6%,#88cb53 74.5%,#c4c22e 76.4%,#fac436 78.3%,#f7ee1f 80.2%,#f9fb15 82.1%,#f8f818 84.0%,#fad42f 85.8%,#f0bb35 87.7%,#d2bf28 89.6%,#b5c533 91.5%,#a1c840 93.4%,#9fc941 95.3%,#acc738 97.2%,#bfc32d 99.1%)"></div></div><svg width="575" height="573" viewBox="0 0 575 573" style="position:absolute;left:0;top:0" font-family='"Liberation Sans", sans-serif' fill="#000"><defs><clipPath id="cA"><rect x="25.8" y="22.4" width="521.5" height="232.0"/></clipPath></defs><path d="M28.8,24.4V254.4H544.3" fill="none" stroke="#808080" stroke-width="1"/><path d="M28.8,24.4h5M28.8,70.4h5M28.8,116.4h5M28.8,162.4h5M28.8,208.4h5M131.9,254.4v-5M235.0,254.4v-5M338.1,254.4v-5M441.2,254.4v-5M544.3,254.4v-5" stroke="#808080" stroke-width="1" fill="none"/><g clip-path="url(#cA)"><path d="M28.2,71.7L28.9,47.5L30.6,43.9L32.9,56.3L34.0,61.9L35.0,66.7L36.0,70.9L37.0,74.2L38.1,77.4L39.1,79.7L40.1,81.8L41.2,84.3L42.2,86.3L43.2,87.8L44.3,89.5L45.3,91.1L46.3,92.8L47.4,94.0L48.4,95.2L49.4,96.9L50.5,97.9L51.5,99.3L52.5,100.3L53.5,101.5L54.6,102.2L55.6,103.3L56.6,104.0L57.7,105.0L58.7,106.0L59.7,107.5L60.8,107.9L61.8,108.7L62.8,109.5L63.9,110.7L64.9,111.2L65.9,112.1L66.9,112.8L68.0,113.2L69.0,114.3L70.0,114.8L71.1,115.3L72.1,116.3L73.1,116.8L74.2,117.3L75.2,117.9L76.2,118.8L77.3,119.0L78.3,119.3L79.3,120.5L80.3,120.4L81.4,121.1L82.4,121.8L83.4,121.6L84.5,122.4L85.5,123.4L86.5,123.5L87.6,123.8L88.6,124.5L89.6,124.7L90.7,125.3L91.7,125.5L92.7,125.7L93.8,126.7L94.8,126.9L95.8,127.4L96.8,127.7L97.9,128.4L98.9,128.6L99.9,128.9L101.0,128.9L102.0,129.2L103.0,130.3L104.1,130.5L105.1,130.4L106.1,131.6L107.2,131.4L108.2,131.7L109.2,131.5L110.2,132.0L111.3,132.7L112.3,133.0L113.3,133.3L114.4,133.0L115.4,134.0L116.4,134.3L117.5,134.3L118.5,134.8L119.5,135.1L120.6,135.7L121.6,135.6L122.6,136.1L123.7,135.7L124.7,136.2L125.7,136.7L126.7,136.7L127.8,137.4L128.8,137.1L129.8,137.8L130.9,137.8L131.9,138.8L132.9,138.4L134.0,139.5L135.0,139.9L136.0,139.4L137.1,139.9L138.1,139.7L139.1,139.0L140.1,140.6L141.2,140.8L142.2,140.6L143.2,140.7L144.3,141.2L145.3,141.5L146.3,141.3L147.4,141.6L148.4,142.5L149.4,142.3L150.5,142.5L151.5,143.2L152.5,142.8L153.6,143.6L154.6,142.9L155.6,143.5L156.6,143.7L157.7,144.3L158.7,144.2L159.7,145.4L160.8,145.2L161.8,144.6L162.8,146.1L163.9,144.7L164.9,146.3L165.9,145.1L167.0,146.2L168.0,145.5L169.0,146.0L170.0,147.2L171.1,145.7L172.1,145.8L173.1,146.9L174.2,147.2L175.2,147.3L176.2,148.0L177.3,146.9L178.3,148.1L179.3,148.0L180.4,148.6L181.4,148.7L182.4,149.3L183.5,147.8L184.5,148.9L185.5,148.3L186.5,149.1L187.6,149.8L188.6,149.7L189.6,150.0L190.7,149.8L191.7,150.2L192.7,150.3L193.8,151.8L194.8,151.4L195.8,149.6L196.0,151.4L196.2,151.7L196.4,150.7L196.6,149.9L196.9,152.1L197.1,151.1L197.3,151.5L197.5,152.3L197.7,150.4L197.9,151.0L198.1,150.9L198.3,151.4L198.5,150.4L198.7,151.0L198.9,150.4L199.1,150.7L199.3,150.3L199.5,148.1L199.7,148.5L199.9,147.3L200.2,146.8L200.4,146.3L200.6,145.7L200.8,144.8L201.0,144.9L201.2,144.8L201.4,144.8L201.6,144.6L201.8,145.2L202.0,146.0L202.2,147.1L202.4,148.4L202.6,147.8L202.8,148.4L203.0,149.8L203.2,149.8L203.5,150.0L203.7,150.2L203.9,150.3L204.1,151.6L204.3,150.1L204.5,152.3L204.7,150.7L204.9,151.0L205.1,150.7L205.3,149.9L205.5,150.2L205.7,152.4L205.9,152.8L206.1,150.8L206.3,152.3L207.2,151.5L208.2,150.9L209.2,153.0L210.3,153.4L211.3,151.5L212.3,151.7L213.3,152.0L214.4,151.8L215.4,152.7L216.4,153.3L217.5,152.2L218.5,152.9L219.5,153.6L220.6,151.7L221.6,152.3L222.6,151.9L223.7,153.2L224.7,152.9L225.7,153.2L226.8,153.0L227.8,152.0L228.8,152.9L229.8,151.8L230.9,151.8L231.9,150.1L232.9,153.5L234.0,151.2L235.0,152.1L236.0,152.1L237.1,153.6L238.1,152.7L239.1,151.6L240.2,152.5L241.2,152.4L242.2,152.9L243.2,151.5L244.3,152.8L245.3,155.0L246.3,153.6L246.4,154.8L246.5,156.1L246.7,153.5L246.8,151.6L246.9,152.9L247.0,154.1L247.1,153.9L247.2,151.9L247.3,152.8L247.4,152.9L247.5,153.0L247.6,152.9L247.7,152.1L247.8,152.4L247.9,152.7L248.0,153.8L248.1,151.9L248.2,151.9L248.3,148.6L248.4,146.4L248.5,140.7L248.6,135.1L248.7,128.8L248.8,121.9L248.9,115.0L249.0,114.9L249.1,114.8L249.2,114.6L249.3,114.6L249.4,114.4L249.5,114.5L249.6,114.7L249.7,114.8L249.8,114.9L249.9,115.1L250.1,122.0L250.2,128.9L250.3,135.4L250.4,140.9L250.5,147.2L250.6,151.3L250.7,154.9L250.8,153.6L250.9,154.8L251.0,155.0L251.1,155.4L251.2,156.0L251.3,156.1L251.4,156.7L251.5,156.7L251.6,156.6L251.7,155.4L251.8,156.4L251.9,157.1L252.0,157.7L252.1,157.9L252.2,155.8L252.3,157.0L252.4,157.5L252.5,158.0L253.6,159.4L254.6,159.2L255.6,159.0L256.7,160.9L257.7,161.4L258.7,162.0L259.7,162.3L260.8,164.2L261.8,163.5L262.8,164.4L263.9,163.5L264.9,164.8L265.9,163.9L267.0,163.3L268.0,164.5L269.0,164.6L270.1,163.9L271.1,163.6L272.1,163.4L272.2,162.8L272.3,162.0L272.4,162.9L272.5,162.9L272.6,163.1L272.7,162.5L272.8,163.1L272.9,162.9L273.0,161.9L273.1,162.7L273.3,161.9L273.4,161.6L273.5,162.1L273.6,161.9L273.7,161.3L273.8,162.0L273.9,162.1L274.0,162.2L274.1,161.7L274.2,161.1L274.3,161.2L274.4,161.8L274.5,161.7L274.6,161.5L274.7,161.1L274.8,161.2L274.9,161.0L275.0,160.9L275.1,161.0L275.2,160.8L275.3,160.6L275.4,160.6L275.5,160.4L275.6,159.9L275.7,160.2L275.8,160.2L275.9,160.6L276.0,159.9L276.1,160.4L276.2,160.2L276.3,159.4L276.4,159.3L276.5,159.4L276.7,159.7L276.8,159.2L276.9,159.1L277.0,158.7L277.1,158.1L277.2,158.5L277.3,158.6L277.4,158.5L277.5,158.1L277.6,158.0L277.7,158.0L277.8,157.6L277.9,157.7L278.0,157.1L278.1,157.0L278.2,156.8L278.3,156.9L278.4,156.6L278.5,156.5L278.6,156.4L278.7,156.3L278.8,156.2L278.9,156.1L279.0,155.6L279.1,155.5L279.2,155.1L279.3,154.8L279.4,154.9L279.5,154.5L279.6,154.1L279.7,153.8L279.8,153.6L280.0,153.2L280.1,153.0L280.2,152.9L280.3,152.6L280.4,152.1L280.5,151.8L280.6,151.8L280.7,151.2L280.8,151.0L280.9,150.6L281.0,150.5L281.1,150.2L281.2,149.9L281.3,149.3L281.4,149.2L281.5,148.8L281.6,148.7L281.7,148.3L281.8,148.1L281.9,147.7L282.0,147.3L282.1,146.9L282.2,146.1L282.3,145.5L282.4,144.9L282.5,144.3L282.6,143.6L282.7,142.9L282.8,142.3L282.9,141.7L283.0,141.0L283.1,140.3L283.3,139.7L283.4,139.0L283.5,138.3L283.6,137.2L283.7,135.7L283.8,134.2L283.9,132.7L284.0,131.2L284.1,129.7L284.2,128.2L284.3,126.7L284.4,125.2L284.5,123.7L284.6,122.2L284.7,120.7L284.8,118.4L284.9,116.2L285.0,113.9L285.1,111.7L285.2,109.4L285.3,107.1L285.4,104.9L285.5,97.5L285.6,90.2L285.7,82.8L285.8,75.5L285.9,68.1L286.0,67.5L286.1,66.9L286.2,66.4L286.3,65.8L286.4,65.2L286.6,64.6L286.7,65.2L286.8,65.8L286.9,66.4L287.0,66.9L287.1,67.5L287.2,68.1L287.3,75.5L287.4,82.8L287.5,90.2L287.6,97.5L287.7,104.9L287.8,107.1L287.9,109.4L288.0,111.7L288.1,113.9L288.2,116.2L288.3,118.4L288.4,120.7L288.5,122.2L288.6,123.7L288.7,125.2L288.8,126.7L288.9,128.2L289.0,129.7L289.1,131.2L289.2,132.7L289.3,134.2L289.4,135.7L289.5,137.1L289.6,138.3L289.7,138.9L289.8,139.7L290.0,140.3L290.1,141.0L290.2,141.7L290.3,142.2L290.4,142.9L290.5,143.6L290.6,144.3L290.7,145.0L290.8,145.5L290.9,146.1L291.0,146.8L291.1,147.4L291.2,147.8L291.3,148.0L291.4,148.3L291.5,148.5L291.6,148.8L291.7,149.2L291.8,149.6L291.9,149.8L292.0,150.2L292.1,150.5L292.2,150.7L292.3,151.1L292.4,151.2L292.5,151.6L292.6,151.9L292.7,152.2L292.8,152.5L292.9,152.8L293.0,153.0L293.1,153.4L293.3,153.5L293.4,153.8L293.5,154.3L293.6,154.4L293.7,154.8L293.8,155.0L293.9,155.2L294.0,155.7L294.1,155.7L294.2,155.8L294.3,156.1L294.4,156.3L294.5,156.4L294.6,156.7L294.7,156.7L294.8,156.9L294.9,157.0L295.0,157.4L295.1,157.3L295.2,157.4L295.3,157.7L295.4,157.9L295.5,157.8L295.6,158.4L295.7,158.1L295.8,158.3L295.9,158.5L296.0,158.6L296.1,159.0L296.2,159.0L296.3,158.9L296.4,159.1L296.6,159.3L296.7,159.9L296.8,159.5L296.9,159.5L297.0,159.6L297.1,160.0L297.2,160.6L297.3,160.0L297.4,160.4L297.5,161.1L297.6,160.4L297.7,161.0L297.8,161.1L297.9,161.0L298.0,160.5L298.1,161.1L298.2,161.0L298.3,160.5L298.4,160.7L298.5,161.3L298.6,161.5L298.7,161.9L298.8,161.8L298.9,161.5L299.0,161.6L299.1,161.7L299.2,161.5L299.3,162.2L299.4,162.0L299.5,161.8L299.6,161.9L299.7,161.8L299.8,162.2L300.0,162.5L300.1,162.3L300.2,162.9L300.3,163.2L300.4,162.4L300.5,162.7L300.6,162.6L300.7,163.5L300.8,163.0L300.9,163.2L301.0,163.4L302.0,164.6L303.0,164.2L304.1,163.7L305.1,164.1L306.1,164.7L307.2,164.3L308.2,163.7L309.2,166.1L310.3,163.9L311.3,162.9L312.3,162.4L313.4,161.0L314.4,160.9L315.4,160.9L316.4,160.2L317.5,159.1L318.5,159.6L319.5,158.4L320.6,156.8L320.7,155.7L320.8,157.6L320.9,157.4L321.0,157.1L321.1,155.9L321.2,157.1L321.3,155.5L321.4,157.7L321.5,156.8L321.6,156.7L321.7,155.7L321.8,155.3L321.9,157.5L322.0,156.8L322.1,155.5L322.2,156.3L322.3,156.3L322.4,152.8L322.5,150.7L322.6,146.7L322.7,141.4L322.8,135.2L322.9,128.9L323.0,122.0L323.2,115.1L323.3,114.9L323.4,114.8L323.5,114.7L323.6,114.5L323.7,114.4L323.8,114.5L323.9,114.6L324.0,114.8L324.1,114.9L324.2,115.1L324.3,122.0L324.4,128.6L324.5,134.7L324.6,140.1L324.7,145.8L324.8,149.2L324.9,150.1L325.0,152.5L325.1,153.7L325.2,152.8L325.3,152.5L325.4,153.7L325.5,154.5L325.6,154.3L325.7,152.3L325.8,153.7L325.9,153.1L326.0,152.7L326.1,152.3L326.2,153.3L326.3,152.5L326.4,153.8L326.6,153.3L326.7,153.9L326.8,151.8L327.8,152.9L328.8,153.5L329.9,153.0L330.9,152.8L331.9,151.8L332.9,154.0L334.0,153.4L335.0,152.7L336.0,149.7L337.1,151.2L338.1,152.1L339.1,151.3L340.2,150.0L341.2,152.3L342.2,152.5L343.3,151.0L344.3,151.7L345.3,151.5L346.3,152.7L347.4,150.4L348.4,150.6L349.4,151.7L350.5,151.6L351.5,154.1L352.5,151.6L353.6,152.3L354.6,151.7L355.6,151.4L356.7,152.3L357.7,153.4L358.7,151.5L359.8,152.5L360.8,152.0L361.8,152.2L362.8,151.9L363.9,153.6L364.9,150.5L365.9,151.3L366.8,150.6L367.0,149.8L367.2,151.4L367.4,152.9L367.6,152.2L367.8,152.4L368.0,151.8L368.2,151.3L368.4,153.0L368.6,151.1L368.8,152.5L369.0,151.0L369.2,151.1L369.4,151.1L369.6,150.6L369.9,150.6L370.1,150.1L370.3,150.1L370.5,148.4L370.7,146.6L370.9,145.8L371.1,145.5L371.3,145.2L371.5,145.4L371.7,144.2L371.9,144.7L372.1,144.8L372.3,145.2L372.5,145.5L372.7,146.3L372.9,146.8L373.2,148.1L373.4,148.4L373.6,147.5L373.8,149.5L374.0,150.1L374.2,149.9L374.4,150.1L374.6,151.6L374.8,151.0L375.0,150.2L375.2,150.8L375.4,150.9L375.6,149.8L375.8,151.5L376.0,150.9L376.2,151.4L376.5,149.8L376.7,152.4L376.9,151.4L377.1,151.3L377.3,150.4L378.3,150.4L379.3,149.7L380.4,151.3L381.4,149.4L382.4,150.0L383.5,150.1L384.5,149.1L385.5,149.9L386.6,150.6L387.6,149.2L388.6,149.8L389.7,149.0L390.7,148.2L391.7,148.1L392.7,147.1L393.8,148.1L394.8,148.7L395.8,148.1L396.9,148.0L397.9,148.0L398.9,146.8L400.0,147.2L401.0,147.9L402.0,146.1L403.1,146.4L404.1,145.9L405.1,145.9L406.1,145.4L407.2,145.5L408.2,144.7L409.2,144.9L410.3,144.7L411.3,144.5L412.3,145.3L413.4,144.5L414.4,144.3L415.4,143.9L416.5,144.4L417.5,142.7L418.5,143.3L419.5,143.7L420.6,143.7L421.6,142.8L422.6,142.5L423.7,142.6L424.7,142.0L425.7,142.1L426.8,141.4L427.8,141.7L428.8,141.2L429.9,140.5L430.9,139.6L431.9,140.9L433.0,140.4L434.0,140.4L435.0,139.4L436.0,140.0L437.1,139.5L438.1,139.0L439.1,139.2L440.2,138.9L441.2,138.5L442.2,138.9L443.3,138.4L444.3,137.7L445.3,137.2L446.4,137.0L447.4,137.4L448.4,136.6L449.4,135.8L450.5,135.7L451.5,135.6L452.5,135.6L453.6,134.8L454.6,134.9L455.6,134.9L456.7,134.4L457.7,133.3L458.7,133.5L459.8,132.8L460.8,133.1L461.8,132.3L462.9,132.5L463.9,132.0L464.9,130.8L465.9,131.0L467.0,131.1L468.0,130.6L469.0,130.2L470.1,129.5L471.1,129.7L472.1,129.7L473.2,128.9L474.2,128.5L475.2,128.0L476.3,127.3L477.3,127.2L478.3,126.7L479.3,126.8L480.4,125.9L481.4,125.1L482.4,125.1L483.5,124.8L484.5,124.4L485.5,123.5L486.6,123.8L487.6,123.1L488.6,122.5L489.7,121.9L490.7,121.7L491.7,121.1L492.8,120.7L493.8,120.1L494.8,119.6L495.8,119.3L496.9,118.5L497.9,117.7L498.9,117.6L500.0,116.8L501.0,116.0L502.0,115.8L503.1,114.8L504.1,114.4L505.1,113.2L506.2,112.2L507.2,111.5L508.2,111.2L509.2,110.2L510.3,109.5L511.3,108.6L512.3,107.5L513.4,107.2L514.4,105.7L515.4,105.0L516.5,103.7L517.5,103.0L518.5,102.2L519.6,101.0L520.6,99.9L521.6,98.9L522.6,97.7L523.7,96.7L524.7,95.8L525.7,93.8L526.8,92.5L527.8,91.1L528.8,89.6L529.9,87.7L530.9,86.3L531.9,84.4L533.0,82.1L534.0,79.5L535.0,77.4L536.1,73.9L537.1,70.8L538.1,66.9L539.1,61.7L540.2,56.3L542.7,43.9L544.2,47.5L544.7,71.7" fill="none" stroke="#0070c0" stroke-width="2.9" stroke-linejoin="round"/><line x1="286.6" y1="24.4" x2="286.6" y2="254.4" stroke="#d4d4d4" stroke-width="1" stroke-dasharray="10,6"/><path d="M29.6,187.0L31.0,43.5L31.9,50.5L32.9,56.0L34.0,61.7L35.0,66.4L36.0,70.4L37.0,73.9L38.1,76.9L39.1,79.5L40.1,81.8L41.2,83.9L42.2,85.9L43.2,87.7L44.3,89.3L45.3,90.9L46.3,92.3L47.4,93.7L48.4,95.0L49.4,96.3L50.5,97.5L51.5,98.7L52.5,99.8L53.5,100.8L54.6,101.8L55.6,102.8L56.6,103.7L57.7,104.7L58.7,105.7L59.7,106.6L60.8,107.5L61.8,108.4L62.8,109.2L63.9,110.0L64.9,110.8L65.9,111.6L66.9,112.4L68.0,113.1L69.0,113.9L70.0,114.6L71.1,115.2L72.1,115.9L73.1,116.5L74.2,117.1L75.2,117.7L76.2,118.2L77.3,118.8L78.3,119.3L79.3,119.8L80.3,120.4L81.4,120.9L82.4,121.3L83.4,121.8L84.5,122.3L85.5,122.8L86.5,123.2L87.6,123.7L88.6,124.1L89.6,124.6L90.7,125.0L91.7,125.4L92.7,125.8L93.8,126.2L94.8,126.6L95.8,127.0L96.8,127.4L97.9,127.8L98.9,128.2L99.9,128.6L101.0,128.9L102.0,129.3L103.0,129.6L104.1,130.0L105.1,130.3L106.1,130.7L107.2,131.0L108.2,131.3L109.2,131.7L110.2,132.0L111.3,132.3L112.3,132.6L113.3,133.0L114.4,133.3L115.4,133.6L116.4,133.9L117.5,134.2L118.5,134.5L119.5,134.7L120.6,135.0L121.6,135.3L122.6,135.6L123.7,135.9L124.7,136.2L125.7,136.4L126.7,136.7L127.8,137.0L128.8,137.2L129.8,137.5L130.9,137.7L131.9,138.0L132.9,138.3L134.0,138.5L135.0,138.8L136.0,139.0L137.1,139.2L138.1,139.5L139.1,139.7L140.1,140.0L141.2,140.2L142.2,140.4L143.2,140.7L144.3,140.9L145.3,141.1L146.3,141.3L147.4,141.6L148.4,141.8L149.4,142.0L150.5,142.2L151.5,142.4L152.5,142.6L153.6,142.9L154.6,143.1L155.6,143.3L156.6,143.5L157.7,143.7L158.7,143.9L159.7,144.1L160.8,144.3L161.8,144.5L162.8,144.7L163.9,144.9L164.9,145.1L165.9,145.3L167.0,145.5L168.0,145.6L169.0,145.8L170.0,146.0L171.1,146.2L172.1,146.4L173.1,146.6L174.2,146.8L175.2,146.9L176.2,147.1L177.3,147.3L178.3,147.5L179.3,147.6L180.4,147.8L181.4,148.0L182.4,148.2L183.5,148.3L184.5,148.5L185.5,148.7L186.5,148.8L187.6,149.0L188.6,149.2L189.6,149.3L190.7,149.5L191.7,149.7L192.7,149.8L193.8,150.0L194.8,150.1L195.8,150.3L196.9,150.5L197.9,150.6L198.9,150.8L199.9,150.9L201.0,151.1L202.0,151.2L203.0,151.4L204.1,151.5L205.1,151.7L206.1,151.8L207.2,152.0L208.2,152.1L209.2,152.3L210.3,152.4L211.3,152.6L212.3,152.7L213.3,152.9L214.4,153.0L215.4,153.2L216.4,153.3L217.5,153.5L218.5,153.6L219.5,153.8L220.6,153.9L221.6,154.1L222.6,154.3L223.7,154.4L224.7,154.6L225.7,154.7L226.8,154.9L227.8,155.0L228.8,155.2L229.8,155.4L230.9,155.5L231.9,155.7L232.9,155.9L234.0,156.1L235.0,156.2L236.0,156.4L237.1,156.6L238.1,156.8L239.1,157.0L240.2,157.2L241.2,157.4L242.2,157.7L243.2,157.9L244.3,158.1L245.3,158.4L246.3,158.7L247.4,158.9L248.4,159.2L249.4,159.5L250.5,159.8L251.5,160.1L252.5,160.5L253.6,160.8L254.6,161.2L255.6,161.5L256.7,161.9L257.7,162.3L258.7,162.8L259.7,163.2L260.8,163.7L261.8,164.1L262.8,164.6L263.9,165.2L264.9,165.7L265.9,166.2L267.0,166.8L268.0,167.4L269.0,168.0L270.1,168.6L271.1,169.2L272.1,169.9L273.1,170.5L274.2,171.2L275.2,171.9L276.2,172.6L277.3,173.3L278.3,174.0L279.3,174.7L280.4,175.5L281.4,176.2L282.4,177.0L283.5,177.7L284.5,178.5L285.5,179.3L286.3,180.1L286.6,64.0L286.8,180.1L287.6,180.9L288.6,181.7L289.6,182.5L290.7,183.3L291.7,184.1L292.7,184.9L293.8,185.7L294.8,186.5L295.8,187.3L296.9,188.2L297.9,189.0L298.9,189.8L300.0,190.6L301.0,191.4L302.0,192.3L303.0,193.1L304.1,193.9L305.1,194.7L306.1,195.5L307.2,196.4L308.2,197.2L309.2,198.0L310.3,198.8L311.3,199.6L312.3,200.4L313.4,201.3L314.4,202.1L315.4,202.9L316.4,203.7L317.5,204.5L318.5,205.3L319.5,206.1L320.6,206.9L321.6,207.7L322.6,208.5L323.3,209.1L323.5,108.6L323.7,209.1L324.7,210.0L325.7,210.8L326.8,211.6L327.8,212.4L328.8,213.2L329.9,214.0L330.9,214.7L331.9,215.5L332.9,216.3L334.0,217.0L335.0,217.8L336.0,218.6L337.1,219.3L338.1,220.1L339.1,220.8L340.2,221.6L341.2,222.3L342.2,223.1L343.3,223.8L344.3,224.6L345.3,225.3L346.3,226.1L347.4,226.8L348.4,227.5L349.4,228.3L350.5,229.0L351.5,229.7L352.5,230.5L353.6,231.2L354.6,231.9L355.6,232.6L356.7,233.4L357.7,234.1L358.7,234.8L359.8,235.5L360.8,236.2L361.8,236.9L362.8,237.6L363.9,238.3L364.9,239.0L365.9,239.7L367.0,240.4L368.0,241.1L369.0,241.8L370.1,242.6L370.3,151.6L370.5,242.6L371.1,243.2L372.1,243.9L373.2,244.6L374.2,245.2L375.2,245.9L376.2,246.6L377.3,247.3L378.3,247.9L379.3,248.6L380.4,249.3L381.4,250.0L382.4,250.6L383.5,251.3L384.5,251.9L385.5,252.6L386.6,253.3L387.6,253.9L388.6,254.6L389.7,255.2L390.7,255.9L391.7,256.5L392.7,257.2L393.8,257.8L394.8,257.9L395.8,257.9L396.9,257.9L397.9,257.9L398.9,257.9L400.0,257.9L401.0,257.9L402.0,257.9L403.1,257.9L404.1,257.9L405.1,257.9L406.1,257.9L407.2,257.9L408.2,257.9L409.2,257.9L410.3,257.9L411.3,257.9L412.3,257.9L413.4,257.9L414.4,257.9L415.4,257.9L416.5,257.9L417.5,257.9L418.5,257.9L419.5,257.9L420.6,257.9L421.6,257.9L422.6,257.9L423.7,257.9L424.7,257.9L425.7,257.9L426.8,257.9L427.8,257.9L428.8,257.9L429.9,257.9L430.9,257.9L431.9,257.9L433.0,257.9L434.0,257.9L435.0,257.9L436.0,257.9L437.1,257.9L438.1,257.9L439.1,257.9L440.2,257.9L441.2,257.9L442.2,257.9L443.3,257.9L444.3,257.9L445.3,257.9L446.4,257.9L447.4,257.9L448.4,257.9L449.4,257.9L450.5,257.9L451.5,257.9L452.5,257.9L453.6,257.9L454.6,257.9L455.6,257.9L456.7,257.9L457.7,257.9L458.7,257.9L459.8,257.9L460.8,257.9L461.8,257.9L462.9,257.9L463.9,257.9L464.9,257.9L465.9,257.9L467.0,257.9L468.0,257.9L469.0,257.9L470.1,257.9L471.1,257.9L472.1,257.9L473.2,257.9L474.2,257.9L475.2,257.9L476.3,257.9L477.3,257.9L478.3,257.9L479.3,257.9L480.4,257.9L481.4,257.9L482.4,257.9L483.5,257.9L484.5,257.9L485.5,257.9L486.6,257.9L487.6,257.9L488.6,257.9L489.7,257.9L490.7,257.9L491.7,257.9L492.8,257.9L493.8,257.9L494.8,257.9L495.8,257.9L496.9,257.9L497.9,257.9L498.9,257.9L500.0,257.9L501.0,257.9L502.0,257.9L503.1,257.9L504.1,257.9L505.1,257.9L506.2,257.9L507.2,257.9L508.2,257.9L509.2,257.9L510.3,257.9L511.3,257.9L512.3,257.9L513.4,257.9L514.4,257.9L515.4,257.9L516.5,257.9L517.5,257.9L518.5,257.9L519.6,257.9L520.6,257.9L521.6,257.9L522.6,257.9L523.7,257.9L524.7,257.9L525.7,257.9L526.8,257.9L527.8,257.9L528.8,257.9L529.9,257.9L530.9,257.9L531.9,257.9L533.0,257.9L534.0,257.9L535.0,257.9L536.1,257.9L537.1,257.9L538.1,257.9L539.1,257.9L540.2,257.9L541.2,257.9L542.1,257.9L543.5,257.9" fill="none" stroke="#d83a0c" stroke-width="2.25" stroke-linejoin="round"/><path d="M29.6,257.9L31.0,257.9L31.9,257.9L32.9,257.9L34.0,257.9L35.0,257.9L36.0,257.9L37.0,257.9L38.1,257.9L39.1,257.9L40.1,257.9L41.2,257.9L42.2,257.9L43.2,257.9L44.3,257.9L45.3,257.9L46.3,257.9L47.4,257.9L48.4,257.9L49.4,257.9L50.5,257.9L51.5,257.9L52.5,257.9L53.5,257.9L54.6,257.9L55.6,257.9L56.6,257.9L57.7,257.9L58.7,257.9L59.7,257.9L60.8,257.9L61.8,257.9L62.8,257.9L63.9,257.9L64.9,257.9L65.9,257.9L66.9,257.9L68.0,257.9L69.0,257.9L70.0,257.9L71.1,257.9L72.1,257.9L73.1,257.9L74.2,257.9L75.2,257.9L76.2,257.9L77.3,257.9L78.3,257.9L79.3,257.9L80.3,257.9L81.4,257.9L82.4,257.9L83.4,257.9L84.5,257.9L85.5,257.9L86.5,257.9L87.6,257.9L88.6,257.9L89.6,257.9L90.7,257.9L91.7,257.9L92.7,257.9L93.8,257.9L94.8,257.9L95.8,257.9L96.8,257.9L97.9,257.9L98.9,257.9L99.9,257.9L101.0,257.9L102.0,257.9L103.0,257.9L104.1,257.9L105.1,257.9L106.1,257.9L107.2,257.9L108.2,257.9L109.2,257.9L110.2,257.9L111.3,257.9L112.3,257.9L113.3,257.9L114.4,257.9L115.4,257.9L116.4,257.9L117.5,257.9L118.5,257.9L119.5,257.9L120.6,257.9L121.6,257.9L122.6,257.9L123.7,257.9L124.7,257.9L125.7,257.9L126.7,257.9L127.8,257.9L128.8,257.9L129.8,257.9L130.9,257.9L131.9,257.9L132.9,257.9L134.0,257.9L135.0,257.9L136.0,257.9L137.1,257.9L138.1,257.9L139.1,257.9L140.1,257.9L141.2,257.9L142.2,257.9L143.2,257.9L144.3,257.9L145.3,257.9L146.3,257.9L147.4,257.9L148.4,257.9L149.4,257.9L150.5,257.9L151.5,257.9L152.5,257.9L153.6,257.9L154.6,257.9L155.6,257.9L156.6,257.9L157.7,257.9L158.7,257.9L159.7,257.9L160.8,257.9L161.8,257.9L162.8,257.9L163.9,257.9L164.9,257.9L165.9,257.9L167.0,257.9L168.0,257.9L169.0,257.9L170.0,257.9L171.1,257.9L172.1,257.9L173.1,257.9L174.2,257.9L175.2,257.9L176.2,257.9L177.3,257.9L178.3,257.9L179.3,257.8L180.4,257.2L181.4,256.5L182.4,255.9L183.5,255.2L184.5,254.6L185.5,253.9L186.5,253.3L187.6,252.6L188.6,251.9L189.6,251.3L190.7,250.6L191.7,250.0L192.7,249.3L193.8,248.6L194.8,247.9L195.8,247.3L196.9,246.6L197.9,245.9L198.9,245.2L199.9,244.6L201.0,243.7L201.2,152.1L201.4,243.7L202.0,243.2L203.0,242.5L204.1,241.8L205.1,241.1L206.1,240.4L207.2,239.7L208.2,239.0L209.2,238.3L210.3,237.6L211.3,236.9L212.3,236.2L213.3,235.5L214.4,234.8L215.4,234.1L216.4,233.4L217.5,232.6L218.5,231.9L219.5,231.2L220.6,230.5L221.6,229.7L222.6,229.0L223.7,228.3L224.7,227.5L225.7,226.8L226.8,226.1L227.8,225.3L228.8,224.6L229.8,223.8L230.9,223.1L231.9,222.3L232.9,221.6L234.0,220.8L235.0,220.1L236.0,219.3L237.1,218.6L238.1,217.8L239.1,217.0L240.2,216.3L241.2,215.5L242.2,214.7L243.2,214.0L244.3,213.2L245.3,212.4L246.3,211.6L247.4,210.8L248.4,210.0L249.2,209.3L249.4,108.6L249.6,209.3L250.5,208.5L251.5,207.7L252.5,206.9L253.6,206.1L254.6,205.3L255.6,204.5L256.7,203.7L257.7,202.9L258.7,202.1L259.7,201.3L260.8,200.4L261.8,199.6L262.8,198.8L263.9,198.0L264.9,197.2L265.9,196.4L267.0,195.5L268.0,194.7L269.0,193.9L270.1,193.1L271.1,192.3L272.1,191.4L273.1,190.6L274.2,189.8L275.2,189.0L276.2,188.2L277.3,187.3L278.3,186.5L279.3,185.7L280.4,184.9L281.4,184.1L282.4,183.3L283.5,182.5L284.5,181.7L285.5,180.9L286.3,180.1L286.6,64.0L286.8,180.1L287.6,179.3L288.6,178.5L289.6,177.7L290.7,177.0L291.7,176.2L292.7,175.5L293.8,174.7L294.8,174.0L295.8,173.3L296.9,172.6L297.9,171.9L298.9,171.2L300.0,170.5L301.0,169.9L302.0,169.2L303.0,168.6L304.1,168.0L305.1,167.4L306.1,166.8L307.2,166.2L308.2,165.7L309.2,165.2L310.3,164.6L311.3,164.1L312.3,163.7L313.4,163.2L314.4,162.8L315.4,162.3L316.4,161.9L317.5,161.5L318.5,161.2L319.5,160.8L320.6,160.5L321.6,160.1L322.6,159.8L323.7,159.5L324.7,159.2L325.7,158.9L326.8,158.7L327.8,158.4L328.8,158.1L329.9,157.9L330.9,157.7L331.9,157.4L332.9,157.2L334.0,157.0L335.0,156.8L336.0,156.6L337.1,156.4L338.1,156.2L339.1,156.1L340.2,155.9L341.2,155.7L342.2,155.5L343.3,155.4L344.3,155.2L345.3,155.0L346.3,154.9L347.4,154.7L348.4,154.6L349.4,154.4L350.5,154.3L351.5,154.1L352.5,153.9L353.6,153.8L354.6,153.6L355.6,153.5L356.7,153.3L357.7,153.2L358.7,153.0L359.8,152.9L360.8,152.7L361.8,152.6L362.8,152.4L363.9,152.3L364.9,152.1L365.9,152.0L367.0,151.8L368.0,151.7L369.0,151.5L370.1,151.4L371.1,151.2L372.1,151.1L373.2,150.9L374.2,150.8L375.2,150.6L376.2,150.5L377.3,150.3L378.3,150.1L379.3,150.0L380.4,149.8L381.4,149.7L382.4,149.5L383.5,149.3L384.5,149.2L385.5,149.0L386.6,148.8L387.6,148.7L388.6,148.5L389.7,148.3L390.7,148.2L391.7,148.0L392.7,147.8L393.8,147.6L394.8,147.5L395.8,147.3L396.9,147.1L397.9,146.9L398.9,146.8L400.0,146.6L401.0,146.4L402.0,146.2L403.1,146.0L404.1,145.8L405.1,145.6L406.1,145.5L407.2,145.3L408.2,145.1L409.2,144.9L410.3,144.7L411.3,144.5L412.3,144.3L413.4,144.1L414.4,143.9L415.4,143.7L416.5,143.5L417.5,143.3L418.5,143.1L419.5,142.9L420.6,142.6L421.6,142.4L422.6,142.2L423.7,142.0L424.7,141.8L425.7,141.6L426.8,141.3L427.8,141.1L428.8,140.9L429.9,140.7L430.9,140.4L431.9,140.2L433.0,140.0L434.0,139.7L435.0,139.5L436.0,139.2L437.1,139.0L438.1,138.8L439.1,138.5L440.2,138.3L441.2,138.0L442.2,137.7L443.3,137.5L444.3,137.2L445.3,137.0L446.4,136.7L447.4,136.4L448.4,136.2L449.4,135.9L450.5,135.6L451.5,135.3L452.5,135.0L453.6,134.7L454.6,134.5L455.6,134.2L456.7,133.9L457.7,133.6L458.7,133.3L459.8,133.0L460.8,132.6L461.8,132.3L462.9,132.0L463.9,131.7L464.9,131.3L465.9,131.0L467.0,130.7L468.0,130.3L469.0,130.0L470.1,129.6L471.1,129.3L472.1,128.9L473.2,128.6L474.2,128.2L475.2,127.8L476.3,127.4L477.3,127.0L478.3,126.6L479.3,126.2L480.4,125.8L481.4,125.4L482.4,125.0L483.5,124.6L484.5,124.1L485.5,123.7L486.6,123.2L487.6,122.8L488.6,122.3L489.7,121.8L490.7,121.3L491.7,120.9L492.8,120.4L493.8,119.8L494.8,119.3L495.8,118.8L496.9,118.2L497.9,117.7L498.9,117.1L500.0,116.5L501.0,115.9L502.0,115.2L503.1,114.6L504.1,113.9L505.1,113.1L506.2,112.4L507.2,111.6L508.2,110.8L509.2,110.0L510.3,109.2L511.3,108.4L512.3,107.5L513.4,106.6L514.4,105.7L515.4,104.7L516.5,103.7L517.5,102.8L518.5,101.8L519.6,100.8L520.6,99.8L521.6,98.7L522.6,97.5L523.7,96.3L524.7,95.0L525.7,93.7L526.8,92.3L527.8,90.9L528.8,89.3L529.9,87.7L530.9,85.9L531.9,83.9L533.0,81.8L534.0,79.5L535.0,76.9L536.1,73.9L537.1,70.4L538.1,66.4L539.1,61.7L540.2,56.0L541.2,50.5L542.1,43.5L543.5,187.0" fill="none" stroke="#eca508" stroke-width="2.15" stroke-linejoin="round"/></g><text x="22.6" y="29.3" text-anchor="end" font-size="13.6">40</text><text x="22.6" y="75.3" text-anchor="end" font-size="13.6">20</text><text x="22.6" y="121.3" text-anchor="end" font-size="13.6">0</text><text x="22.6" y="167.3" text-anchor="end" font-size="13.6">-20</text><text x="22.6" y="213.3" text-anchor="end" font-size="13.6">-40</text><text x="22.6" y="259.3" text-anchor="end" font-size="13.6">-60</text><text x="28.8" y="272.4" text-anchor="middle" font-size="13.6">0</text><text x="131.9" y="272.4" text-anchor="middle" font-size="13.6">50</text><text x="235.0" y="272.4" text-anchor="middle" font-size="13.6">100</text><text x="338.1" y="272.4" text-anchor="middle" font-size="13.6">150</text><text x="441.2" y="272.4" text-anchor="middle" font-size="13.6">200</text><text x="544.3" y="272.4" text-anchor="middle" font-size="13.6">250</text><text x="281.7" y="291" text-anchor="middle" font-size="13.6">Frequency (Hz)</text><text x="286.1" y="17.3" text-anchor="middle" font-size="15.2" font-weight="bold">Frequency Response</text><text x="5.8" y="10.6" font-size="14" font-weight="bold">A</text><rect x="382.5" y="32.5" width="152.7" height="66.5" fill="#fff" stroke="#a6a6a6" stroke-width="1"/><line x1="387.2" y1="42.6" x2="421.3" y2="42.6" stroke="#0070c0" stroke-width="3.1"/><line x1="387.2" y1="58.1" x2="421.3" y2="58.1" stroke="#d6d6d6" stroke-width="1" stroke-dasharray="11.5,7"/><line x1="387.2" y1="73.8" x2="421.3" y2="73.8" stroke="#d83a0c" stroke-width="2"/><line x1="387.2" y1="89.5" x2="421.3" y2="89.5" stroke="#eca508" stroke-width="2"/><text x="425.8" y="46.1" font-size="12.4">Signal</text><text x="425.8" y="61.6" font-size="12.4">Nyquist Frequency</text><text x="425.8" y="77.3" font-size="12.4">Filter Resp</text><text x="425.8" y="93.0" font-size="12.4">Aliased Filter</text><path d="M46.7,303.2V533.4" fill="none" stroke="#d8d0c8" stroke-width="0.8"/><path d="M47.1,303.8H205.7V533.0H47.1" fill="none" stroke="#1a0e70" stroke-opacity="0.75" stroke-width="1.2"/><path d="M47.1,501.2h2.2M47.1,463.6h2.2M47.1,425.9h2.2M47.1,388.3h2.2M47.1,350.6h2.2M47.1,312.9h2.2M127.0,533.4v-3" stroke="#262626" stroke-width="1" fill="none"/><text x="41.2" y="506.1" text-anchor="end" font-size="13.6">20</text><text x="41.2" y="468.5" text-anchor="end" font-size="13.6">40</text><text x="41.2" y="430.8" text-anchor="end" font-size="13.6">60</text><text x="41.2" y="393.2" text-anchor="end" font-size="13.6">80</text><text x="41.2" y="355.5" text-anchor="end" font-size="13.6">100</text><text x="41.2" y="317.8" text-anchor="end" font-size="13.6">120</text><text x="47.0" y="551.2" text-anchor="middle" font-size="13.6">100</text><text x="127.0" y="551.2" text-anchor="middle" font-size="13.6">110</text><text x="207.0" y="551.2" text-anchor="middle" font-size="13.6">120</text><text x="123" y="569.2" text-anchor="middle" font-size="13.6">Time (sec)</text><text transform="translate(10.9,422.4) rotate(-90)" text-anchor="middle" font-size="13.6">Frequency (Hz)</text><text x="5.8" y="293.6" font-size="14" font-weight="bold">B</text><defs><linearGradient id="cb" x1="0" y1="0" x2="0" y2="1"><stop offset="0.0000" stop-color="#f9fb15"/><stop offset="0.0156" stop-color="#f7f51b"/><stop offset="0.0312" stop-color="#f6ef20"/><stop offset="0.0469" stop-color="#f5e924"/><stop offset="0.0625" stop-color="#f5e327"/><stop offset="0.0781" stop-color="#f7dd2a"/><stop offset="0.0938" stop-color="#f9d62d"/><stop offset="0.1094" stop-color="#fcd030"/><stop offset="0.1250" stop-color="#feca33"/><stop offset="0.1406" stop-color="#fec437"/><stop offset="0.1562" stop-color="#febe3c"/><stop offset="0.1719" stop-color="#f9bb3d"/><stop offset="0.1875" stop-color="#f1ba37"/><stop offset="0.2031" stop-color="#e8bb2f"/><stop offset="0.2188" stop-color="#debc2a"/><stop offset="0.2344" stop-color="#d4bf28"/><stop offset="0.2500" stop-color="#c8c129"/><stop offset="0.2656" stop-color="#bcc42f"/><stop offset="0.2812" stop-color="#afc637"/><stop offset="0.2969" stop-color="#a2c840"/><stop offset="0.3125" stop-color="#94ca4a"/><stop offset="0.3281" stop-color="#85cb55"/><stop offset="0.3438" stop-color="#77cc60"/><stop offset="0.3594" stop-color="#69cd6b"/><stop offset="0.3750" stop-color="#5ccc76"/><stop offset="0.3906" stop-color="#4fcc80"/><stop offset="0.4062" stop-color="#44ca8a"/><stop offset="0.4219" stop-color="#3ac993"/><stop offset="0.4375" stop-color="#34c79c"/><stop offset="0.4531" stop-color="#2ec5a4"/><stop offset="0.4688" stop-color="#28c2ab"/><stop offset="0.4844" stop-color="#1ec0b2"/><stop offset="0.5000" stop-color="#12beb9"/><stop offset="0.5156" stop-color="#07bcc0"/><stop offset="0.5312" stop-color="#01b9c6"/><stop offset="0.5469" stop-color="#04b6cd"/><stop offset="0.5625" stop-color="#0cb3d3"/><stop offset="0.5781" stop-color="#14b0d8"/><stop offset="0.5938" stop-color="#1aacdd"/><stop offset="0.6094" stop-color="#1ea7e1"/><stop offset="0.6250" stop-color="#21a3e3"/><stop offset="0.6406" stop-color="#249ee6"/><stop offset="0.6562" stop-color="#269ae9"/><stop offset="0.6719" stop-color="#2895ec"/><stop offset="0.6875" stop-color="#2c90f0"/><stop offset="0.7031" stop-color="#2d8bf4"/><stop offset="0.7188" stop-color="#2e85f8"/><stop offset="0.7344" stop-color="#3080fa"/><stop offset="0.7500" stop-color="#347afd"/><stop offset="0.7656" stop-color="#3a74fe"/><stop offset="0.7812" stop-color="#3f6efe"/><stop offset="0.7969" stop-color="#4368fe"/><stop offset="0.8125" stop-color="#4562fc"/><stop offset="0.8281" stop-color="#475dfa"/><stop offset="0.8438" stop-color="#4757f7"/><stop offset="0.8594" stop-color="#4852f4"/><stop offset="0.8750" stop-color="#484cef"/><stop offset="0.8906" stop-color="#4746ea"/><stop offset="0.9062" stop-color="#4741e5"/><stop offset="0.9219" stop-color="#463bdd"/><stop offset="0.9375" stop-color="#4536d5"/><stop offset="0.9531" stop-color="#4332ca"/><stop offset="0.9688" stop-color="#422ebf"/><stop offset="0.9844" stop-color="#402ab4"/><stop offset="1.0000" stop-color="#3e26a8"/></linearGradient></defs><rect x="225.2" y="303.2" width="16.0" height="230.4" fill="url(#cb)" stroke="#6f6f8f" stroke-width="0.8"/><path d="M241.2,495.2h-2.5M241.2,456.8h-2.5M241.2,418.4h-2.5M241.2,380.0h-2.5M241.2,341.6h-2.5" stroke="#262626" stroke-width="1" fill="none"/><text x="246" y="538.0" font-size="12.2">20</text><text x="246" y="499.6" font-size="12.2">25</text><text x="246" y="461.2" font-size="12.2">30</text><text x="246" y="422.8" font-size="12.2">35</text><text x="246" y="384.4" font-size="12.2">40</text><text x="246" y="346.0" font-size="12.2">45</text><text x="246" y="307.6" font-size="12.2">50</text><text transform="translate(274.6,402.8) rotate(-90)" text-anchor="middle" font-size="13.6">Power (dB/Hz)</text><text x="293.2" y="318.3" font-size="14" font-weight="bold">C</text><line x1="449.2" y1="305.7" x2="468.1" y2="305.7" stroke="#000" stroke-width="1.7"/><circle cx="459.1" cy="319.9" r="3.2" fill="none" stroke="#d0202a" stroke-width="1.4"/><line x1="449.2" y1="333.1" x2="468.1" y2="333.1" stroke="#6e4420" stroke-width="1.6" stroke-dasharray="7,2,1.5,2"/><line x1="449.2" y1="347.2" x2="468.1" y2="347.2" stroke="#f7941e" stroke-width="1.3"/><text x="471.6" y="309.6" font-size="13.9">stimulation</text><text x="471.6" y="323.4" font-size="13.9">sample point</text><text x="471.6" y="337.2" font-size="13.9">max record amp.</text><text x="471.6" y="351.0" font-size="13.9">amp input volt.</text><line x1="310" y1="418.4" x2="557.3" y2="418.4" stroke="#6e4420" stroke-width="1.6" stroke-dasharray="15,16" stroke-dashoffset="8"/><line x1="310" y1="480.2" x2="557.3" y2="480.2" stroke="#6e4420" stroke-width="1.6" stroke-dasharray="15,16" stroke-dashoffset="8"/><path d="M390.8,369.1H397.4M407.3,369.1H418.0M427.1,369.1H437.9M447.0,369.1H457.7M466.8,369.1H474.3M390.9,369.1V383.2M390.9,395.3V407.9M390.9,419.1V431.7M390.9,442.8V455.4M390.9,466.5V479.1M390.9,490.2V502.8M390.9,514.0V520.9M473.5,369.1V376.3M473.5,388.2V401.0M473.5,413.4V425.9M473.5,438.6V451.2M473.5,463.8V476.4M473.5,489.0V501.6M473.5,514.3V521.1" stroke="#1a78c8" stroke-width="1.6" fill="none"/><path d="M307.5,448.5H394.3V396.9H404.6L406,501.6L406.6,502.0L407.6,499.1L408.6,496.4L409.6,493.9L410.6,491.4L411.6,489.1L412.6,487.0L413.6,484.9L414.6,482.9L415.6,481.0L416.6,479.3L417.6,477.6L418.6,476.0L419.6,474.5L420.6,473.1L421.6,471.7L422.6,470.4L423.6,469.2L424.6,468.1L425.6,467.0L426.6,465.9L427.6,464.9L428.6,464.0L429.6,463.1L430.6,462.3L431.6,461.5L432.6,460.7L433.6,460.0L434.6,459.3L435.6,458.7L436.6,458.1L437.6,457.5L438.6,457.0L439.6,456.4L440.6,455.9L441.6,455.5L442.6,455.0L443.6,454.6L444.6,454.2L445.6,453.8L446.6,453.5L447.6,453.1L448.6,452.8L449.6,452.5L450.6,452.2L451.6,452.0L452.6,451.7L453.6,451.4L454.6,451.2L455.6,451.0L456.6,450.8L457.6,450.6L458.6,450.4L459.6,450.2L460.6,450.0L461.6,449.9L462.6,449.7L463.6,449.6L464.6,449.4L465.6,449.3L466.6,449.2L467.6,449.1L468.6,449.0L469.6,448.9L470.6,448.8L471.6,448.7L472.6,448.6L473.6,448.5L557,448.5" stroke="#000" stroke-width="2.3" fill="none" stroke-linejoin="round"/><path d="M307.5,448.5L308.5,448.8L309.2,449.9L309.9,446.9L310.6,450.0L311.3,448.5L312.0,447.8L312.7,447.8L313.4,447.5L314.1,448.3L314.8,449.3L315.5,449.0L316.2,449.1L316.9,448.8L317.6,447.1L318.3,449.9L319.0,449.4L319.7,450.5L320.4,449.6L321.1,449.3L321.8,449.7L322.5,449.1L323.2,448.7L323.9,447.8L324.6,451.0L325.3,448.4L326.0,449.3L326.7,448.6L327.4,449.9L328.1,447.8L328.8,448.3L329.5,448.9L330.2,447.7L330.9,449.2L331.6,449.4L332.3,449.0L333.0,448.4L333.7,448.9L334.4,447.9L335.1,448.7L335.8,448.0L336.5,448.7L337.2,449.4L337.9,448.2L338.6,445.6L339.3,447.6L340.0,448.2L340.7,447.0L341.4,445.0L342.1,450.7L342.8,448.3L343.5,448.3L344.2,449.7L344.9,449.8L345.6,447.4L346.3,449.6L347.0,446.9L347.7,447.8L348.4,448.3L349.1,448.6L349.8,447.6L350.5,447.8L351.2,448.8L351.9,447.9L352.6,447.9L353.3,449.1L354.0,449.3L354.7,448.4L355.4,448.5L356.1,448.5L356.8,448.1L357.5,448.0L358.2,447.6L358.9,449.1L359.6,448.4L360.3,448.4L361.0,448.7L361.7,449.0L362.4,449.8L363.1,448.3L363.8,448.1L364.5,448.7L365.2,447.7L365.9,449.6L366.6,450.8L367.3,449.1L368.0,448.4L368.7,449.2L369.4,449.4L370.1,448.9L370.8,448.2L371.5,447.0L372.2,449.4L372.9,448.2L373.6,447.7L374.3,449.3L375.0,448.8L375.7,447.2L376.4,448.4L377.1,448.3L377.8,449.4L378.5,446.8L379.2,448.2L379.9,448.4L380.6,454.0L381.3,447.5L382.0,445.9L382.7,447.3L383.4,448.7L384.1,449.2L384.8,450.8L385.5,448.9L386.2,448.9L386.9,449.3L387.6,448.5L388.3,448.3L389.0,448.5L389.7,453.7L390.4,446.8L391.1,448.1L391.8,448.4L392.5,448.4M394.3,448.5H431.8V462.3L432.5,461.8L433.2,460.0L433.9,461.4L434.6,460.6L435.3,459.2L436.0,458.9L436.7,457.1L437.4,455.3L438.1,455.4L438.8,457.2L439.5,456.7L440.2,455.1L440.9,455.4L441.6,458.0L442.3,455.9L443.0,455.5L443.7,454.3L444.4,455.0L445.1,455.3L445.8,454.5L446.5,453.1L447.2,453.6L447.9,453.6L448.6,452.5L449.3,453.2L450.0,451.9L450.7,452.0L451.4,453.4L452.1,450.1L452.8,452.4L453.5,451.2L454.2,450.2L454.9,451.2L455.6,452.9L456.3,449.0L457.0,449.6L457.7,450.2L458.4,450.8L459.1,449.8L459.8,450.2L460.5,450.7L461.2,450.2L461.9,449.5L462.6,451.3L463.3,450.9L464.0,447.2L464.7,450.3L465.4,449.9L466.1,450.2L466.8,451.0L467.5,449.9L468.2,450.8L468.9,450.6L469.6,450.6L470.3,449.8L471.0,449.6L471.7,449.6L472.4,447.5L473.1,450.7L473.8,448.7L474.5,448.8L475.2,448.6L475.9,449.0L476.6,448.5L477.3,448.7L478.0,447.3L478.7,447.6L479.4,446.8L480.1,448.0L480.8,449.1L481.5,448.1L482.2,448.4L482.9,448.4L483.6,447.4L484.3,447.8L485.0,447.0L485.7,448.5L486.4,446.4L487.1,448.1L487.8,449.4L488.5,451.4L489.2,449.6L489.9,449.0L490.6,447.6L491.3,449.4L492.0,449.0L492.7,451.6L493.4,445.8L494.1,448.9L494.8,449.8L495.5,449.2L496.2,448.3L496.9,449.0L497.6,448.5L498.3,448.7L499.0,449.3L499.7,448.8L500.4,448.6L501.1,448.9L501.8,447.7L502.5,447.6L503.2,449.0L503.9,447.9L504.6,449.0L505.3,446.8L506.0,449.6L506.7,448.4L507.4,450.1L508.1,446.2L508.8,446.9L509.5,449.8L510.2,448.7L510.9,448.8L511.6,448.6L512.3,448.7L513.0,449.0L513.7,447.6L514.4,448.3L515.1,449.7L515.8,448.7L516.5,447.9L517.2,445.9L517.9,449.5L518.6,448.3L519.3,448.3L520.0,449.0L520.7,449.3L521.4,449.9L522.1,448.4L522.8,448.8L523.5,449.5L524.2,446.7L524.9,448.6L525.6,448.9L526.3,448.4L527.0,447.7L527.7,449.1L528.4,449.7L529.1,448.4L529.8,448.1L530.5,448.3L531.2,449.9L531.9,449.7L532.6,449.3L533.3,447.5L534.0,447.3L534.7,448.2L535.4,446.2L536.1,448.8L536.8,447.5L537.5,448.4L538.2,449.0L538.9,446.9L539.6,450.7L540.3,449.1L541.0,448.6L541.7,447.3L542.4,447.6L543.1,449.5L543.8,449.4L544.5,446.2L545.2,449.6L545.9,449.2L546.6,449.1L547.3,447.5L548.0,448.8L548.7,448.0L549.4,449.1L550.1,450.3L550.8,449.1L551.5,449.5L552.2,448.2L552.9,447.6L553.6,448.6L554.3,449.5L555.0,449.9L555.7,448.5L556.4,448.8" stroke="#f7941e" stroke-width="1.35" fill="none" stroke-linejoin="round"/><circle cx="307.5" cy="448.5" r="3.2" fill="none" stroke="#d0202a" stroke-width="1.3"/><circle cx="390.7" cy="448.5" r="3.2" fill="none" stroke="#d0202a" stroke-width="1.3"/><circle cx="473.5" cy="448.5" r="3.2" fill="none" stroke="#d0202a" stroke-width="1.3"/><circle cx="556.9" cy="448.5" r="3.2" fill="none" stroke="#d0202a" stroke-width="1.3"/><text x="391.3" y="384.6" font-size="11.7">PW</text><path d="M393.4,389.6V387H405.6V389.6" stroke="#000" stroke-width="1.4" fill="none"/><path d="M392.4,501.4V504.9H432.7V501.4" stroke="#17702f" stroke-width="1.4" fill="none"/><text x="391.3" y="515.2" font-size="11.3" fill="#17702f">blanking</text><text x="393.2" y="539.2" font-size="11.6" fill="#1a78c8">sample interval</text></svg>
</body></html>
